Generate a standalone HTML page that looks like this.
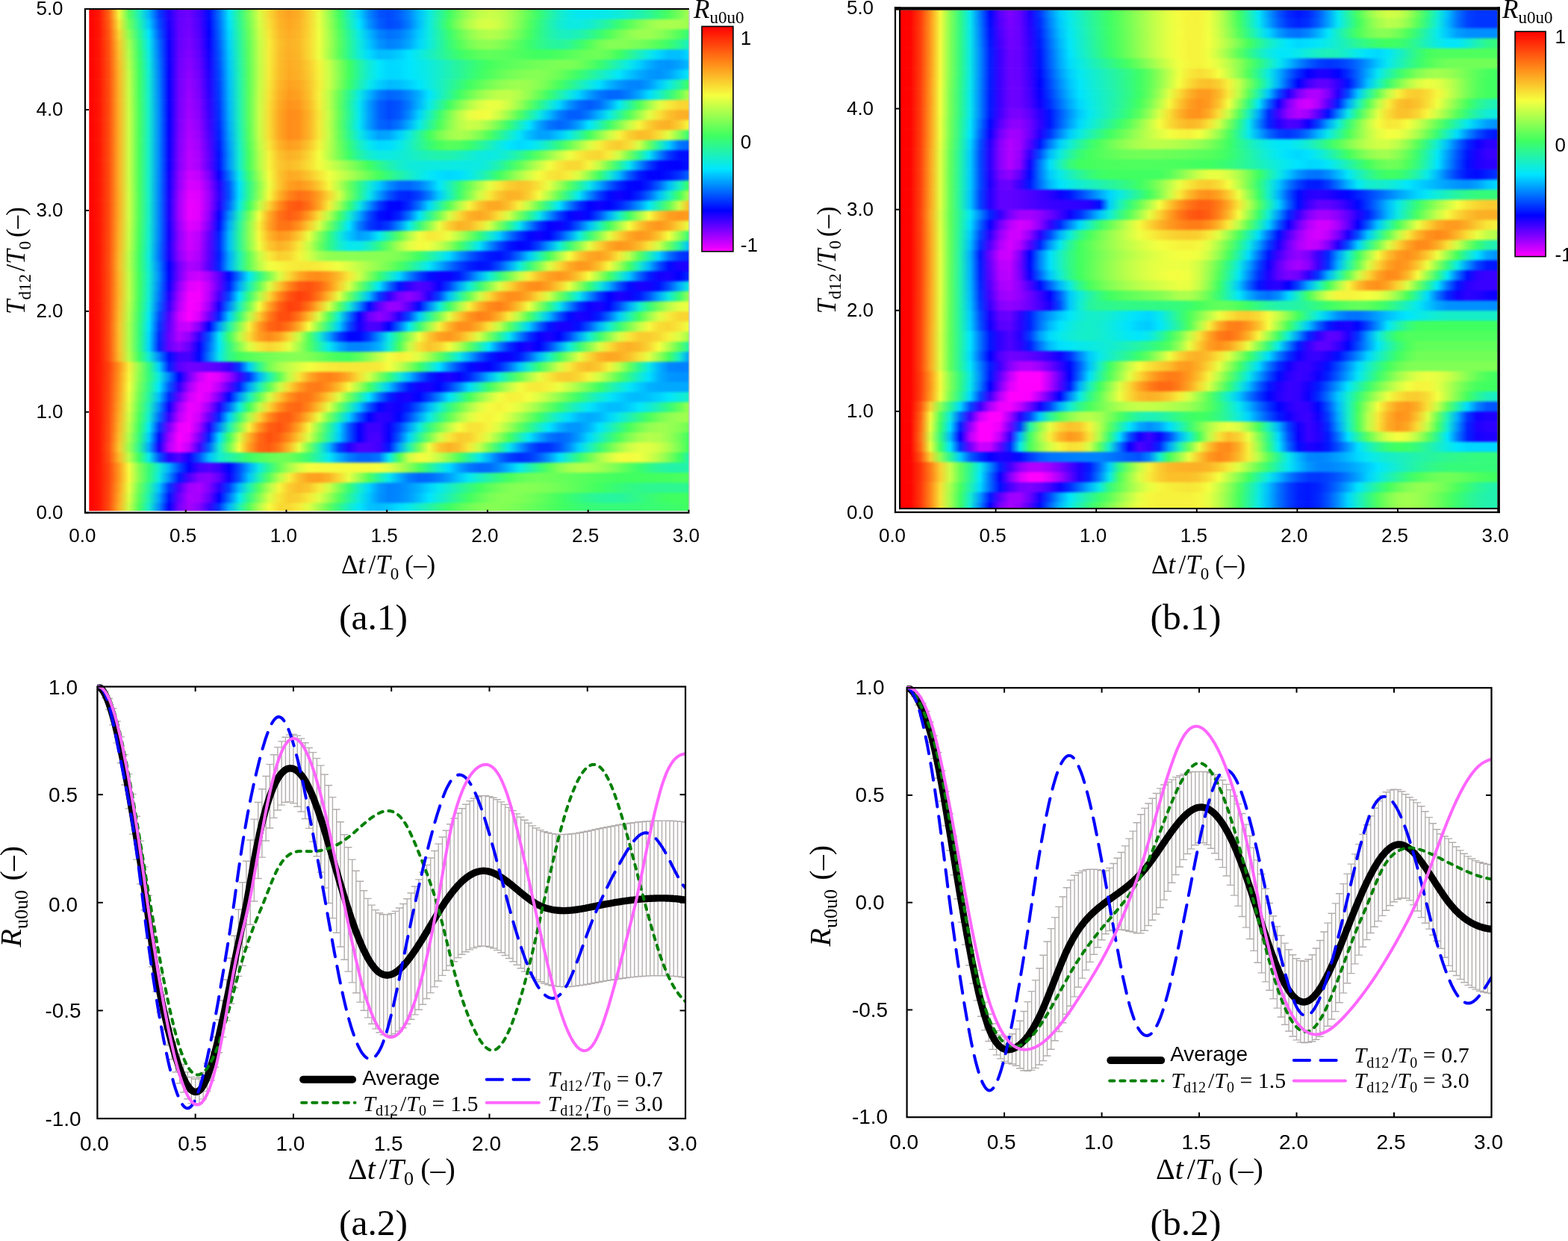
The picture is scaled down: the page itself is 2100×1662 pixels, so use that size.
<!DOCTYPE html>
<html lang="en"><head><meta charset="utf-8"><title>Autocorrelation maps</title>
<style>html,body{margin:0;padding:0;background:#fff;overflow:hidden}svg{display:block}text{fill:#000}</style></head>
<body>
<svg width="2100" height="1662" viewBox="0 0 2100 1662" role="img" aria-label="Autocorrelation maps and curves">
<defs>
<clipPath id="ca"><rect x="119.3" y="13" width="803.3000000000001" height="671.3"/></clipPath>
<filter id="fa" x="-5%" y="-5%" width="110%" height="110%" color-interpolation-filters="sRGB"><feGaussianBlur stdDeviation="0 1.8"/></filter>
<linearGradient id="a0" gradientUnits="userSpaceOnUse" x1="119.3" x2="922.6"><stop offset="0" stop-color="#ff0000"/><stop offset="0.01667" stop-color="#ff1604"/><stop offset="0.03333" stop-color="#ff4e0e"/><stop offset="0.05" stop-color="#fcb125"/><stop offset="0.06667" stop-color="#caff48"/><stop offset="0.08333" stop-color="#4aff5e"/><stop offset="0.1" stop-color="#15edcb"/><stop offset="0.1167" stop-color="#008aff"/><stop offset="0.1333" stop-color="#0300ff"/><stop offset="0.15" stop-color="#7700ff"/><stop offset="0.1667" stop-color="#a400ff"/><stop offset="0.1833" stop-color="#8800ff"/><stop offset="0.2" stop-color="#3900ff"/><stop offset="0.2167" stop-color="#0034ff"/><stop offset="0.2333" stop-color="#00b0ff"/><stop offset="0.25" stop-color="#1bf0bb"/><stop offset="0.2667" stop-color="#52ff5d"/><stop offset="0.2833" stop-color="#b0ff4c"/><stop offset="0.3" stop-color="#f5fc3f"/><stop offset="0.3167" stop-color="#f8da33"/><stop offset="0.3333" stop-color="#f9d833"/><stop offset="0.35" stop-color="#f7ec3a"/><stop offset="0.3667" stop-color="#deff44"/><stop offset="0.3833" stop-color="#a2ff4f"/><stop offset="0.4" stop-color="#5fff5a"/><stop offset="0.4167" stop-color="#31f986"/><stop offset="0.4333" stop-color="#17eec7"/><stop offset="0.45" stop-color="#02e6fb"/><stop offset="0.4667" stop-color="#00c3ff"/><stop offset="0.4833" stop-color="#00bbff"/><stop offset="0.5" stop-color="#00c6ff"/><stop offset="0.5167" stop-color="#00dcff"/><stop offset="0.5333" stop-color="#07e8ed"/><stop offset="0.55" stop-color="#14edcd"/><stop offset="0.5667" stop-color="#22f3ab"/><stop offset="0.5833" stop-color="#30f988"/><stop offset="0.6" stop-color="#3efe66"/><stop offset="0.6167" stop-color="#58ff5c"/><stop offset="0.6333" stop-color="#6fff58"/><stop offset="0.65" stop-color="#7fff55"/><stop offset="0.6667" stop-color="#86ff54"/><stop offset="0.6833" stop-color="#84ff54"/><stop offset="0.7" stop-color="#7eff55"/><stop offset="0.7167" stop-color="#75ff57"/><stop offset="0.7333" stop-color="#69ff59"/><stop offset="0.75" stop-color="#5dff5b"/><stop offset="0.7667" stop-color="#50ff5d"/><stop offset="0.7833" stop-color="#43ff5f"/><stop offset="0.8" stop-color="#3dfe68"/><stop offset="0.8167" stop-color="#39fc71"/><stop offset="0.8333" stop-color="#37fb77"/><stop offset="0.85" stop-color="#36fb79"/><stop offset="0.8667" stop-color="#36fb79"/><stop offset="0.8833" stop-color="#36fb78"/><stop offset="0.9" stop-color="#36fb78"/><stop offset="0.9167" stop-color="#37fb76"/><stop offset="0.9333" stop-color="#38fc74"/><stop offset="0.95" stop-color="#39fc71"/><stop offset="0.9667" stop-color="#3bfd6d"/><stop offset="0.9833" stop-color="#3dfe68"/><stop offset="1" stop-color="#40ff61"/></linearGradient>
<linearGradient id="a1" gradientUnits="userSpaceOnUse" x1="119.3" x2="922.6"><stop offset="0" stop-color="#ff0000"/><stop offset="0.01667" stop-color="#ff1604"/><stop offset="0.03333" stop-color="#ff4b0e"/><stop offset="0.05" stop-color="#fda923"/><stop offset="0.06667" stop-color="#d9ff45"/><stop offset="0.08333" stop-color="#5bff5b"/><stop offset="0.1" stop-color="#1df1b6"/><stop offset="0.1167" stop-color="#00a5ff"/><stop offset="0.1333" stop-color="#0015ff"/><stop offset="0.15" stop-color="#6800ff"/><stop offset="0.1667" stop-color="#ac00ff"/><stop offset="0.1833" stop-color="#a400ff"/><stop offset="0.2" stop-color="#6700ff"/><stop offset="0.2167" stop-color="#0300ff"/><stop offset="0.2333" stop-color="#0070ff"/><stop offset="0.25" stop-color="#04e7f5"/><stop offset="0.2667" stop-color="#31f986"/><stop offset="0.2833" stop-color="#80ff55"/><stop offset="0.3" stop-color="#d7ff45"/><stop offset="0.3167" stop-color="#f7e537"/><stop offset="0.3333" stop-color="#facb2e"/><stop offset="0.35" stop-color="#f9d030"/><stop offset="0.3667" stop-color="#f7e938"/><stop offset="0.3833" stop-color="#deff44"/><stop offset="0.4" stop-color="#9dff50"/><stop offset="0.4167" stop-color="#55ff5c"/><stop offset="0.4333" stop-color="#2af696"/><stop offset="0.45" stop-color="#0eeadd"/><stop offset="0.4667" stop-color="#00c6ff"/><stop offset="0.4833" stop-color="#0095ff"/><stop offset="0.5" stop-color="#0081ff"/><stop offset="0.5167" stop-color="#0088ff"/><stop offset="0.5333" stop-color="#009cff"/><stop offset="0.55" stop-color="#00bdff"/><stop offset="0.5667" stop-color="#00e5ff"/><stop offset="0.5833" stop-color="#10ebd8"/><stop offset="0.6" stop-color="#20f2af"/><stop offset="0.6167" stop-color="#30f987"/><stop offset="0.6333" stop-color="#40ff61"/><stop offset="0.65" stop-color="#5eff5b"/><stop offset="0.6667" stop-color="#76ff57"/><stop offset="0.6833" stop-color="#83ff54"/><stop offset="0.7" stop-color="#85ff54"/><stop offset="0.7167" stop-color="#80ff55"/><stop offset="0.7333" stop-color="#75ff57"/><stop offset="0.75" stop-color="#67ff59"/><stop offset="0.7667" stop-color="#56ff5c"/><stop offset="0.7833" stop-color="#44ff5f"/><stop offset="0.8" stop-color="#3afd6f"/><stop offset="0.8167" stop-color="#33fa80"/><stop offset="0.8333" stop-color="#2df78f"/><stop offset="0.85" stop-color="#29f69a"/><stop offset="0.8667" stop-color="#27f59f"/><stop offset="0.8833" stop-color="#27f59e"/><stop offset="0.9" stop-color="#2bf694"/><stop offset="0.9167" stop-color="#31f986"/><stop offset="0.9333" stop-color="#37fb77"/><stop offset="0.95" stop-color="#3cfd6a"/><stop offset="0.9667" stop-color="#3fff61"/><stop offset="0.9833" stop-color="#40ff60"/><stop offset="1" stop-color="#40ff60"/></linearGradient>
<linearGradient id="a2" gradientUnits="userSpaceOnUse" x1="119.3" x2="922.6"><stop offset="0" stop-color="#ff0000"/><stop offset="0.01667" stop-color="#ff1604"/><stop offset="0.03333" stop-color="#ff490d"/><stop offset="0.05" stop-color="#fda220"/><stop offset="0.06667" stop-color="#e7ff42"/><stop offset="0.08333" stop-color="#6bff58"/><stop offset="0.1" stop-color="#26f4a1"/><stop offset="0.1167" stop-color="#00c4ff"/><stop offset="0.1333" stop-color="#0035ff"/><stop offset="0.15" stop-color="#4c00ff"/><stop offset="0.1667" stop-color="#a000ff"/><stop offset="0.1833" stop-color="#ad00ff"/><stop offset="0.2" stop-color="#8100ff"/><stop offset="0.2167" stop-color="#2d00ff"/><stop offset="0.2333" stop-color="#003fff"/><stop offset="0.25" stop-color="#00b8ff"/><stop offset="0.2667" stop-color="#1cf1b8"/><stop offset="0.2833" stop-color="#53ff5d"/><stop offset="0.3" stop-color="#b1ff4c"/><stop offset="0.3167" stop-color="#f6f73d"/><stop offset="0.3333" stop-color="#facc2f"/><stop offset="0.35" stop-color="#fbbb29"/><stop offset="0.3667" stop-color="#fac72d"/><stop offset="0.3833" stop-color="#f7ea39"/><stop offset="0.4" stop-color="#ceff47"/><stop offset="0.4167" stop-color="#80ff55"/><stop offset="0.4333" stop-color="#38fc74"/><stop offset="0.45" stop-color="#17eec6"/><stop offset="0.4667" stop-color="#00d5ff"/><stop offset="0.4833" stop-color="#009aff"/><stop offset="0.5" stop-color="#0081ff"/><stop offset="0.5167" stop-color="#0086ff"/><stop offset="0.5333" stop-color="#0097ff"/><stop offset="0.55" stop-color="#00b1ff"/><stop offset="0.5667" stop-color="#00d2ff"/><stop offset="0.5833" stop-color="#06e8ef"/><stop offset="0.6" stop-color="#15edcc"/><stop offset="0.6167" stop-color="#23f3a7"/><stop offset="0.6333" stop-color="#32f984"/><stop offset="0.65" stop-color="#3fff63"/><stop offset="0.6667" stop-color="#59ff5b"/><stop offset="0.6833" stop-color="#70ff58"/><stop offset="0.7" stop-color="#7fff55"/><stop offset="0.7167" stop-color="#86ff54"/><stop offset="0.7333" stop-color="#84ff54"/><stop offset="0.75" stop-color="#80ff55"/><stop offset="0.7667" stop-color="#79ff56"/><stop offset="0.7833" stop-color="#6fff58"/><stop offset="0.8" stop-color="#65ff5a"/><stop offset="0.8167" stop-color="#59ff5c"/><stop offset="0.8333" stop-color="#4cff5e"/><stop offset="0.85" stop-color="#40ff61"/><stop offset="0.8667" stop-color="#3bfd6d"/><stop offset="0.8833" stop-color="#36fb79"/><stop offset="0.9" stop-color="#32f983"/><stop offset="0.9167" stop-color="#2ff88a"/><stop offset="0.9333" stop-color="#2df78f"/><stop offset="0.95" stop-color="#2cf791"/><stop offset="0.9667" stop-color="#2cf791"/><stop offset="0.9833" stop-color="#2cf791"/><stop offset="1" stop-color="#2cf791"/></linearGradient>
<linearGradient id="a3" gradientUnits="userSpaceOnUse" x1="119.3" x2="922.6"><stop offset="0" stop-color="#ff0000"/><stop offset="0.01667" stop-color="#ff1704"/><stop offset="0.03333" stop-color="#ff460d"/><stop offset="0.05" stop-color="#fe991d"/><stop offset="0.06667" stop-color="#f6f93e"/><stop offset="0.08333" stop-color="#87ff53"/><stop offset="0.1" stop-color="#35fb7b"/><stop offset="0.1167" stop-color="#0ceae1"/><stop offset="0.1333" stop-color="#008cff"/><stop offset="0.15" stop-color="#0019ff"/><stop offset="0.1667" stop-color="#4b00ff"/><stop offset="0.1833" stop-color="#8700ff"/><stop offset="0.2" stop-color="#8c00ff"/><stop offset="0.2167" stop-color="#6000ff"/><stop offset="0.2333" stop-color="#1000ff"/><stop offset="0.25" stop-color="#0053ff"/><stop offset="0.2667" stop-color="#00c5ff"/><stop offset="0.2833" stop-color="#1ff2b1"/><stop offset="0.3" stop-color="#56ff5c"/><stop offset="0.3167" stop-color="#b5ff4b"/><stop offset="0.3333" stop-color="#f6f13b"/><stop offset="0.35" stop-color="#fbbf2a"/><stop offset="0.3667" stop-color="#fda220"/><stop offset="0.3833" stop-color="#fe9f1f"/><stop offset="0.4" stop-color="#fcb226"/><stop offset="0.4167" stop-color="#f9d833"/><stop offset="0.4333" stop-color="#e7ff43"/><stop offset="0.45" stop-color="#9dff50"/><stop offset="0.4667" stop-color="#4eff5e"/><stop offset="0.4833" stop-color="#25f4a3"/><stop offset="0.5" stop-color="#07e8ee"/><stop offset="0.5167" stop-color="#00afff"/><stop offset="0.5333" stop-color="#007bff"/><stop offset="0.55" stop-color="#0065ff"/><stop offset="0.5667" stop-color="#006aff"/><stop offset="0.5833" stop-color="#007eff"/><stop offset="0.6" stop-color="#009dff"/><stop offset="0.6167" stop-color="#00c5ff"/><stop offset="0.6333" stop-color="#05e7f3"/><stop offset="0.65" stop-color="#15eeca"/><stop offset="0.6667" stop-color="#26f4a2"/><stop offset="0.6833" stop-color="#35fa7c"/><stop offset="0.7" stop-color="#45ff5f"/><stop offset="0.7167" stop-color="#5dff5b"/><stop offset="0.7333" stop-color="#6bff58"/><stop offset="0.75" stop-color="#6eff58"/><stop offset="0.7667" stop-color="#6cff58"/><stop offset="0.7833" stop-color="#67ff59"/><stop offset="0.8" stop-color="#61ff5a"/><stop offset="0.8167" stop-color="#59ff5c"/><stop offset="0.8333" stop-color="#52ff5d"/><stop offset="0.85" stop-color="#4bff5e"/><stop offset="0.8667" stop-color="#45ff5f"/><stop offset="0.8833" stop-color="#41ff60"/><stop offset="0.9" stop-color="#40ff60"/><stop offset="0.9167" stop-color="#40ff60"/><stop offset="0.9333" stop-color="#41ff60"/><stop offset="0.95" stop-color="#43ff60"/><stop offset="0.9667" stop-color="#45ff5f"/><stop offset="0.9833" stop-color="#49ff5e"/><stop offset="1" stop-color="#4eff5e"/></linearGradient>
<linearGradient id="a4" gradientUnits="userSpaceOnUse" x1="119.3" x2="922.6"><stop offset="0" stop-color="#ff0000"/><stop offset="0.01667" stop-color="#ff1704"/><stop offset="0.03333" stop-color="#ff470d"/><stop offset="0.05" stop-color="#fe9b1e"/><stop offset="0.06667" stop-color="#f5fd3f"/><stop offset="0.08333" stop-color="#83ff54"/><stop offset="0.1" stop-color="#36fb78"/><stop offset="0.1167" stop-color="#12ecd2"/><stop offset="0.1333" stop-color="#00b0ff"/><stop offset="0.15" stop-color="#004dff"/><stop offset="0.1667" stop-color="#0400ff"/><stop offset="0.1833" stop-color="#3f00ff"/><stop offset="0.2" stop-color="#5000ff"/><stop offset="0.2167" stop-color="#3700ff"/><stop offset="0.2333" stop-color="#0002ff"/><stop offset="0.25" stop-color="#004cff"/><stop offset="0.2667" stop-color="#00a6ff"/><stop offset="0.2833" stop-color="#0ceae1"/><stop offset="0.3" stop-color="#2ef88d"/><stop offset="0.3167" stop-color="#62ff5a"/><stop offset="0.3333" stop-color="#a4ff4e"/><stop offset="0.35" stop-color="#d7ff45"/><stop offset="0.3667" stop-color="#f5ff40"/><stop offset="0.3833" stop-color="#f5fb3f"/><stop offset="0.4" stop-color="#f5fb3f"/><stop offset="0.4167" stop-color="#f5fb3f"/><stop offset="0.4333" stop-color="#f5fb3f"/><stop offset="0.45" stop-color="#f5fb3f"/><stop offset="0.4667" stop-color="#f5fb3f"/><stop offset="0.4833" stop-color="#f5fe40"/><stop offset="0.5" stop-color="#e1ff44"/><stop offset="0.5167" stop-color="#bbff4a"/><stop offset="0.5333" stop-color="#89ff53"/><stop offset="0.55" stop-color="#50ff5d"/><stop offset="0.5667" stop-color="#2df78e"/><stop offset="0.5833" stop-color="#14edcd"/><stop offset="0.6" stop-color="#00dcff"/><stop offset="0.6167" stop-color="#00a3ff"/><stop offset="0.6333" stop-color="#007aff"/><stop offset="0.65" stop-color="#0066ff"/><stop offset="0.6667" stop-color="#006bff"/><stop offset="0.6833" stop-color="#0088ff"/><stop offset="0.7" stop-color="#00b7ff"/><stop offset="0.7167" stop-color="#05e7f3"/><stop offset="0.7333" stop-color="#1cf0ba"/><stop offset="0.75" stop-color="#33fa80"/><stop offset="0.7667" stop-color="#56ff5c"/><stop offset="0.7833" stop-color="#83ff54"/><stop offset="0.8" stop-color="#a4ff4e"/><stop offset="0.8167" stop-color="#b4ff4c"/><stop offset="0.8333" stop-color="#b1ff4c"/><stop offset="0.85" stop-color="#a3ff4e"/><stop offset="0.8667" stop-color="#8dff52"/><stop offset="0.8833" stop-color="#72ff57"/><stop offset="0.9" stop-color="#54ff5d"/><stop offset="0.9167" stop-color="#3cfd6b"/><stop offset="0.9333" stop-color="#31f986"/><stop offset="0.95" stop-color="#28f59c"/><stop offset="0.9667" stop-color="#23f3a8"/><stop offset="0.9833" stop-color="#22f3a9"/><stop offset="1" stop-color="#22f3a9"/></linearGradient>
<linearGradient id="a5" gradientUnits="userSpaceOnUse" x1="119.3" x2="922.6"><stop offset="0" stop-color="#ff0000"/><stop offset="0.01667" stop-color="#ff1604"/><stop offset="0.03333" stop-color="#ff500e"/><stop offset="0.05" stop-color="#fbb727"/><stop offset="0.06667" stop-color="#bcff4a"/><stop offset="0.08333" stop-color="#3dfe66"/><stop offset="0.1" stop-color="#07e8ed"/><stop offset="0.1167" stop-color="#0056ff"/><stop offset="0.1333" stop-color="#2900ff"/><stop offset="0.15" stop-color="#4e00ff"/><stop offset="0.1667" stop-color="#1400ff"/><stop offset="0.1833" stop-color="#0050ff"/><stop offset="0.2" stop-color="#00bfff"/><stop offset="0.2167" stop-color="#11ecd4"/><stop offset="0.2333" stop-color="#21f3ac"/><stop offset="0.25" stop-color="#2ff889"/><stop offset="0.2667" stop-color="#3cfd6a"/><stop offset="0.2833" stop-color="#50ff5d"/><stop offset="0.3" stop-color="#63ff5a"/><stop offset="0.3167" stop-color="#6dff58"/><stop offset="0.3333" stop-color="#6bff58"/><stop offset="0.35" stop-color="#51ff5d"/><stop offset="0.3667" stop-color="#34fa7d"/><stop offset="0.3833" stop-color="#1df1b7"/><stop offset="0.4" stop-color="#04e7f4"/><stop offset="0.4167" stop-color="#00afff"/><stop offset="0.4333" stop-color="#007dff"/><stop offset="0.45" stop-color="#0065ff"/><stop offset="0.4667" stop-color="#0064ff"/><stop offset="0.4833" stop-color="#0075ff"/><stop offset="0.5" stop-color="#05e7f2"/><stop offset="0.5167" stop-color="#4aff5e"/><stop offset="0.5333" stop-color="#cdff47"/><stop offset="0.55" stop-color="#f5fb3f"/><stop offset="0.5667" stop-color="#eaff42"/><stop offset="0.5833" stop-color="#c3ff49"/><stop offset="0.6" stop-color="#8dff52"/><stop offset="0.6167" stop-color="#4cff5e"/><stop offset="0.6333" stop-color="#27f59d"/><stop offset="0.65" stop-color="#0ae9e7"/><stop offset="0.6667" stop-color="#00b1ff"/><stop offset="0.6833" stop-color="#006eff"/><stop offset="0.7" stop-color="#003fff"/><stop offset="0.7167" stop-color="#002bff"/><stop offset="0.7333" stop-color="#0036ff"/><stop offset="0.75" stop-color="#005bff"/><stop offset="0.7667" stop-color="#0094ff"/><stop offset="0.7833" stop-color="#00dcff"/><stop offset="0.8" stop-color="#19efc2"/><stop offset="0.8167" stop-color="#35fb7b"/><stop offset="0.8333" stop-color="#68ff59"/><stop offset="0.85" stop-color="#a3ff4e"/><stop offset="0.8667" stop-color="#d2ff46"/><stop offset="0.8833" stop-color="#f1ff41"/><stop offset="0.9" stop-color="#f5fb3f"/><stop offset="0.9167" stop-color="#f0ff41"/><stop offset="0.9333" stop-color="#d7ff45"/><stop offset="0.95" stop-color="#b1ff4c"/><stop offset="0.9667" stop-color="#7eff55"/><stop offset="0.9833" stop-color="#41ff60"/><stop offset="1" stop-color="#23f3a7"/></linearGradient>
<linearGradient id="a6" gradientUnits="userSpaceOnUse" x1="119.3" x2="922.6"><stop offset="0" stop-color="#ff0000"/><stop offset="0.01667" stop-color="#ff1604"/><stop offset="0.03333" stop-color="#ff550f"/><stop offset="0.05" stop-color="#fac82d"/><stop offset="0.06667" stop-color="#9aff50"/><stop offset="0.08333" stop-color="#2cf792"/><stop offset="0.1" stop-color="#00a9ff"/><stop offset="0.1167" stop-color="#1600ff"/><stop offset="0.1333" stop-color="#b700ff"/><stop offset="0.15" stop-color="#f100ff"/><stop offset="0.1667" stop-color="#bf00ff"/><stop offset="0.1833" stop-color="#4300ff"/><stop offset="0.2" stop-color="#0060ff"/><stop offset="0.2167" stop-color="#11ecd5"/><stop offset="0.2333" stop-color="#6aff59"/><stop offset="0.25" stop-color="#f5fd3f"/><stop offset="0.2667" stop-color="#fea020"/><stop offset="0.2833" stop-color="#ff6512"/><stop offset="0.3" stop-color="#ff5a10"/><stop offset="0.3167" stop-color="#ff7916"/><stop offset="0.3333" stop-color="#fcb727"/><stop offset="0.35" stop-color="#e9ff42"/><stop offset="0.3667" stop-color="#73ff57"/><stop offset="0.3833" stop-color="#22f3ac"/><stop offset="0.4" stop-color="#00b7ff"/><stop offset="0.4167" stop-color="#003cff"/><stop offset="0.4333" stop-color="#2100ff"/><stop offset="0.45" stop-color="#4f00ff"/><stop offset="0.4667" stop-color="#5100ff"/><stop offset="0.4833" stop-color="#4000ff"/><stop offset="0.5" stop-color="#0019ff"/><stop offset="0.5167" stop-color="#009eff"/><stop offset="0.5333" stop-color="#1ef1b4"/><stop offset="0.55" stop-color="#75ff57"/><stop offset="0.5667" stop-color="#eaff42"/><stop offset="0.5833" stop-color="#fac62d"/><stop offset="0.6" stop-color="#fcb025"/><stop offset="0.6167" stop-color="#fbc02b"/><stop offset="0.6333" stop-color="#f7e938"/><stop offset="0.65" stop-color="#c8ff48"/><stop offset="0.6667" stop-color="#72ff57"/><stop offset="0.6833" stop-color="#2ff88b"/><stop offset="0.7" stop-color="#09e9e8"/><stop offset="0.7167" stop-color="#00a0ff"/><stop offset="0.7333" stop-color="#0057ff"/><stop offset="0.75" stop-color="#002fff"/><stop offset="0.7667" stop-color="#0030ff"/><stop offset="0.7833" stop-color="#0050ff"/><stop offset="0.8" stop-color="#0089ff"/><stop offset="0.8167" stop-color="#00d2ff"/><stop offset="0.8333" stop-color="#16eec9"/><stop offset="0.85" stop-color="#33fa80"/><stop offset="0.8667" stop-color="#64ff5a"/><stop offset="0.8833" stop-color="#9eff4f"/><stop offset="0.9" stop-color="#c9ff48"/><stop offset="0.9167" stop-color="#e1ff44"/><stop offset="0.9333" stop-color="#e0ff44"/><stop offset="0.95" stop-color="#cdff47"/><stop offset="0.9667" stop-color="#aaff4d"/><stop offset="0.9833" stop-color="#7bff56"/><stop offset="1" stop-color="#41ff60"/></linearGradient>
<linearGradient id="a7" gradientUnits="userSpaceOnUse" x1="119.3" x2="922.6"><stop offset="0" stop-color="#ff0000"/><stop offset="0.01667" stop-color="#ff1604"/><stop offset="0.03333" stop-color="#ff510f"/><stop offset="0.05" stop-color="#fbbe2a"/><stop offset="0.06667" stop-color="#adff4d"/><stop offset="0.08333" stop-color="#35fb7b"/><stop offset="0.1" stop-color="#00ccff"/><stop offset="0.1167" stop-color="#000fff"/><stop offset="0.1333" stop-color="#9f00ff"/><stop offset="0.15" stop-color="#fa00ff"/><stop offset="0.1667" stop-color="#e400ff"/><stop offset="0.1833" stop-color="#7a00ff"/><stop offset="0.2" stop-color="#0026ff"/><stop offset="0.2167" stop-color="#00dbff"/><stop offset="0.2333" stop-color="#3efe64"/><stop offset="0.25" stop-color="#d3ff46"/><stop offset="0.2667" stop-color="#fcb426"/><stop offset="0.2833" stop-color="#ff6c13"/><stop offset="0.3" stop-color="#ff500e"/><stop offset="0.3167" stop-color="#ff6011"/><stop offset="0.3333" stop-color="#ff8c19"/><stop offset="0.35" stop-color="#facb2e"/><stop offset="0.3667" stop-color="#d6ff46"/><stop offset="0.3833" stop-color="#6aff58"/><stop offset="0.4" stop-color="#24f3a7"/><stop offset="0.4167" stop-color="#00ccff"/><stop offset="0.4333" stop-color="#0059ff"/><stop offset="0.45" stop-color="#0100ff"/><stop offset="0.4667" stop-color="#4400ff"/><stop offset="0.4833" stop-color="#4500ff"/><stop offset="0.5" stop-color="#0500ff"/><stop offset="0.5167" stop-color="#005bff"/><stop offset="0.5333" stop-color="#00d4ff"/><stop offset="0.55" stop-color="#27f59e"/><stop offset="0.5667" stop-color="#6fff58"/><stop offset="0.5833" stop-color="#ccff47"/><stop offset="0.6" stop-color="#f7e838"/><stop offset="0.6167" stop-color="#facc2e"/><stop offset="0.6333" stop-color="#f9d030"/><stop offset="0.65" stop-color="#f7eb39"/><stop offset="0.6667" stop-color="#d8ff45"/><stop offset="0.6833" stop-color="#93ff51"/><stop offset="0.7" stop-color="#46ff5f"/><stop offset="0.7167" stop-color="#22f3aa"/><stop offset="0.7333" stop-color="#04e7f5"/><stop offset="0.75" stop-color="#00a8ff"/><stop offset="0.7667" stop-color="#0076ff"/><stop offset="0.7833" stop-color="#0064ff"/><stop offset="0.8" stop-color="#0074ff"/><stop offset="0.8167" stop-color="#009dff"/><stop offset="0.8333" stop-color="#00d8ff"/><stop offset="0.85" stop-color="#14edce"/><stop offset="0.8667" stop-color="#2df78f"/><stop offset="0.8833" stop-color="#4dff5e"/><stop offset="0.9" stop-color="#7fff55"/><stop offset="0.9167" stop-color="#a3ff4e"/><stop offset="0.9333" stop-color="#b4ff4c"/><stop offset="0.95" stop-color="#aeff4d"/><stop offset="0.9667" stop-color="#96ff51"/><stop offset="0.9833" stop-color="#71ff57"/><stop offset="1" stop-color="#41ff60"/></linearGradient>
<linearGradient id="a8" gradientUnits="userSpaceOnUse" x1="119.3" x2="922.6"><stop offset="0" stop-color="#ff0000"/><stop offset="0.01667" stop-color="#ff1604"/><stop offset="0.03333" stop-color="#ff4f0e"/><stop offset="0.05" stop-color="#fcb527"/><stop offset="0.06667" stop-color="#bfff4a"/><stop offset="0.08333" stop-color="#3dfe67"/><stop offset="0.1" stop-color="#04e7f5"/><stop offset="0.1167" stop-color="#0038ff"/><stop offset="0.1333" stop-color="#7800ff"/><stop offset="0.15" stop-color="#eb00ff"/><stop offset="0.1667" stop-color="#f600ff"/><stop offset="0.1833" stop-color="#aa00ff"/><stop offset="0.2" stop-color="#2200ff"/><stop offset="0.2167" stop-color="#0082ff"/><stop offset="0.2333" stop-color="#1bf0bb"/><stop offset="0.25" stop-color="#7dff55"/><stop offset="0.2667" stop-color="#f6f23b"/><stop offset="0.2833" stop-color="#fe991d"/><stop offset="0.3" stop-color="#ff5f11"/><stop offset="0.3167" stop-color="#ff510f"/><stop offset="0.3333" stop-color="#ff6d14"/><stop offset="0.35" stop-color="#fda822"/><stop offset="0.3667" stop-color="#f6f73d"/><stop offset="0.3833" stop-color="#8bff53"/><stop offset="0.4" stop-color="#2df790"/><stop offset="0.4167" stop-color="#00d7ff"/><stop offset="0.4333" stop-color="#0059ff"/><stop offset="0.45" stop-color="#0600ff"/><stop offset="0.4667" stop-color="#3e00ff"/><stop offset="0.4833" stop-color="#3b00ff"/><stop offset="0.5" stop-color="#0c00ff"/><stop offset="0.5167" stop-color="#003eff"/><stop offset="0.5333" stop-color="#009bff"/><stop offset="0.55" stop-color="#0be9e4"/><stop offset="0.5667" stop-color="#31f986"/><stop offset="0.5833" stop-color="#71ff57"/><stop offset="0.6" stop-color="#bcff4a"/><stop offset="0.6167" stop-color="#f5fe40"/><stop offset="0.6333" stop-color="#f7e437"/><stop offset="0.65" stop-color="#f8e336"/><stop offset="0.6667" stop-color="#f6f53d"/><stop offset="0.6833" stop-color="#d8ff45"/><stop offset="0.7" stop-color="#a1ff4f"/><stop offset="0.7167" stop-color="#62ff5a"/><stop offset="0.7333" stop-color="#33fa81"/><stop offset="0.75" stop-color="#18efc3"/><stop offset="0.7667" stop-color="#01e5fd"/><stop offset="0.7833" stop-color="#00b4ff"/><stop offset="0.8" stop-color="#0096ff"/><stop offset="0.8167" stop-color="#0096ff"/><stop offset="0.8333" stop-color="#00b2ff"/><stop offset="0.85" stop-color="#00e3ff"/><stop offset="0.8667" stop-color="#14edcc"/><stop offset="0.8833" stop-color="#2cf793"/><stop offset="0.9" stop-color="#45ff5f"/><stop offset="0.9167" stop-color="#72ff57"/><stop offset="0.9333" stop-color="#92ff52"/><stop offset="0.95" stop-color="#9dff50"/><stop offset="0.9667" stop-color="#97ff51"/><stop offset="0.9833" stop-color="#88ff53"/><stop offset="1" stop-color="#6fff58"/></linearGradient>
<linearGradient id="a9" gradientUnits="userSpaceOnUse" x1="119.3" x2="922.6"><stop offset="0" stop-color="#ff0000"/><stop offset="0.01667" stop-color="#ff1604"/><stop offset="0.03333" stop-color="#ff4d0e"/><stop offset="0.05" stop-color="#fcae24"/><stop offset="0.06667" stop-color="#cdff47"/><stop offset="0.08333" stop-color="#4bff5e"/><stop offset="0.1" stop-color="#11ecd4"/><stop offset="0.1167" stop-color="#006dff"/><stop offset="0.1333" stop-color="#3800ff"/><stop offset="0.15" stop-color="#bd00ff"/><stop offset="0.1667" stop-color="#f100ff"/><stop offset="0.1833" stop-color="#cc00ff"/><stop offset="0.2" stop-color="#6600ff"/><stop offset="0.2167" stop-color="#002bff"/><stop offset="0.2333" stop-color="#00cdff"/><stop offset="0.25" stop-color="#33fa81"/><stop offset="0.2667" stop-color="#abff4d"/><stop offset="0.2833" stop-color="#f9d833"/><stop offset="0.3" stop-color="#ff8c19"/><stop offset="0.3167" stop-color="#ff5f11"/><stop offset="0.3333" stop-color="#ff5c11"/><stop offset="0.35" stop-color="#ff7e17"/><stop offset="0.3667" stop-color="#fbba28"/><stop offset="0.3833" stop-color="#e8ff42"/><stop offset="0.4" stop-color="#78ff56"/><stop offset="0.4167" stop-color="#27f59e"/><stop offset="0.4333" stop-color="#00cfff"/><stop offset="0.45" stop-color="#005aff"/><stop offset="0.4667" stop-color="#0003ff"/><stop offset="0.4833" stop-color="#2d00ff"/><stop offset="0.5" stop-color="#2700ff"/><stop offset="0.5167" stop-color="#0005ff"/><stop offset="0.5333" stop-color="#0047ff"/><stop offset="0.55" stop-color="#009cff"/><stop offset="0.5667" stop-color="#08e8eb"/><stop offset="0.5833" stop-color="#2af696"/><stop offset="0.6" stop-color="#5bff5b"/><stop offset="0.6167" stop-color="#a1ff4f"/><stop offset="0.6333" stop-color="#d9ff45"/><stop offset="0.65" stop-color="#f5fa3e"/><stop offset="0.6667" stop-color="#f6f43c"/><stop offset="0.6833" stop-color="#f4ff40"/><stop offset="0.7" stop-color="#d4ff46"/><stop offset="0.7167" stop-color="#a7ff4e"/><stop offset="0.7333" stop-color="#71ff57"/><stop offset="0.75" stop-color="#3dfe68"/><stop offset="0.7667" stop-color="#25f4a4"/><stop offset="0.7833" stop-color="#0febda"/><stop offset="0.8" stop-color="#00dcff"/><stop offset="0.8167" stop-color="#00b7ff"/><stop offset="0.8333" stop-color="#00a9ff"/><stop offset="0.85" stop-color="#00b4ff"/><stop offset="0.8667" stop-color="#00d3ff"/><stop offset="0.8833" stop-color="#0ae9e7"/><stop offset="0.9" stop-color="#1cf0b9"/><stop offset="0.9167" stop-color="#30f987"/><stop offset="0.9333" stop-color="#49ff5e"/><stop offset="0.95" stop-color="#71ff57"/><stop offset="0.9667" stop-color="#8eff52"/><stop offset="0.9833" stop-color="#9cff50"/><stop offset="1" stop-color="#9dff50"/></linearGradient>
<linearGradient id="a10" gradientUnits="userSpaceOnUse" x1="119.3" x2="922.6"><stop offset="0" stop-color="#ff0000"/><stop offset="0.01667" stop-color="#ff1604"/><stop offset="0.03333" stop-color="#ff4b0d"/><stop offset="0.05" stop-color="#fda722"/><stop offset="0.06667" stop-color="#dcff44"/><stop offset="0.08333" stop-color="#5cff5b"/><stop offset="0.1" stop-color="#1bf0bc"/><stop offset="0.1167" stop-color="#0091ff"/><stop offset="0.1333" stop-color="#1000ff"/><stop offset="0.15" stop-color="#a000ff"/><stop offset="0.1667" stop-color="#ec00ff"/><stop offset="0.1833" stop-color="#e200ff"/><stop offset="0.2" stop-color="#9a00ff"/><stop offset="0.2167" stop-color="#2400ff"/><stop offset="0.2333" stop-color="#0067ff"/><stop offset="0.25" stop-color="#09e9e8"/><stop offset="0.2667" stop-color="#3fff61"/><stop offset="0.2833" stop-color="#baff4a"/><stop offset="0.3" stop-color="#f9d732"/><stop offset="0.3167" stop-color="#ff941b"/><stop offset="0.3333" stop-color="#ff6b13"/><stop offset="0.35" stop-color="#ff6612"/><stop offset="0.3667" stop-color="#ff8718"/><stop offset="0.3833" stop-color="#fac22b"/><stop offset="0.4" stop-color="#dfff44"/><stop offset="0.4167" stop-color="#6fff58"/><stop offset="0.4333" stop-color="#23f3a7"/><stop offset="0.45" stop-color="#00c7ff"/><stop offset="0.4667" stop-color="#0056ff"/><stop offset="0.4833" stop-color="#0007ff"/><stop offset="0.5" stop-color="#1d00ff"/><stop offset="0.5167" stop-color="#0e00ff"/><stop offset="0.5333" stop-color="#001fff"/><stop offset="0.55" stop-color="#0061ff"/><stop offset="0.5667" stop-color="#00b4ff"/><stop offset="0.5833" stop-color="#0febdb"/><stop offset="0.6" stop-color="#2ff88a"/><stop offset="0.6167" stop-color="#62ff5a"/><stop offset="0.6333" stop-color="#a4ff4e"/><stop offset="0.65" stop-color="#d9ff45"/><stop offset="0.6667" stop-color="#f5fb3f"/><stop offset="0.6833" stop-color="#f6f33c"/><stop offset="0.7" stop-color="#f5fc3f"/><stop offset="0.7167" stop-color="#e0ff44"/><stop offset="0.7333" stop-color="#bdff4a"/><stop offset="0.75" stop-color="#92ff52"/><stop offset="0.7667" stop-color="#62ff5a"/><stop offset="0.7833" stop-color="#39fc71"/><stop offset="0.8" stop-color="#25f4a3"/><stop offset="0.8167" stop-color="#12ecd1"/><stop offset="0.8333" stop-color="#03e6f8"/><stop offset="0.85" stop-color="#00ccff"/><stop offset="0.8667" stop-color="#00bcff"/><stop offset="0.8833" stop-color="#00bdff"/><stop offset="0.9" stop-color="#00cdff"/><stop offset="0.9167" stop-color="#02e6fb"/><stop offset="0.9333" stop-color="#0febd9"/><stop offset="0.95" stop-color="#21f2ae"/><stop offset="0.9667" stop-color="#35fb7b"/><stop offset="0.9833" stop-color="#5eff5b"/><stop offset="1" stop-color="#9bff50"/></linearGradient>
<linearGradient id="a11" gradientUnits="userSpaceOnUse" x1="119.3" x2="922.6"><stop offset="0" stop-color="#ff0000"/><stop offset="0.01667" stop-color="#ff1604"/><stop offset="0.03333" stop-color="#ff490d"/><stop offset="0.05" stop-color="#fda120"/><stop offset="0.06667" stop-color="#e8ff42"/><stop offset="0.08333" stop-color="#6cff58"/><stop offset="0.1" stop-color="#25f4a3"/><stop offset="0.1167" stop-color="#00beff"/><stop offset="0.1333" stop-color="#0028ff"/><stop offset="0.15" stop-color="#6700ff"/><stop offset="0.1667" stop-color="#ce00ff"/><stop offset="0.1833" stop-color="#f100ff"/><stop offset="0.2" stop-color="#cf00ff"/><stop offset="0.2167" stop-color="#7700ff"/><stop offset="0.2333" stop-color="#0008ff"/><stop offset="0.25" stop-color="#0092ff"/><stop offset="0.2667" stop-color="#17eec5"/><stop offset="0.2833" stop-color="#5cff5b"/><stop offset="0.3" stop-color="#d0ff46"/><stop offset="0.3167" stop-color="#facc2f"/><stop offset="0.3333" stop-color="#ff911a"/><stop offset="0.35" stop-color="#ff7215"/><stop offset="0.3667" stop-color="#ff7515"/><stop offset="0.3833" stop-color="#fe971c"/><stop offset="0.4" stop-color="#f9ce2f"/><stop offset="0.4167" stop-color="#d9ff45"/><stop offset="0.4333" stop-color="#74ff57"/><stop offset="0.45" stop-color="#2af697"/><stop offset="0.4667" stop-color="#00e4ff"/><stop offset="0.4833" stop-color="#0076ff"/><stop offset="0.5" stop-color="#0022ff"/><stop offset="0.5167" stop-color="#1300ff"/><stop offset="0.5333" stop-color="#1a00ff"/><stop offset="0.55" stop-color="#0005ff"/><stop offset="0.5667" stop-color="#003cff"/><stop offset="0.5833" stop-color="#0087ff"/><stop offset="0.6" stop-color="#00e0ff"/><stop offset="0.6167" stop-color="#1ff1b3"/><stop offset="0.6333" stop-color="#3fff62"/><stop offset="0.65" stop-color="#86ff54"/><stop offset="0.6667" stop-color="#c3ff49"/><stop offset="0.6833" stop-color="#efff41"/><stop offset="0.7" stop-color="#f6f13b"/><stop offset="0.7167" stop-color="#f6f23b"/><stop offset="0.7333" stop-color="#f5fe40"/><stop offset="0.75" stop-color="#dbff45"/><stop offset="0.7667" stop-color="#b7ff4b"/><stop offset="0.7833" stop-color="#8dff52"/><stop offset="0.8" stop-color="#5fff5b"/><stop offset="0.8167" stop-color="#39fc71"/><stop offset="0.8333" stop-color="#26f4a1"/><stop offset="0.85" stop-color="#14edcd"/><stop offset="0.8667" stop-color="#05e7f3"/><stop offset="0.8833" stop-color="#00d2ff"/><stop offset="0.9" stop-color="#00beff"/><stop offset="0.9167" stop-color="#00bbff"/><stop offset="0.9333" stop-color="#00c2ff"/><stop offset="0.95" stop-color="#00d2ff"/><stop offset="0.9667" stop-color="#02e6fb"/><stop offset="0.9833" stop-color="#0ceae2"/><stop offset="1" stop-color="#18efc3"/></linearGradient>
<linearGradient id="a12" gradientUnits="userSpaceOnUse" x1="119.3" x2="922.6"><stop offset="0" stop-color="#ff0000"/><stop offset="0.01667" stop-color="#ff1604"/><stop offset="0.03333" stop-color="#ff470d"/><stop offset="0.05" stop-color="#fe9c1e"/><stop offset="0.06667" stop-color="#f4ff40"/><stop offset="0.08333" stop-color="#7aff56"/><stop offset="0.1" stop-color="#2ef88e"/><stop offset="0.1167" stop-color="#00e4ff"/><stop offset="0.1333" stop-color="#0058ff"/><stop offset="0.15" stop-color="#2f00ff"/><stop offset="0.1667" stop-color="#a300ff"/><stop offset="0.1833" stop-color="#e700ff"/><stop offset="0.2" stop-color="#ec00ff"/><stop offset="0.2167" stop-color="#b900ff"/><stop offset="0.2333" stop-color="#5c00ff"/><stop offset="0.25" stop-color="#001eff"/><stop offset="0.2667" stop-color="#00a2ff"/><stop offset="0.2833" stop-color="#1aefbf"/><stop offset="0.3" stop-color="#59ff5c"/><stop offset="0.3167" stop-color="#c6ff48"/><stop offset="0.3333" stop-color="#f8d933"/><stop offset="0.35" stop-color="#fe9f1f"/><stop offset="0.3667" stop-color="#ff7d17"/><stop offset="0.3833" stop-color="#ff7916"/><stop offset="0.4" stop-color="#ff911a"/><stop offset="0.4167" stop-color="#fbbd29"/><stop offset="0.4333" stop-color="#f6f83e"/><stop offset="0.45" stop-color="#a5ff4e"/><stop offset="0.4667" stop-color="#46ff5f"/><stop offset="0.4833" stop-color="#1af0be"/><stop offset="0.5" stop-color="#00c3ff"/><stop offset="0.5167" stop-color="#0063ff"/><stop offset="0.5333" stop-color="#0019ff"/><stop offset="0.55" stop-color="#1400ff"/><stop offset="0.5667" stop-color="#1a00ff"/><stop offset="0.5833" stop-color="#0004ff"/><stop offset="0.6" stop-color="#0039ff"/><stop offset="0.6167" stop-color="#0082ff"/><stop offset="0.6333" stop-color="#00d9ff"/><stop offset="0.65" stop-color="#1cf0ba"/><stop offset="0.6667" stop-color="#3cfd6a"/><stop offset="0.6833" stop-color="#7fff55"/><stop offset="0.7" stop-color="#beff4a"/><stop offset="0.7167" stop-color="#efff41"/><stop offset="0.7333" stop-color="#f7ed3a"/><stop offset="0.75" stop-color="#f7e938"/><stop offset="0.7667" stop-color="#f6f33c"/><stop offset="0.7833" stop-color="#ebff42"/><stop offset="0.8" stop-color="#c8ff48"/><stop offset="0.8167" stop-color="#9dff50"/><stop offset="0.8333" stop-color="#6dff58"/><stop offset="0.85" stop-color="#3efe65"/><stop offset="0.8667" stop-color="#29f699"/><stop offset="0.8833" stop-color="#16eec9"/><stop offset="0.9" stop-color="#05e7f3"/><stop offset="0.9167" stop-color="#00ccff"/><stop offset="0.9333" stop-color="#00b2ff"/><stop offset="0.95" stop-color="#00a9ff"/><stop offset="0.9667" stop-color="#00a9ff"/><stop offset="0.9833" stop-color="#00a9ff"/><stop offset="1" stop-color="#00a9ff"/></linearGradient>
<linearGradient id="a13" gradientUnits="userSpaceOnUse" x1="119.3" x2="922.6"><stop offset="0" stop-color="#ff0000"/><stop offset="0.01667" stop-color="#ff1704"/><stop offset="0.03333" stop-color="#ff460d"/><stop offset="0.05" stop-color="#fe981d"/><stop offset="0.06667" stop-color="#f6f73d"/><stop offset="0.08333" stop-color="#88ff53"/><stop offset="0.1" stop-color="#35fa7c"/><stop offset="0.1167" stop-color="#0be9e4"/><stop offset="0.1333" stop-color="#0082ff"/><stop offset="0.15" stop-color="#0004ff"/><stop offset="0.1667" stop-color="#7300ff"/><stop offset="0.1833" stop-color="#ca00ff"/><stop offset="0.2" stop-color="#f100ff"/><stop offset="0.2167" stop-color="#e000ff"/><stop offset="0.2333" stop-color="#a300ff"/><stop offset="0.25" stop-color="#4300ff"/><stop offset="0.2667" stop-color="#0033ff"/><stop offset="0.2833" stop-color="#00b0ff"/><stop offset="0.3" stop-color="#1cf0ba"/><stop offset="0.3167" stop-color="#56ff5c"/><stop offset="0.3333" stop-color="#bdff4a"/><stop offset="0.35" stop-color="#f7e537"/><stop offset="0.3667" stop-color="#fcac24"/><stop offset="0.3833" stop-color="#ff8919"/><stop offset="0.4" stop-color="#ff7f17"/><stop offset="0.4167" stop-color="#ff8e1a"/><stop offset="0.4333" stop-color="#fcaf25"/><stop offset="0.45" stop-color="#f8de35"/><stop offset="0.4667" stop-color="#d4ff46"/><stop offset="0.4833" stop-color="#82ff54"/><stop offset="0.5" stop-color="#38fc75"/><stop offset="0.5167" stop-color="#14edcf"/><stop offset="0.5333" stop-color="#00bbff"/><stop offset="0.55" stop-color="#0065ff"/><stop offset="0.5667" stop-color="#0020ff"/><stop offset="0.5833" stop-color="#0d00ff"/><stop offset="0.6" stop-color="#1d00ff"/><stop offset="0.6167" stop-color="#0a00ff"/><stop offset="0.6333" stop-color="#0023ff"/><stop offset="0.65" stop-color="#0063ff"/><stop offset="0.6667" stop-color="#00b3ff"/><stop offset="0.6833" stop-color="#0eebdd"/><stop offset="0.7" stop-color="#2ef88d"/><stop offset="0.7167" stop-color="#60ff5a"/><stop offset="0.7333" stop-color="#a7ff4e"/><stop offset="0.75" stop-color="#e4ff43"/><stop offset="0.7667" stop-color="#f7e738"/><stop offset="0.7833" stop-color="#f9cf30"/><stop offset="0.8" stop-color="#facb2e"/><stop offset="0.8167" stop-color="#f9d833"/><stop offset="0.8333" stop-color="#f6f43c"/><stop offset="0.85" stop-color="#d1ff46"/><stop offset="0.8667" stop-color="#96ff51"/><stop offset="0.8833" stop-color="#55ff5c"/><stop offset="0.9" stop-color="#2ef88d"/><stop offset="0.9167" stop-color="#14edcc"/><stop offset="0.9333" stop-color="#00e1ff"/><stop offset="0.95" stop-color="#00b0ff"/><stop offset="0.9667" stop-color="#0096ff"/><stop offset="0.9833" stop-color="#0092ff"/><stop offset="1" stop-color="#0092ff"/></linearGradient>
<linearGradient id="a14" gradientUnits="userSpaceOnUse" x1="119.3" x2="922.6"><stop offset="0" stop-color="#ff0000"/><stop offset="0.01667" stop-color="#ff1704"/><stop offset="0.03333" stop-color="#ff440c"/><stop offset="0.05" stop-color="#ff921b"/><stop offset="0.06667" stop-color="#f6ef3b"/><stop offset="0.08333" stop-color="#90ff52"/><stop offset="0.1" stop-color="#32f982"/><stop offset="0.1167" stop-color="#00d0ff"/><stop offset="0.1333" stop-color="#0024ff"/><stop offset="0.15" stop-color="#5a00ff"/><stop offset="0.1667" stop-color="#7000ff"/><stop offset="0.1833" stop-color="#6c00ff"/><stop offset="0.2" stop-color="#6300ff"/><stop offset="0.2167" stop-color="#5600ff"/><stop offset="0.2333" stop-color="#3400ff"/><stop offset="0.25" stop-color="#0037ff"/><stop offset="0.2667" stop-color="#00c8ff"/><stop offset="0.2833" stop-color="#2af696"/><stop offset="0.3" stop-color="#71ff57"/><stop offset="0.3167" stop-color="#a4ff4e"/><stop offset="0.3333" stop-color="#c2ff49"/><stop offset="0.35" stop-color="#ddff44"/><stop offset="0.3667" stop-color="#f3ff40"/><stop offset="0.3833" stop-color="#f6f33c"/><stop offset="0.4" stop-color="#f7eb39"/><stop offset="0.4167" stop-color="#f7e838"/><stop offset="0.4333" stop-color="#f7e838"/><stop offset="0.45" stop-color="#f7e838"/><stop offset="0.4667" stop-color="#f7e838"/><stop offset="0.4833" stop-color="#f7ea39"/><stop offset="0.5" stop-color="#f5fe40"/><stop offset="0.5167" stop-color="#c8ff48"/><stop offset="0.5333" stop-color="#8aff53"/><stop offset="0.55" stop-color="#41ff60"/><stop offset="0.5667" stop-color="#20f2af"/><stop offset="0.5833" stop-color="#00e4ff"/><stop offset="0.6" stop-color="#008dff"/><stop offset="0.6167" stop-color="#0043ff"/><stop offset="0.6333" stop-color="#000dff"/><stop offset="0.65" stop-color="#0f00ff"/><stop offset="0.6667" stop-color="#0600ff"/><stop offset="0.6833" stop-color="#0024ff"/><stop offset="0.7" stop-color="#0069ff"/><stop offset="0.7167" stop-color="#00c1ff"/><stop offset="0.7333" stop-color="#16eec8"/><stop offset="0.75" stop-color="#3afd6f"/><stop offset="0.7667" stop-color="#85ff54"/><stop offset="0.7833" stop-color="#d1ff46"/><stop offset="0.8" stop-color="#f7ea39"/><stop offset="0.8167" stop-color="#fac82d"/><stop offset="0.8333" stop-color="#fbbb29"/><stop offset="0.85" stop-color="#fac92e"/><stop offset="0.8667" stop-color="#f6f13b"/><stop offset="0.8833" stop-color="#bdff4a"/><stop offset="0.9" stop-color="#68ff59"/><stop offset="0.9167" stop-color="#2cf792"/><stop offset="0.9333" stop-color="#0ae9e6"/><stop offset="0.95" stop-color="#00b4ff"/><stop offset="0.9667" stop-color="#0087ff"/><stop offset="0.9833" stop-color="#0081ff"/><stop offset="1" stop-color="#0081ff"/></linearGradient>
<linearGradient id="a15" gradientUnits="userSpaceOnUse" x1="119.3" x2="922.6"><stop offset="0" stop-color="#ff0000"/><stop offset="0.01667" stop-color="#ff1604"/><stop offset="0.03333" stop-color="#ff510f"/><stop offset="0.05" stop-color="#fbbb29"/><stop offset="0.06667" stop-color="#b6ff4b"/><stop offset="0.08333" stop-color="#3efe66"/><stop offset="0.1" stop-color="#0febd9"/><stop offset="0.1167" stop-color="#0085ff"/><stop offset="0.1333" stop-color="#000eff"/><stop offset="0.15" stop-color="#4300ff"/><stop offset="0.1667" stop-color="#4700ff"/><stop offset="0.1833" stop-color="#0008ff"/><stop offset="0.2" stop-color="#007cff"/><stop offset="0.2167" stop-color="#08e8ea"/><stop offset="0.2333" stop-color="#2df78e"/><stop offset="0.25" stop-color="#41ff60"/><stop offset="0.2667" stop-color="#54ff5c"/><stop offset="0.2833" stop-color="#65ff5a"/><stop offset="0.3" stop-color="#72ff57"/><stop offset="0.3167" stop-color="#7dff55"/><stop offset="0.3333" stop-color="#83ff54"/><stop offset="0.35" stop-color="#86ff54"/><stop offset="0.3667" stop-color="#7eff55"/><stop offset="0.3833" stop-color="#6bff58"/><stop offset="0.4" stop-color="#55ff5c"/><stop offset="0.4167" stop-color="#44ff5f"/><stop offset="0.4333" stop-color="#42ff60"/><stop offset="0.45" stop-color="#5dff5b"/><stop offset="0.4667" stop-color="#8dff52"/><stop offset="0.4833" stop-color="#c3ff49"/><stop offset="0.5" stop-color="#f1ff41"/><stop offset="0.5167" stop-color="#f6f03b"/><stop offset="0.5333" stop-color="#f6f73d"/><stop offset="0.55" stop-color="#dbff45"/><stop offset="0.5667" stop-color="#a5ff4e"/><stop offset="0.5833" stop-color="#60ff5a"/><stop offset="0.6" stop-color="#2df78f"/><stop offset="0.6167" stop-color="#0ceae1"/><stop offset="0.6333" stop-color="#00acff"/><stop offset="0.65" stop-color="#005bff"/><stop offset="0.6667" stop-color="#001dff"/><stop offset="0.6833" stop-color="#0900ff"/><stop offset="0.7" stop-color="#0d00ff"/><stop offset="0.7167" stop-color="#0018ff"/><stop offset="0.7333" stop-color="#005cff"/><stop offset="0.75" stop-color="#00b6ff"/><stop offset="0.7667" stop-color="#14edcc"/><stop offset="0.7833" stop-color="#3bfd6d"/><stop offset="0.8" stop-color="#8fff52"/><stop offset="0.8167" stop-color="#e1ff43"/><stop offset="0.8333" stop-color="#f8d833"/><stop offset="0.85" stop-color="#fcb326"/><stop offset="0.8667" stop-color="#fda421"/><stop offset="0.8833" stop-color="#fdab23"/><stop offset="0.9" stop-color="#fbbf2a"/><stop offset="0.9167" stop-color="#f8e136"/><stop offset="0.9333" stop-color="#e1ff44"/><stop offset="0.95" stop-color="#99ff50"/><stop offset="0.9667" stop-color="#43ff5f"/><stop offset="0.9833" stop-color="#18efc4"/><stop offset="1" stop-color="#00a2ff"/></linearGradient>
<linearGradient id="a16" gradientUnits="userSpaceOnUse" x1="119.3" x2="922.6"><stop offset="0" stop-color="#ff0000"/><stop offset="0.01667" stop-color="#ff1604"/><stop offset="0.03333" stop-color="#ff520f"/><stop offset="0.05" stop-color="#fbbf2a"/><stop offset="0.06667" stop-color="#acff4d"/><stop offset="0.08333" stop-color="#35fb7b"/><stop offset="0.1" stop-color="#00d4ff"/><stop offset="0.1167" stop-color="#0024ff"/><stop offset="0.1333" stop-color="#6700ff"/><stop offset="0.15" stop-color="#9000ff"/><stop offset="0.1667" stop-color="#6500ff"/><stop offset="0.1833" stop-color="#0900ff"/><stop offset="0.2" stop-color="#0068ff"/><stop offset="0.2167" stop-color="#02e6fb"/><stop offset="0.2333" stop-color="#30f888"/><stop offset="0.25" stop-color="#81ff55"/><stop offset="0.2667" stop-color="#d7ff45"/><stop offset="0.2833" stop-color="#f7e738"/><stop offset="0.3" stop-color="#f9d532"/><stop offset="0.3167" stop-color="#f7e437"/><stop offset="0.3333" stop-color="#e7ff43"/><stop offset="0.35" stop-color="#a2ff4f"/><stop offset="0.3667" stop-color="#52ff5d"/><stop offset="0.3833" stop-color="#25f4a3"/><stop offset="0.4" stop-color="#06e7f1"/><stop offset="0.4167" stop-color="#00aeff"/><stop offset="0.4333" stop-color="#0086ff"/><stop offset="0.45" stop-color="#0084ff"/><stop offset="0.4667" stop-color="#0092ff"/><stop offset="0.4833" stop-color="#00b1ff"/><stop offset="0.5" stop-color="#10ecd6"/><stop offset="0.5167" stop-color="#45ff5f"/><stop offset="0.5333" stop-color="#bfff4a"/><stop offset="0.55" stop-color="#f8de35"/><stop offset="0.5667" stop-color="#fac32b"/><stop offset="0.5833" stop-color="#f9d231"/><stop offset="0.6" stop-color="#f5fa3e"/><stop offset="0.6167" stop-color="#b5ff4b"/><stop offset="0.6333" stop-color="#60ff5a"/><stop offset="0.65" stop-color="#27f59e"/><stop offset="0.6667" stop-color="#01e5fd"/><stop offset="0.6833" stop-color="#0081ff"/><stop offset="0.7" stop-color="#002eff"/><stop offset="0.7167" stop-color="#0900ff"/><stop offset="0.7333" stop-color="#1d00ff"/><stop offset="0.75" stop-color="#0000ff"/><stop offset="0.7667" stop-color="#003fff"/><stop offset="0.7833" stop-color="#009aff"/><stop offset="0.8" stop-color="#0beae3"/><stop offset="0.8167" stop-color="#33fa7f"/><stop offset="0.8333" stop-color="#80ff55"/><stop offset="0.85" stop-color="#d6ff45"/><stop offset="0.8667" stop-color="#f8e035"/><stop offset="0.8833" stop-color="#fbbb29"/><stop offset="0.9" stop-color="#fcb025"/><stop offset="0.9167" stop-color="#fbba29"/><stop offset="0.9333" stop-color="#f9d532"/><stop offset="0.95" stop-color="#f5ff40"/><stop offset="0.9667" stop-color="#b1ff4c"/><stop offset="0.9833" stop-color="#5dff5b"/><stop offset="1" stop-color="#24f4a6"/></linearGradient>
<linearGradient id="a17" gradientUnits="userSpaceOnUse" x1="119.3" x2="922.6"><stop offset="0" stop-color="#ff0000"/><stop offset="0.01667" stop-color="#ff1604"/><stop offset="0.03333" stop-color="#ff520f"/><stop offset="0.05" stop-color="#fbbf2a"/><stop offset="0.06667" stop-color="#abff4d"/><stop offset="0.08333" stop-color="#35fb7a"/><stop offset="0.1" stop-color="#00d8ff"/><stop offset="0.1167" stop-color="#002bff"/><stop offset="0.1333" stop-color="#6b00ff"/><stop offset="0.15" stop-color="#b100ff"/><stop offset="0.1667" stop-color="#9100ff"/><stop offset="0.1833" stop-color="#3000ff"/><stop offset="0.2" stop-color="#0056ff"/><stop offset="0.2167" stop-color="#04e7f5"/><stop offset="0.2333" stop-color="#3cfd6a"/><stop offset="0.25" stop-color="#b5ff4b"/><stop offset="0.2667" stop-color="#f8dc34"/><stop offset="0.2833" stop-color="#fea020"/><stop offset="0.3" stop-color="#ff8a19"/><stop offset="0.3167" stop-color="#fe9f1f"/><stop offset="0.3333" stop-color="#f9d632"/><stop offset="0.35" stop-color="#c5ff48"/><stop offset="0.3667" stop-color="#53ff5d"/><stop offset="0.3833" stop-color="#17eec7"/><stop offset="0.4" stop-color="#00a3ff"/><stop offset="0.4167" stop-color="#003dff"/><stop offset="0.4333" stop-color="#0003ff"/><stop offset="0.45" stop-color="#0005ff"/><stop offset="0.4667" stop-color="#0039ff"/><stop offset="0.4833" stop-color="#0091ff"/><stop offset="0.5" stop-color="#0ae9e6"/><stop offset="0.5167" stop-color="#35fb7b"/><stop offset="0.5333" stop-color="#8eff52"/><stop offset="0.55" stop-color="#eeff41"/><stop offset="0.5667" stop-color="#fac72d"/><stop offset="0.5833" stop-color="#fea01f"/><stop offset="0.6" stop-color="#fe961c"/><stop offset="0.6167" stop-color="#fdab23"/><stop offset="0.6333" stop-color="#f8d833"/><stop offset="0.65" stop-color="#d7ff45"/><stop offset="0.6667" stop-color="#7bff56"/><stop offset="0.6833" stop-color="#2ff88a"/><stop offset="0.7" stop-color="#06e8ef"/><stop offset="0.7167" stop-color="#008bff"/><stop offset="0.7333" stop-color="#0033ff"/><stop offset="0.75" stop-color="#0800ff"/><stop offset="0.7667" stop-color="#1d00ff"/><stop offset="0.7833" stop-color="#0001ff"/><stop offset="0.8" stop-color="#0043ff"/><stop offset="0.8167" stop-color="#00a0ff"/><stop offset="0.8333" stop-color="#0eebdc"/><stop offset="0.85" stop-color="#36fb79"/><stop offset="0.8667" stop-color="#84ff54"/><stop offset="0.8833" stop-color="#d5ff46"/><stop offset="0.9" stop-color="#f7e738"/><stop offset="0.9167" stop-color="#facd2f"/><stop offset="0.9333" stop-color="#facc2f"/><stop offset="0.95" stop-color="#f8d933"/><stop offset="0.9667" stop-color="#f6f23b"/><stop offset="0.9833" stop-color="#d9ff45"/><stop offset="1" stop-color="#9fff4f"/></linearGradient>
<linearGradient id="a18" gradientUnits="userSpaceOnUse" x1="119.3" x2="922.6"><stop offset="0" stop-color="#ff0000"/><stop offset="0.01667" stop-color="#ff1604"/><stop offset="0.03333" stop-color="#ff530f"/><stop offset="0.05" stop-color="#fbc12b"/><stop offset="0.06667" stop-color="#a9ff4d"/><stop offset="0.08333" stop-color="#36fb79"/><stop offset="0.1" stop-color="#00e2ff"/><stop offset="0.1167" stop-color="#003bff"/><stop offset="0.1333" stop-color="#5e00ff"/><stop offset="0.15" stop-color="#c100ff"/><stop offset="0.1667" stop-color="#c900ff"/><stop offset="0.1833" stop-color="#8100ff"/><stop offset="0.2" stop-color="#0001ff"/><stop offset="0.2167" stop-color="#0099ff"/><stop offset="0.2333" stop-color="#21f2ae"/><stop offset="0.25" stop-color="#83ff54"/><stop offset="0.2667" stop-color="#f6f23c"/><stop offset="0.2833" stop-color="#fe9d1f"/><stop offset="0.3" stop-color="#ff6612"/><stop offset="0.3167" stop-color="#ff5910"/><stop offset="0.3333" stop-color="#ff7515"/><stop offset="0.35" stop-color="#fcaf25"/><stop offset="0.3667" stop-color="#f5ff40"/><stop offset="0.3833" stop-color="#82ff54"/><stop offset="0.4" stop-color="#29f59a"/><stop offset="0.4167" stop-color="#00ccff"/><stop offset="0.4333" stop-color="#004eff"/><stop offset="0.45" stop-color="#1300ff"/><stop offset="0.4667" stop-color="#4b00ff"/><stop offset="0.4833" stop-color="#4400ff"/><stop offset="0.5" stop-color="#0001ff"/><stop offset="0.5167" stop-color="#006aff"/><stop offset="0.5333" stop-color="#03e6f7"/><stop offset="0.55" stop-color="#35fa7c"/><stop offset="0.5667" stop-color="#9bff50"/><stop offset="0.5833" stop-color="#f6f33c"/><stop offset="0.6" stop-color="#fcb326"/><stop offset="0.6167" stop-color="#ff8e1a"/><stop offset="0.6333" stop-color="#ff8f1a"/><stop offset="0.65" stop-color="#fcae24"/><stop offset="0.6667" stop-color="#f8e336"/><stop offset="0.6833" stop-color="#c1ff49"/><stop offset="0.7" stop-color="#5dff5b"/><stop offset="0.7167" stop-color="#21f3ac"/><stop offset="0.7333" stop-color="#00ceff"/><stop offset="0.75" stop-color="#0065ff"/><stop offset="0.7667" stop-color="#0016ff"/><stop offset="0.7833" stop-color="#1800ff"/><stop offset="0.8" stop-color="#1600ff"/><stop offset="0.8167" stop-color="#0013ff"/><stop offset="0.8333" stop-color="#0057ff"/><stop offset="0.85" stop-color="#00b0ff"/><stop offset="0.8667" stop-color="#10ecd6"/><stop offset="0.8833" stop-color="#35fa7c"/><stop offset="0.9" stop-color="#78ff56"/><stop offset="0.9167" stop-color="#c2ff49"/><stop offset="0.9333" stop-color="#f6f93e"/><stop offset="0.95" stop-color="#f8dc34"/><stop offset="0.9667" stop-color="#f9d632"/><stop offset="0.9833" stop-color="#f7e738"/><stop offset="1" stop-color="#eeff41"/></linearGradient>
<linearGradient id="a19" gradientUnits="userSpaceOnUse" x1="119.3" x2="922.6"><stop offset="0" stop-color="#ff0000"/><stop offset="0.01667" stop-color="#ff1604"/><stop offset="0.03333" stop-color="#ff510f"/><stop offset="0.05" stop-color="#fbbc29"/><stop offset="0.06667" stop-color="#b2ff4c"/><stop offset="0.08333" stop-color="#3afc70"/><stop offset="0.1" stop-color="#05e7f4"/><stop offset="0.1167" stop-color="#004cff"/><stop offset="0.1333" stop-color="#5300ff"/><stop offset="0.15" stop-color="#ce00ff"/><stop offset="0.1667" stop-color="#fe00ff"/><stop offset="0.1833" stop-color="#d800ff"/><stop offset="0.2" stop-color="#6e00ff"/><stop offset="0.2167" stop-color="#0028ff"/><stop offset="0.2333" stop-color="#00ceff"/><stop offset="0.25" stop-color="#35fb7b"/><stop offset="0.2667" stop-color="#b5ff4b"/><stop offset="0.2833" stop-color="#facd2f"/><stop offset="0.3" stop-color="#ff7e17"/><stop offset="0.3167" stop-color="#ff4f0e"/><stop offset="0.3333" stop-color="#ff4d0e"/><stop offset="0.35" stop-color="#ff7615"/><stop offset="0.3667" stop-color="#fbbd29"/><stop offset="0.3833" stop-color="#d4ff46"/><stop offset="0.4" stop-color="#52ff5d"/><stop offset="0.4167" stop-color="#0febd9"/><stop offset="0.4333" stop-color="#0078ff"/><stop offset="0.45" stop-color="#0900ff"/><stop offset="0.4667" stop-color="#6c00ff"/><stop offset="0.4833" stop-color="#9100ff"/><stop offset="0.5" stop-color="#7400ff"/><stop offset="0.5167" stop-color="#2500ff"/><stop offset="0.5333" stop-color="#0049ff"/><stop offset="0.55" stop-color="#00c9ff"/><stop offset="0.5667" stop-color="#26f5a0"/><stop offset="0.5833" stop-color="#76ff56"/><stop offset="0.6" stop-color="#e0ff44"/><stop offset="0.6167" stop-color="#fac82d"/><stop offset="0.6333" stop-color="#ff951c"/><stop offset="0.65" stop-color="#ff7f17"/><stop offset="0.6667" stop-color="#ff8a19"/><stop offset="0.6833" stop-color="#fcb025"/><stop offset="0.7" stop-color="#f7ec39"/><stop offset="0.7167" stop-color="#b2ff4c"/><stop offset="0.7333" stop-color="#4dff5e"/><stop offset="0.75" stop-color="#1af0be"/><stop offset="0.7667" stop-color="#00baff"/><stop offset="0.7833" stop-color="#0055ff"/><stop offset="0.8" stop-color="#000cff"/><stop offset="0.8167" stop-color="#1b00ff"/><stop offset="0.8333" stop-color="#1100ff"/><stop offset="0.85" stop-color="#001fff"/><stop offset="0.8667" stop-color="#006bff"/><stop offset="0.8833" stop-color="#00caff"/><stop offset="0.9" stop-color="#1bf0bb"/><stop offset="0.9167" stop-color="#41ff60"/><stop offset="0.9333" stop-color="#95ff51"/><stop offset="0.95" stop-color="#dcff44"/><stop offset="0.9667" stop-color="#f7ea39"/><stop offset="0.9833" stop-color="#f9d632"/><stop offset="1" stop-color="#f9d532"/></linearGradient>
<linearGradient id="a20" gradientUnits="userSpaceOnUse" x1="119.3" x2="922.6"><stop offset="0" stop-color="#ff0000"/><stop offset="0.01667" stop-color="#ff1604"/><stop offset="0.03333" stop-color="#ff500e"/><stop offset="0.05" stop-color="#fbb828"/><stop offset="0.06667" stop-color="#baff4a"/><stop offset="0.08333" stop-color="#3dfe66"/><stop offset="0.1" stop-color="#0be9e4"/><stop offset="0.1167" stop-color="#0066ff"/><stop offset="0.1333" stop-color="#3400ff"/><stop offset="0.15" stop-color="#b600ff"/><stop offset="0.1667" stop-color="#fa00ff"/><stop offset="0.1833" stop-color="#ed00ff"/><stop offset="0.2" stop-color="#9c00ff"/><stop offset="0.2167" stop-color="#1800ff"/><stop offset="0.2333" stop-color="#0082ff"/><stop offset="0.25" stop-color="#18efc4"/><stop offset="0.2667" stop-color="#6dff58"/><stop offset="0.2833" stop-color="#f3ff40"/><stop offset="0.3" stop-color="#fda521"/><stop offset="0.3167" stop-color="#ff6112"/><stop offset="0.3333" stop-color="#ff3f0b"/><stop offset="0.35" stop-color="#ff470d"/><stop offset="0.3667" stop-color="#ff7315"/><stop offset="0.3833" stop-color="#fbbb29"/><stop offset="0.4" stop-color="#daff45"/><stop offset="0.4167" stop-color="#5dff5b"/><stop offset="0.4333" stop-color="#16eec9"/><stop offset="0.45" stop-color="#008eff"/><stop offset="0.4667" stop-color="#000cff"/><stop offset="0.4833" stop-color="#5f00ff"/><stop offset="0.5" stop-color="#9800ff"/><stop offset="0.5167" stop-color="#9300ff"/><stop offset="0.5333" stop-color="#5800ff"/><stop offset="0.55" stop-color="#000bff"/><stop offset="0.5667" stop-color="#0080ff"/><stop offset="0.5833" stop-color="#0be9e4"/><stop offset="0.6" stop-color="#3bfd6d"/><stop offset="0.6167" stop-color="#a2ff4f"/><stop offset="0.6333" stop-color="#f6f23c"/><stop offset="0.65" stop-color="#fcb326"/><stop offset="0.6667" stop-color="#ff8a19"/><stop offset="0.6833" stop-color="#ff7f17"/><stop offset="0.7" stop-color="#ff941b"/><stop offset="0.7167" stop-color="#fac32b"/><stop offset="0.7333" stop-color="#eeff41"/><stop offset="0.75" stop-color="#8dff52"/><stop offset="0.7667" stop-color="#34fa7d"/><stop offset="0.7833" stop-color="#09e9e8"/><stop offset="0.8" stop-color="#008dff"/><stop offset="0.8167" stop-color="#0031ff"/><stop offset="0.8333" stop-color="#0b00ff"/><stop offset="0.85" stop-color="#1c00ff"/><stop offset="0.8667" stop-color="#0006ff"/><stop offset="0.8833" stop-color="#0049ff"/><stop offset="0.9" stop-color="#00a5ff"/><stop offset="0.9167" stop-color="#0febdb"/><stop offset="0.9333" stop-color="#34fa7e"/><stop offset="0.95" stop-color="#76ff57"/><stop offset="0.9667" stop-color="#b8ff4b"/><stop offset="0.9833" stop-color="#e3ff43"/><stop offset="1" stop-color="#ecff42"/></linearGradient>
<linearGradient id="a21" gradientUnits="userSpaceOnUse" x1="119.3" x2="922.6"><stop offset="0" stop-color="#ff0000"/><stop offset="0.01667" stop-color="#ff1604"/><stop offset="0.03333" stop-color="#ff4f0e"/><stop offset="0.05" stop-color="#fcb426"/><stop offset="0.06667" stop-color="#c2ff49"/><stop offset="0.08333" stop-color="#42ff60"/><stop offset="0.1" stop-color="#10ebd7"/><stop offset="0.1167" stop-color="#0077ff"/><stop offset="0.1333" stop-color="#2200ff"/><stop offset="0.15" stop-color="#a700ff"/><stop offset="0.1667" stop-color="#f400ff"/><stop offset="0.1833" stop-color="#f500ff"/><stop offset="0.2" stop-color="#b500ff"/><stop offset="0.2167" stop-color="#4400ff"/><stop offset="0.2333" stop-color="#0049ff"/><stop offset="0.25" stop-color="#00e3ff"/><stop offset="0.2667" stop-color="#37fb76"/><stop offset="0.2833" stop-color="#adff4d"/><stop offset="0.3" stop-color="#f8d933"/><stop offset="0.3167" stop-color="#ff8a19"/><stop offset="0.3333" stop-color="#ff530f"/><stop offset="0.35" stop-color="#ff3d0b"/><stop offset="0.3667" stop-color="#ff4c0e"/><stop offset="0.3833" stop-color="#ff7816"/><stop offset="0.4" stop-color="#fbbb29"/><stop offset="0.4167" stop-color="#e2ff43"/><stop offset="0.4333" stop-color="#70ff58"/><stop offset="0.45" stop-color="#22f3aa"/><stop offset="0.4667" stop-color="#00bbff"/><stop offset="0.4833" stop-color="#003dff"/><stop offset="0.5" stop-color="#2e00ff"/><stop offset="0.5167" stop-color="#7800ff"/><stop offset="0.5333" stop-color="#9100ff"/><stop offset="0.55" stop-color="#7200ff"/><stop offset="0.5667" stop-color="#2500ff"/><stop offset="0.5833" stop-color="#0044ff"/><stop offset="0.6" stop-color="#00beff"/><stop offset="0.6167" stop-color="#20f2af"/><stop offset="0.6333" stop-color="#62ff5a"/><stop offset="0.65" stop-color="#c9ff48"/><stop offset="0.6667" stop-color="#f8db34"/><stop offset="0.6833" stop-color="#fda722"/><stop offset="0.7" stop-color="#ff8c19"/><stop offset="0.7167" stop-color="#ff901a"/><stop offset="0.7333" stop-color="#fcac24"/><stop offset="0.75" stop-color="#f8dd34"/><stop offset="0.7667" stop-color="#d1ff46"/><stop offset="0.7833" stop-color="#76ff56"/><stop offset="0.8" stop-color="#2ff88b"/><stop offset="0.8167" stop-color="#08e8ec"/><stop offset="0.8333" stop-color="#0092ff"/><stop offset="0.85" stop-color="#003bff"/><stop offset="0.8667" stop-color="#0100ff"/><stop offset="0.8833" stop-color="#1d00ff"/><stop offset="0.9" stop-color="#1100ff"/><stop offset="0.9167" stop-color="#0016ff"/><stop offset="0.9333" stop-color="#0054ff"/><stop offset="0.95" stop-color="#00a7ff"/><stop offset="0.9667" stop-color="#0eebdc"/><stop offset="0.9833" stop-color="#37fb75"/><stop offset="1" stop-color="#9aff50"/></linearGradient>
<linearGradient id="a22" gradientUnits="userSpaceOnUse" x1="119.3" x2="922.6"><stop offset="0" stop-color="#ff0000"/><stop offset="0.01667" stop-color="#ff1604"/><stop offset="0.03333" stop-color="#ff4f0e"/><stop offset="0.05" stop-color="#fcb527"/><stop offset="0.06667" stop-color="#c1ff49"/><stop offset="0.08333" stop-color="#42ff60"/><stop offset="0.1" stop-color="#12ecd4"/><stop offset="0.1167" stop-color="#0082ff"/><stop offset="0.1333" stop-color="#0e00ff"/><stop offset="0.15" stop-color="#9100ff"/><stop offset="0.1667" stop-color="#e200ff"/><stop offset="0.1833" stop-color="#ed00ff"/><stop offset="0.2" stop-color="#be00ff"/><stop offset="0.2167" stop-color="#6100ff"/><stop offset="0.2333" stop-color="#001bff"/><stop offset="0.25" stop-color="#00a3ff"/><stop offset="0.2667" stop-color="#1bf0bb"/><stop offset="0.2833" stop-color="#62ff5a"/><stop offset="0.3" stop-color="#d6ff46"/><stop offset="0.3167" stop-color="#fac72d"/><stop offset="0.3333" stop-color="#ff8618"/><stop offset="0.35" stop-color="#ff5c11"/><stop offset="0.3667" stop-color="#ff500f"/><stop offset="0.3833" stop-color="#ff6312"/><stop offset="0.4" stop-color="#ff8f1a"/><stop offset="0.4167" stop-color="#facb2e"/><stop offset="0.4333" stop-color="#daff45"/><stop offset="0.45" stop-color="#74ff57"/><stop offset="0.4667" stop-color="#2af697"/><stop offset="0.4833" stop-color="#00e3ff"/><stop offset="0.5" stop-color="#0072ff"/><stop offset="0.5167" stop-color="#0015ff"/><stop offset="0.5333" stop-color="#3100ff"/><stop offset="0.55" stop-color="#5000ff"/><stop offset="0.5667" stop-color="#4200ff"/><stop offset="0.5833" stop-color="#0c00ff"/><stop offset="0.6" stop-color="#0040ff"/><stop offset="0.6167" stop-color="#009fff"/><stop offset="0.6333" stop-color="#0deade"/><stop offset="0.65" stop-color="#34fa7d"/><stop offset="0.6667" stop-color="#82ff54"/><stop offset="0.6833" stop-color="#d8ff45"/><stop offset="0.7" stop-color="#f8da33"/><stop offset="0.7167" stop-color="#fdac23"/><stop offset="0.7333" stop-color="#ff901a"/><stop offset="0.75" stop-color="#ff8c19"/><stop offset="0.7667" stop-color="#fda120"/><stop offset="0.7833" stop-color="#facc2f"/><stop offset="0.8" stop-color="#eaff42"/><stop offset="0.8167" stop-color="#93ff51"/><stop offset="0.8333" stop-color="#3bfd6d"/><stop offset="0.85" stop-color="#13edcf"/><stop offset="0.8667" stop-color="#00b0ff"/><stop offset="0.8833" stop-color="#0053ff"/><stop offset="0.9" stop-color="#000eff"/><stop offset="0.9167" stop-color="#1900ff"/><stop offset="0.9333" stop-color="#1600ff"/><stop offset="0.95" stop-color="#0011ff"/><stop offset="0.9667" stop-color="#0051ff"/><stop offset="0.9833" stop-color="#00a8ff"/><stop offset="1" stop-color="#0eebdd"/></linearGradient>
<linearGradient id="a23" gradientUnits="userSpaceOnUse" x1="119.3" x2="922.6"><stop offset="0" stop-color="#ff0000"/><stop offset="0.01667" stop-color="#ff1604"/><stop offset="0.03333" stop-color="#ff4f0e"/><stop offset="0.05" stop-color="#fcb627"/><stop offset="0.06667" stop-color="#bfff49"/><stop offset="0.08333" stop-color="#42ff60"/><stop offset="0.1" stop-color="#13edd0"/><stop offset="0.1167" stop-color="#008dff"/><stop offset="0.1333" stop-color="#0005ff"/><stop offset="0.15" stop-color="#7600ff"/><stop offset="0.1667" stop-color="#c200ff"/><stop offset="0.1833" stop-color="#ce00ff"/><stop offset="0.2" stop-color="#a800ff"/><stop offset="0.2167" stop-color="#5e00ff"/><stop offset="0.2333" stop-color="#0007ff"/><stop offset="0.25" stop-color="#0075ff"/><stop offset="0.2667" stop-color="#03e6f7"/><stop offset="0.2833" stop-color="#2ef88d"/><stop offset="0.3" stop-color="#79ff56"/><stop offset="0.3167" stop-color="#d5ff46"/><stop offset="0.3333" stop-color="#f8da33"/><stop offset="0.35" stop-color="#fdaa23"/><stop offset="0.3667" stop-color="#ff8f1a"/><stop offset="0.3833" stop-color="#ff8c19"/><stop offset="0.4" stop-color="#fe9c1e"/><stop offset="0.4167" stop-color="#fbbc29"/><stop offset="0.4333" stop-color="#f7e838"/><stop offset="0.45" stop-color="#cfff47"/><stop offset="0.4667" stop-color="#85ff54"/><stop offset="0.4833" stop-color="#3cfd6a"/><stop offset="0.5" stop-color="#1bf0bb"/><stop offset="0.5167" stop-color="#00d9ff"/><stop offset="0.5333" stop-color="#0086ff"/><stop offset="0.55" stop-color="#0041ff"/><stop offset="0.5667" stop-color="#000fff"/><stop offset="0.5833" stop-color="#0d00ff"/><stop offset="0.6" stop-color="#0b00ff"/><stop offset="0.6167" stop-color="#0019ff"/><stop offset="0.6333" stop-color="#0057ff"/><stop offset="0.65" stop-color="#00a9ff"/><stop offset="0.6667" stop-color="#0ceae0"/><stop offset="0.6833" stop-color="#30f988"/><stop offset="0.7" stop-color="#70ff58"/><stop offset="0.7167" stop-color="#c2ff49"/><stop offset="0.7333" stop-color="#f7ee3a"/><stop offset="0.75" stop-color="#fbbf2a"/><stop offset="0.7667" stop-color="#fea020"/><stop offset="0.7833" stop-color="#ff951c"/><stop offset="0.8" stop-color="#fda321"/><stop offset="0.8167" stop-color="#fac82d"/><stop offset="0.8333" stop-color="#f5fd3f"/><stop offset="0.85" stop-color="#a4ff4e"/><stop offset="0.8667" stop-color="#49ff5e"/><stop offset="0.8833" stop-color="#1df1b8"/><stop offset="0.9" stop-color="#00cbff"/><stop offset="0.9167" stop-color="#006bff"/><stop offset="0.9333" stop-color="#001fff"/><stop offset="0.95" stop-color="#1100ff"/><stop offset="0.9667" stop-color="#1c00ff"/><stop offset="0.9833" stop-color="#0200ff"/><stop offset="1" stop-color="#0029ff"/></linearGradient>
<linearGradient id="a24" gradientUnits="userSpaceOnUse" x1="119.3" x2="922.6"><stop offset="0" stop-color="#ff0000"/><stop offset="0.01667" stop-color="#ff1604"/><stop offset="0.03333" stop-color="#ff510f"/><stop offset="0.05" stop-color="#fbbb29"/><stop offset="0.06667" stop-color="#b7ff4b"/><stop offset="0.08333" stop-color="#3efe66"/><stop offset="0.1" stop-color="#0febd9"/><stop offset="0.1167" stop-color="#0083ff"/><stop offset="0.1333" stop-color="#0100ff"/><stop offset="0.15" stop-color="#7200ff"/><stop offset="0.1667" stop-color="#ad00ff"/><stop offset="0.1833" stop-color="#a000ff"/><stop offset="0.2" stop-color="#5200ff"/><stop offset="0.2167" stop-color="#0026ff"/><stop offset="0.2333" stop-color="#00adff"/><stop offset="0.25" stop-color="#1ef1b4"/><stop offset="0.2667" stop-color="#5eff5b"/><stop offset="0.2833" stop-color="#b8ff4b"/><stop offset="0.3" stop-color="#f0ff41"/><stop offset="0.3167" stop-color="#f6f63d"/><stop offset="0.3333" stop-color="#f7ee3a"/><stop offset="0.35" stop-color="#f7e939"/><stop offset="0.3667" stop-color="#f7e838"/><stop offset="0.3833" stop-color="#f7ec3a"/><stop offset="0.4" stop-color="#f6f63d"/><stop offset="0.4167" stop-color="#efff41"/><stop offset="0.4333" stop-color="#daff45"/><stop offset="0.45" stop-color="#c1ff49"/><stop offset="0.4667" stop-color="#a8ff4e"/><stop offset="0.4833" stop-color="#8eff52"/><stop offset="0.5" stop-color="#72ff57"/><stop offset="0.5167" stop-color="#4bff5e"/><stop offset="0.5333" stop-color="#31f986"/><stop offset="0.55" stop-color="#1bf0bd"/><stop offset="0.5667" stop-color="#04e7f5"/><stop offset="0.5833" stop-color="#00b0ff"/><stop offset="0.6" stop-color="#0075ff"/><stop offset="0.6167" stop-color="#0043ff"/><stop offset="0.6333" stop-color="#0020ff"/><stop offset="0.65" stop-color="#000fff"/><stop offset="0.6667" stop-color="#0019ff"/><stop offset="0.6833" stop-color="#004bff"/><stop offset="0.7" stop-color="#009cff"/><stop offset="0.7167" stop-color="#0ae9e6"/><stop offset="0.7333" stop-color="#31f985"/><stop offset="0.75" stop-color="#7cff55"/><stop offset="0.7667" stop-color="#d7ff45"/><stop offset="0.7833" stop-color="#f8da33"/><stop offset="0.8" stop-color="#fcad24"/><stop offset="0.8167" stop-color="#fe971c"/><stop offset="0.8333" stop-color="#fe9d1f"/><stop offset="0.85" stop-color="#fbc02a"/><stop offset="0.8667" stop-color="#f6f83e"/><stop offset="0.8833" stop-color="#a6ff4e"/><stop offset="0.9" stop-color="#44ff5f"/><stop offset="0.9167" stop-color="#17eec5"/><stop offset="0.9333" stop-color="#00b5ff"/><stop offset="0.95" stop-color="#0052ff"/><stop offset="0.9667" stop-color="#000aff"/><stop offset="0.9833" stop-color="#1b00ff"/><stop offset="1" stop-color="#1d00ff"/></linearGradient>
<linearGradient id="a25" gradientUnits="userSpaceOnUse" x1="119.3" x2="922.6"><stop offset="0" stop-color="#ff0000"/><stop offset="0.01667" stop-color="#ff1604"/><stop offset="0.03333" stop-color="#ff500f"/><stop offset="0.05" stop-color="#fbb928"/><stop offset="0.06667" stop-color="#b8ff4b"/><stop offset="0.08333" stop-color="#3efe66"/><stop offset="0.1" stop-color="#0deadf"/><stop offset="0.1167" stop-color="#0074ff"/><stop offset="0.1333" stop-color="#1900ff"/><stop offset="0.15" stop-color="#8d00ff"/><stop offset="0.1667" stop-color="#c300ff"/><stop offset="0.1833" stop-color="#ad00ff"/><stop offset="0.2" stop-color="#5b00ff"/><stop offset="0.2167" stop-color="#001fff"/><stop offset="0.2333" stop-color="#00a8ff"/><stop offset="0.25" stop-color="#1df1b7"/><stop offset="0.2667" stop-color="#60ff5a"/><stop offset="0.2833" stop-color="#c5ff49"/><stop offset="0.3" stop-color="#f7eb39"/><stop offset="0.3167" stop-color="#f9cf2f"/><stop offset="0.3333" stop-color="#f9d632"/><stop offset="0.35" stop-color="#f6f43c"/><stop offset="0.3667" stop-color="#d3ff46"/><stop offset="0.3833" stop-color="#a7ff4e"/><stop offset="0.4" stop-color="#90ff52"/><stop offset="0.4167" stop-color="#8dff52"/><stop offset="0.4333" stop-color="#8bff53"/><stop offset="0.45" stop-color="#8aff53"/><stop offset="0.4667" stop-color="#89ff53"/><stop offset="0.4833" stop-color="#88ff53"/><stop offset="0.5" stop-color="#86ff54"/><stop offset="0.5167" stop-color="#7cff55"/><stop offset="0.5333" stop-color="#61ff5a"/><stop offset="0.55" stop-color="#3dfe66"/><stop offset="0.5667" stop-color="#29f698"/><stop offset="0.5833" stop-color="#13edd0"/><stop offset="0.6" stop-color="#00daff"/><stop offset="0.6167" stop-color="#0099ff"/><stop offset="0.6333" stop-color="#0060ff"/><stop offset="0.65" stop-color="#0033ff"/><stop offset="0.6667" stop-color="#0016ff"/><stop offset="0.6833" stop-color="#000fff"/><stop offset="0.7" stop-color="#002bff"/><stop offset="0.7167" stop-color="#006cff"/><stop offset="0.7333" stop-color="#00c7ff"/><stop offset="0.75" stop-color="#1af0bd"/><stop offset="0.7667" stop-color="#44ff5f"/><stop offset="0.7833" stop-color="#a1ff4f"/><stop offset="0.8" stop-color="#f5ff40"/><stop offset="0.8167" stop-color="#fac92e"/><stop offset="0.8333" stop-color="#fda722"/><stop offset="0.85" stop-color="#fe9e1f"/><stop offset="0.8667" stop-color="#fcb426"/><stop offset="0.8833" stop-color="#f7e638"/><stop offset="0.9" stop-color="#beff4a"/><stop offset="0.9167" stop-color="#5bff5b"/><stop offset="0.9333" stop-color="#21f2ae"/><stop offset="0.95" stop-color="#00d1ff"/><stop offset="0.9667" stop-color="#0074ff"/><stop offset="0.9833" stop-color="#0039ff"/><stop offset="1" stop-color="#002bff"/></linearGradient>
<linearGradient id="a26" gradientUnits="userSpaceOnUse" x1="119.3" x2="922.6"><stop offset="0" stop-color="#ff0000"/><stop offset="0.01667" stop-color="#ff1604"/><stop offset="0.03333" stop-color="#ff4f0e"/><stop offset="0.05" stop-color="#fcb426"/><stop offset="0.06667" stop-color="#c2ff49"/><stop offset="0.08333" stop-color="#42ff60"/><stop offset="0.1" stop-color="#10ebd7"/><stop offset="0.1167" stop-color="#0078ff"/><stop offset="0.1333" stop-color="#1c00ff"/><stop offset="0.15" stop-color="#9700ff"/><stop offset="0.1667" stop-color="#d000ff"/><stop offset="0.1833" stop-color="#b700ff"/><stop offset="0.2" stop-color="#5d00ff"/><stop offset="0.2167" stop-color="#0028ff"/><stop offset="0.2333" stop-color="#00bdff"/><stop offset="0.25" stop-color="#28f59b"/><stop offset="0.2667" stop-color="#84ff54"/><stop offset="0.2833" stop-color="#eeff41"/><stop offset="0.3" stop-color="#fac82d"/><stop offset="0.3167" stop-color="#fcb025"/><stop offset="0.3333" stop-color="#fbbe2a"/><stop offset="0.35" stop-color="#f7e938"/><stop offset="0.3667" stop-color="#c6ff48"/><stop offset="0.3833" stop-color="#71ff57"/><stop offset="0.4" stop-color="#32f982"/><stop offset="0.4167" stop-color="#17eec7"/><stop offset="0.4333" stop-color="#07e8ee"/><stop offset="0.45" stop-color="#08e8ec"/><stop offset="0.4667" stop-color="#18efc4"/><stop offset="0.4833" stop-color="#32f984"/><stop offset="0.5" stop-color="#66ff59"/><stop offset="0.5167" stop-color="#abff4d"/><stop offset="0.5333" stop-color="#e1ff44"/><stop offset="0.55" stop-color="#f5fb3f"/><stop offset="0.5667" stop-color="#f0ff41"/><stop offset="0.5833" stop-color="#cbff47"/><stop offset="0.6" stop-color="#93ff51"/><stop offset="0.6167" stop-color="#4cff5e"/><stop offset="0.6333" stop-color="#25f4a4"/><stop offset="0.65" stop-color="#04e6f6"/><stop offset="0.6667" stop-color="#0095ff"/><stop offset="0.6833" stop-color="#004aff"/><stop offset="0.7" stop-color="#0014ff"/><stop offset="0.7167" stop-color="#0300ff"/><stop offset="0.7333" stop-color="#000eff"/><stop offset="0.75" stop-color="#0046ff"/><stop offset="0.7667" stop-color="#009dff"/><stop offset="0.7833" stop-color="#0ceae1"/><stop offset="0.8" stop-color="#35fa7c"/><stop offset="0.8167" stop-color="#86ff54"/><stop offset="0.8333" stop-color="#e1ff44"/><stop offset="0.85" stop-color="#f9d231"/><stop offset="0.8667" stop-color="#fda822"/><stop offset="0.8833" stop-color="#fe961c"/><stop offset="0.9" stop-color="#fe9d1f"/><stop offset="0.9167" stop-color="#fbb828"/><stop offset="0.9333" stop-color="#f7e437"/><stop offset="0.95" stop-color="#ccff47"/><stop offset="0.9667" stop-color="#6fff58"/><stop offset="0.9833" stop-color="#26f5a0"/><stop offset="1" stop-color="#00bfff"/></linearGradient>
<linearGradient id="a27" gradientUnits="userSpaceOnUse" x1="119.3" x2="922.6"><stop offset="0" stop-color="#ff0000"/><stop offset="0.01667" stop-color="#ff1604"/><stop offset="0.03333" stop-color="#ff4e0e"/><stop offset="0.05" stop-color="#fcb226"/><stop offset="0.06667" stop-color="#c7ff48"/><stop offset="0.08333" stop-color="#47ff5f"/><stop offset="0.1" stop-color="#13edd0"/><stop offset="0.1167" stop-color="#0081ff"/><stop offset="0.1333" stop-color="#1200ff"/><stop offset="0.15" stop-color="#9000ff"/><stop offset="0.1667" stop-color="#cf00ff"/><stop offset="0.1833" stop-color="#bb00ff"/><stop offset="0.2" stop-color="#6300ff"/><stop offset="0.2167" stop-color="#0023ff"/><stop offset="0.2333" stop-color="#00bbff"/><stop offset="0.25" stop-color="#2af698"/><stop offset="0.2667" stop-color="#8cff53"/><stop offset="0.2833" stop-color="#f6f93e"/><stop offset="0.3" stop-color="#fcb627"/><stop offset="0.3167" stop-color="#fe971c"/><stop offset="0.3333" stop-color="#fea120"/><stop offset="0.35" stop-color="#faca2e"/><stop offset="0.3667" stop-color="#e7ff42"/><stop offset="0.3833" stop-color="#88ff53"/><stop offset="0.4" stop-color="#36fb7a"/><stop offset="0.4167" stop-color="#11ecd5"/><stop offset="0.4333" stop-color="#00c6ff"/><stop offset="0.45" stop-color="#009fff"/><stop offset="0.4667" stop-color="#00b0ff"/><stop offset="0.4833" stop-color="#04e7f5"/><stop offset="0.5" stop-color="#25f4a3"/><stop offset="0.5167" stop-color="#59ff5c"/><stop offset="0.5333" stop-color="#adff4d"/><stop offset="0.55" stop-color="#efff41"/><stop offset="0.5667" stop-color="#f7e938"/><stop offset="0.5833" stop-color="#f7ee3a"/><stop offset="0.6" stop-color="#eaff42"/><stop offset="0.6167" stop-color="#b8ff4b"/><stop offset="0.6333" stop-color="#77ff56"/><stop offset="0.65" stop-color="#39fc73"/><stop offset="0.6667" stop-color="#18efc3"/><stop offset="0.6833" stop-color="#00d0ff"/><stop offset="0.7" stop-color="#007cff"/><stop offset="0.7167" stop-color="#0036ff"/><stop offset="0.7333" stop-color="#0006ff"/><stop offset="0.75" stop-color="#1000ff"/><stop offset="0.7667" stop-color="#0003ff"/><stop offset="0.7833" stop-color="#003cff"/><stop offset="0.8" stop-color="#0094ff"/><stop offset="0.8167" stop-color="#0ae9e7"/><stop offset="0.8333" stop-color="#33fa81"/><stop offset="0.85" stop-color="#83ff54"/><stop offset="0.8667" stop-color="#dfff44"/><stop offset="0.8833" stop-color="#f9d331"/><stop offset="0.9" stop-color="#fda822"/><stop offset="0.9167" stop-color="#fe961c"/><stop offset="0.9333" stop-color="#fda120"/><stop offset="0.95" stop-color="#fac62c"/><stop offset="0.9667" stop-color="#f4ff40"/><stop offset="0.9833" stop-color="#97ff51"/><stop offset="1" stop-color="#37fc75"/></linearGradient>
<linearGradient id="a28" gradientUnits="userSpaceOnUse" x1="119.3" x2="922.6"><stop offset="0" stop-color="#ff0000"/><stop offset="0.01667" stop-color="#ff1604"/><stop offset="0.03333" stop-color="#ff4d0e"/><stop offset="0.05" stop-color="#fcb025"/><stop offset="0.06667" stop-color="#cbff47"/><stop offset="0.08333" stop-color="#4bff5e"/><stop offset="0.1" stop-color="#14edce"/><stop offset="0.1167" stop-color="#0082ff"/><stop offset="0.1333" stop-color="#1600ff"/><stop offset="0.15" stop-color="#9a00ff"/><stop offset="0.1667" stop-color="#e000ff"/><stop offset="0.1833" stop-color="#d200ff"/><stop offset="0.2" stop-color="#7c00ff"/><stop offset="0.2167" stop-color="#000dff"/><stop offset="0.2333" stop-color="#00a9ff"/><stop offset="0.25" stop-color="#26f4a1"/><stop offset="0.2667" stop-color="#8bff53"/><stop offset="0.2833" stop-color="#f6f03b"/><stop offset="0.3" stop-color="#fda321"/><stop offset="0.3167" stop-color="#ff7615"/><stop offset="0.3333" stop-color="#ff7315"/><stop offset="0.35" stop-color="#ff931b"/><stop offset="0.3667" stop-color="#facb2e"/><stop offset="0.3833" stop-color="#dbff45"/><stop offset="0.4" stop-color="#74ff57"/><stop offset="0.4167" stop-color="#2af698"/><stop offset="0.4333" stop-color="#00e5ff"/><stop offset="0.45" stop-color="#0080ff"/><stop offset="0.4667" stop-color="#003aff"/><stop offset="0.4833" stop-color="#001fff"/><stop offset="0.5" stop-color="#003cff"/><stop offset="0.5167" stop-color="#0089ff"/><stop offset="0.5333" stop-color="#06e8f0"/><stop offset="0.55" stop-color="#32f983"/><stop offset="0.5667" stop-color="#88ff53"/><stop offset="0.5833" stop-color="#e8ff42"/><stop offset="0.6" stop-color="#f9cf30"/><stop offset="0.6167" stop-color="#fcb225"/><stop offset="0.6333" stop-color="#fbb828"/><stop offset="0.65" stop-color="#f8db34"/><stop offset="0.6667" stop-color="#d9ff45"/><stop offset="0.6833" stop-color="#7fff55"/><stop offset="0.7" stop-color="#31f986"/><stop offset="0.7167" stop-color="#07e8ee"/><stop offset="0.7333" stop-color="#008bff"/><stop offset="0.75" stop-color="#0033ff"/><stop offset="0.7667" stop-color="#0400ff"/><stop offset="0.7833" stop-color="#0e00ff"/><stop offset="0.8" stop-color="#0017ff"/><stop offset="0.8167" stop-color="#005cff"/><stop offset="0.8333" stop-color="#00baff"/><stop offset="0.85" stop-color="#17eec5"/><stop offset="0.8667" stop-color="#40ff61"/><stop offset="0.8833" stop-color="#9eff4f"/><stop offset="0.9" stop-color="#f4ff40"/><stop offset="0.9167" stop-color="#fac82d"/><stop offset="0.9333" stop-color="#fda220"/><stop offset="0.95" stop-color="#ff951c"/><stop offset="0.9667" stop-color="#fda822"/><stop offset="0.9833" stop-color="#f9d331"/><stop offset="1" stop-color="#e5ff43"/></linearGradient>
<linearGradient id="a29" gradientUnits="userSpaceOnUse" x1="119.3" x2="922.6"><stop offset="0" stop-color="#ff0000"/><stop offset="0.01667" stop-color="#ff1604"/><stop offset="0.03333" stop-color="#ff4d0e"/><stop offset="0.05" stop-color="#fcae24"/><stop offset="0.06667" stop-color="#cfff47"/><stop offset="0.08333" stop-color="#4eff5d"/><stop offset="0.1" stop-color="#15edcb"/><stop offset="0.1167" stop-color="#0081ff"/><stop offset="0.1333" stop-color="#1c00ff"/><stop offset="0.15" stop-color="#a400ff"/><stop offset="0.1667" stop-color="#ec00ff"/><stop offset="0.1833" stop-color="#e000ff"/><stop offset="0.2" stop-color="#8f00ff"/><stop offset="0.2167" stop-color="#0a00ff"/><stop offset="0.2333" stop-color="#008eff"/><stop offset="0.25" stop-color="#1bf0bb"/><stop offset="0.2667" stop-color="#72ff57"/><stop offset="0.2833" stop-color="#f2ff41"/><stop offset="0.3" stop-color="#fcac24"/><stop offset="0.3167" stop-color="#ff7215"/><stop offset="0.3333" stop-color="#ff5c11"/><stop offset="0.35" stop-color="#ff6d14"/><stop offset="0.3667" stop-color="#fe9c1e"/><stop offset="0.3833" stop-color="#f8e035"/><stop offset="0.4" stop-color="#b6ff4b"/><stop offset="0.4167" stop-color="#48ff5f"/><stop offset="0.4333" stop-color="#16eec9"/><stop offset="0.45" stop-color="#00acff"/><stop offset="0.4667" stop-color="#004bff"/><stop offset="0.4833" stop-color="#000dff"/><stop offset="0.5" stop-color="#0200ff"/><stop offset="0.5167" stop-color="#0023ff"/><stop offset="0.5333" stop-color="#0073ff"/><stop offset="0.55" stop-color="#00dfff"/><stop offset="0.5667" stop-color="#28f59b"/><stop offset="0.5833" stop-color="#70ff57"/><stop offset="0.6" stop-color="#d2ff46"/><stop offset="0.6167" stop-color="#f8db34"/><stop offset="0.6333" stop-color="#fcb125"/><stop offset="0.65" stop-color="#fda521"/><stop offset="0.6667" stop-color="#fbb727"/><stop offset="0.6833" stop-color="#f8e136"/><stop offset="0.7" stop-color="#d1ff46"/><stop offset="0.7167" stop-color="#79ff56"/><stop offset="0.7333" stop-color="#30f987"/><stop offset="0.75" stop-color="#09e9e8"/><stop offset="0.7667" stop-color="#0096ff"/><stop offset="0.7833" stop-color="#0040ff"/><stop offset="0.8" stop-color="#0006ff"/><stop offset="0.8167" stop-color="#1000ff"/><stop offset="0.8333" stop-color="#000aff"/><stop offset="0.85" stop-color="#004bff"/><stop offset="0.8667" stop-color="#00aaff"/><stop offset="0.8833" stop-color="#13edd0"/><stop offset="0.9" stop-color="#3dfe68"/><stop offset="0.9167" stop-color="#9cff50"/><stop offset="0.9333" stop-color="#f5fe40"/><stop offset="0.95" stop-color="#fac42c"/><stop offset="0.9667" stop-color="#fe9f1f"/><stop offset="0.9833" stop-color="#fe961c"/><stop offset="1" stop-color="#fe9d1e"/></linearGradient>
<linearGradient id="a30" gradientUnits="userSpaceOnUse" x1="119.3" x2="922.6"><stop offset="0" stop-color="#ff0000"/><stop offset="0.01667" stop-color="#ff1604"/><stop offset="0.03333" stop-color="#ff4d0e"/><stop offset="0.05" stop-color="#fcae24"/><stop offset="0.06667" stop-color="#cfff47"/><stop offset="0.08333" stop-color="#4eff5d"/><stop offset="0.1" stop-color="#15edcb"/><stop offset="0.1167" stop-color="#0081ff"/><stop offset="0.1333" stop-color="#1c00ff"/><stop offset="0.15" stop-color="#a400ff"/><stop offset="0.1667" stop-color="#ec00ff"/><stop offset="0.1833" stop-color="#e200ff"/><stop offset="0.2" stop-color="#9b00ff"/><stop offset="0.2167" stop-color="#2500ff"/><stop offset="0.2333" stop-color="#0066ff"/><stop offset="0.25" stop-color="#09e9e9"/><stop offset="0.2667" stop-color="#3fff62"/><stop offset="0.2833" stop-color="#bcff4a"/><stop offset="0.3" stop-color="#f9d331"/><stop offset="0.3167" stop-color="#ff8d19"/><stop offset="0.3333" stop-color="#ff5f11"/><stop offset="0.35" stop-color="#ff550f"/><stop offset="0.3667" stop-color="#ff6f14"/><stop offset="0.3833" stop-color="#fda421"/><stop offset="0.4" stop-color="#f7ec3a"/><stop offset="0.4167" stop-color="#a3ff4f"/><stop offset="0.4333" stop-color="#3afd6e"/><stop offset="0.45" stop-color="#0deadf"/><stop offset="0.4667" stop-color="#0095ff"/><stop offset="0.4833" stop-color="#003aff"/><stop offset="0.5" stop-color="#0005ff"/><stop offset="0.5167" stop-color="#0002ff"/><stop offset="0.5333" stop-color="#002aff"/><stop offset="0.55" stop-color="#0073ff"/><stop offset="0.5667" stop-color="#00d5ff"/><stop offset="0.5833" stop-color="#21f2ae"/><stop offset="0.6" stop-color="#54ff5c"/><stop offset="0.6167" stop-color="#b0ff4c"/><stop offset="0.6333" stop-color="#f6f63d"/><stop offset="0.65" stop-color="#fac52c"/><stop offset="0.6667" stop-color="#fda922"/><stop offset="0.6833" stop-color="#fda822"/><stop offset="0.7" stop-color="#fbc12b"/><stop offset="0.7167" stop-color="#f6f03b"/><stop offset="0.7333" stop-color="#bbff4a"/><stop offset="0.75" stop-color="#63ff5a"/><stop offset="0.7667" stop-color="#27f59e"/><stop offset="0.7833" stop-color="#01e5fd"/><stop offset="0.8" stop-color="#0083ff"/><stop offset="0.8167" stop-color="#0033ff"/><stop offset="0.8333" stop-color="#0000ff"/><stop offset="0.85" stop-color="#1000ff"/><stop offset="0.8667" stop-color="#0100ff"/><stop offset="0.8833" stop-color="#001fff"/><stop offset="0.9" stop-color="#0051ff"/><stop offset="0.9167" stop-color="#0095ff"/><stop offset="0.9333" stop-color="#02e6fa"/><stop offset="0.95" stop-color="#25f4a4"/><stop offset="0.9667" stop-color="#5fff5a"/><stop offset="0.9833" stop-color="#cdff47"/><stop offset="1" stop-color="#fbbe2a"/></linearGradient>
<linearGradient id="a31" gradientUnits="userSpaceOnUse" x1="119.3" x2="922.6"><stop offset="0" stop-color="#ff0000"/><stop offset="0.01667" stop-color="#ff1604"/><stop offset="0.03333" stop-color="#ff4d0e"/><stop offset="0.05" stop-color="#fcae24"/><stop offset="0.06667" stop-color="#cfff47"/><stop offset="0.08333" stop-color="#4eff5e"/><stop offset="0.1" stop-color="#15eecb"/><stop offset="0.1167" stop-color="#0083ff"/><stop offset="0.1333" stop-color="#1800ff"/><stop offset="0.15" stop-color="#9f00ff"/><stop offset="0.1667" stop-color="#e600ff"/><stop offset="0.1833" stop-color="#dd00ff"/><stop offset="0.2" stop-color="#9d00ff"/><stop offset="0.2167" stop-color="#3100ff"/><stop offset="0.2333" stop-color="#0050ff"/><stop offset="0.25" stop-color="#00ddff"/><stop offset="0.2667" stop-color="#30f988"/><stop offset="0.2833" stop-color="#90ff52"/><stop offset="0.3" stop-color="#f5fa3e"/><stop offset="0.3167" stop-color="#fcb426"/><stop offset="0.3333" stop-color="#ff8318"/><stop offset="0.35" stop-color="#ff6f14"/><stop offset="0.3667" stop-color="#ff7b16"/><stop offset="0.3833" stop-color="#fea01f"/><stop offset="0.4" stop-color="#f9d632"/><stop offset="0.4167" stop-color="#d5ff46"/><stop offset="0.4333" stop-color="#78ff56"/><stop offset="0.45" stop-color="#30f889"/><stop offset="0.4667" stop-color="#0ae9e7"/><stop offset="0.4833" stop-color="#009fff"/><stop offset="0.5" stop-color="#0054ff"/><stop offset="0.5167" stop-color="#0028ff"/><stop offset="0.5333" stop-color="#0022ff"/><stop offset="0.55" stop-color="#0040ff"/><stop offset="0.5667" stop-color="#007bff"/><stop offset="0.5833" stop-color="#00caff"/><stop offset="0.6" stop-color="#17eec6"/><stop offset="0.6167" stop-color="#39fc71"/><stop offset="0.6333" stop-color="#81ff54"/><stop offset="0.65" stop-color="#cdff47"/><stop offset="0.6667" stop-color="#f7eb39"/><stop offset="0.6833" stop-color="#fac52c"/><stop offset="0.7" stop-color="#fcb125"/><stop offset="0.7167" stop-color="#fcb527"/><stop offset="0.7333" stop-color="#f9cf30"/><stop offset="0.75" stop-color="#f5fc3f"/><stop offset="0.7667" stop-color="#b1ff4c"/><stop offset="0.7833" stop-color="#5eff5b"/><stop offset="0.8" stop-color="#28f59c"/><stop offset="0.8167" stop-color="#04e7f6"/><stop offset="0.8333" stop-color="#008fff"/><stop offset="0.85" stop-color="#0040ff"/><stop offset="0.8667" stop-color="#0009ff"/><stop offset="0.8833" stop-color="#1000ff"/><stop offset="0.9" stop-color="#0300ff"/><stop offset="0.9167" stop-color="#0024ff"/><stop offset="0.9333" stop-color="#0065ff"/><stop offset="0.95" stop-color="#00bcff"/><stop offset="0.9667" stop-color="#16eec7"/><stop offset="0.9833" stop-color="#41ff60"/><stop offset="1" stop-color="#b1ff4c"/></linearGradient>
<linearGradient id="a32" gradientUnits="userSpaceOnUse" x1="119.3" x2="922.6"><stop offset="0" stop-color="#ff0000"/><stop offset="0.01667" stop-color="#ff1604"/><stop offset="0.03333" stop-color="#ff4d0e"/><stop offset="0.05" stop-color="#fcb025"/><stop offset="0.06667" stop-color="#cbff48"/><stop offset="0.08333" stop-color="#4bff5e"/><stop offset="0.1" stop-color="#14edcd"/><stop offset="0.1167" stop-color="#0084ff"/><stop offset="0.1333" stop-color="#1200ff"/><stop offset="0.15" stop-color="#9400ff"/><stop offset="0.1667" stop-color="#d900ff"/><stop offset="0.1833" stop-color="#d100ff"/><stop offset="0.2" stop-color="#9100ff"/><stop offset="0.2167" stop-color="#2700ff"/><stop offset="0.2333" stop-color="#0056ff"/><stop offset="0.25" stop-color="#00e0ff"/><stop offset="0.2667" stop-color="#2ff88a"/><stop offset="0.2833" stop-color="#88ff53"/><stop offset="0.3" stop-color="#ecff42"/><stop offset="0.3167" stop-color="#fac72d"/><stop offset="0.3333" stop-color="#fe9f1f"/><stop offset="0.35" stop-color="#fe961c"/><stop offset="0.3667" stop-color="#fda622"/><stop offset="0.3833" stop-color="#fac82d"/><stop offset="0.4" stop-color="#f6f73d"/><stop offset="0.4167" stop-color="#b8ff4b"/><stop offset="0.4333" stop-color="#6bff58"/><stop offset="0.45" stop-color="#31f985"/><stop offset="0.4667" stop-color="#12ecd2"/><stop offset="0.4833" stop-color="#00cbff"/><stop offset="0.5" stop-color="#008fff"/><stop offset="0.5167" stop-color="#006bff"/><stop offset="0.5333" stop-color="#0066ff"/><stop offset="0.55" stop-color="#007dff"/><stop offset="0.5667" stop-color="#00aaff"/><stop offset="0.5833" stop-color="#01e5fd"/><stop offset="0.6" stop-color="#1aefbf"/><stop offset="0.6167" stop-color="#35fb7b"/><stop offset="0.6333" stop-color="#69ff59"/><stop offset="0.65" stop-color="#a9ff4d"/><stop offset="0.6667" stop-color="#e3ff43"/><stop offset="0.6833" stop-color="#f7e838"/><stop offset="0.7" stop-color="#f9ce2f"/><stop offset="0.7167" stop-color="#fac32b"/><stop offset="0.7333" stop-color="#faca2e"/><stop offset="0.75" stop-color="#f7e437"/><stop offset="0.7667" stop-color="#e4ff43"/><stop offset="0.7833" stop-color="#a4ff4e"/><stop offset="0.8" stop-color="#5bff5b"/><stop offset="0.8167" stop-color="#2bf694"/><stop offset="0.8333" stop-color="#0be9e5"/><stop offset="0.85" stop-color="#00acff"/><stop offset="0.8667" stop-color="#0060ff"/><stop offset="0.8833" stop-color="#0026ff"/><stop offset="0.9" stop-color="#0004ff"/><stop offset="0.9167" stop-color="#0100ff"/><stop offset="0.9333" stop-color="#001fff"/><stop offset="0.95" stop-color="#0060ff"/><stop offset="0.9667" stop-color="#00b9ff"/><stop offset="0.9833" stop-color="#16eec9"/><stop offset="1" stop-color="#3ffe63"/></linearGradient>
<linearGradient id="a33" gradientUnits="userSpaceOnUse" x1="119.3" x2="922.6"><stop offset="0" stop-color="#ff0000"/><stop offset="0.01667" stop-color="#ff1604"/><stop offset="0.03333" stop-color="#ff4d0e"/><stop offset="0.05" stop-color="#fcb025"/><stop offset="0.06667" stop-color="#caff48"/><stop offset="0.08333" stop-color="#4bff5e"/><stop offset="0.1" stop-color="#14edcd"/><stop offset="0.1167" stop-color="#0085ff"/><stop offset="0.1333" stop-color="#1000ff"/><stop offset="0.15" stop-color="#8f00ff"/><stop offset="0.1667" stop-color="#ce00ff"/><stop offset="0.1833" stop-color="#c000ff"/><stop offset="0.2" stop-color="#7b00ff"/><stop offset="0.2167" stop-color="#0c00ff"/><stop offset="0.2333" stop-color="#0073ff"/><stop offset="0.25" stop-color="#08e8ea"/><stop offset="0.2667" stop-color="#39fc71"/><stop offset="0.2833" stop-color="#9cff50"/><stop offset="0.3" stop-color="#f5fc3f"/><stop offset="0.3167" stop-color="#fac52c"/><stop offset="0.3333" stop-color="#fdaa23"/><stop offset="0.35" stop-color="#fcae24"/><stop offset="0.3667" stop-color="#fac42c"/><stop offset="0.3833" stop-color="#f8e336"/><stop offset="0.4" stop-color="#f2ff41"/><stop offset="0.4167" stop-color="#d2ff46"/><stop offset="0.4333" stop-color="#b1ff4c"/><stop offset="0.45" stop-color="#8eff52"/><stop offset="0.4667" stop-color="#69ff59"/><stop offset="0.4833" stop-color="#44ff5f"/><stop offset="0.5" stop-color="#33fa81"/><stop offset="0.5167" stop-color="#25f4a4"/><stop offset="0.5333" stop-color="#18efc4"/><stop offset="0.55" stop-color="#0deadf"/><stop offset="0.5667" stop-color="#04e7f5"/><stop offset="0.5833" stop-color="#00dfff"/><stop offset="0.6" stop-color="#00d8ff"/><stop offset="0.6167" stop-color="#00deff"/><stop offset="0.6333" stop-color="#07e8ee"/><stop offset="0.65" stop-color="#16eec9"/><stop offset="0.6667" stop-color="#29f69a"/><stop offset="0.6833" stop-color="#3efe65"/><stop offset="0.7" stop-color="#71ff57"/><stop offset="0.7167" stop-color="#a5ff4e"/><stop offset="0.7333" stop-color="#d3ff46"/><stop offset="0.75" stop-color="#f5fc3f"/><stop offset="0.7667" stop-color="#f7e838"/><stop offset="0.7833" stop-color="#f8e036"/><stop offset="0.8" stop-color="#f6f03b"/><stop offset="0.8167" stop-color="#d6ff45"/><stop offset="0.8333" stop-color="#8eff52"/><stop offset="0.85" stop-color="#3dfe68"/><stop offset="0.8667" stop-color="#17eec7"/><stop offset="0.8833" stop-color="#00bcff"/><stop offset="0.9" stop-color="#005fff"/><stop offset="0.9167" stop-color="#001cff"/><stop offset="0.9333" stop-color="#0200ff"/><stop offset="0.95" stop-color="#0001ff"/><stop offset="0.9667" stop-color="#0013ff"/><stop offset="0.9833" stop-color="#0033ff"/><stop offset="1" stop-color="#0063ff"/></linearGradient>
<linearGradient id="a34" gradientUnits="userSpaceOnUse" x1="119.3" x2="922.6"><stop offset="0" stop-color="#ff0000"/><stop offset="0.01667" stop-color="#ff1604"/><stop offset="0.03333" stop-color="#ff4e0e"/><stop offset="0.05" stop-color="#fcb025"/><stop offset="0.06667" stop-color="#caff48"/><stop offset="0.08333" stop-color="#4aff5e"/><stop offset="0.1" stop-color="#15edcc"/><stop offset="0.1167" stop-color="#0088ff"/><stop offset="0.1333" stop-color="#0900ff"/><stop offset="0.15" stop-color="#8300ff"/><stop offset="0.1667" stop-color="#bd00ff"/><stop offset="0.1833" stop-color="#a900ff"/><stop offset="0.2" stop-color="#5e00ff"/><stop offset="0.2167" stop-color="#0013ff"/><stop offset="0.2333" stop-color="#0093ff"/><stop offset="0.25" stop-color="#14edce"/><stop offset="0.2667" stop-color="#48ff5f"/><stop offset="0.2833" stop-color="#afff4c"/><stop offset="0.3" stop-color="#f6f33c"/><stop offset="0.3167" stop-color="#fac82d"/><stop offset="0.3333" stop-color="#fbbb29"/><stop offset="0.35" stop-color="#fac62c"/><stop offset="0.3667" stop-color="#f8dd34"/><stop offset="0.3833" stop-color="#f5fb3f"/><stop offset="0.4" stop-color="#d4ff46"/><stop offset="0.4167" stop-color="#b2ff4c"/><stop offset="0.4333" stop-color="#8fff52"/><stop offset="0.45" stop-color="#68ff59"/><stop offset="0.4667" stop-color="#40ff60"/><stop offset="0.4833" stop-color="#30f889"/><stop offset="0.5" stop-color="#21f2ac"/><stop offset="0.5167" stop-color="#16eec8"/><stop offset="0.5333" stop-color="#10ebd8"/><stop offset="0.55" stop-color="#0eebdc"/><stop offset="0.5667" stop-color="#0deade"/><stop offset="0.5833" stop-color="#0ceae0"/><stop offset="0.6" stop-color="#0ceae2"/><stop offset="0.6167" stop-color="#0beae3"/><stop offset="0.6333" stop-color="#0be9e4"/><stop offset="0.65" stop-color="#0ceae1"/><stop offset="0.6667" stop-color="#14edce"/><stop offset="0.6833" stop-color="#22f3aa"/><stop offset="0.7" stop-color="#35fb7b"/><stop offset="0.7167" stop-color="#59ff5c"/><stop offset="0.7333" stop-color="#8fff52"/><stop offset="0.75" stop-color="#c3ff49"/><stop offset="0.7667" stop-color="#f0ff41"/><stop offset="0.7833" stop-color="#f7e738"/><stop offset="0.8" stop-color="#f9d732"/><stop offset="0.8167" stop-color="#f8d933"/><stop offset="0.8333" stop-color="#f6f53d"/><stop offset="0.85" stop-color="#c2ff49"/><stop offset="0.8667" stop-color="#71ff57"/><stop offset="0.8833" stop-color="#2ef88d"/><stop offset="0.9" stop-color="#07e8ed"/><stop offset="0.9167" stop-color="#0092ff"/><stop offset="0.9333" stop-color="#003eff"/><stop offset="0.95" stop-color="#0009ff"/><stop offset="0.9667" stop-color="#0300ff"/><stop offset="0.9833" stop-color="#0000ff"/><stop offset="1" stop-color="#000eff"/></linearGradient>
<linearGradient id="a35" gradientUnits="userSpaceOnUse" x1="119.3" x2="922.6"><stop offset="0" stop-color="#ff0000"/><stop offset="0.01667" stop-color="#ff1604"/><stop offset="0.03333" stop-color="#ff4e0e"/><stop offset="0.05" stop-color="#fcb025"/><stop offset="0.06667" stop-color="#caff48"/><stop offset="0.08333" stop-color="#4aff5e"/><stop offset="0.1" stop-color="#15edcc"/><stop offset="0.1167" stop-color="#0088ff"/><stop offset="0.1333" stop-color="#0900ff"/><stop offset="0.15" stop-color="#8300ff"/><stop offset="0.1667" stop-color="#bd00ff"/><stop offset="0.1833" stop-color="#a900ff"/><stop offset="0.2" stop-color="#5f00ff"/><stop offset="0.2167" stop-color="#0012ff"/><stop offset="0.2333" stop-color="#0091ff"/><stop offset="0.25" stop-color="#13edd0"/><stop offset="0.2667" stop-color="#47ff5f"/><stop offset="0.2833" stop-color="#b0ff4c"/><stop offset="0.3" stop-color="#f6f13b"/><stop offset="0.3167" stop-color="#fbc12b"/><stop offset="0.3333" stop-color="#fcb025"/><stop offset="0.35" stop-color="#fbba28"/><stop offset="0.3667" stop-color="#f9d632"/><stop offset="0.3833" stop-color="#f4ff40"/><stop offset="0.4" stop-color="#b7ff4b"/><stop offset="0.4167" stop-color="#76ff56"/><stop offset="0.4333" stop-color="#3cfe69"/><stop offset="0.45" stop-color="#25f4a2"/><stop offset="0.4667" stop-color="#14edcd"/><stop offset="0.4833" stop-color="#0ceae2"/><stop offset="0.5" stop-color="#0ceae2"/><stop offset="0.5167" stop-color="#0febd9"/><stop offset="0.5333" stop-color="#14edcc"/><stop offset="0.55" stop-color="#1af0be"/><stop offset="0.5667" stop-color="#1ff2b2"/><stop offset="0.5833" stop-color="#22f3aa"/><stop offset="0.6" stop-color="#22f3ac"/><stop offset="0.6167" stop-color="#1cf1b9"/><stop offset="0.6333" stop-color="#15eecb"/><stop offset="0.65" stop-color="#0eebdc"/><stop offset="0.6667" stop-color="#0be9e4"/><stop offset="0.6833" stop-color="#0eebdc"/><stop offset="0.7" stop-color="#18efc4"/><stop offset="0.7167" stop-color="#27f59f"/><stop offset="0.7333" stop-color="#39fc72"/><stop offset="0.75" stop-color="#5fff5a"/><stop offset="0.7667" stop-color="#91ff52"/><stop offset="0.7833" stop-color="#c1ff49"/><stop offset="0.8" stop-color="#ecff42"/><stop offset="0.8167" stop-color="#f7eb39"/><stop offset="0.8333" stop-color="#f8da33"/><stop offset="0.85" stop-color="#f9d632"/><stop offset="0.8667" stop-color="#f7ed3a"/><stop offset="0.8833" stop-color="#ccff47"/><stop offset="0.9" stop-color="#76ff56"/><stop offset="0.9167" stop-color="#2ef88d"/><stop offset="0.9333" stop-color="#05e7f3"/><stop offset="0.95" stop-color="#0088ff"/><stop offset="0.9667" stop-color="#0038ff"/><stop offset="0.9833" stop-color="#0010ff"/><stop offset="1" stop-color="#000eff"/></linearGradient>
<linearGradient id="a36" gradientUnits="userSpaceOnUse" x1="119.3" x2="922.6"><stop offset="0" stop-color="#ff0000"/><stop offset="0.01667" stop-color="#ff1604"/><stop offset="0.03333" stop-color="#ff4e0e"/><stop offset="0.05" stop-color="#fcb025"/><stop offset="0.06667" stop-color="#caff48"/><stop offset="0.08333" stop-color="#4aff5e"/><stop offset="0.1" stop-color="#15edcc"/><stop offset="0.1167" stop-color="#0088ff"/><stop offset="0.1333" stop-color="#0700ff"/><stop offset="0.15" stop-color="#8000ff"/><stop offset="0.1667" stop-color="#b700ff"/><stop offset="0.1833" stop-color="#a100ff"/><stop offset="0.2" stop-color="#5600ff"/><stop offset="0.2167" stop-color="#001aff"/><stop offset="0.2333" stop-color="#0099ff"/><stop offset="0.25" stop-color="#16eec9"/><stop offset="0.2667" stop-color="#4fff5d"/><stop offset="0.2833" stop-color="#baff4a"/><stop offset="0.3" stop-color="#f7e638"/><stop offset="0.3167" stop-color="#fcb426"/><stop offset="0.3333" stop-color="#fe9d1f"/><stop offset="0.35" stop-color="#fda622"/><stop offset="0.3667" stop-color="#fac52c"/><stop offset="0.3833" stop-color="#f6f33c"/><stop offset="0.4" stop-color="#bdff4a"/><stop offset="0.4167" stop-color="#71ff57"/><stop offset="0.4333" stop-color="#36fb79"/><stop offset="0.45" stop-color="#1bf0bd"/><stop offset="0.4667" stop-color="#06e8ef"/><stop offset="0.4833" stop-color="#00d9ff"/><stop offset="0.5" stop-color="#00ddff"/><stop offset="0.5167" stop-color="#07e8ee"/><stop offset="0.5333" stop-color="#16eeca"/><stop offset="0.55" stop-color="#26f5a0"/><stop offset="0.5667" stop-color="#36fb78"/><stop offset="0.5833" stop-color="#47ff5f"/><stop offset="0.6" stop-color="#56ff5c"/><stop offset="0.6167" stop-color="#51ff5d"/><stop offset="0.6333" stop-color="#3dfe68"/><stop offset="0.65" stop-color="#2ef88d"/><stop offset="0.6667" stop-color="#1df1b7"/><stop offset="0.6833" stop-color="#0deade"/><stop offset="0.7" stop-color="#01e5fd"/><stop offset="0.7167" stop-color="#00d8ff"/><stop offset="0.7333" stop-color="#00e2ff"/><stop offset="0.75" stop-color="#0be9e4"/><stop offset="0.7667" stop-color="#1ef1b5"/><stop offset="0.7833" stop-color="#35fa7c"/><stop offset="0.8" stop-color="#62ff5a"/><stop offset="0.8167" stop-color="#9fff4f"/><stop offset="0.8333" stop-color="#d8ff45"/><stop offset="0.85" stop-color="#f6f03b"/><stop offset="0.8667" stop-color="#f9d532"/><stop offset="0.8833" stop-color="#faca2e"/><stop offset="0.9" stop-color="#f8de35"/><stop offset="0.9167" stop-color="#d4ff46"/><stop offset="0.9333" stop-color="#6bff58"/><stop offset="0.95" stop-color="#22f3aa"/><stop offset="0.9667" stop-color="#00cdff"/><stop offset="0.9833" stop-color="#0079ff"/><stop offset="1" stop-color="#0064ff"/></linearGradient>
<linearGradient id="a37" gradientUnits="userSpaceOnUse" x1="119.3" x2="922.6"><stop offset="0" stop-color="#ff0000"/><stop offset="0.01667" stop-color="#ff1604"/><stop offset="0.03333" stop-color="#ff4e0e"/><stop offset="0.05" stop-color="#fcb025"/><stop offset="0.06667" stop-color="#caff48"/><stop offset="0.08333" stop-color="#4aff5e"/><stop offset="0.1" stop-color="#15edcb"/><stop offset="0.1167" stop-color="#0089ff"/><stop offset="0.1333" stop-color="#0600ff"/><stop offset="0.15" stop-color="#7d00ff"/><stop offset="0.1667" stop-color="#b100ff"/><stop offset="0.1833" stop-color="#9900ff"/><stop offset="0.2" stop-color="#4d00ff"/><stop offset="0.2167" stop-color="#0022ff"/><stop offset="0.2333" stop-color="#00a2ff"/><stop offset="0.25" stop-color="#19efc1"/><stop offset="0.2667" stop-color="#57ff5c"/><stop offset="0.2833" stop-color="#c3ff49"/><stop offset="0.3" stop-color="#f8dd34"/><stop offset="0.3167" stop-color="#fda722"/><stop offset="0.3333" stop-color="#ff8c19"/><stop offset="0.35" stop-color="#ff921b"/><stop offset="0.3667" stop-color="#fcb226"/><stop offset="0.3833" stop-color="#f7e738"/><stop offset="0.4" stop-color="#c2ff49"/><stop offset="0.4167" stop-color="#69ff59"/><stop offset="0.4333" stop-color="#2df790"/><stop offset="0.45" stop-color="#0deadf"/><stop offset="0.4667" stop-color="#00c4ff"/><stop offset="0.4833" stop-color="#00a0ff"/><stop offset="0.5" stop-color="#00a6ff"/><stop offset="0.5167" stop-color="#00ceff"/><stop offset="0.5333" stop-color="#0deadf"/><stop offset="0.55" stop-color="#26f5a0"/><stop offset="0.5667" stop-color="#40ff60"/><stop offset="0.5833" stop-color="#76ff56"/><stop offset="0.6" stop-color="#9cff50"/><stop offset="0.6167" stop-color="#abff4d"/><stop offset="0.6333" stop-color="#9fff4f"/><stop offset="0.65" stop-color="#7eff55"/><stop offset="0.6667" stop-color="#4fff5d"/><stop offset="0.6833" stop-color="#30f889"/><stop offset="0.7" stop-color="#18efc3"/><stop offset="0.7167" stop-color="#03e6f8"/><stop offset="0.7333" stop-color="#00bcff"/><stop offset="0.75" stop-color="#00a1ff"/><stop offset="0.7667" stop-color="#00a3ff"/><stop offset="0.7833" stop-color="#00c4ff"/><stop offset="0.8" stop-color="#08e8ea"/><stop offset="0.8167" stop-color="#22f3ab"/><stop offset="0.8333" stop-color="#3ffe63"/><stop offset="0.85" stop-color="#84ff54"/><stop offset="0.8667" stop-color="#c8ff48"/><stop offset="0.8833" stop-color="#f6f43c"/><stop offset="0.9" stop-color="#f9d030"/><stop offset="0.9167" stop-color="#fbbd29"/><stop offset="0.9333" stop-color="#fbc02a"/><stop offset="0.95" stop-color="#f8de35"/><stop offset="0.9667" stop-color="#ddff44"/><stop offset="0.9833" stop-color="#8aff53"/><stop offset="1" stop-color="#37fb76"/></linearGradient>
<linearGradient id="a38" gradientUnits="userSpaceOnUse" x1="119.3" x2="922.6"><stop offset="0" stop-color="#ff0000"/><stop offset="0.01667" stop-color="#ff1604"/><stop offset="0.03333" stop-color="#ff4e0e"/><stop offset="0.05" stop-color="#fcb025"/><stop offset="0.06667" stop-color="#caff48"/><stop offset="0.08333" stop-color="#4aff5e"/><stop offset="0.1" stop-color="#15edcb"/><stop offset="0.1167" stop-color="#0089ff"/><stop offset="0.1333" stop-color="#0400ff"/><stop offset="0.15" stop-color="#7a00ff"/><stop offset="0.1667" stop-color="#ab00ff"/><stop offset="0.1833" stop-color="#9100ff"/><stop offset="0.2" stop-color="#4400ff"/><stop offset="0.2167" stop-color="#002aff"/><stop offset="0.2333" stop-color="#00a9ff"/><stop offset="0.25" stop-color="#1bf0bc"/><stop offset="0.2667" stop-color="#5aff5b"/><stop offset="0.2833" stop-color="#c6ff48"/><stop offset="0.3" stop-color="#f8dc34"/><stop offset="0.3167" stop-color="#fda622"/><stop offset="0.3333" stop-color="#ff8c19"/><stop offset="0.35" stop-color="#ff921b"/><stop offset="0.3667" stop-color="#fcb326"/><stop offset="0.3833" stop-color="#f7e838"/><stop offset="0.4" stop-color="#beff4a"/><stop offset="0.4167" stop-color="#62ff5a"/><stop offset="0.4333" stop-color="#27f59d"/><stop offset="0.45" stop-color="#04e7f5"/><stop offset="0.4667" stop-color="#009cff"/><stop offset="0.4833" stop-color="#0067ff"/><stop offset="0.5" stop-color="#005aff"/><stop offset="0.5167" stop-color="#0075ff"/><stop offset="0.5333" stop-color="#00aeff"/><stop offset="0.55" stop-color="#08e8ec"/><stop offset="0.5667" stop-color="#25f4a2"/><stop offset="0.5833" stop-color="#47ff5f"/><stop offset="0.6" stop-color="#86ff54"/><stop offset="0.6167" stop-color="#b5ff4b"/><stop offset="0.6333" stop-color="#cbff47"/><stop offset="0.65" stop-color="#c3ff49"/><stop offset="0.6667" stop-color="#a1ff4f"/><stop offset="0.6833" stop-color="#6dff58"/><stop offset="0.7" stop-color="#38fc73"/><stop offset="0.7167" stop-color="#1cf0b9"/><stop offset="0.7333" stop-color="#01e5fd"/><stop offset="0.75" stop-color="#00a4ff"/><stop offset="0.7667" stop-color="#0075ff"/><stop offset="0.7833" stop-color="#0064ff"/><stop offset="0.8" stop-color="#0075ff"/><stop offset="0.8167" stop-color="#00a2ff"/><stop offset="0.8333" stop-color="#00e4ff"/><stop offset="0.85" stop-color="#1bf0bc"/><stop offset="0.8667" stop-color="#3afc70"/><stop offset="0.8833" stop-color="#7cff55"/><stop offset="0.9" stop-color="#c3ff49"/><stop offset="0.9167" stop-color="#f6f53c"/><stop offset="0.9333" stop-color="#f9cd2f"/><stop offset="0.95" stop-color="#fcb527"/><stop offset="0.9667" stop-color="#fcb125"/><stop offset="0.9833" stop-color="#facd2f"/><stop offset="1" stop-color="#f6f93e"/></linearGradient>
<linearGradient id="a39" gradientUnits="userSpaceOnUse" x1="119.3" x2="922.6"><stop offset="0" stop-color="#ff0000"/><stop offset="0.01667" stop-color="#ff1604"/><stop offset="0.03333" stop-color="#ff4e0e"/><stop offset="0.05" stop-color="#fcb125"/><stop offset="0.06667" stop-color="#caff48"/><stop offset="0.08333" stop-color="#4aff5e"/><stop offset="0.1" stop-color="#15edcb"/><stop offset="0.1167" stop-color="#008aff"/><stop offset="0.1333" stop-color="#0300ff"/><stop offset="0.15" stop-color="#7700ff"/><stop offset="0.1667" stop-color="#a400ff"/><stop offset="0.1833" stop-color="#8800ff"/><stop offset="0.2" stop-color="#3b00ff"/><stop offset="0.2167" stop-color="#0032ff"/><stop offset="0.2333" stop-color="#00b0ff"/><stop offset="0.25" stop-color="#1df1b7"/><stop offset="0.2667" stop-color="#5eff5b"/><stop offset="0.2833" stop-color="#c8ff48"/><stop offset="0.3" stop-color="#f8db34"/><stop offset="0.3167" stop-color="#fda621"/><stop offset="0.3333" stop-color="#ff8c19"/><stop offset="0.35" stop-color="#ff911a"/><stop offset="0.3667" stop-color="#fcb125"/><stop offset="0.3833" stop-color="#f7e537"/><stop offset="0.4" stop-color="#c4ff49"/><stop offset="0.4167" stop-color="#69ff59"/><stop offset="0.4333" stop-color="#2bf695"/><stop offset="0.45" stop-color="#06e8ef"/><stop offset="0.4667" stop-color="#009fff"/><stop offset="0.4833" stop-color="#0061ff"/><stop offset="0.5" stop-color="#0048ff"/><stop offset="0.5167" stop-color="#0058ff"/><stop offset="0.5333" stop-color="#008aff"/><stop offset="0.55" stop-color="#00d3ff"/><stop offset="0.5667" stop-color="#18efc3"/><stop offset="0.5833" stop-color="#39fc72"/><stop offset="0.6" stop-color="#79ff56"/><stop offset="0.6167" stop-color="#b8ff4b"/><stop offset="0.6333" stop-color="#e6ff43"/><stop offset="0.65" stop-color="#f5fb3f"/><stop offset="0.6667" stop-color="#f0ff41"/><stop offset="0.6833" stop-color="#ccff47"/><stop offset="0.7" stop-color="#96ff51"/><stop offset="0.7167" stop-color="#54ff5d"/><stop offset="0.7333" stop-color="#2af697"/><stop offset="0.75" stop-color="#0ceae0"/><stop offset="0.7667" stop-color="#00bcff"/><stop offset="0.7833" stop-color="#0080ff"/><stop offset="0.8" stop-color="#005eff"/><stop offset="0.8167" stop-color="#005dff"/><stop offset="0.8333" stop-color="#007cff"/><stop offset="0.85" stop-color="#00b4ff"/><stop offset="0.8667" stop-color="#09e9e9"/><stop offset="0.8833" stop-color="#27f59f"/><stop offset="0.9" stop-color="#4fff5d"/><stop offset="0.9167" stop-color="#9aff50"/><stop offset="0.9333" stop-color="#dfff44"/><stop offset="0.95" stop-color="#f8e236"/><stop offset="0.9667" stop-color="#fbc02b"/><stop offset="0.9833" stop-color="#fcb025"/><stop offset="1" stop-color="#fcb025"/></linearGradient>
<linearGradient id="a40" gradientUnits="userSpaceOnUse" x1="119.3" x2="922.6"><stop offset="0" stop-color="#ff0000"/><stop offset="0.01667" stop-color="#ff1604"/><stop offset="0.03333" stop-color="#ff4e0e"/><stop offset="0.05" stop-color="#fcb226"/><stop offset="0.06667" stop-color="#c7ff48"/><stop offset="0.08333" stop-color="#48ff5f"/><stop offset="0.1" stop-color="#14edce"/><stop offset="0.1167" stop-color="#0088ff"/><stop offset="0.1333" stop-color="#0400ff"/><stop offset="0.15" stop-color="#7500ff"/><stop offset="0.1667" stop-color="#9f00ff"/><stop offset="0.1833" stop-color="#8200ff"/><stop offset="0.2" stop-color="#3400ff"/><stop offset="0.2167" stop-color="#0037ff"/><stop offset="0.2333" stop-color="#00b4ff"/><stop offset="0.25" stop-color="#1ef1b6"/><stop offset="0.2667" stop-color="#5eff5b"/><stop offset="0.2833" stop-color="#c6ff48"/><stop offset="0.3" stop-color="#f8de35"/><stop offset="0.3167" stop-color="#fdab23"/><stop offset="0.3333" stop-color="#ff931b"/><stop offset="0.35" stop-color="#fe991d"/><stop offset="0.3667" stop-color="#fbb928"/><stop offset="0.3833" stop-color="#f7ed3a"/><stop offset="0.4" stop-color="#bcff4a"/><stop offset="0.4167" stop-color="#62ff5a"/><stop offset="0.4333" stop-color="#28f59a"/><stop offset="0.45" stop-color="#05e7f2"/><stop offset="0.4667" stop-color="#009dff"/><stop offset="0.4833" stop-color="#0061ff"/><stop offset="0.5" stop-color="#0048ff"/><stop offset="0.5167" stop-color="#0054ff"/><stop offset="0.5333" stop-color="#007aff"/><stop offset="0.55" stop-color="#00b4ff"/><stop offset="0.5667" stop-color="#08e8ec"/><stop offset="0.5833" stop-color="#23f3a8"/><stop offset="0.6" stop-color="#3efe64"/><stop offset="0.6167" stop-color="#7aff56"/><stop offset="0.6333" stop-color="#afff4c"/><stop offset="0.65" stop-color="#d6ff45"/><stop offset="0.6667" stop-color="#ebff42"/><stop offset="0.6833" stop-color="#e7ff42"/><stop offset="0.7" stop-color="#cbff47"/><stop offset="0.7167" stop-color="#9dff50"/><stop offset="0.7333" stop-color="#62ff5a"/><stop offset="0.75" stop-color="#32f982"/><stop offset="0.7667" stop-color="#16eec8"/><stop offset="0.7833" stop-color="#00d8ff"/><stop offset="0.8" stop-color="#0097ff"/><stop offset="0.8167" stop-color="#006aff"/><stop offset="0.8333" stop-color="#0059ff"/><stop offset="0.85" stop-color="#006bff"/><stop offset="0.8667" stop-color="#00a0ff"/><stop offset="0.8833" stop-color="#03e6f8"/><stop offset="0.9" stop-color="#23f3a8"/><stop offset="0.9167" stop-color="#4bff5e"/><stop offset="0.9333" stop-color="#9aff50"/><stop offset="0.95" stop-color="#deff44"/><stop offset="0.9667" stop-color="#f7ea39"/><stop offset="0.9833" stop-color="#f9d632"/><stop offset="1" stop-color="#f9d532"/></linearGradient>
<linearGradient id="a41" gradientUnits="userSpaceOnUse" x1="119.3" x2="922.6"><stop offset="0" stop-color="#ff0000"/><stop offset="0.01667" stop-color="#ff1604"/><stop offset="0.03333" stop-color="#ff4e0e"/><stop offset="0.05" stop-color="#fcb326"/><stop offset="0.06667" stop-color="#c5ff48"/><stop offset="0.08333" stop-color="#46ff5f"/><stop offset="0.1" stop-color="#13edd0"/><stop offset="0.1167" stop-color="#0085ff"/><stop offset="0.1333" stop-color="#0500ff"/><stop offset="0.15" stop-color="#7300ff"/><stop offset="0.1667" stop-color="#9b00ff"/><stop offset="0.1833" stop-color="#7b00ff"/><stop offset="0.2" stop-color="#2d00ff"/><stop offset="0.2167" stop-color="#003dff"/><stop offset="0.2333" stop-color="#00b8ff"/><stop offset="0.25" stop-color="#1ef1b4"/><stop offset="0.2667" stop-color="#5dff5b"/><stop offset="0.2833" stop-color="#c3ff49"/><stop offset="0.3" stop-color="#f8e236"/><stop offset="0.3167" stop-color="#fcb125"/><stop offset="0.3333" stop-color="#fe9a1d"/><stop offset="0.35" stop-color="#fda120"/><stop offset="0.3667" stop-color="#fbc02a"/><stop offset="0.3833" stop-color="#f6f13b"/><stop offset="0.4" stop-color="#bbff4a"/><stop offset="0.4167" stop-color="#67ff59"/><stop offset="0.4333" stop-color="#2df790"/><stop offset="0.45" stop-color="#0beae3"/><stop offset="0.4667" stop-color="#00b5ff"/><stop offset="0.4833" stop-color="#007cff"/><stop offset="0.5" stop-color="#0064ff"/><stop offset="0.5167" stop-color="#006dff"/><stop offset="0.5333" stop-color="#0087ff"/><stop offset="0.55" stop-color="#00b0ff"/><stop offset="0.5667" stop-color="#00e4ff"/><stop offset="0.5833" stop-color="#14edce"/><stop offset="0.6" stop-color="#29f69a"/><stop offset="0.6167" stop-color="#3efe66"/><stop offset="0.6333" stop-color="#68ff59"/><stop offset="0.65" stop-color="#90ff52"/><stop offset="0.6667" stop-color="#aeff4d"/><stop offset="0.6833" stop-color="#bfff49"/><stop offset="0.7" stop-color="#c1ff49"/><stop offset="0.7167" stop-color="#b1ff4c"/><stop offset="0.7333" stop-color="#91ff52"/><stop offset="0.75" stop-color="#67ff59"/><stop offset="0.7667" stop-color="#3bfd6c"/><stop offset="0.7833" stop-color="#25f4a3"/><stop offset="0.8" stop-color="#0febdb"/><stop offset="0.8167" stop-color="#00d3ff"/><stop offset="0.8333" stop-color="#009fff"/><stop offset="0.85" stop-color="#0079ff"/><stop offset="0.8667" stop-color="#0066ff"/><stop offset="0.8833" stop-color="#0068ff"/><stop offset="0.9" stop-color="#007eff"/><stop offset="0.9167" stop-color="#00a5ff"/><stop offset="0.9333" stop-color="#00dbff"/><stop offset="0.95" stop-color="#14edce"/><stop offset="0.9667" stop-color="#2ff88a"/><stop offset="0.9833" stop-color="#61ff5a"/><stop offset="1" stop-color="#b2ff4c"/></linearGradient>
<linearGradient id="a42" gradientUnits="userSpaceOnUse" x1="119.3" x2="922.6"><stop offset="0" stop-color="#ff0000"/><stop offset="0.01667" stop-color="#ff1604"/><stop offset="0.03333" stop-color="#ff4f0e"/><stop offset="0.05" stop-color="#fcb426"/><stop offset="0.06667" stop-color="#c3ff49"/><stop offset="0.08333" stop-color="#44ff5f"/><stop offset="0.1" stop-color="#12ecd2"/><stop offset="0.1167" stop-color="#0083ff"/><stop offset="0.1333" stop-color="#0500ff"/><stop offset="0.15" stop-color="#7200ff"/><stop offset="0.1667" stop-color="#9600ff"/><stop offset="0.1833" stop-color="#7500ff"/><stop offset="0.2" stop-color="#2700ff"/><stop offset="0.2167" stop-color="#0042ff"/><stop offset="0.2333" stop-color="#00bbff"/><stop offset="0.25" stop-color="#1ff2b2"/><stop offset="0.2667" stop-color="#5cff5b"/><stop offset="0.2833" stop-color="#c0ff49"/><stop offset="0.3" stop-color="#f7e638"/><stop offset="0.3167" stop-color="#fcb727"/><stop offset="0.3333" stop-color="#fda120"/><stop offset="0.35" stop-color="#fda822"/><stop offset="0.3667" stop-color="#fac32c"/><stop offset="0.3833" stop-color="#f7ed3a"/><stop offset="0.4" stop-color="#caff48"/><stop offset="0.4167" stop-color="#82ff54"/><stop offset="0.4333" stop-color="#3dfe67"/><stop offset="0.45" stop-color="#21f2ae"/><stop offset="0.4667" stop-color="#09e9e9"/><stop offset="0.4833" stop-color="#00cfff"/><stop offset="0.5" stop-color="#00bbff"/><stop offset="0.5167" stop-color="#00bfff"/><stop offset="0.5333" stop-color="#00cfff"/><stop offset="0.55" stop-color="#00e5fe"/><stop offset="0.5667" stop-color="#0be9e4"/><stop offset="0.5833" stop-color="#17eec6"/><stop offset="0.6" stop-color="#24f4a6"/><stop offset="0.6167" stop-color="#31f984"/><stop offset="0.6333" stop-color="#3ffe63"/><stop offset="0.65" stop-color="#5aff5b"/><stop offset="0.6667" stop-color="#74ff57"/><stop offset="0.6833" stop-color="#89ff53"/><stop offset="0.7" stop-color="#97ff51"/><stop offset="0.7167" stop-color="#9dff50"/><stop offset="0.7333" stop-color="#98ff50"/><stop offset="0.75" stop-color="#86ff54"/><stop offset="0.7667" stop-color="#6bff58"/><stop offset="0.7833" stop-color="#47ff5f"/><stop offset="0.8" stop-color="#32f982"/><stop offset="0.8167" stop-color="#21f2ae"/><stop offset="0.8333" stop-color="#0febda"/><stop offset="0.85" stop-color="#00e1ff"/><stop offset="0.8667" stop-color="#00b7ff"/><stop offset="0.8833" stop-color="#0098ff"/><stop offset="0.9" stop-color="#0085ff"/><stop offset="0.9167" stop-color="#0083ff"/><stop offset="0.9333" stop-color="#0099ff"/><stop offset="0.95" stop-color="#00c6ff"/><stop offset="0.9667" stop-color="#0be9e4"/><stop offset="0.9833" stop-color="#24f4a6"/><stop offset="1" stop-color="#3fff62"/></linearGradient>
<linearGradient id="a43" gradientUnits="userSpaceOnUse" x1="119.3" x2="922.6"><stop offset="0" stop-color="#ff0000"/><stop offset="0.01667" stop-color="#ff1604"/><stop offset="0.03333" stop-color="#ff4f0e"/><stop offset="0.05" stop-color="#fcb527"/><stop offset="0.06667" stop-color="#c1ff49"/><stop offset="0.08333" stop-color="#42ff60"/><stop offset="0.1" stop-color="#11ecd4"/><stop offset="0.1167" stop-color="#0081ff"/><stop offset="0.1333" stop-color="#0600ff"/><stop offset="0.15" stop-color="#7000ff"/><stop offset="0.1667" stop-color="#9000ff"/><stop offset="0.1833" stop-color="#6f00ff"/><stop offset="0.2" stop-color="#2000ff"/><stop offset="0.2167" stop-color="#0047ff"/><stop offset="0.2333" stop-color="#00bfff"/><stop offset="0.25" stop-color="#1ff2b1"/><stop offset="0.2667" stop-color="#5cff5b"/><stop offset="0.2833" stop-color="#bdff4a"/><stop offset="0.3" stop-color="#f7ea39"/><stop offset="0.3167" stop-color="#fbbd29"/><stop offset="0.3333" stop-color="#fda922"/><stop offset="0.35" stop-color="#fcb025"/><stop offset="0.3667" stop-color="#fac92e"/><stop offset="0.3833" stop-color="#f6f13b"/><stop offset="0.4" stop-color="#caff48"/><stop offset="0.4167" stop-color="#87ff53"/><stop offset="0.4333" stop-color="#43ff5f"/><stop offset="0.45" stop-color="#27f59e"/><stop offset="0.4667" stop-color="#11ecd5"/><stop offset="0.4833" stop-color="#02e6fb"/><stop offset="0.5" stop-color="#00d7ff"/><stop offset="0.5167" stop-color="#00daff"/><stop offset="0.5333" stop-color="#00e5ff"/><stop offset="0.55" stop-color="#05e7f1"/><stop offset="0.5667" stop-color="#0deae0"/><stop offset="0.5833" stop-color="#15eeca"/><stop offset="0.6" stop-color="#1ff1b3"/><stop offset="0.6167" stop-color="#28f59b"/><stop offset="0.6333" stop-color="#32fa82"/><stop offset="0.65" stop-color="#3cfe69"/><stop offset="0.6667" stop-color="#4dff5e"/><stop offset="0.6833" stop-color="#61ff5a"/><stop offset="0.7" stop-color="#71ff57"/><stop offset="0.7167" stop-color="#7dff55"/><stop offset="0.7333" stop-color="#84ff54"/><stop offset="0.75" stop-color="#85ff54"/><stop offset="0.7667" stop-color="#7cff55"/><stop offset="0.7833" stop-color="#6bff58"/><stop offset="0.8" stop-color="#52ff5d"/><stop offset="0.8167" stop-color="#3bfd6d"/><stop offset="0.8333" stop-color="#2df790"/><stop offset="0.85" stop-color="#1ef1b5"/><stop offset="0.8667" stop-color="#0febd9"/><stop offset="0.8833" stop-color="#01e6fb"/><stop offset="0.9" stop-color="#00c6ff"/><stop offset="0.9167" stop-color="#00abff"/><stop offset="0.9333" stop-color="#0098ff"/><stop offset="0.95" stop-color="#0092ff"/><stop offset="0.9667" stop-color="#00a2ff"/><stop offset="0.9833" stop-color="#00c6ff"/><stop offset="1" stop-color="#05e7f3"/></linearGradient>
<linearGradient id="a44" gradientUnits="userSpaceOnUse" x1="119.3" x2="922.6"><stop offset="0" stop-color="#ff0000"/><stop offset="0.01667" stop-color="#ff1604"/><stop offset="0.03333" stop-color="#ff510f"/><stop offset="0.05" stop-color="#fbba28"/><stop offset="0.06667" stop-color="#b7ff4b"/><stop offset="0.08333" stop-color="#3efe66"/><stop offset="0.1" stop-color="#0eebdd"/><stop offset="0.1167" stop-color="#007bff"/><stop offset="0.1333" stop-color="#0800ff"/><stop offset="0.15" stop-color="#6d00ff"/><stop offset="0.1667" stop-color="#8a00ff"/><stop offset="0.1833" stop-color="#6700ff"/><stop offset="0.2" stop-color="#1800ff"/><stop offset="0.2167" stop-color="#004eff"/><stop offset="0.2333" stop-color="#00c5ff"/><stop offset="0.25" stop-color="#21f2ad"/><stop offset="0.2667" stop-color="#5eff5b"/><stop offset="0.2833" stop-color="#beff4a"/><stop offset="0.3" stop-color="#f7eb39"/><stop offset="0.3167" stop-color="#fbbe2a"/><stop offset="0.3333" stop-color="#fdab23"/><stop offset="0.35" stop-color="#fcb326"/><stop offset="0.3667" stop-color="#facc2f"/><stop offset="0.3833" stop-color="#f6f43c"/><stop offset="0.4" stop-color="#c7ff48"/><stop offset="0.4167" stop-color="#84ff54"/><stop offset="0.4333" stop-color="#41ff60"/><stop offset="0.45" stop-color="#26f59f"/><stop offset="0.4667" stop-color="#11ecd6"/><stop offset="0.4833" stop-color="#02e6fb"/><stop offset="0.5" stop-color="#00d7ff"/><stop offset="0.5167" stop-color="#00dbff"/><stop offset="0.5333" stop-color="#00e5ff"/><stop offset="0.55" stop-color="#06e7f0"/><stop offset="0.5667" stop-color="#0deade"/><stop offset="0.5833" stop-color="#16eec9"/><stop offset="0.6" stop-color="#1ff2b2"/><stop offset="0.6167" stop-color="#28f59b"/><stop offset="0.6333" stop-color="#31f984"/><stop offset="0.65" stop-color="#3afd6f"/><stop offset="0.6667" stop-color="#43ff5f"/><stop offset="0.6833" stop-color="#51ff5d"/><stop offset="0.7" stop-color="#5aff5b"/><stop offset="0.7167" stop-color="#63ff5a"/><stop offset="0.7333" stop-color="#6bff58"/><stop offset="0.75" stop-color="#72ff57"/><stop offset="0.7667" stop-color="#78ff56"/><stop offset="0.7833" stop-color="#7cff55"/><stop offset="0.8" stop-color="#7cff55"/><stop offset="0.8167" stop-color="#70ff57"/><stop offset="0.8333" stop-color="#58ff5c"/><stop offset="0.85" stop-color="#3cfd6a"/><stop offset="0.8667" stop-color="#2bf793"/><stop offset="0.8833" stop-color="#1af0bf"/><stop offset="0.9" stop-color="#09e9e9"/><stop offset="0.9167" stop-color="#00d1ff"/><stop offset="0.9333" stop-color="#00aeff"/><stop offset="0.95" stop-color="#0097ff"/><stop offset="0.9667" stop-color="#0093ff"/><stop offset="0.9833" stop-color="#00a1ff"/><stop offset="1" stop-color="#00baff"/></linearGradient>
<linearGradient id="a45" gradientUnits="userSpaceOnUse" x1="119.3" x2="922.6"><stop offset="0" stop-color="#ff0000"/><stop offset="0.01667" stop-color="#ff1604"/><stop offset="0.03333" stop-color="#ff520f"/><stop offset="0.05" stop-color="#fbbf2a"/><stop offset="0.06667" stop-color="#aeff4d"/><stop offset="0.08333" stop-color="#3afd6e"/><stop offset="0.1" stop-color="#0be9e5"/><stop offset="0.1167" stop-color="#0074ff"/><stop offset="0.1333" stop-color="#0a00ff"/><stop offset="0.15" stop-color="#6900ff"/><stop offset="0.1667" stop-color="#8300ff"/><stop offset="0.1833" stop-color="#5f00ff"/><stop offset="0.2" stop-color="#1100ff"/><stop offset="0.2167" stop-color="#0054ff"/><stop offset="0.2333" stop-color="#00caff"/><stop offset="0.25" stop-color="#22f3aa"/><stop offset="0.2667" stop-color="#60ff5a"/><stop offset="0.2833" stop-color="#bfff4a"/><stop offset="0.3" stop-color="#f7eb39"/><stop offset="0.3167" stop-color="#fbbf2a"/><stop offset="0.3333" stop-color="#fcad24"/><stop offset="0.35" stop-color="#fbb727"/><stop offset="0.3667" stop-color="#f9d732"/><stop offset="0.3833" stop-color="#edff41"/><stop offset="0.4" stop-color="#a6ff4e"/><stop offset="0.4167" stop-color="#5aff5b"/><stop offset="0.4333" stop-color="#2cf792"/><stop offset="0.45" stop-color="#11ecd6"/><stop offset="0.4667" stop-color="#00dbff"/><stop offset="0.4833" stop-color="#00bdff"/><stop offset="0.5" stop-color="#00beff"/><stop offset="0.5167" stop-color="#00ccff"/><stop offset="0.5333" stop-color="#00e4ff"/><stop offset="0.55" stop-color="#0ae9e5"/><stop offset="0.5667" stop-color="#17eec7"/><stop offset="0.5833" stop-color="#23f3a7"/><stop offset="0.6" stop-color="#30f888"/><stop offset="0.6167" stop-color="#3bfd6c"/><stop offset="0.6333" stop-color="#4bff5e"/><stop offset="0.65" stop-color="#5aff5b"/><stop offset="0.6667" stop-color="#60ff5a"/><stop offset="0.6833" stop-color="#5eff5b"/><stop offset="0.7" stop-color="#57ff5c"/><stop offset="0.7167" stop-color="#4eff5e"/><stop offset="0.7333" stop-color="#45ff5f"/><stop offset="0.75" stop-color="#40ff60"/><stop offset="0.7667" stop-color="#41ff60"/><stop offset="0.7833" stop-color="#49ff5e"/><stop offset="0.8" stop-color="#55ff5c"/><stop offset="0.8167" stop-color="#62ff5a"/><stop offset="0.8333" stop-color="#6bff58"/><stop offset="0.85" stop-color="#6eff58"/><stop offset="0.8667" stop-color="#5fff5a"/><stop offset="0.8833" stop-color="#40ff60"/><stop offset="0.9" stop-color="#2ff88b"/><stop offset="0.9167" stop-color="#1cf0ba"/><stop offset="0.9333" stop-color="#0ae9e7"/><stop offset="0.95" stop-color="#00d7ff"/><stop offset="0.9667" stop-color="#00beff"/><stop offset="0.9833" stop-color="#00bfff"/><stop offset="1" stop-color="#00d6ff"/></linearGradient>
<linearGradient id="a46" gradientUnits="userSpaceOnUse" x1="119.3" x2="922.6"><stop offset="0" stop-color="#ff0000"/><stop offset="0.01667" stop-color="#ff1604"/><stop offset="0.03333" stop-color="#ff540f"/><stop offset="0.05" stop-color="#fac52c"/><stop offset="0.06667" stop-color="#a4ff4e"/><stop offset="0.08333" stop-color="#37fb77"/><stop offset="0.1" stop-color="#07e8ed"/><stop offset="0.1167" stop-color="#006fff"/><stop offset="0.1333" stop-color="#0b00ff"/><stop offset="0.15" stop-color="#6500ff"/><stop offset="0.1667" stop-color="#7c00ff"/><stop offset="0.1833" stop-color="#5800ff"/><stop offset="0.2" stop-color="#0900ff"/><stop offset="0.2167" stop-color="#005aff"/><stop offset="0.2333" stop-color="#00d0ff"/><stop offset="0.25" stop-color="#24f3a6"/><stop offset="0.2667" stop-color="#62ff5a"/><stop offset="0.2833" stop-color="#c0ff49"/><stop offset="0.3" stop-color="#f7ec39"/><stop offset="0.3167" stop-color="#fbc12b"/><stop offset="0.3333" stop-color="#fcb025"/><stop offset="0.35" stop-color="#fbba28"/><stop offset="0.3667" stop-color="#f9d833"/><stop offset="0.3833" stop-color="#eeff41"/><stop offset="0.4" stop-color="#a9ff4d"/><stop offset="0.4167" stop-color="#5dff5b"/><stop offset="0.4333" stop-color="#2cf791"/><stop offset="0.45" stop-color="#0febda"/><stop offset="0.4667" stop-color="#00c8ff"/><stop offset="0.4833" stop-color="#0096ff"/><stop offset="0.5" stop-color="#0081ff"/><stop offset="0.5167" stop-color="#008bff"/><stop offset="0.5333" stop-color="#00a8ff"/><stop offset="0.55" stop-color="#00d5ff"/><stop offset="0.5667" stop-color="#0deadf"/><stop offset="0.5833" stop-color="#21f2ad"/><stop offset="0.6" stop-color="#35fb7b"/><stop offset="0.6167" stop-color="#51ff5d"/><stop offset="0.6333" stop-color="#74ff57"/><stop offset="0.65" stop-color="#8aff53"/><stop offset="0.6667" stop-color="#8fff52"/><stop offset="0.6833" stop-color="#84ff54"/><stop offset="0.7" stop-color="#6fff58"/><stop offset="0.7167" stop-color="#54ff5d"/><stop offset="0.7333" stop-color="#3cfd6a"/><stop offset="0.75" stop-color="#31f985"/><stop offset="0.7667" stop-color="#29f698"/><stop offset="0.7833" stop-color="#26f5a0"/><stop offset="0.8" stop-color="#2cf793"/><stop offset="0.8167" stop-color="#38fc74"/><stop offset="0.8333" stop-color="#51ff5d"/><stop offset="0.85" stop-color="#71ff57"/><stop offset="0.8667" stop-color="#84ff54"/><stop offset="0.8833" stop-color="#85ff54"/><stop offset="0.9" stop-color="#80ff55"/><stop offset="0.9167" stop-color="#76ff57"/><stop offset="0.9333" stop-color="#66ff59"/><stop offset="0.95" stop-color="#50ff5d"/><stop offset="0.9667" stop-color="#3bfd6d"/><stop offset="0.9833" stop-color="#2cf793"/><stop offset="1" stop-color="#19efc0"/></linearGradient>
<linearGradient id="a47" gradientUnits="userSpaceOnUse" x1="119.3" x2="922.6"><stop offset="0" stop-color="#ff0000"/><stop offset="0.01667" stop-color="#ff1604"/><stop offset="0.03333" stop-color="#ff5910"/><stop offset="0.05" stop-color="#f9d431"/><stop offset="0.06667" stop-color="#8aff53"/><stop offset="0.08333" stop-color="#2ef88e"/><stop offset="0.1" stop-color="#00e2ff"/><stop offset="0.1167" stop-color="#005dff"/><stop offset="0.1333" stop-color="#1400ff"/><stop offset="0.15" stop-color="#6500ff"/><stop offset="0.1667" stop-color="#7800ff"/><stop offset="0.1833" stop-color="#5200ff"/><stop offset="0.2" stop-color="#0200ff"/><stop offset="0.2167" stop-color="#0062ff"/><stop offset="0.2333" stop-color="#00d8ff"/><stop offset="0.25" stop-color="#27f59f"/><stop offset="0.2667" stop-color="#6aff59"/><stop offset="0.2833" stop-color="#c8ff48"/><stop offset="0.3" stop-color="#f7e637"/><stop offset="0.3167" stop-color="#fbbb29"/><stop offset="0.3333" stop-color="#fdab23"/><stop offset="0.35" stop-color="#fcb627"/><stop offset="0.3667" stop-color="#f9d532"/><stop offset="0.3833" stop-color="#efff41"/><stop offset="0.4" stop-color="#a7ff4e"/><stop offset="0.4167" stop-color="#58ff5c"/><stop offset="0.4333" stop-color="#29f699"/><stop offset="0.45" stop-color="#0be9e5"/><stop offset="0.4667" stop-color="#00b9ff"/><stop offset="0.4833" stop-color="#0085ff"/><stop offset="0.5" stop-color="#0070ff"/><stop offset="0.5167" stop-color="#007aff"/><stop offset="0.5333" stop-color="#009bff"/><stop offset="0.55" stop-color="#00ccff"/><stop offset="0.5667" stop-color="#0ceae1"/><stop offset="0.5833" stop-color="#23f3a9"/><stop offset="0.6" stop-color="#39fc71"/><stop offset="0.6167" stop-color="#62ff5a"/><stop offset="0.6333" stop-color="#8cff53"/><stop offset="0.65" stop-color="#a9ff4d"/><stop offset="0.6667" stop-color="#b4ff4b"/><stop offset="0.6833" stop-color="#acff4d"/><stop offset="0.7" stop-color="#93ff51"/><stop offset="0.7167" stop-color="#70ff58"/><stop offset="0.7333" stop-color="#48ff5f"/><stop offset="0.75" stop-color="#32f982"/><stop offset="0.7667" stop-color="#24f4a5"/><stop offset="0.7833" stop-color="#1bf0bc"/><stop offset="0.8" stop-color="#19efc1"/><stop offset="0.8167" stop-color="#1ef1b4"/><stop offset="0.8333" stop-color="#29f699"/><stop offset="0.85" stop-color="#37fb76"/><stop offset="0.8667" stop-color="#4fff5d"/><stop offset="0.8833" stop-color="#71ff57"/><stop offset="0.9" stop-color="#8cff53"/><stop offset="0.9167" stop-color="#9bff50"/><stop offset="0.9333" stop-color="#9bff50"/><stop offset="0.95" stop-color="#8dff52"/><stop offset="0.9667" stop-color="#74ff57"/><stop offset="0.9833" stop-color="#52ff5d"/><stop offset="1" stop-color="#37fb77"/></linearGradient>
<linearGradient id="a48" gradientUnits="userSpaceOnUse" x1="119.3" x2="922.6"><stop offset="0" stop-color="#ff0000"/><stop offset="0.01667" stop-color="#ff1604"/><stop offset="0.03333" stop-color="#ff5f11"/><stop offset="0.05" stop-color="#f7e637"/><stop offset="0.06667" stop-color="#6fff58"/><stop offset="0.08333" stop-color="#24f4a5"/><stop offset="0.1" stop-color="#00caff"/><stop offset="0.1167" stop-color="#004dff"/><stop offset="0.1333" stop-color="#1b00ff"/><stop offset="0.15" stop-color="#6400ff"/><stop offset="0.1667" stop-color="#7300ff"/><stop offset="0.1833" stop-color="#4c00ff"/><stop offset="0.2" stop-color="#0005ff"/><stop offset="0.2167" stop-color="#006aff"/><stop offset="0.2333" stop-color="#00e0ff"/><stop offset="0.25" stop-color="#2af697"/><stop offset="0.2667" stop-color="#72ff57"/><stop offset="0.2833" stop-color="#cfff47"/><stop offset="0.3" stop-color="#f8df35"/><stop offset="0.3167" stop-color="#fcb627"/><stop offset="0.3333" stop-color="#fda621"/><stop offset="0.35" stop-color="#fcb226"/><stop offset="0.3667" stop-color="#f9d431"/><stop offset="0.3833" stop-color="#ebff42"/><stop offset="0.4" stop-color="#9fff4f"/><stop offset="0.4167" stop-color="#4bff5e"/><stop offset="0.4333" stop-color="#21f2ad"/><stop offset="0.45" stop-color="#00e5fe"/><stop offset="0.4667" stop-color="#0096ff"/><stop offset="0.4833" stop-color="#005fff"/><stop offset="0.5" stop-color="#0048ff"/><stop offset="0.5167" stop-color="#0055ff"/><stop offset="0.5333" stop-color="#007eff"/><stop offset="0.55" stop-color="#00bcff"/><stop offset="0.5667" stop-color="#0ceae2"/><stop offset="0.5833" stop-color="#28f59d"/><stop offset="0.6" stop-color="#48ff5f"/><stop offset="0.6167" stop-color="#84ff54"/><stop offset="0.6333" stop-color="#b4ff4c"/><stop offset="0.65" stop-color="#d2ff46"/><stop offset="0.6667" stop-color="#d9ff45"/><stop offset="0.6833" stop-color="#cbff48"/><stop offset="0.7" stop-color="#acff4d"/><stop offset="0.7167" stop-color="#83ff54"/><stop offset="0.7333" stop-color="#54ff5c"/><stop offset="0.75" stop-color="#35fa7c"/><stop offset="0.7667" stop-color="#22f3a9"/><stop offset="0.7833" stop-color="#14edcd"/><stop offset="0.8" stop-color="#0ceae1"/><stop offset="0.8167" stop-color="#0ceae2"/><stop offset="0.8333" stop-color="#12ecd3"/><stop offset="0.85" stop-color="#1df1b8"/><stop offset="0.8667" stop-color="#2af696"/><stop offset="0.8833" stop-color="#3afd6f"/><stop offset="0.9" stop-color="#57ff5c"/><stop offset="0.9167" stop-color="#7aff56"/><stop offset="0.9333" stop-color="#96ff51"/><stop offset="0.95" stop-color="#a7ff4e"/><stop offset="0.9667" stop-color="#abff4d"/><stop offset="0.9833" stop-color="#a7ff4e"/><stop offset="1" stop-color="#9dff4f"/></linearGradient>
<linearGradient id="a49" gradientUnits="userSpaceOnUse" x1="119.3" x2="922.6"><stop offset="0" stop-color="#ff0000"/><stop offset="0.01667" stop-color="#ff1604"/><stop offset="0.03333" stop-color="#ff6612"/><stop offset="0.05" stop-color="#f6f93e"/><stop offset="0.06667" stop-color="#55ff5c"/><stop offset="0.08333" stop-color="#1bf0bb"/><stop offset="0.1" stop-color="#00b4ff"/><stop offset="0.1167" stop-color="#003fff"/><stop offset="0.1333" stop-color="#2200ff"/><stop offset="0.15" stop-color="#6200ff"/><stop offset="0.1667" stop-color="#6e00ff"/><stop offset="0.1833" stop-color="#4600ff"/><stop offset="0.2" stop-color="#000bff"/><stop offset="0.2167" stop-color="#0071ff"/><stop offset="0.2333" stop-color="#01e6fc"/><stop offset="0.25" stop-color="#2df78f"/><stop offset="0.2667" stop-color="#79ff56"/><stop offset="0.2833" stop-color="#d7ff45"/><stop offset="0.3" stop-color="#f8d933"/><stop offset="0.3167" stop-color="#fcb025"/><stop offset="0.3333" stop-color="#fda120"/><stop offset="0.35" stop-color="#fcae24"/><stop offset="0.3667" stop-color="#f9d331"/><stop offset="0.3833" stop-color="#e8ff42"/><stop offset="0.4" stop-color="#97ff51"/><stop offset="0.4167" stop-color="#40ff61"/><stop offset="0.4333" stop-color="#1bf0bc"/><stop offset="0.45" stop-color="#00d4ff"/><stop offset="0.4667" stop-color="#0086ff"/><stop offset="0.4833" stop-color="#0055ff"/><stop offset="0.5" stop-color="#0048ff"/><stop offset="0.5167" stop-color="#005cff"/><stop offset="0.5333" stop-color="#0085ff"/><stop offset="0.55" stop-color="#00c0ff"/><stop offset="0.5667" stop-color="#0be9e4"/><stop offset="0.5833" stop-color="#24f4a5"/><stop offset="0.6" stop-color="#3efe66"/><stop offset="0.6167" stop-color="#72ff57"/><stop offset="0.6333" stop-color="#a0ff4f"/><stop offset="0.65" stop-color="#bfff4a"/><stop offset="0.6667" stop-color="#ccff47"/><stop offset="0.6833" stop-color="#c4ff49"/><stop offset="0.7" stop-color="#acff4d"/><stop offset="0.7167" stop-color="#89ff53"/><stop offset="0.7333" stop-color="#5eff5b"/><stop offset="0.75" stop-color="#3afc70"/><stop offset="0.7667" stop-color="#27f59e"/><stop offset="0.7833" stop-color="#17eec5"/><stop offset="0.8" stop-color="#0beae3"/><stop offset="0.8167" stop-color="#05e7f2"/><stop offset="0.8333" stop-color="#05e7f1"/><stop offset="0.85" stop-color="#07e8ed"/><stop offset="0.8667" stop-color="#0ae9e5"/><stop offset="0.8833" stop-color="#0febd9"/><stop offset="0.9" stop-color="#16eec9"/><stop offset="0.9167" stop-color="#1ef1b3"/><stop offset="0.9333" stop-color="#29f699"/><stop offset="0.95" stop-color="#36fb79"/><stop offset="0.9667" stop-color="#4bff5e"/><stop offset="0.9833" stop-color="#75ff57"/><stop offset="1" stop-color="#a5ff4e"/></linearGradient>
<linearGradient id="cba" x1="0" y1="0" x2="0" y2="1"><stop offset="0.000" stop-color="#ff0000"/><stop offset="0.171" stop-color="#ff901a"/><stop offset="0.307" stop-color="#f5ff40"/><stop offset="0.485" stop-color="#40ff60"/><stop offset="0.635" stop-color="#00e5ff"/><stop offset="0.818" stop-color="#0000ff"/><stop offset="1.000" stop-color="#ff00ff"/></linearGradient>
<clipPath id="cb"><rect x="1206" y="13.6" width="799.4000000000001" height="666.4"/></clipPath>
<filter id="fb" x="-5%" y="-5%" width="110%" height="110%" color-interpolation-filters="sRGB"><feGaussianBlur stdDeviation="0 1.8"/></filter>
<linearGradient id="b0" gradientUnits="userSpaceOnUse" x1="1206" x2="2005.4"><stop offset="0" stop-color="#ff0000"/><stop offset="0.01667" stop-color="#ff0401"/><stop offset="0.03333" stop-color="#ff370a"/><stop offset="0.05" stop-color="#ff8518"/><stop offset="0.06667" stop-color="#f8e236"/><stop offset="0.08333" stop-color="#a4ff4e"/><stop offset="0.1" stop-color="#3efe64"/><stop offset="0.1167" stop-color="#11ecd5"/><stop offset="0.1333" stop-color="#0084ff"/><stop offset="0.15" stop-color="#0500ff"/><stop offset="0.1667" stop-color="#7700ff"/><stop offset="0.1833" stop-color="#a600ff"/><stop offset="0.2" stop-color="#9000ff"/><stop offset="0.2167" stop-color="#4f00ff"/><stop offset="0.2333" stop-color="#000aff"/><stop offset="0.25" stop-color="#0063ff"/><stop offset="0.2667" stop-color="#00b7ff"/><stop offset="0.2833" stop-color="#08e8eb"/><stop offset="0.3" stop-color="#20f2b0"/><stop offset="0.3167" stop-color="#36fb7a"/><stop offset="0.3333" stop-color="#53ff5d"/><stop offset="0.35" stop-color="#7eff55"/><stop offset="0.3667" stop-color="#a9ff4d"/><stop offset="0.3833" stop-color="#cfff47"/><stop offset="0.4" stop-color="#eeff41"/><stop offset="0.4167" stop-color="#f6f63d"/><stop offset="0.4333" stop-color="#f6f23c"/><stop offset="0.45" stop-color="#f6f23c"/><stop offset="0.4667" stop-color="#f6f23c"/><stop offset="0.4833" stop-color="#f6f23c"/><stop offset="0.5" stop-color="#f6f73d"/><stop offset="0.5167" stop-color="#e5ff43"/><stop offset="0.5333" stop-color="#bbff4a"/><stop offset="0.55" stop-color="#85ff54"/><stop offset="0.5667" stop-color="#46ff5f"/><stop offset="0.5833" stop-color="#27f59f"/><stop offset="0.6" stop-color="#0be9e4"/><stop offset="0.6167" stop-color="#00b8ff"/><stop offset="0.6333" stop-color="#0074ff"/><stop offset="0.65" stop-color="#0040ff"/><stop offset="0.6667" stop-color="#001eff"/><stop offset="0.6833" stop-color="#0016ff"/><stop offset="0.7" stop-color="#0029ff"/><stop offset="0.7167" stop-color="#0054ff"/><stop offset="0.7333" stop-color="#0090ff"/><stop offset="0.75" stop-color="#00d7ff"/><stop offset="0.7667" stop-color="#15eeca"/><stop offset="0.7833" stop-color="#2ff88a"/><stop offset="0.8" stop-color="#50ff5d"/><stop offset="0.8167" stop-color="#7dff55"/><stop offset="0.8333" stop-color="#9aff50"/><stop offset="0.85" stop-color="#a2ff4f"/><stop offset="0.8667" stop-color="#9aff50"/><stop offset="0.8833" stop-color="#87ff53"/><stop offset="0.9" stop-color="#6dff58"/><stop offset="0.9167" stop-color="#4fff5d"/><stop offset="0.9333" stop-color="#3afc70"/><stop offset="0.95" stop-color="#2ef88c"/><stop offset="0.9667" stop-color="#26f4a1"/><stop offset="0.9833" stop-color="#21f2ad"/><stop offset="1" stop-color="#21f2ae"/></linearGradient>
<linearGradient id="b1" gradientUnits="userSpaceOnUse" x1="1206" x2="2005.4"><stop offset="0" stop-color="#ff0000"/><stop offset="0.01667" stop-color="#ff0401"/><stop offset="0.03333" stop-color="#ff370a"/><stop offset="0.05" stop-color="#ff8718"/><stop offset="0.06667" stop-color="#f7e437"/><stop offset="0.08333" stop-color="#a2ff4f"/><stop offset="0.1" stop-color="#3efe64"/><stop offset="0.1167" stop-color="#14edcd"/><stop offset="0.1333" stop-color="#0099ff"/><stop offset="0.15" stop-color="#0019ff"/><stop offset="0.1667" stop-color="#5800ff"/><stop offset="0.1833" stop-color="#9d00ff"/><stop offset="0.2" stop-color="#a000ff"/><stop offset="0.2167" stop-color="#6c00ff"/><stop offset="0.2333" stop-color="#1600ff"/><stop offset="0.25" stop-color="#0047ff"/><stop offset="0.2667" stop-color="#00a0ff"/><stop offset="0.2833" stop-color="#00e5fe"/><stop offset="0.3" stop-color="#15edcc"/><stop offset="0.3167" stop-color="#28f59b"/><stop offset="0.3333" stop-color="#3afd6e"/><stop offset="0.35" stop-color="#5dff5b"/><stop offset="0.3667" stop-color="#8eff52"/><stop offset="0.3833" stop-color="#bdff4a"/><stop offset="0.4" stop-color="#e5ff43"/><stop offset="0.4167" stop-color="#f6f73d"/><stop offset="0.4333" stop-color="#f6f23c"/><stop offset="0.45" stop-color="#f6f23c"/><stop offset="0.4667" stop-color="#f6f23c"/><stop offset="0.4833" stop-color="#f6f23c"/><stop offset="0.5" stop-color="#f6f73d"/><stop offset="0.5167" stop-color="#e5ff43"/><stop offset="0.5333" stop-color="#bbff4a"/><stop offset="0.55" stop-color="#85ff54"/><stop offset="0.5667" stop-color="#46ff5f"/><stop offset="0.5833" stop-color="#27f59f"/><stop offset="0.6" stop-color="#0be9e4"/><stop offset="0.6167" stop-color="#00b8ff"/><stop offset="0.6333" stop-color="#0074ff"/><stop offset="0.65" stop-color="#0040ff"/><stop offset="0.6667" stop-color="#001eff"/><stop offset="0.6833" stop-color="#0016ff"/><stop offset="0.7" stop-color="#0029ff"/><stop offset="0.7167" stop-color="#0054ff"/><stop offset="0.7333" stop-color="#0090ff"/><stop offset="0.75" stop-color="#00d7ff"/><stop offset="0.7667" stop-color="#15eeca"/><stop offset="0.7833" stop-color="#2ff88a"/><stop offset="0.8" stop-color="#50ff5d"/><stop offset="0.8167" stop-color="#7dff55"/><stop offset="0.8333" stop-color="#9aff50"/><stop offset="0.85" stop-color="#a2ff4f"/><stop offset="0.8667" stop-color="#9aff50"/><stop offset="0.8833" stop-color="#87ff53"/><stop offset="0.9" stop-color="#6dff58"/><stop offset="0.9167" stop-color="#4fff5d"/><stop offset="0.9333" stop-color="#3afc70"/><stop offset="0.95" stop-color="#2ef88c"/><stop offset="0.9667" stop-color="#26f4a1"/><stop offset="0.9833" stop-color="#21f2ad"/><stop offset="1" stop-color="#21f2ae"/></linearGradient>
<linearGradient id="b2" gradientUnits="userSpaceOnUse" x1="1206" x2="2005.4"><stop offset="0" stop-color="#ff0000"/><stop offset="0.01667" stop-color="#ff0401"/><stop offset="0.03333" stop-color="#ff370a"/><stop offset="0.05" stop-color="#ff8618"/><stop offset="0.06667" stop-color="#f8e136"/><stop offset="0.08333" stop-color="#a9ff4d"/><stop offset="0.1" stop-color="#49ff5e"/><stop offset="0.1167" stop-color="#21f2ad"/><stop offset="0.1333" stop-color="#00d8ff"/><stop offset="0.15" stop-color="#006dff"/><stop offset="0.1667" stop-color="#000eff"/><stop offset="0.1833" stop-color="#4400ff"/><stop offset="0.2" stop-color="#7500ff"/><stop offset="0.2167" stop-color="#7c00ff"/><stop offset="0.2333" stop-color="#6900ff"/><stop offset="0.25" stop-color="#4400ff"/><stop offset="0.2667" stop-color="#1000ff"/><stop offset="0.2833" stop-color="#002bff"/><stop offset="0.3" stop-color="#006cff"/><stop offset="0.3167" stop-color="#00b1ff"/><stop offset="0.3333" stop-color="#0ae9e6"/><stop offset="0.35" stop-color="#33fa7f"/><stop offset="0.3667" stop-color="#61ff5a"/><stop offset="0.3833" stop-color="#96ff51"/><stop offset="0.4" stop-color="#c3ff49"/><stop offset="0.4167" stop-color="#e7ff42"/><stop offset="0.4333" stop-color="#f6f73d"/><stop offset="0.45" stop-color="#f6ef3a"/><stop offset="0.4667" stop-color="#f7e939"/><stop offset="0.4833" stop-color="#f7e638"/><stop offset="0.5" stop-color="#f7ec39"/><stop offset="0.5167" stop-color="#f3ff40"/><stop offset="0.5333" stop-color="#c7ff48"/><stop offset="0.55" stop-color="#90ff52"/><stop offset="0.5667" stop-color="#50ff5d"/><stop offset="0.5833" stop-color="#2af697"/><stop offset="0.6" stop-color="#0deade"/><stop offset="0.6167" stop-color="#00bcff"/><stop offset="0.6333" stop-color="#0077ff"/><stop offset="0.65" stop-color="#0041ff"/><stop offset="0.6667" stop-color="#001fff"/><stop offset="0.6833" stop-color="#0016ff"/><stop offset="0.7" stop-color="#0024ff"/><stop offset="0.7167" stop-color="#0044ff"/><stop offset="0.7333" stop-color="#0071ff"/><stop offset="0.75" stop-color="#00a9ff"/><stop offset="0.7667" stop-color="#01e5fd"/><stop offset="0.7833" stop-color="#17eec7"/><stop offset="0.8" stop-color="#2cf791"/><stop offset="0.8167" stop-color="#40ff61"/><stop offset="0.8333" stop-color="#67ff59"/><stop offset="0.85" stop-color="#83ff54"/><stop offset="0.8667" stop-color="#92ff51"/><stop offset="0.8833" stop-color="#91ff52"/><stop offset="0.9" stop-color="#81ff54"/><stop offset="0.9167" stop-color="#69ff59"/><stop offset="0.9333" stop-color="#4bff5e"/><stop offset="0.95" stop-color="#38fc75"/><stop offset="0.9667" stop-color="#2cf792"/><stop offset="0.9833" stop-color="#24f4a6"/><stop offset="1" stop-color="#21f2ae"/></linearGradient>
<linearGradient id="b3" gradientUnits="userSpaceOnUse" x1="1206" x2="2005.4"><stop offset="0" stop-color="#ff0000"/><stop offset="0.01667" stop-color="#ff0401"/><stop offset="0.03333" stop-color="#ff3309"/><stop offset="0.05" stop-color="#ff7916"/><stop offset="0.06667" stop-color="#facc2f"/><stop offset="0.08333" stop-color="#c9ff48"/><stop offset="0.1" stop-color="#65ff5a"/><stop offset="0.1167" stop-color="#2bf695"/><stop offset="0.1333" stop-color="#02e6fa"/><stop offset="0.15" stop-color="#006eff"/><stop offset="0.1667" stop-color="#0a00ff"/><stop offset="0.1833" stop-color="#7e00ff"/><stop offset="0.2" stop-color="#d500ff"/><stop offset="0.2167" stop-color="#ff00ff"/><stop offset="0.2333" stop-color="#ff00ff"/><stop offset="0.25" stop-color="#dd00ff"/><stop offset="0.2667" stop-color="#a700ff"/><stop offset="0.2833" stop-color="#6400ff"/><stop offset="0.3" stop-color="#1f00ff"/><stop offset="0.3167" stop-color="#0028ff"/><stop offset="0.3333" stop-color="#0080ff"/><stop offset="0.35" stop-color="#07e8ed"/><stop offset="0.3667" stop-color="#4bff5e"/><stop offset="0.3833" stop-color="#98ff50"/><stop offset="0.4" stop-color="#dbff45"/><stop offset="0.4167" stop-color="#f7ea39"/><stop offset="0.4333" stop-color="#facd2f"/><stop offset="0.45" stop-color="#fbbf2a"/><stop offset="0.4667" stop-color="#fbbf2a"/><stop offset="0.4833" stop-color="#fbbf2a"/><stop offset="0.5" stop-color="#fac82d"/><stop offset="0.5167" stop-color="#f8df35"/><stop offset="0.5333" stop-color="#f3ff40"/><stop offset="0.55" stop-color="#bdff4a"/><stop offset="0.5667" stop-color="#81ff55"/><stop offset="0.5833" stop-color="#40ff61"/><stop offset="0.6" stop-color="#24f4a5"/><stop offset="0.6167" stop-color="#0ae9e7"/><stop offset="0.6333" stop-color="#00baff"/><stop offset="0.65" stop-color="#007eff"/><stop offset="0.6667" stop-color="#0051ff"/><stop offset="0.6833" stop-color="#0038ff"/><stop offset="0.7" stop-color="#0035ff"/><stop offset="0.7167" stop-color="#0041ff"/><stop offset="0.7333" stop-color="#0059ff"/><stop offset="0.75" stop-color="#007bff"/><stop offset="0.7667" stop-color="#00a3ff"/><stop offset="0.7833" stop-color="#00d1ff"/><stop offset="0.8" stop-color="#09e9e7"/><stop offset="0.8167" stop-color="#1af0be"/><stop offset="0.8333" stop-color="#2af697"/><stop offset="0.85" stop-color="#38fc73"/><stop offset="0.8667" stop-color="#4bff5e"/><stop offset="0.8833" stop-color="#61ff5a"/><stop offset="0.9" stop-color="#6eff58"/><stop offset="0.9167" stop-color="#71ff57"/><stop offset="0.9333" stop-color="#6aff59"/><stop offset="0.95" stop-color="#5dff5b"/><stop offset="0.9667" stop-color="#4fff5d"/><stop offset="0.9833" stop-color="#44ff5f"/><stop offset="1" stop-color="#40ff60"/></linearGradient>
<linearGradient id="b4" gradientUnits="userSpaceOnUse" x1="1206" x2="2005.4"><stop offset="0" stop-color="#ff0000"/><stop offset="0.01667" stop-color="#ff0401"/><stop offset="0.03333" stop-color="#ff3309"/><stop offset="0.05" stop-color="#ff7b16"/><stop offset="0.06667" stop-color="#f9cf30"/><stop offset="0.08333" stop-color="#c5ff49"/><stop offset="0.1" stop-color="#63ff5a"/><stop offset="0.1167" stop-color="#2cf791"/><stop offset="0.1333" stop-color="#07e8ed"/><stop offset="0.15" stop-color="#008cff"/><stop offset="0.1667" stop-color="#0022ff"/><stop offset="0.1833" stop-color="#3f00ff"/><stop offset="0.2" stop-color="#8a00ff"/><stop offset="0.2167" stop-color="#b100ff"/><stop offset="0.2333" stop-color="#b000ff"/><stop offset="0.25" stop-color="#9c00ff"/><stop offset="0.2667" stop-color="#7a00ff"/><stop offset="0.2833" stop-color="#4f00ff"/><stop offset="0.3" stop-color="#1f00ff"/><stop offset="0.3167" stop-color="#001cff"/><stop offset="0.3333" stop-color="#006aff"/><stop offset="0.35" stop-color="#00ceff"/><stop offset="0.3667" stop-color="#30f987"/><stop offset="0.3833" stop-color="#77ff56"/><stop offset="0.4" stop-color="#c3ff49"/><stop offset="0.4167" stop-color="#f6f33c"/><stop offset="0.4333" stop-color="#f9cd2f"/><stop offset="0.45" stop-color="#fbb928"/><stop offset="0.4667" stop-color="#fcb326"/><stop offset="0.4833" stop-color="#fcb025"/><stop offset="0.5" stop-color="#fcaf25"/><stop offset="0.5167" stop-color="#fcb627"/><stop offset="0.5333" stop-color="#facb2e"/><stop offset="0.55" stop-color="#f7eb39"/><stop offset="0.5667" stop-color="#dbff45"/><stop offset="0.5833" stop-color="#a1ff4f"/><stop offset="0.6" stop-color="#64ff5a"/><stop offset="0.6167" stop-color="#35fb7b"/><stop offset="0.6333" stop-color="#1cf0b9"/><stop offset="0.65" stop-color="#06e7f1"/><stop offset="0.6667" stop-color="#00bfff"/><stop offset="0.6833" stop-color="#0098ff"/><stop offset="0.7" stop-color="#0084ff"/><stop offset="0.7167" stop-color="#0084ff"/><stop offset="0.7333" stop-color="#008eff"/><stop offset="0.75" stop-color="#009dff"/><stop offset="0.7667" stop-color="#00b3ff"/><stop offset="0.7833" stop-color="#00ccff"/><stop offset="0.8" stop-color="#01e5fd"/><stop offset="0.8167" stop-color="#0be9e4"/><stop offset="0.8333" stop-color="#15edcc"/><stop offset="0.85" stop-color="#1ef1b5"/><stop offset="0.8667" stop-color="#26f5a0"/><stop offset="0.8833" stop-color="#2df78f"/><stop offset="0.9" stop-color="#32f982"/><stop offset="0.9167" stop-color="#35fb7b"/><stop offset="0.9333" stop-color="#35fb7a"/><stop offset="0.95" stop-color="#35fb7a"/><stop offset="0.9667" stop-color="#35fb7a"/><stop offset="0.9833" stop-color="#35fb7a"/><stop offset="1" stop-color="#35fb7a"/></linearGradient>
<linearGradient id="b5" gradientUnits="userSpaceOnUse" x1="1206" x2="2005.4"><stop offset="0" stop-color="#ff0000"/><stop offset="0.01667" stop-color="#ff0401"/><stop offset="0.03333" stop-color="#ff500e"/><stop offset="0.05" stop-color="#f9cf2f"/><stop offset="0.06667" stop-color="#8dff52"/><stop offset="0.08333" stop-color="#2af697"/><stop offset="0.1" stop-color="#00ccff"/><stop offset="0.1167" stop-color="#005fff"/><stop offset="0.1333" stop-color="#0027ff"/><stop offset="0.15" stop-color="#0400ff"/><stop offset="0.1667" stop-color="#1d00ff"/><stop offset="0.1833" stop-color="#1500ff"/><stop offset="0.2" stop-color="#000dff"/><stop offset="0.2167" stop-color="#0038ff"/><stop offset="0.2333" stop-color="#005eff"/><stop offset="0.25" stop-color="#0071ff"/><stop offset="0.2667" stop-color="#0077ff"/><stop offset="0.2833" stop-color="#007dff"/><stop offset="0.3" stop-color="#0080ff"/><stop offset="0.3167" stop-color="#0082ff"/><stop offset="0.3333" stop-color="#0081ff"/><stop offset="0.35" stop-color="#0077ff"/><stop offset="0.3667" stop-color="#0068ff"/><stop offset="0.3833" stop-color="#005aff"/><stop offset="0.4" stop-color="#0052ff"/><stop offset="0.4167" stop-color="#0082ff"/><stop offset="0.4333" stop-color="#0eebdc"/><stop offset="0.45" stop-color="#41ff60"/><stop offset="0.4667" stop-color="#95ff51"/><stop offset="0.4833" stop-color="#ebff42"/><stop offset="0.5" stop-color="#fac82d"/><stop offset="0.5167" stop-color="#fe991d"/><stop offset="0.5333" stop-color="#ff8718"/><stop offset="0.55" stop-color="#ff941c"/><stop offset="0.5667" stop-color="#fbb928"/><stop offset="0.5833" stop-color="#f6ef3b"/><stop offset="0.6" stop-color="#b7ff4b"/><stop offset="0.6167" stop-color="#60ff5a"/><stop offset="0.6333" stop-color="#29f699"/><stop offset="0.65" stop-color="#09e9e9"/><stop offset="0.6667" stop-color="#00b6ff"/><stop offset="0.6833" stop-color="#008aff"/><stop offset="0.7" stop-color="#0084ff"/><stop offset="0.7167" stop-color="#008eff"/><stop offset="0.7333" stop-color="#00a2ff"/><stop offset="0.75" stop-color="#00bcff"/><stop offset="0.7667" stop-color="#00d9ff"/><stop offset="0.7833" stop-color="#06e7f1"/><stop offset="0.8" stop-color="#0eebdc"/><stop offset="0.8167" stop-color="#15edcb"/><stop offset="0.8333" stop-color="#19efc0"/><stop offset="0.85" stop-color="#1ef1b6"/><stop offset="0.8667" stop-color="#22f3ab"/><stop offset="0.8833" stop-color="#26f4a1"/><stop offset="0.9" stop-color="#29f698"/><stop offset="0.9167" stop-color="#2df790"/><stop offset="0.9333" stop-color="#30f889"/><stop offset="0.95" stop-color="#32f983"/><stop offset="0.9667" stop-color="#34fa7e"/><stop offset="0.9833" stop-color="#35fb7b"/><stop offset="1" stop-color="#35fb7a"/></linearGradient>
<linearGradient id="b6" gradientUnits="userSpaceOnUse" x1="1206" x2="2005.4"><stop offset="0" stop-color="#ff0000"/><stop offset="0.01667" stop-color="#ff0401"/><stop offset="0.03333" stop-color="#ff6713"/><stop offset="0.05" stop-color="#e9ff42"/><stop offset="0.06667" stop-color="#3dfe67"/><stop offset="0.08333" stop-color="#01e5fe"/><stop offset="0.1" stop-color="#0034ff"/><stop offset="0.1167" stop-color="#6c00ff"/><stop offset="0.1333" stop-color="#cb00ff"/><stop offset="0.15" stop-color="#c500ff"/><stop offset="0.1667" stop-color="#6800ff"/><stop offset="0.1833" stop-color="#0026ff"/><stop offset="0.2" stop-color="#07e8ed"/><stop offset="0.2167" stop-color="#47ff5f"/><stop offset="0.2333" stop-color="#93ff51"/><stop offset="0.25" stop-color="#d2ff46"/><stop offset="0.2667" stop-color="#f6f63d"/><stop offset="0.2833" stop-color="#f8e136"/><stop offset="0.3" stop-color="#f7e537"/><stop offset="0.3167" stop-color="#d1ff46"/><stop offset="0.3333" stop-color="#5eff5b"/><stop offset="0.35" stop-color="#13edcf"/><stop offset="0.3667" stop-color="#007aff"/><stop offset="0.3833" stop-color="#0700ff"/><stop offset="0.4" stop-color="#4c00ff"/><stop offset="0.4167" stop-color="#3400ff"/><stop offset="0.4333" stop-color="#0025ff"/><stop offset="0.45" stop-color="#00a2ff"/><stop offset="0.4667" stop-color="#1cf1b8"/><stop offset="0.4833" stop-color="#6bff58"/><stop offset="0.5" stop-color="#e3ff43"/><stop offset="0.5167" stop-color="#fbc02a"/><stop offset="0.5333" stop-color="#ff911a"/><stop offset="0.55" stop-color="#ff8a19"/><stop offset="0.5667" stop-color="#fcae24"/><stop offset="0.5833" stop-color="#f6f03b"/><stop offset="0.6" stop-color="#9bff50"/><stop offset="0.6167" stop-color="#34fa7f"/><stop offset="0.6333" stop-color="#02e6fb"/><stop offset="0.65" stop-color="#006aff"/><stop offset="0.6667" stop-color="#000eff"/><stop offset="0.6833" stop-color="#1e00ff"/><stop offset="0.7" stop-color="#1100ff"/><stop offset="0.7167" stop-color="#0017ff"/><stop offset="0.7333" stop-color="#0050ff"/><stop offset="0.75" stop-color="#0096ff"/><stop offset="0.7667" stop-color="#00e0ff"/><stop offset="0.7833" stop-color="#16eec7"/><stop offset="0.8" stop-color="#2bf694"/><stop offset="0.8167" stop-color="#3afc70"/><stop offset="0.8333" stop-color="#40ff61"/><stop offset="0.85" stop-color="#3dfe69"/><stop offset="0.8667" stop-color="#33fa80"/><stop offset="0.8833" stop-color="#26f4a1"/><stop offset="0.9" stop-color="#17eec5"/><stop offset="0.9167" stop-color="#0ae9e7"/><stop offset="0.9333" stop-color="#00e4ff"/><stop offset="0.95" stop-color="#00d8ff"/><stop offset="0.9667" stop-color="#00d8ff"/><stop offset="0.9833" stop-color="#00d8ff"/><stop offset="1" stop-color="#00d8ff"/></linearGradient>
<linearGradient id="b7" gradientUnits="userSpaceOnUse" x1="1206" x2="2005.4"><stop offset="0" stop-color="#ff0000"/><stop offset="0.01667" stop-color="#ff0401"/><stop offset="0.03333" stop-color="#ff6e14"/><stop offset="0.05" stop-color="#d3ff46"/><stop offset="0.06667" stop-color="#33fa7f"/><stop offset="0.08333" stop-color="#00baff"/><stop offset="0.1" stop-color="#0700ff"/><stop offset="0.1167" stop-color="#b700ff"/><stop offset="0.1333" stop-color="#ff00ff"/><stop offset="0.15" stop-color="#ff00ff"/><stop offset="0.1667" stop-color="#be00ff"/><stop offset="0.1833" stop-color="#3400ff"/><stop offset="0.2" stop-color="#00b7ff"/><stop offset="0.2167" stop-color="#3dfe68"/><stop offset="0.2333" stop-color="#a8ff4e"/><stop offset="0.25" stop-color="#f7ee3a"/><stop offset="0.2667" stop-color="#fcb426"/><stop offset="0.2833" stop-color="#fe981d"/><stop offset="0.3" stop-color="#fda622"/><stop offset="0.3167" stop-color="#f8e136"/><stop offset="0.3333" stop-color="#acff4d"/><stop offset="0.35" stop-color="#36fb78"/><stop offset="0.3667" stop-color="#00e2ff"/><stop offset="0.3833" stop-color="#0054ff"/><stop offset="0.4" stop-color="#1200ff"/><stop offset="0.4167" stop-color="#3a00ff"/><stop offset="0.4333" stop-color="#0e00ff"/><stop offset="0.45" stop-color="#004aff"/><stop offset="0.4667" stop-color="#00aeff"/><stop offset="0.4833" stop-color="#11ecd5"/><stop offset="0.5" stop-color="#42ff60"/><stop offset="0.5167" stop-color="#b9ff4b"/><stop offset="0.5333" stop-color="#f8e236"/><stop offset="0.55" stop-color="#fbbf2a"/><stop offset="0.5667" stop-color="#f9d130"/><stop offset="0.5833" stop-color="#eaff42"/><stop offset="0.6" stop-color="#86ff54"/><stop offset="0.6167" stop-color="#2df790"/><stop offset="0.6333" stop-color="#00d7ff"/><stop offset="0.65" stop-color="#0055ff"/><stop offset="0.6667" stop-color="#0a00ff"/><stop offset="0.6833" stop-color="#3900ff"/><stop offset="0.7" stop-color="#2500ff"/><stop offset="0.7167" stop-color="#001bff"/><stop offset="0.7333" stop-color="#0074ff"/><stop offset="0.75" stop-color="#00e1ff"/><stop offset="0.7667" stop-color="#26f4a1"/><stop offset="0.7833" stop-color="#5cff5b"/><stop offset="0.8" stop-color="#a9ff4d"/><stop offset="0.8167" stop-color="#dfff44"/><stop offset="0.8333" stop-color="#f5fe40"/><stop offset="0.85" stop-color="#e5ff43"/><stop offset="0.8667" stop-color="#b0ff4c"/><stop offset="0.8833" stop-color="#62ff5a"/><stop offset="0.9" stop-color="#28f59c"/><stop offset="0.9167" stop-color="#00e4ff"/><stop offset="0.9333" stop-color="#0078ff"/><stop offset="0.95" stop-color="#0021ff"/><stop offset="0.9667" stop-color="#1500ff"/><stop offset="0.9833" stop-color="#1f00ff"/><stop offset="1" stop-color="#1f00ff"/></linearGradient>
<linearGradient id="b8" gradientUnits="userSpaceOnUse" x1="1206" x2="2005.4"><stop offset="0" stop-color="#ff0000"/><stop offset="0.01667" stop-color="#ff0401"/><stop offset="0.03333" stop-color="#ff6612"/><stop offset="0.05" stop-color="#eaff42"/><stop offset="0.06667" stop-color="#3dfe67"/><stop offset="0.08333" stop-color="#00e0ff"/><stop offset="0.1" stop-color="#0023ff"/><stop offset="0.1167" stop-color="#9000ff"/><stop offset="0.1333" stop-color="#ff00ff"/><stop offset="0.15" stop-color="#ff00ff"/><stop offset="0.1667" stop-color="#e900ff"/><stop offset="0.1833" stop-color="#7500ff"/><stop offset="0.2" stop-color="#0039ff"/><stop offset="0.2167" stop-color="#23f3a9"/><stop offset="0.2333" stop-color="#85ff54"/><stop offset="0.25" stop-color="#e3ff43"/><stop offset="0.2667" stop-color="#f8d833"/><stop offset="0.2833" stop-color="#fbc02a"/><stop offset="0.3" stop-color="#fac92e"/><stop offset="0.3167" stop-color="#f6f23c"/><stop offset="0.3333" stop-color="#b7ff4b"/><stop offset="0.35" stop-color="#5cff5b"/><stop offset="0.3667" stop-color="#25f4a3"/><stop offset="0.3833" stop-color="#03e6f8"/><stop offset="0.4" stop-color="#00a8ff"/><stop offset="0.4167" stop-color="#008fff"/><stop offset="0.4333" stop-color="#00a5ff"/><stop offset="0.45" stop-color="#00dcff"/><stop offset="0.4667" stop-color="#17eec6"/><stop offset="0.4833" stop-color="#35fa7c"/><stop offset="0.5" stop-color="#6cff58"/><stop offset="0.5167" stop-color="#abff4d"/><stop offset="0.5333" stop-color="#d9ff45"/><stop offset="0.55" stop-color="#ecff42"/><stop offset="0.5667" stop-color="#d9ff45"/><stop offset="0.5833" stop-color="#9eff4f"/><stop offset="0.6" stop-color="#48ff5f"/><stop offset="0.6167" stop-color="#19efc0"/><stop offset="0.6333" stop-color="#00b2ff"/><stop offset="0.65" stop-color="#0042ff"/><stop offset="0.6667" stop-color="#1100ff"/><stop offset="0.6833" stop-color="#3900ff"/><stop offset="0.7" stop-color="#2000ff"/><stop offset="0.7167" stop-color="#002cff"/><stop offset="0.7333" stop-color="#009bff"/><stop offset="0.75" stop-color="#14edcd"/><stop offset="0.7667" stop-color="#4bff5e"/><stop offset="0.7833" stop-color="#b9ff4b"/><stop offset="0.8" stop-color="#f8e336"/><stop offset="0.8167" stop-color="#fcad24"/><stop offset="0.8333" stop-color="#fe971c"/><stop offset="0.85" stop-color="#fda922"/><stop offset="0.8667" stop-color="#f8de35"/><stop offset="0.8833" stop-color="#bdff4a"/><stop offset="0.9" stop-color="#4aff5e"/><stop offset="0.9167" stop-color="#12ecd3"/><stop offset="0.9333" stop-color="#0091ff"/><stop offset="0.95" stop-color="#0024ff"/><stop offset="0.9667" stop-color="#2000ff"/><stop offset="0.9833" stop-color="#2c00ff"/><stop offset="1" stop-color="#2c00ff"/></linearGradient>
<linearGradient id="b9" gradientUnits="userSpaceOnUse" x1="1206" x2="2005.4"><stop offset="0" stop-color="#ff0000"/><stop offset="0.01667" stop-color="#ff0401"/><stop offset="0.03333" stop-color="#ff6111"/><stop offset="0.05" stop-color="#f6f93e"/><stop offset="0.06667" stop-color="#4eff5e"/><stop offset="0.08333" stop-color="#0eeadd"/><stop offset="0.1" stop-color="#0061ff"/><stop offset="0.1167" stop-color="#4300ff"/><stop offset="0.1333" stop-color="#cc00ff"/><stop offset="0.15" stop-color="#ff00ff"/><stop offset="0.1667" stop-color="#ff00ff"/><stop offset="0.1833" stop-color="#a700ff"/><stop offset="0.2" stop-color="#2c00ff"/><stop offset="0.2167" stop-color="#0047ff"/><stop offset="0.2333" stop-color="#00c6ff"/><stop offset="0.25" stop-color="#25f4a3"/><stop offset="0.2667" stop-color="#53ff5d"/><stop offset="0.2833" stop-color="#8aff53"/><stop offset="0.3" stop-color="#b0ff4c"/><stop offset="0.3167" stop-color="#baff4a"/><stop offset="0.3333" stop-color="#a6ff4e"/><stop offset="0.35" stop-color="#7eff55"/><stop offset="0.3667" stop-color="#4cff5e"/><stop offset="0.3833" stop-color="#31f985"/><stop offset="0.4" stop-color="#22f3aa"/><stop offset="0.4167" stop-color="#1df1b8"/><stop offset="0.4333" stop-color="#21f2ae"/><stop offset="0.45" stop-color="#29f699"/><stop offset="0.4667" stop-color="#34fa7f"/><stop offset="0.4833" stop-color="#3cfd6a"/><stop offset="0.5" stop-color="#40ff60"/><stop offset="0.5167" stop-color="#3cfd6a"/><stop offset="0.5333" stop-color="#32f984"/><stop offset="0.55" stop-color="#22f3ab"/><stop offset="0.5667" stop-color="#0febdb"/><stop offset="0.5833" stop-color="#00d1ff"/><stop offset="0.6" stop-color="#0090ff"/><stop offset="0.6167" stop-color="#0052ff"/><stop offset="0.6333" stop-color="#001bff"/><stop offset="0.65" stop-color="#1200ff"/><stop offset="0.6667" stop-color="#3100ff"/><stop offset="0.6833" stop-color="#3900ff"/><stop offset="0.7" stop-color="#1100ff"/><stop offset="0.7167" stop-color="#003eff"/><stop offset="0.7333" stop-color="#00abff"/><stop offset="0.75" stop-color="#18efc4"/><stop offset="0.7667" stop-color="#4dff5e"/><stop offset="0.7833" stop-color="#b7ff4b"/><stop offset="0.8" stop-color="#f7e738"/><stop offset="0.8167" stop-color="#fcaf25"/><stop offset="0.8333" stop-color="#ff921b"/><stop offset="0.85" stop-color="#fe981d"/><stop offset="0.8667" stop-color="#fac62d"/><stop offset="0.8833" stop-color="#ddff44"/><stop offset="0.9" stop-color="#68ff59"/><stop offset="0.9167" stop-color="#1df1b8"/><stop offset="0.9333" stop-color="#00aaff"/><stop offset="0.95" stop-color="#0036ff"/><stop offset="0.9667" stop-color="#1100ff"/><stop offset="0.9833" stop-color="#1f00ff"/><stop offset="1" stop-color="#1f00ff"/></linearGradient>
<linearGradient id="b10" gradientUnits="userSpaceOnUse" x1="1206" x2="2005.4"><stop offset="0" stop-color="#ff0000"/><stop offset="0.01667" stop-color="#ff0401"/><stop offset="0.03333" stop-color="#ff520f"/><stop offset="0.05" stop-color="#f9d231"/><stop offset="0.06667" stop-color="#89ff53"/><stop offset="0.08333" stop-color="#2cf792"/><stop offset="0.1" stop-color="#00d7ff"/><stop offset="0.1167" stop-color="#004aff"/><stop offset="0.1333" stop-color="#3b00ff"/><stop offset="0.15" stop-color="#ab00ff"/><stop offset="0.1667" stop-color="#ed00ff"/><stop offset="0.1833" stop-color="#f300ff"/><stop offset="0.2" stop-color="#c200ff"/><stop offset="0.2167" stop-color="#7000ff"/><stop offset="0.2333" stop-color="#1600ff"/><stop offset="0.25" stop-color="#0043ff"/><stop offset="0.2667" stop-color="#00acff"/><stop offset="0.2833" stop-color="#0febd9"/><stop offset="0.3" stop-color="#2ef88e"/><stop offset="0.3167" stop-color="#48ff5f"/><stop offset="0.3333" stop-color="#6dff58"/><stop offset="0.35" stop-color="#8fff52"/><stop offset="0.3667" stop-color="#aaff4d"/><stop offset="0.3833" stop-color="#bcff4a"/><stop offset="0.4" stop-color="#c5ff49"/><stop offset="0.4167" stop-color="#c3ff49"/><stop offset="0.4333" stop-color="#bdff4a"/><stop offset="0.45" stop-color="#b3ff4c"/><stop offset="0.4667" stop-color="#a8ff4e"/><stop offset="0.4833" stop-color="#9aff50"/><stop offset="0.5" stop-color="#7eff55"/><stop offset="0.5167" stop-color="#57ff5c"/><stop offset="0.5333" stop-color="#36fb7a"/><stop offset="0.55" stop-color="#1ff2b2"/><stop offset="0.5667" stop-color="#07e8ed"/><stop offset="0.5833" stop-color="#00b4ff"/><stop offset="0.6" stop-color="#0071ff"/><stop offset="0.6167" stop-color="#0035ff"/><stop offset="0.6333" stop-color="#0003ff"/><stop offset="0.65" stop-color="#2400ff"/><stop offset="0.6667" stop-color="#3800ff"/><stop offset="0.6833" stop-color="#2f00ff"/><stop offset="0.7" stop-color="#0004ff"/><stop offset="0.7167" stop-color="#0053ff"/><stop offset="0.7333" stop-color="#00b9ff"/><stop offset="0.75" stop-color="#18efc3"/><stop offset="0.7667" stop-color="#44ff5f"/><stop offset="0.7833" stop-color="#a3ff4e"/><stop offset="0.8" stop-color="#f5fc3f"/><stop offset="0.8167" stop-color="#fac52c"/><stop offset="0.8333" stop-color="#fda120"/><stop offset="0.85" stop-color="#fe971d"/><stop offset="0.8667" stop-color="#fcae24"/><stop offset="0.8833" stop-color="#f8e136"/><stop offset="0.9" stop-color="#c2ff49"/><stop offset="0.9167" stop-color="#5eff5b"/><stop offset="0.9333" stop-color="#22f3ab"/><stop offset="0.95" stop-color="#00d8ff"/><stop offset="0.9667" stop-color="#0082ff"/><stop offset="0.9833" stop-color="#0056ff"/><stop offset="1" stop-color="#0052ff"/></linearGradient>
<linearGradient id="b11" gradientUnits="userSpaceOnUse" x1="1206" x2="2005.4"><stop offset="0" stop-color="#ff0000"/><stop offset="0.01667" stop-color="#ff0401"/><stop offset="0.03333" stop-color="#ff3d0b"/><stop offset="0.05" stop-color="#fe991d"/><stop offset="0.06667" stop-color="#f1ff41"/><stop offset="0.08333" stop-color="#74ff57"/><stop offset="0.1" stop-color="#2af696"/><stop offset="0.1167" stop-color="#00d9ff"/><stop offset="0.1333" stop-color="#004dff"/><stop offset="0.15" stop-color="#3d00ff"/><stop offset="0.1667" stop-color="#b500ff"/><stop offset="0.1833" stop-color="#ff00ff"/><stop offset="0.2" stop-color="#ff00ff"/><stop offset="0.2167" stop-color="#f900ff"/><stop offset="0.2333" stop-color="#b600ff"/><stop offset="0.25" stop-color="#5e00ff"/><stop offset="0.2667" stop-color="#0002ff"/><stop offset="0.2833" stop-color="#0080ff"/><stop offset="0.3" stop-color="#08e8ec"/><stop offset="0.3167" stop-color="#2ef88c"/><stop offset="0.3333" stop-color="#5fff5b"/><stop offset="0.35" stop-color="#a7ff4e"/><stop offset="0.3667" stop-color="#ebff42"/><stop offset="0.3833" stop-color="#f8d933"/><stop offset="0.4" stop-color="#fbba28"/><stop offset="0.4167" stop-color="#fcaf25"/><stop offset="0.4333" stop-color="#fbb727"/><stop offset="0.45" stop-color="#facc2f"/><stop offset="0.4667" stop-color="#f7ed3a"/><stop offset="0.4833" stop-color="#d8ff45"/><stop offset="0.5" stop-color="#9cff50"/><stop offset="0.5167" stop-color="#5bff5b"/><stop offset="0.5333" stop-color="#2ef88c"/><stop offset="0.55" stop-color="#11ecd4"/><stop offset="0.5667" stop-color="#00c6ff"/><stop offset="0.5833" stop-color="#007bff"/><stop offset="0.6" stop-color="#0039ff"/><stop offset="0.6167" stop-color="#0004ff"/><stop offset="0.6333" stop-color="#2500ff"/><stop offset="0.65" stop-color="#3900ff"/><stop offset="0.6667" stop-color="#3100ff"/><stop offset="0.6833" stop-color="#0c00ff"/><stop offset="0.7" stop-color="#002cff"/><stop offset="0.7167" stop-color="#0075ff"/><stop offset="0.7333" stop-color="#00c9ff"/><stop offset="0.75" stop-color="#15eeca"/><stop offset="0.7667" stop-color="#35fb7b"/><stop offset="0.7833" stop-color="#70ff57"/><stop offset="0.8" stop-color="#b4ff4c"/><stop offset="0.8167" stop-color="#edff41"/><stop offset="0.8333" stop-color="#f8e236"/><stop offset="0.85" stop-color="#f9ce2f"/><stop offset="0.8667" stop-color="#facc2f"/><stop offset="0.8833" stop-color="#f8de35"/><stop offset="0.9" stop-color="#f3ff40"/><stop offset="0.9167" stop-color="#bbff4a"/><stop offset="0.9333" stop-color="#7eff55"/><stop offset="0.95" stop-color="#42ff60"/><stop offset="0.9667" stop-color="#2bf794"/><stop offset="0.9833" stop-color="#1cf0b9"/><stop offset="1" stop-color="#16eec7"/></linearGradient>
<linearGradient id="b12" gradientUnits="userSpaceOnUse" x1="1206" x2="2005.4"><stop offset="0" stop-color="#ff0000"/><stop offset="0.01667" stop-color="#ff0401"/><stop offset="0.03333" stop-color="#ff3b0b"/><stop offset="0.05" stop-color="#ff941b"/><stop offset="0.06667" stop-color="#f5f93e"/><stop offset="0.08333" stop-color="#82ff54"/><stop offset="0.1" stop-color="#32f982"/><stop offset="0.1167" stop-color="#08e8ea"/><stop offset="0.1333" stop-color="#007dff"/><stop offset="0.15" stop-color="#0001ff"/><stop offset="0.1667" stop-color="#7a00ff"/><stop offset="0.1833" stop-color="#dc00ff"/><stop offset="0.2" stop-color="#ff00ff"/><stop offset="0.2167" stop-color="#ff00ff"/><stop offset="0.2333" stop-color="#ff00ff"/><stop offset="0.25" stop-color="#b700ff"/><stop offset="0.2667" stop-color="#5900ff"/><stop offset="0.2833" stop-color="#0017ff"/><stop offset="0.3" stop-color="#00adff"/><stop offset="0.3167" stop-color="#19efc0"/><stop offset="0.3333" stop-color="#3fff61"/><stop offset="0.35" stop-color="#8cff53"/><stop offset="0.3667" stop-color="#dbff45"/><stop offset="0.3833" stop-color="#f8d933"/><stop offset="0.4" stop-color="#fda621"/><stop offset="0.4167" stop-color="#ff7f17"/><stop offset="0.4333" stop-color="#ff6913"/><stop offset="0.45" stop-color="#ff6913"/><stop offset="0.4667" stop-color="#ff7e17"/><stop offset="0.4833" stop-color="#fda421"/><stop offset="0.5" stop-color="#f9d732"/><stop offset="0.5167" stop-color="#dcff44"/><stop offset="0.5333" stop-color="#88ff53"/><stop offset="0.55" stop-color="#3afc70"/><stop offset="0.5667" stop-color="#15eecb"/><stop offset="0.5833" stop-color="#00bdff"/><stop offset="0.6" stop-color="#0063ff"/><stop offset="0.6167" stop-color="#001aff"/><stop offset="0.6333" stop-color="#1d00ff"/><stop offset="0.65" stop-color="#3800ff"/><stop offset="0.6667" stop-color="#3300ff"/><stop offset="0.6833" stop-color="#1400ff"/><stop offset="0.7" stop-color="#001cff"/><stop offset="0.7167" stop-color="#0058ff"/><stop offset="0.7333" stop-color="#009eff"/><stop offset="0.75" stop-color="#02e6f9"/><stop offset="0.7667" stop-color="#1ef1b4"/><stop offset="0.7833" stop-color="#39fc71"/><stop offset="0.8" stop-color="#6eff58"/><stop offset="0.8167" stop-color="#a5ff4e"/><stop offset="0.8333" stop-color="#d2ff46"/><stop offset="0.85" stop-color="#f3ff40"/><stop offset="0.8667" stop-color="#f6f33c"/><stop offset="0.8833" stop-color="#f6f63d"/><stop offset="0.9" stop-color="#e4ff43"/><stop offset="0.9167" stop-color="#b9ff4b"/><stop offset="0.9333" stop-color="#8aff53"/><stop offset="0.95" stop-color="#60ff5a"/><stop offset="0.9667" stop-color="#44ff5f"/><stop offset="0.9833" stop-color="#40ff60"/><stop offset="1" stop-color="#40ff60"/></linearGradient>
<linearGradient id="b13" gradientUnits="userSpaceOnUse" x1="1206" x2="2005.4"><stop offset="0" stop-color="#ff0000"/><stop offset="0.01667" stop-color="#ff0401"/><stop offset="0.03333" stop-color="#ff3c0b"/><stop offset="0.05" stop-color="#ff951c"/><stop offset="0.06667" stop-color="#f5fb3f"/><stop offset="0.08333" stop-color="#81ff55"/><stop offset="0.1" stop-color="#33fa81"/><stop offset="0.1167" stop-color="#0be9e4"/><stop offset="0.1333" stop-color="#008bff"/><stop offset="0.15" stop-color="#0016ff"/><stop offset="0.1667" stop-color="#5e00ff"/><stop offset="0.1833" stop-color="#bf00ff"/><stop offset="0.2" stop-color="#ff00ff"/><stop offset="0.2167" stop-color="#ff00ff"/><stop offset="0.2333" stop-color="#ff00ff"/><stop offset="0.25" stop-color="#bc00ff"/><stop offset="0.2667" stop-color="#6300ff"/><stop offset="0.2833" stop-color="#0400ff"/><stop offset="0.3" stop-color="#006cff"/><stop offset="0.3167" stop-color="#00dfff"/><stop offset="0.3333" stop-color="#25f4a3"/><stop offset="0.35" stop-color="#4fff5d"/><stop offset="0.3667" stop-color="#97ff51"/><stop offset="0.3833" stop-color="#e0ff44"/><stop offset="0.4" stop-color="#f8da33"/><stop offset="0.4167" stop-color="#fcad24"/><stop offset="0.4333" stop-color="#ff8c19"/><stop offset="0.45" stop-color="#ff7b16"/><stop offset="0.4667" stop-color="#ff8017"/><stop offset="0.4833" stop-color="#fe991d"/><stop offset="0.5" stop-color="#fbc02a"/><stop offset="0.5167" stop-color="#f6f33c"/><stop offset="0.5333" stop-color="#b8ff4b"/><stop offset="0.55" stop-color="#66ff59"/><stop offset="0.5667" stop-color="#2cf791"/><stop offset="0.5833" stop-color="#09e9e8"/><stop offset="0.6" stop-color="#00a0ff"/><stop offset="0.6167" stop-color="#004dff"/><stop offset="0.6333" stop-color="#000aff"/><stop offset="0.65" stop-color="#2700ff"/><stop offset="0.6667" stop-color="#3a00ff"/><stop offset="0.6833" stop-color="#2e00ff"/><stop offset="0.7" stop-color="#0c00ff"/><stop offset="0.7167" stop-color="#0024ff"/><stop offset="0.7333" stop-color="#0060ff"/><stop offset="0.75" stop-color="#00a6ff"/><stop offset="0.7667" stop-color="#04e7f5"/><stop offset="0.7833" stop-color="#1ff1b3"/><stop offset="0.8" stop-color="#39fc72"/><stop offset="0.8167" stop-color="#68ff59"/><stop offset="0.8333" stop-color="#9bff50"/><stop offset="0.85" stop-color="#c4ff49"/><stop offset="0.8667" stop-color="#e0ff44"/><stop offset="0.8833" stop-color="#ecff42"/><stop offset="0.9" stop-color="#e5ff43"/><stop offset="0.9167" stop-color="#ceff47"/><stop offset="0.9333" stop-color="#acff4d"/><stop offset="0.95" stop-color="#86ff54"/><stop offset="0.9667" stop-color="#63ff5a"/><stop offset="0.9833" stop-color="#4aff5e"/><stop offset="1" stop-color="#40ff60"/></linearGradient>
<linearGradient id="b14" gradientUnits="userSpaceOnUse" x1="1206" x2="2005.4"><stop offset="0" stop-color="#ff0000"/><stop offset="0.01667" stop-color="#ff0401"/><stop offset="0.03333" stop-color="#ff420c"/><stop offset="0.05" stop-color="#fda622"/><stop offset="0.06667" stop-color="#d9ff45"/><stop offset="0.08333" stop-color="#60ff5a"/><stop offset="0.1" stop-color="#28f59b"/><stop offset="0.1167" stop-color="#03e6f8"/><stop offset="0.1333" stop-color="#0082ff"/><stop offset="0.15" stop-color="#001fff"/><stop offset="0.1667" stop-color="#3c00ff"/><stop offset="0.1833" stop-color="#8400ff"/><stop offset="0.2" stop-color="#ad00ff"/><stop offset="0.2167" stop-color="#b200ff"/><stop offset="0.2333" stop-color="#9a00ff"/><stop offset="0.25" stop-color="#6f00ff"/><stop offset="0.2667" stop-color="#3900ff"/><stop offset="0.2833" stop-color="#0006ff"/><stop offset="0.3" stop-color="#005cff"/><stop offset="0.3167" stop-color="#00c0ff"/><stop offset="0.3333" stop-color="#18efc4"/><stop offset="0.35" stop-color="#3dfe68"/><stop offset="0.3667" stop-color="#82ff54"/><stop offset="0.3833" stop-color="#c6ff48"/><stop offset="0.4" stop-color="#f5fc3f"/><stop offset="0.4167" stop-color="#f8e236"/><stop offset="0.4333" stop-color="#f9cf30"/><stop offset="0.45" stop-color="#fbbd29"/><stop offset="0.4667" stop-color="#fe9f1f"/><stop offset="0.4833" stop-color="#fe9a1d"/><stop offset="0.5" stop-color="#fcb025"/><stop offset="0.5167" stop-color="#f9d632"/><stop offset="0.5333" stop-color="#e7ff42"/><stop offset="0.55" stop-color="#9bff50"/><stop offset="0.5667" stop-color="#47ff5f"/><stop offset="0.5833" stop-color="#1ff2b2"/><stop offset="0.6" stop-color="#00d9ff"/><stop offset="0.6167" stop-color="#007bff"/><stop offset="0.6333" stop-color="#002cff"/><stop offset="0.65" stop-color="#1100ff"/><stop offset="0.6667" stop-color="#3500ff"/><stop offset="0.6833" stop-color="#3600ff"/><stop offset="0.7" stop-color="#1c00ff"/><stop offset="0.7167" stop-color="#0012ff"/><stop offset="0.7333" stop-color="#004cff"/><stop offset="0.75" stop-color="#0090ff"/><stop offset="0.7667" stop-color="#00d9ff"/><stop offset="0.7833" stop-color="#15edcb"/><stop offset="0.8" stop-color="#2cf791"/><stop offset="0.8167" stop-color="#41ff60"/><stop offset="0.8333" stop-color="#66ff59"/><stop offset="0.85" stop-color="#7cff55"/><stop offset="0.8667" stop-color="#80ff55"/><stop offset="0.8833" stop-color="#80ff55"/><stop offset="0.9" stop-color="#80ff55"/><stop offset="0.9167" stop-color="#80ff55"/><stop offset="0.9333" stop-color="#80ff55"/><stop offset="0.95" stop-color="#80ff55"/><stop offset="0.9667" stop-color="#80ff55"/><stop offset="0.9833" stop-color="#80ff55"/><stop offset="1" stop-color="#80ff55"/></linearGradient>
<linearGradient id="b15" gradientUnits="userSpaceOnUse" x1="1206" x2="2005.4"><stop offset="0" stop-color="#ff0000"/><stop offset="0.01667" stop-color="#ff0401"/><stop offset="0.03333" stop-color="#ff410c"/><stop offset="0.05" stop-color="#fda421"/><stop offset="0.06667" stop-color="#ddff44"/><stop offset="0.08333" stop-color="#61ff5a"/><stop offset="0.1" stop-color="#26f4a1"/><stop offset="0.1167" stop-color="#00dbff"/><stop offset="0.1333" stop-color="#0065ff"/><stop offset="0.15" stop-color="#0000ff"/><stop offset="0.1667" stop-color="#5000ff"/><stop offset="0.1833" stop-color="#7000ff"/><stop offset="0.2" stop-color="#6c00ff"/><stop offset="0.2167" stop-color="#5f00ff"/><stop offset="0.2333" stop-color="#4b00ff"/><stop offset="0.25" stop-color="#3200ff"/><stop offset="0.2667" stop-color="#1200ff"/><stop offset="0.2833" stop-color="#002eff"/><stop offset="0.3" stop-color="#0080ff"/><stop offset="0.3167" stop-color="#00caff"/><stop offset="0.3333" stop-color="#08e8ec"/><stop offset="0.35" stop-color="#15eeca"/><stop offset="0.3667" stop-color="#22f3ab"/><stop offset="0.3833" stop-color="#2ef88c"/><stop offset="0.4" stop-color="#3dfe68"/><stop offset="0.4167" stop-color="#68ff59"/><stop offset="0.4333" stop-color="#a8ff4e"/><stop offset="0.45" stop-color="#ecff42"/><stop offset="0.4667" stop-color="#f9d632"/><stop offset="0.4833" stop-color="#fcb627"/><stop offset="0.5" stop-color="#fcb025"/><stop offset="0.5167" stop-color="#fbc02b"/><stop offset="0.5333" stop-color="#f8e336"/><stop offset="0.55" stop-color="#dcff44"/><stop offset="0.5667" stop-color="#94ff51"/><stop offset="0.5833" stop-color="#44ff5f"/><stop offset="0.6" stop-color="#1ff1b3"/><stop offset="0.6167" stop-color="#00dbff"/><stop offset="0.6333" stop-color="#007eff"/><stop offset="0.65" stop-color="#0030ff"/><stop offset="0.6667" stop-color="#0d00ff"/><stop offset="0.6833" stop-color="#3300ff"/><stop offset="0.7" stop-color="#3700ff"/><stop offset="0.7167" stop-color="#1e00ff"/><stop offset="0.7333" stop-color="#000fff"/><stop offset="0.75" stop-color="#0049ff"/><stop offset="0.7667" stop-color="#008cff"/><stop offset="0.7833" stop-color="#00d5ff"/><stop offset="0.8" stop-color="#13edcf"/><stop offset="0.8167" stop-color="#2af696"/><stop offset="0.8333" stop-color="#3efe65"/><stop offset="0.85" stop-color="#5dff5b"/><stop offset="0.8667" stop-color="#6fff58"/><stop offset="0.8833" stop-color="#71ff57"/><stop offset="0.9" stop-color="#71ff57"/><stop offset="0.9167" stop-color="#71ff57"/><stop offset="0.9333" stop-color="#71ff57"/><stop offset="0.95" stop-color="#71ff57"/><stop offset="0.9667" stop-color="#71ff57"/><stop offset="0.9833" stop-color="#71ff57"/><stop offset="1" stop-color="#71ff57"/></linearGradient>
<linearGradient id="b16" gradientUnits="userSpaceOnUse" x1="1206" x2="2005.4"><stop offset="0" stop-color="#ff0000"/><stop offset="0.01667" stop-color="#ff0401"/><stop offset="0.03333" stop-color="#ff410c"/><stop offset="0.05" stop-color="#fda521"/><stop offset="0.06667" stop-color="#dbff45"/><stop offset="0.08333" stop-color="#60ff5a"/><stop offset="0.1" stop-color="#27f59e"/><stop offset="0.1167" stop-color="#00e4ff"/><stop offset="0.1333" stop-color="#0076ff"/><stop offset="0.15" stop-color="#0017ff"/><stop offset="0.1667" stop-color="#3000ff"/><stop offset="0.1833" stop-color="#4e00ff"/><stop offset="0.2" stop-color="#2f00ff"/><stop offset="0.2167" stop-color="#001dff"/><stop offset="0.2333" stop-color="#0073ff"/><stop offset="0.25" stop-color="#00bcff"/><stop offset="0.2667" stop-color="#00deff"/><stop offset="0.2833" stop-color="#03e6f7"/><stop offset="0.3" stop-color="#07e8ec"/><stop offset="0.3167" stop-color="#0be9e4"/><stop offset="0.3333" stop-color="#0eebdc"/><stop offset="0.35" stop-color="#12ecd2"/><stop offset="0.3667" stop-color="#17eec5"/><stop offset="0.3833" stop-color="#1ef1b5"/><stop offset="0.4" stop-color="#25f4a2"/><stop offset="0.4167" stop-color="#2ff88b"/><stop offset="0.4333" stop-color="#3afc70"/><stop offset="0.45" stop-color="#54ff5c"/><stop offset="0.4667" stop-color="#95ff51"/><stop offset="0.4833" stop-color="#e6ff43"/><stop offset="0.5" stop-color="#facc2f"/><stop offset="0.5167" stop-color="#fe9e1f"/><stop offset="0.5333" stop-color="#ff8f1a"/><stop offset="0.55" stop-color="#fda220"/><stop offset="0.5667" stop-color="#f9ce2f"/><stop offset="0.5833" stop-color="#e4ff43"/><stop offset="0.6" stop-color="#86ff54"/><stop offset="0.6167" stop-color="#32f982"/><stop offset="0.6333" stop-color="#07e8ee"/><stop offset="0.65" stop-color="#0082ff"/><stop offset="0.6667" stop-color="#001cff"/><stop offset="0.6833" stop-color="#3400ff"/><stop offset="0.7" stop-color="#5f00ff"/><stop offset="0.7167" stop-color="#5b00ff"/><stop offset="0.7333" stop-color="#3700ff"/><stop offset="0.75" stop-color="#0005ff"/><stop offset="0.7667" stop-color="#004bff"/><stop offset="0.7833" stop-color="#009aff"/><stop offset="0.8" stop-color="#02e6f9"/><stop offset="0.8167" stop-color="#1df1b8"/><stop offset="0.8333" stop-color="#33fa7f"/><stop offset="0.85" stop-color="#4bff5e"/><stop offset="0.8667" stop-color="#60ff5a"/><stop offset="0.8833" stop-color="#62ff5a"/><stop offset="0.9" stop-color="#62ff5a"/><stop offset="0.9167" stop-color="#62ff5a"/><stop offset="0.9333" stop-color="#62ff5a"/><stop offset="0.95" stop-color="#62ff5a"/><stop offset="0.9667" stop-color="#62ff5a"/><stop offset="0.9833" stop-color="#62ff5a"/><stop offset="1" stop-color="#62ff5a"/></linearGradient>
<linearGradient id="b17" gradientUnits="userSpaceOnUse" x1="1206" x2="2005.4"><stop offset="0" stop-color="#ff0000"/><stop offset="0.01667" stop-color="#ff0401"/><stop offset="0.03333" stop-color="#ff410c"/><stop offset="0.05" stop-color="#fda521"/><stop offset="0.06667" stop-color="#dbff45"/><stop offset="0.08333" stop-color="#60ff5a"/><stop offset="0.1" stop-color="#27f59e"/><stop offset="0.1167" stop-color="#00e4ff"/><stop offset="0.1333" stop-color="#0076ff"/><stop offset="0.15" stop-color="#0017ff"/><stop offset="0.1667" stop-color="#3000ff"/><stop offset="0.1833" stop-color="#4e00ff"/><stop offset="0.2" stop-color="#2400ff"/><stop offset="0.2167" stop-color="#003bff"/><stop offset="0.2333" stop-color="#009eff"/><stop offset="0.25" stop-color="#00daff"/><stop offset="0.2667" stop-color="#07e8ee"/><stop offset="0.2833" stop-color="#0febd9"/><stop offset="0.3" stop-color="#15eecb"/><stop offset="0.3167" stop-color="#16eec8"/><stop offset="0.3333" stop-color="#14edce"/><stop offset="0.35" stop-color="#0febda"/><stop offset="0.3667" stop-color="#09e9e8"/><stop offset="0.3833" stop-color="#04e7f5"/><stop offset="0.4" stop-color="#02e6fb"/><stop offset="0.4167" stop-color="#09e9e9"/><stop offset="0.4333" stop-color="#1ff2b2"/><stop offset="0.45" stop-color="#39fc70"/><stop offset="0.4667" stop-color="#6fff58"/><stop offset="0.4833" stop-color="#c0ff49"/><stop offset="0.5" stop-color="#f7e437"/><stop offset="0.5167" stop-color="#fda621"/><stop offset="0.5333" stop-color="#ff7b16"/><stop offset="0.55" stop-color="#ff6f14"/><stop offset="0.5667" stop-color="#ff8518"/><stop offset="0.5833" stop-color="#fcb426"/><stop offset="0.6" stop-color="#f6f63d"/><stop offset="0.6167" stop-color="#9eff4f"/><stop offset="0.6333" stop-color="#3bfd6d"/><stop offset="0.65" stop-color="#0eebdd"/><stop offset="0.6667" stop-color="#0091ff"/><stop offset="0.6833" stop-color="#0027ff"/><stop offset="0.7" stop-color="#2d00ff"/><stop offset="0.7167" stop-color="#5d00ff"/><stop offset="0.7333" stop-color="#5900ff"/><stop offset="0.75" stop-color="#2000ff"/><stop offset="0.7667" stop-color="#0037ff"/><stop offset="0.7833" stop-color="#009dff"/><stop offset="0.8" stop-color="#0be9e3"/><stop offset="0.8167" stop-color="#2af696"/><stop offset="0.8333" stop-color="#3fff61"/><stop offset="0.85" stop-color="#4eff5d"/><stop offset="0.8667" stop-color="#4eff5d"/><stop offset="0.8833" stop-color="#4eff5d"/><stop offset="0.9" stop-color="#4eff5d"/><stop offset="0.9167" stop-color="#4eff5d"/><stop offset="0.9333" stop-color="#4eff5d"/><stop offset="0.95" stop-color="#4eff5d"/><stop offset="0.9667" stop-color="#4eff5d"/><stop offset="0.9833" stop-color="#4eff5d"/><stop offset="1" stop-color="#4eff5d"/></linearGradient>
<linearGradient id="b18" gradientUnits="userSpaceOnUse" x1="1206" x2="2005.4"><stop offset="0" stop-color="#ff0000"/><stop offset="0.01667" stop-color="#ff0401"/><stop offset="0.03333" stop-color="#ff410c"/><stop offset="0.05" stop-color="#fda320"/><stop offset="0.06667" stop-color="#dfff44"/><stop offset="0.08333" stop-color="#62ff5a"/><stop offset="0.1" stop-color="#25f4a4"/><stop offset="0.1167" stop-color="#00d1ff"/><stop offset="0.1333" stop-color="#0055ff"/><stop offset="0.15" stop-color="#1100ff"/><stop offset="0.1667" stop-color="#5600ff"/><stop offset="0.1833" stop-color="#5e00ff"/><stop offset="0.2" stop-color="#2e00ff"/><stop offset="0.2167" stop-color="#001fff"/><stop offset="0.2333" stop-color="#0070ff"/><stop offset="0.25" stop-color="#00b7ff"/><stop offset="0.2667" stop-color="#00e3ff"/><stop offset="0.2833" stop-color="#0be9e4"/><stop offset="0.3" stop-color="#14edce"/><stop offset="0.3167" stop-color="#16eec8"/><stop offset="0.3333" stop-color="#13edcf"/><stop offset="0.35" stop-color="#0deade"/><stop offset="0.3667" stop-color="#06e7f1"/><stop offset="0.3833" stop-color="#00e1ff"/><stop offset="0.4" stop-color="#00d1ff"/><stop offset="0.4167" stop-color="#00ccff"/><stop offset="0.4333" stop-color="#00e5fe"/><stop offset="0.45" stop-color="#14edce"/><stop offset="0.4667" stop-color="#2af696"/><stop offset="0.4833" stop-color="#4fff5d"/><stop offset="0.5" stop-color="#a9ff4d"/><stop offset="0.5167" stop-color="#f6ef3b"/><stop offset="0.5333" stop-color="#fcac24"/><stop offset="0.55" stop-color="#ff8217"/><stop offset="0.5667" stop-color="#ff7d17"/><stop offset="0.5833" stop-color="#ff951c"/><stop offset="0.6" stop-color="#fbc12b"/><stop offset="0.6167" stop-color="#f5fc3f"/><stop offset="0.6333" stop-color="#a1ff4f"/><stop offset="0.65" stop-color="#44ff5f"/><stop offset="0.6667" stop-color="#1af0bf"/><stop offset="0.6833" stop-color="#00c3ff"/><stop offset="0.7" stop-color="#0064ff"/><stop offset="0.7167" stop-color="#001aff"/><stop offset="0.7333" stop-color="#1400ff"/><stop offset="0.75" stop-color="#1c00ff"/><stop offset="0.7667" stop-color="#0007ff"/><stop offset="0.7833" stop-color="#0045ff"/><stop offset="0.8" stop-color="#0094ff"/><stop offset="0.8167" stop-color="#02e6fb"/><stop offset="0.8333" stop-color="#1df1b7"/><stop offset="0.85" stop-color="#33fa81"/><stop offset="0.8667" stop-color="#3ffe63"/><stop offset="0.8833" stop-color="#40ff60"/><stop offset="0.9" stop-color="#40ff60"/><stop offset="0.9167" stop-color="#40ff60"/><stop offset="0.9333" stop-color="#40ff60"/><stop offset="0.95" stop-color="#40ff60"/><stop offset="0.9667" stop-color="#40ff60"/><stop offset="0.9833" stop-color="#40ff60"/><stop offset="1" stop-color="#40ff60"/></linearGradient>
<linearGradient id="b19" gradientUnits="userSpaceOnUse" x1="1206" x2="2005.4"><stop offset="0" stop-color="#ff0000"/><stop offset="0.01667" stop-color="#ff0401"/><stop offset="0.03333" stop-color="#ff400c"/><stop offset="0.05" stop-color="#fda220"/><stop offset="0.06667" stop-color="#e0ff44"/><stop offset="0.08333" stop-color="#62ff5a"/><stop offset="0.1" stop-color="#24f4a5"/><stop offset="0.1167" stop-color="#00cdff"/><stop offset="0.1333" stop-color="#004eff"/><stop offset="0.15" stop-color="#1c00ff"/><stop offset="0.1667" stop-color="#6300ff"/><stop offset="0.1833" stop-color="#6a00ff"/><stop offset="0.2" stop-color="#3100ff"/><stop offset="0.2167" stop-color="#0022ff"/><stop offset="0.2333" stop-color="#0069ff"/><stop offset="0.25" stop-color="#009bff"/><stop offset="0.2667" stop-color="#00c7ff"/><stop offset="0.2833" stop-color="#02e6fb"/><stop offset="0.3" stop-color="#0deade"/><stop offset="0.3167" stop-color="#15eecb"/><stop offset="0.3333" stop-color="#16eec9"/><stop offset="0.35" stop-color="#12ecd3"/><stop offset="0.3667" stop-color="#0be9e4"/><stop offset="0.3833" stop-color="#03e6f6"/><stop offset="0.4" stop-color="#00deff"/><stop offset="0.4167" stop-color="#00d8ff"/><stop offset="0.4333" stop-color="#05e7f2"/><stop offset="0.45" stop-color="#1af0be"/><stop offset="0.4667" stop-color="#31f986"/><stop offset="0.4833" stop-color="#4aff5e"/><stop offset="0.5" stop-color="#80ff55"/><stop offset="0.5167" stop-color="#b8ff4b"/><stop offset="0.5333" stop-color="#ecff42"/><stop offset="0.55" stop-color="#f7e437"/><stop offset="0.5667" stop-color="#f9cf2f"/><stop offset="0.5833" stop-color="#facc2e"/><stop offset="0.6" stop-color="#f8dc34"/><stop offset="0.6167" stop-color="#f5fb3f"/><stop offset="0.6333" stop-color="#c5ff48"/><stop offset="0.65" stop-color="#86ff54"/><stop offset="0.6667" stop-color="#43ff60"/><stop offset="0.6833" stop-color="#25f4a4"/><stop offset="0.7" stop-color="#0ae9e6"/><stop offset="0.7167" stop-color="#00c0ff"/><stop offset="0.7333" stop-color="#008eff"/><stop offset="0.75" stop-color="#0074ff"/><stop offset="0.7667" stop-color="#0073ff"/><stop offset="0.7833" stop-color="#0085ff"/><stop offset="0.8" stop-color="#00a1ff"/><stop offset="0.8167" stop-color="#00beff"/><stop offset="0.8333" stop-color="#00d6ff"/><stop offset="0.85" stop-color="#01e6fc"/><stop offset="0.8667" stop-color="#08e8eb"/><stop offset="0.8833" stop-color="#0eebdc"/><stop offset="0.9" stop-color="#13edcf"/><stop offset="0.9167" stop-color="#16eec8"/><stop offset="0.9333" stop-color="#16eec7"/><stop offset="0.95" stop-color="#16eec7"/><stop offset="0.9667" stop-color="#16eec7"/><stop offset="0.9833" stop-color="#16eec7"/><stop offset="1" stop-color="#16eec7"/></linearGradient>
<linearGradient id="b20" gradientUnits="userSpaceOnUse" x1="1206" x2="2005.4"><stop offset="0" stop-color="#ff0000"/><stop offset="0.01667" stop-color="#ff0401"/><stop offset="0.03333" stop-color="#ff400c"/><stop offset="0.05" stop-color="#fda120"/><stop offset="0.06667" stop-color="#e2ff43"/><stop offset="0.08333" stop-color="#63ff5a"/><stop offset="0.1" stop-color="#23f3a7"/><stop offset="0.1167" stop-color="#00c2ff"/><stop offset="0.1333" stop-color="#003cff"/><stop offset="0.15" stop-color="#3800ff"/><stop offset="0.1667" stop-color="#8500ff"/><stop offset="0.1833" stop-color="#9100ff"/><stop offset="0.2" stop-color="#8400ff"/><stop offset="0.2167" stop-color="#6a00ff"/><stop offset="0.2333" stop-color="#4600ff"/><stop offset="0.25" stop-color="#1a00ff"/><stop offset="0.2667" stop-color="#004bff"/><stop offset="0.2833" stop-color="#00c3ff"/><stop offset="0.3" stop-color="#10ecd7"/><stop offset="0.3167" stop-color="#26f4a0"/><stop offset="0.3333" stop-color="#2cf791"/><stop offset="0.35" stop-color="#2ef88c"/><stop offset="0.3667" stop-color="#30f889"/><stop offset="0.3833" stop-color="#30f987"/><stop offset="0.4" stop-color="#31f985"/><stop offset="0.4167" stop-color="#32f984"/><stop offset="0.4333" stop-color="#32f982"/><stop offset="0.45" stop-color="#34fa7f"/><stop offset="0.4667" stop-color="#35fb7a"/><stop offset="0.4833" stop-color="#3afd6f"/><stop offset="0.5" stop-color="#44ff5f"/><stop offset="0.5167" stop-color="#56ff5c"/><stop offset="0.5333" stop-color="#61ff5a"/><stop offset="0.55" stop-color="#5fff5b"/><stop offset="0.5667" stop-color="#4fff5d"/><stop offset="0.5833" stop-color="#3cfd6a"/><stop offset="0.6" stop-color="#31f985"/><stop offset="0.6167" stop-color="#28f59d"/><stop offset="0.6333" stop-color="#22f3ac"/><stop offset="0.65" stop-color="#21f3ac"/><stop offset="0.6667" stop-color="#25f4a3"/><stop offset="0.6833" stop-color="#2cf792"/><stop offset="0.7" stop-color="#34fa7d"/><stop offset="0.7167" stop-color="#3dfe67"/><stop offset="0.7333" stop-color="#4cff5e"/><stop offset="0.75" stop-color="#5bff5b"/><stop offset="0.7667" stop-color="#62ff5a"/><stop offset="0.7833" stop-color="#5dff5b"/><stop offset="0.8" stop-color="#49ff5e"/><stop offset="0.8167" stop-color="#37fb76"/><stop offset="0.8333" stop-color="#27f59e"/><stop offset="0.85" stop-color="#16eec8"/><stop offset="0.8667" stop-color="#05e7f3"/><stop offset="0.8833" stop-color="#00c7ff"/><stop offset="0.9" stop-color="#00a5ff"/><stop offset="0.9167" stop-color="#0091ff"/><stop offset="0.9333" stop-color="#008fff"/><stop offset="0.95" stop-color="#008fff"/><stop offset="0.9667" stop-color="#008fff"/><stop offset="0.9833" stop-color="#008fff"/><stop offset="1" stop-color="#008fff"/></linearGradient>
<linearGradient id="b21" gradientUnits="userSpaceOnUse" x1="1206" x2="2005.4"><stop offset="0" stop-color="#ff0000"/><stop offset="0.01667" stop-color="#ff0401"/><stop offset="0.03333" stop-color="#ff400b"/><stop offset="0.05" stop-color="#fea120"/><stop offset="0.06667" stop-color="#e3ff43"/><stop offset="0.08333" stop-color="#64ff5a"/><stop offset="0.1" stop-color="#23f3a9"/><stop offset="0.1167" stop-color="#00bcff"/><stop offset="0.1333" stop-color="#0032ff"/><stop offset="0.15" stop-color="#4900ff"/><stop offset="0.1667" stop-color="#9800ff"/><stop offset="0.1833" stop-color="#a500ff"/><stop offset="0.2" stop-color="#9100ff"/><stop offset="0.2167" stop-color="#6d00ff"/><stop offset="0.2333" stop-color="#3d00ff"/><stop offset="0.25" stop-color="#0500ff"/><stop offset="0.2667" stop-color="#005aff"/><stop offset="0.2833" stop-color="#00c6ff"/><stop offset="0.3" stop-color="#0deade"/><stop offset="0.3167" stop-color="#22f3ab"/><stop offset="0.3333" stop-color="#33fa81"/><stop offset="0.35" stop-color="#3fff63"/><stop offset="0.3667" stop-color="#50ff5d"/><stop offset="0.3833" stop-color="#5eff5b"/><stop offset="0.4" stop-color="#6aff59"/><stop offset="0.4167" stop-color="#75ff57"/><stop offset="0.4333" stop-color="#82ff54"/><stop offset="0.45" stop-color="#95ff51"/><stop offset="0.4667" stop-color="#adff4d"/><stop offset="0.4833" stop-color="#adff4d"/><stop offset="0.5" stop-color="#92ff51"/><stop offset="0.5167" stop-color="#64ff5a"/><stop offset="0.5333" stop-color="#37fb77"/><stop offset="0.55" stop-color="#1cf0b9"/><stop offset="0.5667" stop-color="#03e6f9"/><stop offset="0.5833" stop-color="#00acff"/><stop offset="0.6" stop-color="#0080ff"/><stop offset="0.6167" stop-color="#0070ff"/><stop offset="0.6333" stop-color="#008eff"/><stop offset="0.65" stop-color="#00d6ff"/><stop offset="0.6667" stop-color="#1df1b8"/><stop offset="0.6833" stop-color="#45ff5f"/><stop offset="0.7" stop-color="#9aff50"/><stop offset="0.7167" stop-color="#ddff44"/><stop offset="0.7333" stop-color="#f6f53c"/><stop offset="0.75" stop-color="#f6f33c"/><stop offset="0.7667" stop-color="#f6f83d"/><stop offset="0.7833" stop-color="#f5ff40"/><stop offset="0.8" stop-color="#e9ff42"/><stop offset="0.8167" stop-color="#c7ff48"/><stop offset="0.8333" stop-color="#8eff52"/><stop offset="0.85" stop-color="#44ff5f"/><stop offset="0.8667" stop-color="#1ff2b2"/><stop offset="0.8833" stop-color="#00d8ff"/><stop offset="0.9" stop-color="#0077ff"/><stop offset="0.9167" stop-color="#0026ff"/><stop offset="0.9333" stop-color="#1400ff"/><stop offset="0.95" stop-color="#2c00ff"/><stop offset="0.9667" stop-color="#2400ff"/><stop offset="0.9833" stop-color="#1300ff"/><stop offset="1" stop-color="#0a00ff"/></linearGradient>
<linearGradient id="b22" gradientUnits="userSpaceOnUse" x1="1206" x2="2005.4"><stop offset="0" stop-color="#ff0000"/><stop offset="0.01667" stop-color="#ff0401"/><stop offset="0.03333" stop-color="#ff3f0b"/><stop offset="0.05" stop-color="#fea01f"/><stop offset="0.06667" stop-color="#e3ff43"/><stop offset="0.08333" stop-color="#64ff5a"/><stop offset="0.1" stop-color="#22f3aa"/><stop offset="0.1167" stop-color="#00b8ff"/><stop offset="0.1333" stop-color="#002bff"/><stop offset="0.15" stop-color="#5400ff"/><stop offset="0.1667" stop-color="#a600ff"/><stop offset="0.1833" stop-color="#b100ff"/><stop offset="0.2" stop-color="#8d00ff"/><stop offset="0.2167" stop-color="#4b00ff"/><stop offset="0.2333" stop-color="#000aff"/><stop offset="0.25" stop-color="#005fff"/><stop offset="0.2667" stop-color="#00b4ff"/><stop offset="0.2833" stop-color="#0ceae2"/><stop offset="0.3" stop-color="#2ef88e"/><stop offset="0.3167" stop-color="#47ff5f"/><stop offset="0.3333" stop-color="#66ff59"/><stop offset="0.35" stop-color="#80ff55"/><stop offset="0.3667" stop-color="#96ff51"/><stop offset="0.3833" stop-color="#a9ff4d"/><stop offset="0.4" stop-color="#baff4a"/><stop offset="0.4167" stop-color="#c8ff48"/><stop offset="0.4333" stop-color="#d4ff46"/><stop offset="0.45" stop-color="#e0ff44"/><stop offset="0.4667" stop-color="#eaff42"/><stop offset="0.4833" stop-color="#e7ff42"/><stop offset="0.5" stop-color="#c5ff49"/><stop offset="0.5167" stop-color="#89ff53"/><stop offset="0.5333" stop-color="#3efe65"/><stop offset="0.55" stop-color="#1af0be"/><stop offset="0.5667" stop-color="#00c6ff"/><stop offset="0.5833" stop-color="#0065ff"/><stop offset="0.6" stop-color="#0016ff"/><stop offset="0.6167" stop-color="#1f00ff"/><stop offset="0.6333" stop-color="#2a00ff"/><stop offset="0.65" stop-color="#0200ff"/><stop offset="0.6667" stop-color="#0047ff"/><stop offset="0.6833" stop-color="#00acff"/><stop offset="0.7" stop-color="#15eeca"/><stop offset="0.7167" stop-color="#41ff60"/><stop offset="0.7333" stop-color="#a5ff4e"/><stop offset="0.75" stop-color="#f6f63d"/><stop offset="0.7667" stop-color="#fbbd29"/><stop offset="0.7833" stop-color="#fe981d"/><stop offset="0.8" stop-color="#ff901a"/><stop offset="0.8167" stop-color="#fda622"/><stop offset="0.8333" stop-color="#f9d632"/><stop offset="0.85" stop-color="#d5ff46"/><stop offset="0.8667" stop-color="#74ff57"/><stop offset="0.8833" stop-color="#2af697"/><stop offset="0.9" stop-color="#00e2ff"/><stop offset="0.9167" stop-color="#0071ff"/><stop offset="0.9333" stop-color="#0016ff"/><stop offset="0.95" stop-color="#2800ff"/><stop offset="0.9667" stop-color="#3a00ff"/><stop offset="0.9833" stop-color="#3a00ff"/><stop offset="1" stop-color="#3a00ff"/></linearGradient>
<linearGradient id="b23" gradientUnits="userSpaceOnUse" x1="1206" x2="2005.4"><stop offset="0" stop-color="#ff0000"/><stop offset="0.01667" stop-color="#ff0401"/><stop offset="0.03333" stop-color="#ff3f0b"/><stop offset="0.05" stop-color="#fea01f"/><stop offset="0.06667" stop-color="#e4ff43"/><stop offset="0.08333" stop-color="#64ff5a"/><stop offset="0.1" stop-color="#22f3ab"/><stop offset="0.1167" stop-color="#00b4ff"/><stop offset="0.1333" stop-color="#0023ff"/><stop offset="0.15" stop-color="#5f00ff"/><stop offset="0.1667" stop-color="#b300ff"/><stop offset="0.1833" stop-color="#bb00ff"/><stop offset="0.2" stop-color="#7b00ff"/><stop offset="0.2167" stop-color="#0f00ff"/><stop offset="0.2333" stop-color="#0062ff"/><stop offset="0.25" stop-color="#00c5ff"/><stop offset="0.2667" stop-color="#11ecd5"/><stop offset="0.2833" stop-color="#2cf791"/><stop offset="0.3" stop-color="#40ff61"/><stop offset="0.3167" stop-color="#5dff5b"/><stop offset="0.3333" stop-color="#79ff56"/><stop offset="0.35" stop-color="#93ff51"/><stop offset="0.3667" stop-color="#aaff4d"/><stop offset="0.3833" stop-color="#bfff49"/><stop offset="0.4" stop-color="#d1ff46"/><stop offset="0.4167" stop-color="#e0ff44"/><stop offset="0.4333" stop-color="#ebff42"/><stop offset="0.45" stop-color="#f3ff40"/><stop offset="0.4667" stop-color="#f5fe40"/><stop offset="0.4833" stop-color="#eeff41"/><stop offset="0.5" stop-color="#cdff47"/><stop offset="0.5167" stop-color="#97ff51"/><stop offset="0.5333" stop-color="#52ff5d"/><stop offset="0.55" stop-color="#27f59f"/><stop offset="0.5667" stop-color="#04e7f6"/><stop offset="0.5833" stop-color="#008cff"/><stop offset="0.6" stop-color="#0030ff"/><stop offset="0.6167" stop-color="#2100ff"/><stop offset="0.6333" stop-color="#5f00ff"/><stop offset="0.65" stop-color="#7c00ff"/><stop offset="0.6667" stop-color="#6e00ff"/><stop offset="0.6833" stop-color="#2c00ff"/><stop offset="0.7" stop-color="#0039ff"/><stop offset="0.7167" stop-color="#00b3ff"/><stop offset="0.7333" stop-color="#1df1b7"/><stop offset="0.75" stop-color="#5eff5b"/><stop offset="0.7667" stop-color="#c9ff48"/><stop offset="0.7833" stop-color="#f8d933"/><stop offset="0.8" stop-color="#fda421"/><stop offset="0.8167" stop-color="#ff8919"/><stop offset="0.8333" stop-color="#ff901a"/><stop offset="0.85" stop-color="#fbb928"/><stop offset="0.8667" stop-color="#f5fb3f"/><stop offset="0.8833" stop-color="#92ff52"/><stop offset="0.9" stop-color="#33fa81"/><stop offset="0.9167" stop-color="#03e6f7"/><stop offset="0.9333" stop-color="#0072ff"/><stop offset="0.95" stop-color="#0010ff"/><stop offset="0.9667" stop-color="#2f00ff"/><stop offset="0.9833" stop-color="#3a00ff"/><stop offset="1" stop-color="#3a00ff"/></linearGradient>
<linearGradient id="b24" gradientUnits="userSpaceOnUse" x1="1206" x2="2005.4"><stop offset="0" stop-color="#ff0000"/><stop offset="0.01667" stop-color="#ff0401"/><stop offset="0.03333" stop-color="#ff3f0b"/><stop offset="0.05" stop-color="#fe9f1f"/><stop offset="0.06667" stop-color="#e4ff43"/><stop offset="0.08333" stop-color="#65ff5a"/><stop offset="0.1" stop-color="#22f3ac"/><stop offset="0.1167" stop-color="#00b3ff"/><stop offset="0.1333" stop-color="#0020ff"/><stop offset="0.15" stop-color="#6500ff"/><stop offset="0.1667" stop-color="#b900ff"/><stop offset="0.1833" stop-color="#c000ff"/><stop offset="0.2" stop-color="#7400ff"/><stop offset="0.2167" stop-color="#0007ff"/><stop offset="0.2333" stop-color="#007fff"/><stop offset="0.25" stop-color="#00deff"/><stop offset="0.2667" stop-color="#17efc5"/><stop offset="0.2833" stop-color="#2ff88b"/><stop offset="0.3" stop-color="#40ff61"/><stop offset="0.3167" stop-color="#5dff5b"/><stop offset="0.3333" stop-color="#79ff56"/><stop offset="0.35" stop-color="#93ff51"/><stop offset="0.3667" stop-color="#abff4d"/><stop offset="0.3833" stop-color="#c0ff49"/><stop offset="0.4" stop-color="#d1ff46"/><stop offset="0.4167" stop-color="#dfff44"/><stop offset="0.4333" stop-color="#e8ff42"/><stop offset="0.45" stop-color="#ecff42"/><stop offset="0.4667" stop-color="#ecff42"/><stop offset="0.4833" stop-color="#e8ff42"/><stop offset="0.5" stop-color="#ceff47"/><stop offset="0.5167" stop-color="#9fff4f"/><stop offset="0.5333" stop-color="#60ff5a"/><stop offset="0.55" stop-color="#2ef88c"/><stop offset="0.5667" stop-color="#0deae0"/><stop offset="0.5833" stop-color="#00a6ff"/><stop offset="0.6" stop-color="#0046ff"/><stop offset="0.6167" stop-color="#1100ff"/><stop offset="0.6333" stop-color="#5f00ff"/><stop offset="0.65" stop-color="#9300ff"/><stop offset="0.6667" stop-color="#a700ff"/><stop offset="0.6833" stop-color="#8b00ff"/><stop offset="0.7" stop-color="#3c00ff"/><stop offset="0.7167" stop-color="#0034ff"/><stop offset="0.7333" stop-color="#00b5ff"/><stop offset="0.75" stop-color="#20f2b0"/><stop offset="0.7667" stop-color="#66ff59"/><stop offset="0.7833" stop-color="#d1ff46"/><stop offset="0.8" stop-color="#f9d532"/><stop offset="0.8167" stop-color="#fda321"/><stop offset="0.8333" stop-color="#ff8f1a"/><stop offset="0.85" stop-color="#fe9d1f"/><stop offset="0.8667" stop-color="#fac82d"/><stop offset="0.8833" stop-color="#eaff42"/><stop offset="0.9" stop-color="#89ff53"/><stop offset="0.9167" stop-color="#33fa7f"/><stop offset="0.9333" stop-color="#09e9e8"/><stop offset="0.95" stop-color="#0094ff"/><stop offset="0.9667" stop-color="#0043ff"/><stop offset="0.9833" stop-color="#0019ff"/><stop offset="1" stop-color="#0015ff"/></linearGradient>
<linearGradient id="b25" gradientUnits="userSpaceOnUse" x1="1206" x2="2005.4"><stop offset="0" stop-color="#ff0000"/><stop offset="0.01667" stop-color="#ff0401"/><stop offset="0.03333" stop-color="#ff3f0b"/><stop offset="0.05" stop-color="#fe9f1f"/><stop offset="0.06667" stop-color="#e5ff43"/><stop offset="0.08333" stop-color="#65ff59"/><stop offset="0.1" stop-color="#21f2ad"/><stop offset="0.1167" stop-color="#00afff"/><stop offset="0.1333" stop-color="#0019ff"/><stop offset="0.15" stop-color="#7000ff"/><stop offset="0.1667" stop-color="#c700ff"/><stop offset="0.1833" stop-color="#ce00ff"/><stop offset="0.2" stop-color="#7f00ff"/><stop offset="0.2167" stop-color="#0002ff"/><stop offset="0.2333" stop-color="#007dff"/><stop offset="0.25" stop-color="#00deff"/><stop offset="0.2667" stop-color="#18efc4"/><stop offset="0.2833" stop-color="#2ff88a"/><stop offset="0.3" stop-color="#40ff61"/><stop offset="0.3167" stop-color="#5aff5b"/><stop offset="0.3333" stop-color="#74ff57"/><stop offset="0.35" stop-color="#8cff53"/><stop offset="0.3667" stop-color="#a2ff4f"/><stop offset="0.3833" stop-color="#b6ff4b"/><stop offset="0.4" stop-color="#c8ff48"/><stop offset="0.4167" stop-color="#d7ff45"/><stop offset="0.4333" stop-color="#e4ff43"/><stop offset="0.45" stop-color="#edff41"/><stop offset="0.4667" stop-color="#f3ff40"/><stop offset="0.4833" stop-color="#f5fe40"/><stop offset="0.5" stop-color="#edff41"/><stop offset="0.5167" stop-color="#caff48"/><stop offset="0.5333" stop-color="#90ff52"/><stop offset="0.55" stop-color="#47ff5f"/><stop offset="0.5667" stop-color="#20f2af"/><stop offset="0.5833" stop-color="#00d9ff"/><stop offset="0.6" stop-color="#0071ff"/><stop offset="0.6167" stop-color="#0013ff"/><stop offset="0.6333" stop-color="#4100ff"/><stop offset="0.65" stop-color="#7b00ff"/><stop offset="0.6667" stop-color="#9200ff"/><stop offset="0.6833" stop-color="#7b00ff"/><stop offset="0.7" stop-color="#3700ff"/><stop offset="0.7167" stop-color="#002aff"/><stop offset="0.7333" stop-color="#009bff"/><stop offset="0.75" stop-color="#12ecd3"/><stop offset="0.7667" stop-color="#3efe64"/><stop offset="0.7833" stop-color="#a2ff4f"/><stop offset="0.8" stop-color="#f6f93e"/><stop offset="0.8167" stop-color="#fbbf2a"/><stop offset="0.8333" stop-color="#fe9a1d"/><stop offset="0.85" stop-color="#ff8f1a"/><stop offset="0.8667" stop-color="#fda220"/><stop offset="0.8833" stop-color="#facc2e"/><stop offset="0.9" stop-color="#ecff42"/><stop offset="0.9167" stop-color="#97ff51"/><stop offset="0.9333" stop-color="#3fff62"/><stop offset="0.95" stop-color="#1cf0b9"/><stop offset="0.9667" stop-color="#00e0ff"/><stop offset="0.9833" stop-color="#00a5ff"/><stop offset="1" stop-color="#008fff"/></linearGradient>
<linearGradient id="b26" gradientUnits="userSpaceOnUse" x1="1206" x2="2005.4"><stop offset="0" stop-color="#ff0000"/><stop offset="0.01667" stop-color="#ff0401"/><stop offset="0.03333" stop-color="#ff400b"/><stop offset="0.05" stop-color="#fda120"/><stop offset="0.06667" stop-color="#e2ff43"/><stop offset="0.08333" stop-color="#64ff5a"/><stop offset="0.1" stop-color="#23f3a8"/><stop offset="0.1167" stop-color="#00bfff"/><stop offset="0.1333" stop-color="#0034ff"/><stop offset="0.15" stop-color="#4e00ff"/><stop offset="0.1667" stop-color="#af00ff"/><stop offset="0.1833" stop-color="#d600ff"/><stop offset="0.2" stop-color="#b400ff"/><stop offset="0.2167" stop-color="#5700ff"/><stop offset="0.2333" stop-color="#0022ff"/><stop offset="0.25" stop-color="#0094ff"/><stop offset="0.2667" stop-color="#05e7f2"/><stop offset="0.2833" stop-color="#27f59d"/><stop offset="0.3" stop-color="#40ff61"/><stop offset="0.3167" stop-color="#5fff5b"/><stop offset="0.3333" stop-color="#7cff55"/><stop offset="0.35" stop-color="#96ff51"/><stop offset="0.3667" stop-color="#aeff4c"/><stop offset="0.3833" stop-color="#c4ff49"/><stop offset="0.4" stop-color="#d6ff45"/><stop offset="0.4167" stop-color="#e6ff43"/><stop offset="0.4333" stop-color="#f3ff40"/><stop offset="0.45" stop-color="#f6f93e"/><stop offset="0.4667" stop-color="#f6f43c"/><stop offset="0.4833" stop-color="#f6f23c"/><stop offset="0.5" stop-color="#f6f83e"/><stop offset="0.5167" stop-color="#deff44"/><stop offset="0.5333" stop-color="#aaff4d"/><stop offset="0.55" stop-color="#67ff59"/><stop offset="0.5667" stop-color="#30f888"/><stop offset="0.5833" stop-color="#0deadf"/><stop offset="0.6" stop-color="#00a3ff"/><stop offset="0.6167" stop-color="#003fff"/><stop offset="0.6333" stop-color="#1d00ff"/><stop offset="0.65" stop-color="#7000ff"/><stop offset="0.6667" stop-color="#ab00ff"/><stop offset="0.6833" stop-color="#c700ff"/><stop offset="0.7" stop-color="#bb00ff"/><stop offset="0.7167" stop-color="#8100ff"/><stop offset="0.7333" stop-color="#2000ff"/><stop offset="0.75" stop-color="#0052ff"/><stop offset="0.7667" stop-color="#00d1ff"/><stop offset="0.7833" stop-color="#27f59e"/><stop offset="0.8" stop-color="#71ff57"/><stop offset="0.8167" stop-color="#d4ff46"/><stop offset="0.8333" stop-color="#f9d532"/><stop offset="0.85" stop-color="#fda421"/><stop offset="0.8667" stop-color="#ff8919"/><stop offset="0.8833" stop-color="#ff8d19"/><stop offset="0.9" stop-color="#fcad24"/><stop offset="0.9167" stop-color="#f8e136"/><stop offset="0.9333" stop-color="#cbff47"/><stop offset="0.95" stop-color="#7aff56"/><stop offset="0.9667" stop-color="#3afd6e"/><stop offset="0.9833" stop-color="#25f4a4"/><stop offset="1" stop-color="#1df1b8"/></linearGradient>
<linearGradient id="b27" gradientUnits="userSpaceOnUse" x1="1206" x2="2005.4"><stop offset="0" stop-color="#ff0000"/><stop offset="0.01667" stop-color="#ff0401"/><stop offset="0.03333" stop-color="#ff400c"/><stop offset="0.05" stop-color="#fda220"/><stop offset="0.06667" stop-color="#e0ff44"/><stop offset="0.08333" stop-color="#63ff5a"/><stop offset="0.1" stop-color="#24f4a4"/><stop offset="0.1167" stop-color="#00cdff"/><stop offset="0.1333" stop-color="#004bff"/><stop offset="0.15" stop-color="#2e00ff"/><stop offset="0.1667" stop-color="#9400ff"/><stop offset="0.1833" stop-color="#ce00ff"/><stop offset="0.2" stop-color="#ce00ff"/><stop offset="0.2167" stop-color="#9100ff"/><stop offset="0.2333" stop-color="#2c00ff"/><stop offset="0.25" stop-color="#0045ff"/><stop offset="0.2667" stop-color="#00aeff"/><stop offset="0.2833" stop-color="#0ceae0"/><stop offset="0.3" stop-color="#2df78f"/><stop offset="0.3167" stop-color="#48ff5f"/><stop offset="0.3333" stop-color="#6fff58"/><stop offset="0.35" stop-color="#93ff51"/><stop offset="0.3667" stop-color="#b4ff4b"/><stop offset="0.3833" stop-color="#d3ff46"/><stop offset="0.4" stop-color="#eeff41"/><stop offset="0.4167" stop-color="#f6f13b"/><stop offset="0.4333" stop-color="#f8e236"/><stop offset="0.45" stop-color="#f9d632"/><stop offset="0.4667" stop-color="#f9ce2f"/><stop offset="0.4833" stop-color="#facb2e"/><stop offset="0.5" stop-color="#f9d130"/><stop offset="0.5167" stop-color="#f7ea39"/><stop offset="0.5333" stop-color="#dcff44"/><stop offset="0.55" stop-color="#99ff50"/><stop offset="0.5667" stop-color="#4bff5e"/><stop offset="0.5833" stop-color="#21f2ad"/><stop offset="0.6" stop-color="#00daff"/><stop offset="0.6167" stop-color="#0071ff"/><stop offset="0.6333" stop-color="#000fff"/><stop offset="0.65" stop-color="#4e00ff"/><stop offset="0.6667" stop-color="#9800ff"/><stop offset="0.6833" stop-color="#c700ff"/><stop offset="0.7" stop-color="#d600ff"/><stop offset="0.7167" stop-color="#bc00ff"/><stop offset="0.7333" stop-color="#7b00ff"/><stop offset="0.75" stop-color="#1b00ff"/><stop offset="0.7667" stop-color="#0051ff"/><stop offset="0.7833" stop-color="#00c8ff"/><stop offset="0.8" stop-color="#21f2ad"/><stop offset="0.8167" stop-color="#5cff5b"/><stop offset="0.8333" stop-color="#bbff4a"/><stop offset="0.85" stop-color="#f7ea39"/><stop offset="0.8667" stop-color="#fcb527"/><stop offset="0.8833" stop-color="#ff931b"/><stop offset="0.9" stop-color="#ff8718"/><stop offset="0.9167" stop-color="#ff951c"/><stop offset="0.9333" stop-color="#fcb627"/><stop offset="0.95" stop-color="#f8e035"/><stop offset="0.9667" stop-color="#e8ff42"/><stop offset="0.9833" stop-color="#c1ff49"/><stop offset="1" stop-color="#b1ff4c"/></linearGradient>
<linearGradient id="b28" gradientUnits="userSpaceOnUse" x1="1206" x2="2005.4"><stop offset="0" stop-color="#ff0000"/><stop offset="0.01667" stop-color="#ff0401"/><stop offset="0.03333" stop-color="#ff410c"/><stop offset="0.05" stop-color="#fda421"/><stop offset="0.06667" stop-color="#ddff44"/><stop offset="0.08333" stop-color="#61ff5a"/><stop offset="0.1" stop-color="#26f5a0"/><stop offset="0.1167" stop-color="#00ddff"/><stop offset="0.1333" stop-color="#0065ff"/><stop offset="0.15" stop-color="#0a00ff"/><stop offset="0.1667" stop-color="#7000ff"/><stop offset="0.1833" stop-color="#b700ff"/><stop offset="0.2" stop-color="#d600ff"/><stop offset="0.2167" stop-color="#c500ff"/><stop offset="0.2333" stop-color="#8d00ff"/><stop offset="0.25" stop-color="#3900ff"/><stop offset="0.2667" stop-color="#0026ff"/><stop offset="0.2833" stop-color="#0082ff"/><stop offset="0.3" stop-color="#00d7ff"/><stop offset="0.3167" stop-color="#1af0bf"/><stop offset="0.3333" stop-color="#38fc73"/><stop offset="0.35" stop-color="#63ff5a"/><stop offset="0.3667" stop-color="#97ff51"/><stop offset="0.3833" stop-color="#cbff47"/><stop offset="0.4" stop-color="#f5fa3e"/><stop offset="0.4167" stop-color="#f9d632"/><stop offset="0.4333" stop-color="#fcb627"/><stop offset="0.45" stop-color="#fe9c1e"/><stop offset="0.4667" stop-color="#ff8919"/><stop offset="0.4833" stop-color="#ff7d17"/><stop offset="0.5" stop-color="#ff7c16"/><stop offset="0.5167" stop-color="#ff8f1a"/><stop offset="0.5333" stop-color="#fcb627"/><stop offset="0.55" stop-color="#f7ed3a"/><stop offset="0.5667" stop-color="#b9ff4b"/><stop offset="0.5833" stop-color="#5bff5b"/><stop offset="0.6" stop-color="#22f3aa"/><stop offset="0.6167" stop-color="#00d0ff"/><stop offset="0.6333" stop-color="#005cff"/><stop offset="0.65" stop-color="#0d00ff"/><stop offset="0.6667" stop-color="#6c00ff"/><stop offset="0.6833" stop-color="#b100ff"/><stop offset="0.7" stop-color="#d300ff"/><stop offset="0.7167" stop-color="#cf00ff"/><stop offset="0.7333" stop-color="#a700ff"/><stop offset="0.75" stop-color="#6200ff"/><stop offset="0.7667" stop-color="#0600ff"/><stop offset="0.7833" stop-color="#005cff"/><stop offset="0.8" stop-color="#00c8ff"/><stop offset="0.8167" stop-color="#1cf1b9"/><stop offset="0.8333" stop-color="#46ff5f"/><stop offset="0.85" stop-color="#9dff50"/><stop offset="0.8667" stop-color="#eaff42"/><stop offset="0.8833" stop-color="#f9d431"/><stop offset="0.9" stop-color="#fcae24"/><stop offset="0.9167" stop-color="#fe9a1d"/><stop offset="0.9333" stop-color="#fe9a1e"/><stop offset="0.95" stop-color="#fcaf25"/><stop offset="0.9667" stop-color="#facc2f"/><stop offset="0.9833" stop-color="#f7e738"/><stop offset="1" stop-color="#f6f23c"/></linearGradient>
<linearGradient id="b29" gradientUnits="userSpaceOnUse" x1="1206" x2="2005.4"><stop offset="0" stop-color="#ff0000"/><stop offset="0.01667" stop-color="#ff0401"/><stop offset="0.03333" stop-color="#ff420c"/><stop offset="0.05" stop-color="#fda722"/><stop offset="0.06667" stop-color="#d8ff45"/><stop offset="0.08333" stop-color="#5fff5a"/><stop offset="0.1" stop-color="#28f59b"/><stop offset="0.1167" stop-color="#04e7f5"/><stop offset="0.1333" stop-color="#0087ff"/><stop offset="0.15" stop-color="#0026ff"/><stop offset="0.1667" stop-color="#3200ff"/><stop offset="0.1833" stop-color="#7700ff"/><stop offset="0.2" stop-color="#a000ff"/><stop offset="0.2167" stop-color="#a500ff"/><stop offset="0.2333" stop-color="#9000ff"/><stop offset="0.25" stop-color="#6c00ff"/><stop offset="0.2667" stop-color="#4100ff"/><stop offset="0.2833" stop-color="#1100ff"/><stop offset="0.3" stop-color="#002cff"/><stop offset="0.3167" stop-color="#0073ff"/><stop offset="0.3333" stop-color="#00bfff"/><stop offset="0.35" stop-color="#0febda"/><stop offset="0.3667" stop-color="#2ef88d"/><stop offset="0.3833" stop-color="#57ff5c"/><stop offset="0.4" stop-color="#9cff50"/><stop offset="0.4167" stop-color="#e3ff43"/><stop offset="0.4333" stop-color="#f9d532"/><stop offset="0.45" stop-color="#fda320"/><stop offset="0.4667" stop-color="#ff7916"/><stop offset="0.4833" stop-color="#ff5c11"/><stop offset="0.5" stop-color="#ff520f"/><stop offset="0.5167" stop-color="#ff5f11"/><stop offset="0.5333" stop-color="#ff8318"/><stop offset="0.55" stop-color="#fbb928"/><stop offset="0.5667" stop-color="#f5fc3f"/><stop offset="0.5833" stop-color="#99ff50"/><stop offset="0.6" stop-color="#3afd6e"/><stop offset="0.6167" stop-color="#0febd9"/><stop offset="0.6333" stop-color="#0098ff"/><stop offset="0.65" stop-color="#002bff"/><stop offset="0.6667" stop-color="#3600ff"/><stop offset="0.6833" stop-color="#7f00ff"/><stop offset="0.7" stop-color="#a400ff"/><stop offset="0.7167" stop-color="#a200ff"/><stop offset="0.7333" stop-color="#8900ff"/><stop offset="0.75" stop-color="#5e00ff"/><stop offset="0.7667" stop-color="#2400ff"/><stop offset="0.7833" stop-color="#0020ff"/><stop offset="0.8" stop-color="#0069ff"/><stop offset="0.8167" stop-color="#00b8ff"/><stop offset="0.8333" stop-color="#0deadf"/><stop offset="0.85" stop-color="#2af697"/><stop offset="0.8667" stop-color="#4eff5d"/><stop offset="0.8833" stop-color="#8eff52"/><stop offset="0.9" stop-color="#c9ff48"/><stop offset="0.9167" stop-color="#f6f93e"/><stop offset="0.9333" stop-color="#f9d732"/><stop offset="0.95" stop-color="#fbbf2a"/><stop offset="0.9667" stop-color="#fcb125"/><stop offset="0.9833" stop-color="#fcaf25"/><stop offset="1" stop-color="#fcaf25"/></linearGradient>
<linearGradient id="b30" gradientUnits="userSpaceOnUse" x1="1206" x2="2005.4"><stop offset="0" stop-color="#ff0000"/><stop offset="0.01667" stop-color="#ff0401"/><stop offset="0.03333" stop-color="#ff400c"/><stop offset="0.05" stop-color="#fda220"/><stop offset="0.06667" stop-color="#e1ff44"/><stop offset="0.08333" stop-color="#63ff5a"/><stop offset="0.1" stop-color="#24f3a7"/><stop offset="0.1167" stop-color="#00c6ff"/><stop offset="0.1333" stop-color="#0045ff"/><stop offset="0.15" stop-color="#2500ff"/><stop offset="0.1667" stop-color="#5f00ff"/><stop offset="0.1833" stop-color="#6100ff"/><stop offset="0.2" stop-color="#5900ff"/><stop offset="0.2167" stop-color="#4e00ff"/><stop offset="0.2333" stop-color="#4200ff"/><stop offset="0.25" stop-color="#3900ff"/><stop offset="0.2667" stop-color="#3400ff"/><stop offset="0.2833" stop-color="#3100ff"/><stop offset="0.3" stop-color="#2c00ff"/><stop offset="0.3167" stop-color="#2500ff"/><stop offset="0.3333" stop-color="#000fff"/><stop offset="0.35" stop-color="#00ccff"/><stop offset="0.3667" stop-color="#1af0be"/><stop offset="0.3833" stop-color="#35fb7b"/><stop offset="0.4" stop-color="#66ff59"/><stop offset="0.4167" stop-color="#acff4d"/><stop offset="0.4333" stop-color="#f4ff40"/><stop offset="0.45" stop-color="#fac92d"/><stop offset="0.4667" stop-color="#fe991d"/><stop offset="0.4833" stop-color="#ff7515"/><stop offset="0.5" stop-color="#ff6111"/><stop offset="0.5167" stop-color="#ff6212"/><stop offset="0.5333" stop-color="#ff7c16"/><stop offset="0.55" stop-color="#fda923"/><stop offset="0.5667" stop-color="#f7e637"/><stop offset="0.5833" stop-color="#bbff4a"/><stop offset="0.6" stop-color="#5aff5b"/><stop offset="0.6167" stop-color="#21f3ac"/><stop offset="0.6333" stop-color="#00d1ff"/><stop offset="0.65" stop-color="#0065ff"/><stop offset="0.6667" stop-color="#000cff"/><stop offset="0.6833" stop-color="#3b00ff"/><stop offset="0.7" stop-color="#6000ff"/><stop offset="0.7167" stop-color="#5f00ff"/><stop offset="0.7333" stop-color="#4b00ff"/><stop offset="0.75" stop-color="#2800ff"/><stop offset="0.7667" stop-color="#0007ff"/><stop offset="0.7833" stop-color="#003cff"/><stop offset="0.8" stop-color="#0078ff"/><stop offset="0.8167" stop-color="#00baff"/><stop offset="0.8333" stop-color="#09e9e9"/><stop offset="0.85" stop-color="#21f2ad"/><stop offset="0.8667" stop-color="#39fc71"/><stop offset="0.8833" stop-color="#68ff59"/><stop offset="0.9" stop-color="#9cff50"/><stop offset="0.9167" stop-color="#cbff47"/><stop offset="0.9333" stop-color="#f4ff40"/><stop offset="0.95" stop-color="#f7e637"/><stop offset="0.9667" stop-color="#f9d431"/><stop offset="0.9833" stop-color="#facb2e"/><stop offset="1" stop-color="#facb2e"/></linearGradient>
<linearGradient id="b31" gradientUnits="userSpaceOnUse" x1="1206" x2="2005.4"><stop offset="0" stop-color="#ff0000"/><stop offset="0.01667" stop-color="#ff0401"/><stop offset="0.03333" stop-color="#ff400c"/><stop offset="0.05" stop-color="#fda220"/><stop offset="0.06667" stop-color="#e1ff44"/><stop offset="0.08333" stop-color="#63ff5a"/><stop offset="0.1" stop-color="#24f3a7"/><stop offset="0.1167" stop-color="#00c6ff"/><stop offset="0.1333" stop-color="#0045ff"/><stop offset="0.15" stop-color="#2500ff"/><stop offset="0.1667" stop-color="#5f00ff"/><stop offset="0.1833" stop-color="#6100ff"/><stop offset="0.2" stop-color="#5900ff"/><stop offset="0.2167" stop-color="#4c00ff"/><stop offset="0.2333" stop-color="#3c00ff"/><stop offset="0.25" stop-color="#2b00ff"/><stop offset="0.2667" stop-color="#1000ff"/><stop offset="0.2833" stop-color="#0015ff"/><stop offset="0.3" stop-color="#0041ff"/><stop offset="0.3167" stop-color="#0071ff"/><stop offset="0.3333" stop-color="#00a3ff"/><stop offset="0.35" stop-color="#00d3ff"/><stop offset="0.3667" stop-color="#0ae9e6"/><stop offset="0.3833" stop-color="#1bf0bb"/><stop offset="0.4" stop-color="#2df78e"/><stop offset="0.4167" stop-color="#42ff60"/><stop offset="0.4333" stop-color="#7cff55"/><stop offset="0.45" stop-color="#c3ff49"/><stop offset="0.4667" stop-color="#f7ed3a"/><stop offset="0.4833" stop-color="#fbba28"/><stop offset="0.5" stop-color="#fe981d"/><stop offset="0.5167" stop-color="#ff901a"/><stop offset="0.5333" stop-color="#fda320"/><stop offset="0.55" stop-color="#facc2e"/><stop offset="0.5667" stop-color="#edff41"/><stop offset="0.5833" stop-color="#97ff51"/><stop offset="0.6" stop-color="#3dfe67"/><stop offset="0.6167" stop-color="#15eecb"/><stop offset="0.6333" stop-color="#00b4ff"/><stop offset="0.65" stop-color="#0054ff"/><stop offset="0.6667" stop-color="#000aff"/><stop offset="0.6833" stop-color="#2400ff"/><stop offset="0.7" stop-color="#2b00ff"/><stop offset="0.7167" stop-color="#2200ff"/><stop offset="0.7333" stop-color="#1100ff"/><stop offset="0.75" stop-color="#0006ff"/><stop offset="0.7667" stop-color="#0021ff"/><stop offset="0.7833" stop-color="#003eff"/><stop offset="0.8" stop-color="#005eff"/><stop offset="0.8167" stop-color="#007eff"/><stop offset="0.8333" stop-color="#009eff"/><stop offset="0.85" stop-color="#00bbff"/><stop offset="0.8667" stop-color="#00d5ff"/><stop offset="0.8833" stop-color="#05e7f2"/><stop offset="0.9" stop-color="#11ecd5"/><stop offset="0.9167" stop-color="#1df1b8"/><stop offset="0.9333" stop-color="#27f59d"/><stop offset="0.95" stop-color="#30f889"/><stop offset="0.9667" stop-color="#35fa7c"/><stop offset="0.9833" stop-color="#35fb7a"/><stop offset="1" stop-color="#35fb7a"/></linearGradient>
<linearGradient id="b32" gradientUnits="userSpaceOnUse" x1="1206" x2="2005.4"><stop offset="0" stop-color="#ff0000"/><stop offset="0.01667" stop-color="#ff0401"/><stop offset="0.03333" stop-color="#ff400c"/><stop offset="0.05" stop-color="#fda220"/><stop offset="0.06667" stop-color="#e0ff44"/><stop offset="0.08333" stop-color="#62ff5a"/><stop offset="0.1" stop-color="#24f4a5"/><stop offset="0.1167" stop-color="#00cdff"/><stop offset="0.1333" stop-color="#004eff"/><stop offset="0.15" stop-color="#1c00ff"/><stop offset="0.1667" stop-color="#6300ff"/><stop offset="0.1833" stop-color="#6b00ff"/><stop offset="0.2" stop-color="#3900ff"/><stop offset="0.2167" stop-color="#0017ff"/><stop offset="0.2333" stop-color="#006cff"/><stop offset="0.25" stop-color="#00b6ff"/><stop offset="0.2667" stop-color="#00e2ff"/><stop offset="0.2833" stop-color="#09e9e8"/><stop offset="0.3" stop-color="#12ecd3"/><stop offset="0.3167" stop-color="#19efc1"/><stop offset="0.3333" stop-color="#1ff2b1"/><stop offset="0.35" stop-color="#26f4a1"/><stop offset="0.3667" stop-color="#2df790"/><stop offset="0.3833" stop-color="#35fa7d"/><stop offset="0.4" stop-color="#3efe65"/><stop offset="0.4167" stop-color="#5aff5b"/><stop offset="0.4333" stop-color="#86ff54"/><stop offset="0.45" stop-color="#b8ff4b"/><stop offset="0.4667" stop-color="#e9ff42"/><stop offset="0.4833" stop-color="#f7e738"/><stop offset="0.5" stop-color="#f9d130"/><stop offset="0.5167" stop-color="#facb2e"/><stop offset="0.5333" stop-color="#f8db34"/><stop offset="0.55" stop-color="#f5fc3f"/><stop offset="0.5667" stop-color="#bdff4a"/><stop offset="0.5833" stop-color="#77ff56"/><stop offset="0.6" stop-color="#36fb78"/><stop offset="0.6167" stop-color="#16eec9"/><stop offset="0.6333" stop-color="#00c9ff"/><stop offset="0.65" stop-color="#007bff"/><stop offset="0.6667" stop-color="#003eff"/><stop offset="0.6833" stop-color="#001bff"/><stop offset="0.7" stop-color="#0019ff"/><stop offset="0.7167" stop-color="#0039ff"/><stop offset="0.7333" stop-color="#0072ff"/><stop offset="0.75" stop-color="#00b3ff"/><stop offset="0.7667" stop-color="#04e7f5"/><stop offset="0.7833" stop-color="#12ecd1"/><stop offset="0.8" stop-color="#16eec8"/><stop offset="0.8167" stop-color="#12ecd2"/><stop offset="0.8333" stop-color="#0be9e4"/><stop offset="0.85" stop-color="#02e6fb"/><stop offset="0.8667" stop-color="#00d3ff"/><stop offset="0.8833" stop-color="#00c2ff"/><stop offset="0.9" stop-color="#00b0ff"/><stop offset="0.9167" stop-color="#00a0ff"/><stop offset="0.9333" stop-color="#0094ff"/><stop offset="0.95" stop-color="#008fff"/><stop offset="0.9667" stop-color="#00a1ff"/><stop offset="0.9833" stop-color="#00c5ff"/><stop offset="1" stop-color="#00d8ff"/></linearGradient>
<linearGradient id="b33" gradientUnits="userSpaceOnUse" x1="1206" x2="2005.4"><stop offset="0" stop-color="#ff0000"/><stop offset="0.01667" stop-color="#ff0401"/><stop offset="0.03333" stop-color="#ff400c"/><stop offset="0.05" stop-color="#fda220"/><stop offset="0.06667" stop-color="#e0ff44"/><stop offset="0.08333" stop-color="#62ff5a"/><stop offset="0.1" stop-color="#24f4a5"/><stop offset="0.1167" stop-color="#00cdff"/><stop offset="0.1333" stop-color="#004dff"/><stop offset="0.15" stop-color="#2400ff"/><stop offset="0.1667" stop-color="#7700ff"/><stop offset="0.1833" stop-color="#9200ff"/><stop offset="0.2" stop-color="#5f00ff"/><stop offset="0.2167" stop-color="#0009ff"/><stop offset="0.2333" stop-color="#0075ff"/><stop offset="0.25" stop-color="#00cbff"/><stop offset="0.2667" stop-color="#08e8ea"/><stop offset="0.2833" stop-color="#19efc1"/><stop offset="0.3" stop-color="#28f59c"/><stop offset="0.3167" stop-color="#34fa7e"/><stop offset="0.3333" stop-color="#3cfe69"/><stop offset="0.35" stop-color="#40ff61"/><stop offset="0.3667" stop-color="#40ff60"/><stop offset="0.3833" stop-color="#40ff60"/><stop offset="0.4" stop-color="#40ff60"/><stop offset="0.4167" stop-color="#40ff60"/><stop offset="0.4333" stop-color="#41ff60"/><stop offset="0.45" stop-color="#55ff5c"/><stop offset="0.4667" stop-color="#7aff56"/><stop offset="0.4833" stop-color="#a6ff4e"/><stop offset="0.5" stop-color="#ceff47"/><stop offset="0.5167" stop-color="#e8ff42"/><stop offset="0.5333" stop-color="#eaff42"/><stop offset="0.55" stop-color="#d5ff46"/><stop offset="0.5667" stop-color="#aeff4d"/><stop offset="0.5833" stop-color="#7aff56"/><stop offset="0.6" stop-color="#3fff62"/><stop offset="0.6167" stop-color="#25f4a3"/><stop offset="0.6333" stop-color="#0ceae2"/><stop offset="0.65" stop-color="#00c6ff"/><stop offset="0.6667" stop-color="#0093ff"/><stop offset="0.6833" stop-color="#0076ff"/><stop offset="0.7" stop-color="#0073ff"/><stop offset="0.7167" stop-color="#008bff"/><stop offset="0.7333" stop-color="#00b7ff"/><stop offset="0.75" stop-color="#03e6f8"/><stop offset="0.7667" stop-color="#17eec6"/><stop offset="0.7833" stop-color="#2af698"/><stop offset="0.8" stop-color="#38fc74"/><stop offset="0.8167" stop-color="#3fff62"/><stop offset="0.8333" stop-color="#3dfe67"/><stop offset="0.85" stop-color="#32f984"/><stop offset="0.8667" stop-color="#1ff2b2"/><stop offset="0.8833" stop-color="#08e8eb"/><stop offset="0.9" stop-color="#00b5ff"/><stop offset="0.9167" stop-color="#0071ff"/><stop offset="0.9333" stop-color="#0038ff"/><stop offset="0.95" stop-color="#0013ff"/><stop offset="0.9667" stop-color="#000aff"/><stop offset="0.9833" stop-color="#0021ff"/><stop offset="1" stop-color="#0034ff"/></linearGradient>
<linearGradient id="b34" gradientUnits="userSpaceOnUse" x1="1206" x2="2005.4"><stop offset="0" stop-color="#ff0000"/><stop offset="0.01667" stop-color="#ff0401"/><stop offset="0.03333" stop-color="#ff400c"/><stop offset="0.05" stop-color="#fda220"/><stop offset="0.06667" stop-color="#e0ff44"/><stop offset="0.08333" stop-color="#63ff5a"/><stop offset="0.1" stop-color="#24f4a4"/><stop offset="0.1167" stop-color="#00cdff"/><stop offset="0.1333" stop-color="#004cff"/><stop offset="0.15" stop-color="#2a00ff"/><stop offset="0.1667" stop-color="#8700ff"/><stop offset="0.1833" stop-color="#b300ff"/><stop offset="0.2" stop-color="#8e00ff"/><stop offset="0.2167" stop-color="#1300ff"/><stop offset="0.2333" stop-color="#0075ff"/><stop offset="0.25" stop-color="#00deff"/><stop offset="0.2667" stop-color="#1bf0bd"/><stop offset="0.2833" stop-color="#34fa7e"/><stop offset="0.3" stop-color="#40ff60"/><stop offset="0.3167" stop-color="#44ff5f"/><stop offset="0.3333" stop-color="#48ff5f"/><stop offset="0.35" stop-color="#4bff5e"/><stop offset="0.3667" stop-color="#4dff5e"/><stop offset="0.3833" stop-color="#4eff5e"/><stop offset="0.4" stop-color="#4eff5d"/><stop offset="0.4167" stop-color="#4eff5e"/><stop offset="0.4333" stop-color="#4dff5e"/><stop offset="0.45" stop-color="#4bff5e"/><stop offset="0.4667" stop-color="#49ff5e"/><stop offset="0.4833" stop-color="#46ff5f"/><stop offset="0.5" stop-color="#42ff60"/><stop offset="0.5167" stop-color="#3fff61"/><stop offset="0.5333" stop-color="#3cfd6a"/><stop offset="0.55" stop-color="#36fb78"/><stop offset="0.5667" stop-color="#2ff88b"/><stop offset="0.5833" stop-color="#26f5a0"/><stop offset="0.6" stop-color="#1df1b6"/><stop offset="0.6167" stop-color="#14edcd"/><stop offset="0.6333" stop-color="#0ceae2"/><stop offset="0.65" stop-color="#05e7f3"/><stop offset="0.6667" stop-color="#00e3ff"/><stop offset="0.6833" stop-color="#00d9ff"/><stop offset="0.7" stop-color="#00daff"/><stop offset="0.7167" stop-color="#03e6f7"/><stop offset="0.7333" stop-color="#10ecd7"/><stop offset="0.75" stop-color="#20f2af"/><stop offset="0.7667" stop-color="#31f984"/><stop offset="0.7833" stop-color="#43ff5f"/><stop offset="0.8" stop-color="#61ff5a"/><stop offset="0.8167" stop-color="#70ff58"/><stop offset="0.8333" stop-color="#6bff58"/><stop offset="0.85" stop-color="#4eff5d"/><stop offset="0.8667" stop-color="#33fa81"/><stop offset="0.8833" stop-color="#1af0be"/><stop offset="0.9" stop-color="#00e3ff"/><stop offset="0.9167" stop-color="#0093ff"/><stop offset="0.9333" stop-color="#0049ff"/><stop offset="0.95" stop-color="#000dff"/><stop offset="0.9667" stop-color="#1e00ff"/><stop offset="0.9833" stop-color="#2c00ff"/><stop offset="1" stop-color="#2c00ff"/></linearGradient>
<linearGradient id="b35" gradientUnits="userSpaceOnUse" x1="1206" x2="2005.4"><stop offset="0" stop-color="#ff0000"/><stop offset="0.01667" stop-color="#ff0401"/><stop offset="0.03333" stop-color="#ff400c"/><stop offset="0.05" stop-color="#fda220"/><stop offset="0.06667" stop-color="#e0ff44"/><stop offset="0.08333" stop-color="#63ff5a"/><stop offset="0.1" stop-color="#24f4a4"/><stop offset="0.1167" stop-color="#00cdff"/><stop offset="0.1333" stop-color="#004cff"/><stop offset="0.15" stop-color="#2a00ff"/><stop offset="0.1667" stop-color="#8700ff"/><stop offset="0.1833" stop-color="#b300ff"/><stop offset="0.2" stop-color="#9600ff"/><stop offset="0.2167" stop-color="#3000ff"/><stop offset="0.2333" stop-color="#004cff"/><stop offset="0.25" stop-color="#00b9ff"/><stop offset="0.2667" stop-color="#0be9e4"/><stop offset="0.2833" stop-color="#23f3a7"/><stop offset="0.3" stop-color="#37fb77"/><stop offset="0.3167" stop-color="#43ff5f"/><stop offset="0.3333" stop-color="#52ff5d"/><stop offset="0.35" stop-color="#5eff5b"/><stop offset="0.3667" stop-color="#68ff59"/><stop offset="0.3833" stop-color="#6eff58"/><stop offset="0.4" stop-color="#71ff57"/><stop offset="0.4167" stop-color="#70ff57"/><stop offset="0.4333" stop-color="#6fff58"/><stop offset="0.45" stop-color="#6bff58"/><stop offset="0.4667" stop-color="#67ff59"/><stop offset="0.4833" stop-color="#62ff5a"/><stop offset="0.5" stop-color="#5dff5b"/><stop offset="0.5167" stop-color="#57ff5c"/><stop offset="0.5333" stop-color="#4aff5e"/><stop offset="0.55" stop-color="#3cfd6b"/><stop offset="0.5667" stop-color="#31f986"/><stop offset="0.5833" stop-color="#25f4a3"/><stop offset="0.6" stop-color="#19efc1"/><stop offset="0.6167" stop-color="#0eebdd"/><stop offset="0.6333" stop-color="#04e7f4"/><stop offset="0.65" stop-color="#00dfff"/><stop offset="0.6667" stop-color="#00d8ff"/><stop offset="0.6833" stop-color="#00e3ff"/><stop offset="0.7" stop-color="#0ae9e6"/><stop offset="0.7167" stop-color="#1af0be"/><stop offset="0.7333" stop-color="#2df790"/><stop offset="0.75" stop-color="#40ff60"/><stop offset="0.7667" stop-color="#6aff59"/><stop offset="0.7833" stop-color="#8cff53"/><stop offset="0.8" stop-color="#9fff4f"/><stop offset="0.8167" stop-color="#a0ff4f"/><stop offset="0.8333" stop-color="#8aff53"/><stop offset="0.85" stop-color="#63ff5a"/><stop offset="0.8667" stop-color="#39fc72"/><stop offset="0.8833" stop-color="#1ff2b2"/><stop offset="0.9" stop-color="#03e6f7"/><stop offset="0.9167" stop-color="#009eff"/><stop offset="0.9333" stop-color="#0053ff"/><stop offset="0.95" stop-color="#0014ff"/><stop offset="0.9667" stop-color="#1e00ff"/><stop offset="0.9833" stop-color="#3800ff"/><stop offset="1" stop-color="#3a00ff"/></linearGradient>
<linearGradient id="b36" gradientUnits="userSpaceOnUse" x1="1206" x2="2005.4"><stop offset="0" stop-color="#ff0000"/><stop offset="0.01667" stop-color="#ff0401"/><stop offset="0.03333" stop-color="#ff3f0b"/><stop offset="0.05" stop-color="#fe9e1f"/><stop offset="0.06667" stop-color="#e8ff42"/><stop offset="0.08333" stop-color="#6bff58"/><stop offset="0.1" stop-color="#28f59c"/><stop offset="0.1167" stop-color="#00d6ff"/><stop offset="0.1333" stop-color="#0053ff"/><stop offset="0.15" stop-color="#2500ff"/><stop offset="0.1667" stop-color="#8500ff"/><stop offset="0.1833" stop-color="#b300ff"/><stop offset="0.2" stop-color="#9f00ff"/><stop offset="0.2167" stop-color="#5500ff"/><stop offset="0.2333" stop-color="#0013ff"/><stop offset="0.25" stop-color="#0077ff"/><stop offset="0.2667" stop-color="#00cdff"/><stop offset="0.2833" stop-color="#0febda"/><stop offset="0.3" stop-color="#25f4a3"/><stop offset="0.3167" stop-color="#38fc74"/><stop offset="0.3333" stop-color="#4dff5e"/><stop offset="0.35" stop-color="#6aff59"/><stop offset="0.3667" stop-color="#85ff54"/><stop offset="0.3833" stop-color="#9cff50"/><stop offset="0.4" stop-color="#aeff4d"/><stop offset="0.4167" stop-color="#b8ff4b"/><stop offset="0.4333" stop-color="#bbff4a"/><stop offset="0.45" stop-color="#b7ff4b"/><stop offset="0.4667" stop-color="#afff4c"/><stop offset="0.4833" stop-color="#a5ff4e"/><stop offset="0.5" stop-color="#97ff51"/><stop offset="0.5167" stop-color="#7fff55"/><stop offset="0.5333" stop-color="#60ff5a"/><stop offset="0.55" stop-color="#3efe64"/><stop offset="0.5667" stop-color="#2ef88c"/><stop offset="0.5833" stop-color="#1ff2b1"/><stop offset="0.6" stop-color="#12ecd2"/><stop offset="0.6167" stop-color="#08e8eb"/><stop offset="0.6333" stop-color="#02e6f9"/><stop offset="0.65" stop-color="#03e6f9"/><stop offset="0.6667" stop-color="#09e9e8"/><stop offset="0.6833" stop-color="#15edcb"/><stop offset="0.7" stop-color="#24f4a5"/><stop offset="0.7167" stop-color="#36fb78"/><stop offset="0.7333" stop-color="#55ff5c"/><stop offset="0.75" stop-color="#7fff55"/><stop offset="0.7667" stop-color="#a4ff4e"/><stop offset="0.7833" stop-color="#c1ff49"/><stop offset="0.8" stop-color="#d1ff46"/><stop offset="0.8167" stop-color="#d1ff46"/><stop offset="0.8333" stop-color="#baff4a"/><stop offset="0.85" stop-color="#8fff52"/><stop offset="0.8667" stop-color="#56ff5c"/><stop offset="0.8833" stop-color="#2df78e"/><stop offset="0.9" stop-color="#10ebd8"/><stop offset="0.9167" stop-color="#00bbff"/><stop offset="0.9333" stop-color="#006aff"/><stop offset="0.95" stop-color="#0026ff"/><stop offset="0.9667" stop-color="#0e00ff"/><stop offset="0.9833" stop-color="#2a00ff"/><stop offset="1" stop-color="#2c00ff"/></linearGradient>
<linearGradient id="b37" gradientUnits="userSpaceOnUse" x1="1206" x2="2005.4"><stop offset="0" stop-color="#ff0000"/><stop offset="0.01667" stop-color="#ff0401"/><stop offset="0.03333" stop-color="#ff3e0b"/><stop offset="0.05" stop-color="#fe9b1e"/><stop offset="0.06667" stop-color="#eeff41"/><stop offset="0.08333" stop-color="#72ff57"/><stop offset="0.1" stop-color="#2cf793"/><stop offset="0.1167" stop-color="#00e5fe"/><stop offset="0.1333" stop-color="#0067ff"/><stop offset="0.15" stop-color="#0d00ff"/><stop offset="0.1667" stop-color="#6f00ff"/><stop offset="0.1833" stop-color="#a200ff"/><stop offset="0.2" stop-color="#9d00ff"/><stop offset="0.2167" stop-color="#6e00ff"/><stop offset="0.2333" stop-color="#2300ff"/><stop offset="0.25" stop-color="#0032ff"/><stop offset="0.2667" stop-color="#0083ff"/><stop offset="0.2833" stop-color="#00caff"/><stop offset="0.3" stop-color="#0ae9e5"/><stop offset="0.3167" stop-color="#1df1b6"/><stop offset="0.3333" stop-color="#2ff88a"/><stop offset="0.35" stop-color="#3ffe64"/><stop offset="0.3667" stop-color="#5eff5b"/><stop offset="0.3833" stop-color="#80ff55"/><stop offset="0.4" stop-color="#a2ff4f"/><stop offset="0.4167" stop-color="#c2ff49"/><stop offset="0.4333" stop-color="#ddff44"/><stop offset="0.45" stop-color="#f3ff40"/><stop offset="0.4667" stop-color="#f6f63d"/><stop offset="0.4833" stop-color="#f6f23c"/><stop offset="0.5" stop-color="#f5ff40"/><stop offset="0.5167" stop-color="#cdff47"/><stop offset="0.5333" stop-color="#94ff51"/><stop offset="0.55" stop-color="#4fff5d"/><stop offset="0.5667" stop-color="#27f59e"/><stop offset="0.5833" stop-color="#08e8eb"/><stop offset="0.6" stop-color="#00abff"/><stop offset="0.6167" stop-color="#0069ff"/><stop offset="0.6333" stop-color="#003fff"/><stop offset="0.65" stop-color="#0034ff"/><stop offset="0.6667" stop-color="#0049ff"/><stop offset="0.6833" stop-color="#0076ff"/><stop offset="0.7" stop-color="#00b6ff"/><stop offset="0.7167" stop-color="#0ae9e6"/><stop offset="0.7333" stop-color="#26f5a0"/><stop offset="0.75" stop-color="#46ff5f"/><stop offset="0.7667" stop-color="#85ff54"/><stop offset="0.7833" stop-color="#bbff4a"/><stop offset="0.8" stop-color="#e2ff43"/><stop offset="0.8167" stop-color="#f5ff40"/><stop offset="0.8333" stop-color="#f0ff41"/><stop offset="0.85" stop-color="#d4ff46"/><stop offset="0.8667" stop-color="#a7ff4e"/><stop offset="0.8833" stop-color="#6cff58"/><stop offset="0.9" stop-color="#36fb79"/><stop offset="0.9167" stop-color="#19efc2"/><stop offset="0.9333" stop-color="#00d8ff"/><stop offset="0.95" stop-color="#008cff"/><stop offset="0.9667" stop-color="#004eff"/><stop offset="0.9833" stop-color="#0024ff"/><stop offset="1" stop-color="#0015ff"/></linearGradient>
<linearGradient id="b38" gradientUnits="userSpaceOnUse" x1="1206" x2="2005.4"><stop offset="0" stop-color="#ff0000"/><stop offset="0.01667" stop-color="#ff0401"/><stop offset="0.03333" stop-color="#ff3e0b"/><stop offset="0.05" stop-color="#fe9c1e"/><stop offset="0.06667" stop-color="#ecff42"/><stop offset="0.08333" stop-color="#71ff57"/><stop offset="0.1" stop-color="#2cf791"/><stop offset="0.1167" stop-color="#03e6f7"/><stop offset="0.1333" stop-color="#0076ff"/><stop offset="0.15" stop-color="#0009ff"/><stop offset="0.1667" stop-color="#5400ff"/><stop offset="0.1833" stop-color="#8a00ff"/><stop offset="0.2" stop-color="#8e00ff"/><stop offset="0.2167" stop-color="#6d00ff"/><stop offset="0.2333" stop-color="#3400ff"/><stop offset="0.25" stop-color="#0013ff"/><stop offset="0.2667" stop-color="#005aff"/><stop offset="0.2833" stop-color="#009eff"/><stop offset="0.3" stop-color="#00d8ff"/><stop offset="0.3167" stop-color="#0ceae2"/><stop offset="0.3333" stop-color="#1bf0bb"/><stop offset="0.35" stop-color="#2bf694"/><stop offset="0.3667" stop-color="#3bfd6d"/><stop offset="0.3833" stop-color="#5cff5b"/><stop offset="0.4" stop-color="#8dff52"/><stop offset="0.4167" stop-color="#c1ff49"/><stop offset="0.4333" stop-color="#f3ff40"/><stop offset="0.45" stop-color="#f8dd34"/><stop offset="0.4667" stop-color="#fac42c"/><stop offset="0.4833" stop-color="#fbb727"/><stop offset="0.5" stop-color="#fbbf2a"/><stop offset="0.5167" stop-color="#f8e236"/><stop offset="0.5333" stop-color="#d4ff46"/><stop offset="0.55" stop-color="#7cff55"/><stop offset="0.5667" stop-color="#31f986"/><stop offset="0.5833" stop-color="#07e8ed"/><stop offset="0.6" stop-color="#0087ff"/><stop offset="0.6167" stop-color="#0026ff"/><stop offset="0.6333" stop-color="#2500ff"/><stop offset="0.65" stop-color="#4c00ff"/><stop offset="0.6667" stop-color="#4200ff"/><stop offset="0.6833" stop-color="#0d00ff"/><stop offset="0.7" stop-color="#0041ff"/><stop offset="0.7167" stop-color="#00a3ff"/><stop offset="0.7333" stop-color="#0eebdb"/><stop offset="0.75" stop-color="#34fa7d"/><stop offset="0.7667" stop-color="#79ff56"/><stop offset="0.7833" stop-color="#c2ff49"/><stop offset="0.8" stop-color="#f5fd3f"/><stop offset="0.8167" stop-color="#f7e838"/><stop offset="0.8333" stop-color="#f7ea39"/><stop offset="0.85" stop-color="#f5fe40"/><stop offset="0.8667" stop-color="#cfff47"/><stop offset="0.8833" stop-color="#9cff50"/><stop offset="0.9" stop-color="#62ff5a"/><stop offset="0.9167" stop-color="#35fa7c"/><stop offset="0.9333" stop-color="#1cf0b9"/><stop offset="0.95" stop-color="#06e7f1"/><stop offset="0.9667" stop-color="#00c0ff"/><stop offset="0.9833" stop-color="#009cff"/><stop offset="1" stop-color="#008fff"/></linearGradient>
<linearGradient id="b39" gradientUnits="userSpaceOnUse" x1="1206" x2="2005.4"><stop offset="0" stop-color="#ff0000"/><stop offset="0.01667" stop-color="#ff0401"/><stop offset="0.03333" stop-color="#ff3d0b"/><stop offset="0.05" stop-color="#fe991d"/><stop offset="0.06667" stop-color="#f2ff40"/><stop offset="0.08333" stop-color="#78ff56"/><stop offset="0.1" stop-color="#30f888"/><stop offset="0.1167" stop-color="#08e8ec"/><stop offset="0.1333" stop-color="#0085ff"/><stop offset="0.15" stop-color="#001aff"/><stop offset="0.1667" stop-color="#4000ff"/><stop offset="0.1833" stop-color="#7600ff"/><stop offset="0.2" stop-color="#7a00ff"/><stop offset="0.2167" stop-color="#5d00ff"/><stop offset="0.2333" stop-color="#2a00ff"/><stop offset="0.25" stop-color="#0014ff"/><stop offset="0.2667" stop-color="#0054ff"/><stop offset="0.2833" stop-color="#0093ff"/><stop offset="0.3" stop-color="#00c9ff"/><stop offset="0.3167" stop-color="#05e7f2"/><stop offset="0.3333" stop-color="#12ecd2"/><stop offset="0.35" stop-color="#1ef1b4"/><stop offset="0.3667" stop-color="#2bf794"/><stop offset="0.3833" stop-color="#39fc70"/><stop offset="0.4" stop-color="#5bff5b"/><stop offset="0.4167" stop-color="#95ff51"/><stop offset="0.4333" stop-color="#d9ff45"/><stop offset="0.45" stop-color="#f8e035"/><stop offset="0.4667" stop-color="#fcb326"/><stop offset="0.4833" stop-color="#fe961c"/><stop offset="0.5" stop-color="#ff911a"/><stop offset="0.5167" stop-color="#fdab23"/><stop offset="0.5333" stop-color="#f8df35"/><stop offset="0.55" stop-color="#c3ff49"/><stop offset="0.5667" stop-color="#59ff5c"/><stop offset="0.5833" stop-color="#1bf0bd"/><stop offset="0.6" stop-color="#00a9ff"/><stop offset="0.6167" stop-color="#002aff"/><stop offset="0.6333" stop-color="#4500ff"/><stop offset="0.65" stop-color="#9500ff"/><stop offset="0.6667" stop-color="#b400ff"/><stop offset="0.6833" stop-color="#9c00ff"/><stop offset="0.7" stop-color="#5600ff"/><stop offset="0.7167" stop-color="#0011ff"/><stop offset="0.7333" stop-color="#0085ff"/><stop offset="0.75" stop-color="#0be9e5"/><stop offset="0.7667" stop-color="#37fb77"/><stop offset="0.7833" stop-color="#8dff52"/><stop offset="0.8" stop-color="#e2ff43"/><stop offset="0.8167" stop-color="#f8dc34"/><stop offset="0.8333" stop-color="#fbc12b"/><stop offset="0.85" stop-color="#fac22b"/><stop offset="0.8667" stop-color="#f9d632"/><stop offset="0.8833" stop-color="#f6f73d"/><stop offset="0.9" stop-color="#cbff47"/><stop offset="0.9167" stop-color="#90ff52"/><stop offset="0.9333" stop-color="#55ff5c"/><stop offset="0.95" stop-color="#31f984"/><stop offset="0.9667" stop-color="#1ef1b4"/><stop offset="0.9833" stop-color="#11ecd5"/><stop offset="1" stop-color="#0ceae1"/></linearGradient>
<linearGradient id="b40" gradientUnits="userSpaceOnUse" x1="1206" x2="2005.4"><stop offset="0" stop-color="#ff0000"/><stop offset="0.01667" stop-color="#ff0401"/><stop offset="0.03333" stop-color="#ff3d0b"/><stop offset="0.05" stop-color="#fe991d"/><stop offset="0.06667" stop-color="#f2ff40"/><stop offset="0.08333" stop-color="#78ff56"/><stop offset="0.1" stop-color="#30f888"/><stop offset="0.1167" stop-color="#07e8ec"/><stop offset="0.1333" stop-color="#0085ff"/><stop offset="0.15" stop-color="#001bff"/><stop offset="0.1667" stop-color="#3c00ff"/><stop offset="0.1833" stop-color="#6c00ff"/><stop offset="0.2" stop-color="#6900ff"/><stop offset="0.2167" stop-color="#4800ff"/><stop offset="0.2333" stop-color="#1100ff"/><stop offset="0.25" stop-color="#002dff"/><stop offset="0.2667" stop-color="#006cff"/><stop offset="0.2833" stop-color="#00a8ff"/><stop offset="0.3" stop-color="#00d8ff"/><stop offset="0.3167" stop-color="#08e8eb"/><stop offset="0.3333" stop-color="#13edd0"/><stop offset="0.35" stop-color="#1df1b6"/><stop offset="0.3667" stop-color="#28f59c"/><stop offset="0.3833" stop-color="#34fa7e"/><stop offset="0.4" stop-color="#44ff5f"/><stop offset="0.4167" stop-color="#76ff56"/><stop offset="0.4333" stop-color="#b6ff4b"/><stop offset="0.45" stop-color="#f5fa3e"/><stop offset="0.4667" stop-color="#fac82d"/><stop offset="0.4833" stop-color="#fda120"/><stop offset="0.5" stop-color="#ff8f1a"/><stop offset="0.5167" stop-color="#fe9b1e"/><stop offset="0.5333" stop-color="#fac32b"/><stop offset="0.55" stop-color="#f2ff41"/><stop offset="0.5667" stop-color="#90ff52"/><stop offset="0.5833" stop-color="#33fa80"/><stop offset="0.6" stop-color="#03e6f7"/><stop offset="0.6167" stop-color="#0067ff"/><stop offset="0.6333" stop-color="#1400ff"/><stop offset="0.65" stop-color="#7f00ff"/><stop offset="0.6667" stop-color="#c300ff"/><stop offset="0.6833" stop-color="#d500ff"/><stop offset="0.7" stop-color="#ae00ff"/><stop offset="0.7167" stop-color="#5700ff"/><stop offset="0.7333" stop-color="#0020ff"/><stop offset="0.75" stop-color="#00a3ff"/><stop offset="0.7667" stop-color="#19efc1"/><stop offset="0.7833" stop-color="#53ff5d"/><stop offset="0.8" stop-color="#b8ff4b"/><stop offset="0.8167" stop-color="#f7ee3a"/><stop offset="0.8333" stop-color="#fac32c"/><stop offset="0.85" stop-color="#fbb727"/><stop offset="0.8667" stop-color="#fac32b"/><stop offset="0.8833" stop-color="#f8de35"/><stop offset="0.9" stop-color="#eeff41"/><stop offset="0.9167" stop-color="#b6ff4b"/><stop offset="0.9333" stop-color="#7cff55"/><stop offset="0.95" stop-color="#45ff5f"/><stop offset="0.9667" stop-color="#2ff88b"/><stop offset="0.9833" stop-color="#22f3ac"/><stop offset="1" stop-color="#1df1b8"/></linearGradient>
<linearGradient id="b41" gradientUnits="userSpaceOnUse" x1="1206" x2="2005.4"><stop offset="0" stop-color="#ff0000"/><stop offset="0.01667" stop-color="#ff0401"/><stop offset="0.03333" stop-color="#ff3d0b"/><stop offset="0.05" stop-color="#fe991d"/><stop offset="0.06667" stop-color="#f2ff40"/><stop offset="0.08333" stop-color="#78ff56"/><stop offset="0.1" stop-color="#30f888"/><stop offset="0.1167" stop-color="#07e8ec"/><stop offset="0.1333" stop-color="#0085ff"/><stop offset="0.15" stop-color="#001bff"/><stop offset="0.1667" stop-color="#3c00ff"/><stop offset="0.1833" stop-color="#6c00ff"/><stop offset="0.2" stop-color="#6900ff"/><stop offset="0.2167" stop-color="#4300ff"/><stop offset="0.2333" stop-color="#0700ff"/><stop offset="0.25" stop-color="#003bff"/><stop offset="0.2667" stop-color="#007dff"/><stop offset="0.2833" stop-color="#00b8ff"/><stop offset="0.3" stop-color="#00e3ff"/><stop offset="0.3167" stop-color="#0be9e5"/><stop offset="0.3333" stop-color="#14edcd"/><stop offset="0.35" stop-color="#1df1b6"/><stop offset="0.3667" stop-color="#27f59f"/><stop offset="0.3833" stop-color="#31f985"/><stop offset="0.4" stop-color="#3dfe67"/><stop offset="0.4167" stop-color="#63ff5a"/><stop offset="0.4333" stop-color="#9dff50"/><stop offset="0.45" stop-color="#e0ff44"/><stop offset="0.4667" stop-color="#f8dd34"/><stop offset="0.4833" stop-color="#fcb326"/><stop offset="0.5" stop-color="#fe9a1d"/><stop offset="0.5167" stop-color="#fe9b1e"/><stop offset="0.5333" stop-color="#fbb727"/><stop offset="0.55" stop-color="#f7e939"/><stop offset="0.5667" stop-color="#bdff4a"/><stop offset="0.5833" stop-color="#5cff5b"/><stop offset="0.6" stop-color="#20f2af"/><stop offset="0.6167" stop-color="#00c3ff"/><stop offset="0.6333" stop-color="#004bff"/><stop offset="0.65" stop-color="#2000ff"/><stop offset="0.6667" stop-color="#7800ff"/><stop offset="0.6833" stop-color="#ab00ff"/><stop offset="0.7" stop-color="#af00ff"/><stop offset="0.7167" stop-color="#7f00ff"/><stop offset="0.7333" stop-color="#2500ff"/><stop offset="0.75" stop-color="#004bff"/><stop offset="0.7667" stop-color="#00c8ff"/><stop offset="0.7833" stop-color="#23f3a9"/><stop offset="0.8" stop-color="#61ff5a"/><stop offset="0.8167" stop-color="#bdff4a"/><stop offset="0.8333" stop-color="#f6f33c"/><stop offset="0.85" stop-color="#f9d130"/><stop offset="0.8667" stop-color="#facc2e"/><stop offset="0.8833" stop-color="#f8db34"/><stop offset="0.9" stop-color="#f6f73d"/><stop offset="0.9167" stop-color="#d2ff46"/><stop offset="0.9333" stop-color="#a3ff4f"/><stop offset="0.95" stop-color="#76ff56"/><stop offset="0.9667" stop-color="#53ff5d"/><stop offset="0.9833" stop-color="#41ff60"/><stop offset="1" stop-color="#40ff60"/></linearGradient>
<linearGradient id="b42" gradientUnits="userSpaceOnUse" x1="1206" x2="2005.4"><stop offset="0" stop-color="#ff0000"/><stop offset="0.01667" stop-color="#ff0401"/><stop offset="0.03333" stop-color="#ff3d0b"/><stop offset="0.05" stop-color="#fe981d"/><stop offset="0.06667" stop-color="#f5fe40"/><stop offset="0.08333" stop-color="#7cff55"/><stop offset="0.1" stop-color="#31f985"/><stop offset="0.1167" stop-color="#09e9e9"/><stop offset="0.1333" stop-color="#0088ff"/><stop offset="0.15" stop-color="#001dff"/><stop offset="0.1667" stop-color="#3c00ff"/><stop offset="0.1833" stop-color="#6c00ff"/><stop offset="0.2" stop-color="#6800ff"/><stop offset="0.2167" stop-color="#3f00ff"/><stop offset="0.2333" stop-color="#0001ff"/><stop offset="0.25" stop-color="#0045ff"/><stop offset="0.2667" stop-color="#008aff"/><stop offset="0.2833" stop-color="#00c3ff"/><stop offset="0.3" stop-color="#02e6fa"/><stop offset="0.3167" stop-color="#0deadf"/><stop offset="0.3333" stop-color="#17eec7"/><stop offset="0.35" stop-color="#20f2b1"/><stop offset="0.3667" stop-color="#29f59a"/><stop offset="0.3833" stop-color="#32f982"/><stop offset="0.4" stop-color="#3efe66"/><stop offset="0.4167" stop-color="#5eff5b"/><stop offset="0.4333" stop-color="#8dff52"/><stop offset="0.45" stop-color="#c2ff49"/><stop offset="0.4667" stop-color="#f5ff40"/><stop offset="0.4833" stop-color="#f8dc34"/><stop offset="0.5" stop-color="#fac52c"/><stop offset="0.5167" stop-color="#fbbf2a"/><stop offset="0.5333" stop-color="#f9cf30"/><stop offset="0.55" stop-color="#f6f23c"/><stop offset="0.5667" stop-color="#c7ff48"/><stop offset="0.5833" stop-color="#7bff56"/><stop offset="0.6" stop-color="#36fb7a"/><stop offset="0.6167" stop-color="#11ecd4"/><stop offset="0.6333" stop-color="#00afff"/><stop offset="0.65" stop-color="#0051ff"/><stop offset="0.6667" stop-color="#0001ff"/><stop offset="0.6833" stop-color="#3f00ff"/><stop offset="0.7" stop-color="#6000ff"/><stop offset="0.7167" stop-color="#5b00ff"/><stop offset="0.7333" stop-color="#3100ff"/><stop offset="0.75" stop-color="#0013ff"/><stop offset="0.7667" stop-color="#0065ff"/><stop offset="0.7833" stop-color="#00c3ff"/><stop offset="0.8" stop-color="#16eec8"/><stop offset="0.8167" stop-color="#37fb76"/><stop offset="0.8333" stop-color="#73ff57"/><stop offset="0.85" stop-color="#afff4c"/><stop offset="0.8667" stop-color="#d9ff45"/><stop offset="0.8833" stop-color="#ecff42"/><stop offset="0.9" stop-color="#e4ff43"/><stop offset="0.9167" stop-color="#c8ff48"/><stop offset="0.9333" stop-color="#a1ff4f"/><stop offset="0.95" stop-color="#77ff56"/><stop offset="0.9667" stop-color="#55ff5c"/><stop offset="0.9833" stop-color="#41ff60"/><stop offset="1" stop-color="#40ff60"/></linearGradient>
<linearGradient id="b43" gradientUnits="userSpaceOnUse" x1="1206" x2="2005.4"><stop offset="0" stop-color="#ff0000"/><stop offset="0.01667" stop-color="#ff0401"/><stop offset="0.03333" stop-color="#ff3c0b"/><stop offset="0.05" stop-color="#fe961c"/><stop offset="0.06667" stop-color="#f5fb3f"/><stop offset="0.08333" stop-color="#80ff55"/><stop offset="0.1" stop-color="#33fa81"/><stop offset="0.1167" stop-color="#0ae9e5"/><stop offset="0.1333" stop-color="#008bff"/><stop offset="0.15" stop-color="#001fff"/><stop offset="0.1667" stop-color="#3b00ff"/><stop offset="0.1833" stop-color="#6c00ff"/><stop offset="0.2" stop-color="#6700ff"/><stop offset="0.2167" stop-color="#3b00ff"/><stop offset="0.2333" stop-color="#0009ff"/><stop offset="0.25" stop-color="#0051ff"/><stop offset="0.2667" stop-color="#0097ff"/><stop offset="0.2833" stop-color="#00ceff"/><stop offset="0.3" stop-color="#05e7f3"/><stop offset="0.3167" stop-color="#0febda"/><stop offset="0.3333" stop-color="#18efc3"/><stop offset="0.35" stop-color="#21f2ae"/><stop offset="0.3667" stop-color="#29f698"/><stop offset="0.3833" stop-color="#33fa81"/><stop offset="0.4" stop-color="#3efe66"/><stop offset="0.4167" stop-color="#5dff5b"/><stop offset="0.4333" stop-color="#8cff53"/><stop offset="0.45" stop-color="#bfff4a"/><stop offset="0.4667" stop-color="#eeff41"/><stop offset="0.4833" stop-color="#f7e939"/><stop offset="0.5" stop-color="#f8de35"/><stop offset="0.5167" stop-color="#f7e738"/><stop offset="0.5333" stop-color="#f5ff40"/><stop offset="0.55" stop-color="#c8ff48"/><stop offset="0.5667" stop-color="#8fff52"/><stop offset="0.5833" stop-color="#4dff5e"/><stop offset="0.6" stop-color="#28f59b"/><stop offset="0.6167" stop-color="#0be9e4"/><stop offset="0.6333" stop-color="#00b2ff"/><stop offset="0.65" stop-color="#0067ff"/><stop offset="0.6667" stop-color="#0029ff"/><stop offset="0.6833" stop-color="#0300ff"/><stop offset="0.7" stop-color="#1d00ff"/><stop offset="0.7167" stop-color="#1900ff"/><stop offset="0.7333" stop-color="#0003ff"/><stop offset="0.75" stop-color="#002fff"/><stop offset="0.7667" stop-color="#0069ff"/><stop offset="0.7833" stop-color="#00acff"/><stop offset="0.8" stop-color="#05e7f2"/><stop offset="0.8167" stop-color="#1ef1b5"/><stop offset="0.8333" stop-color="#35fb7a"/><stop offset="0.85" stop-color="#58ff5c"/><stop offset="0.8667" stop-color="#80ff55"/><stop offset="0.8833" stop-color="#9aff50"/><stop offset="0.9" stop-color="#a2ff4f"/><stop offset="0.9167" stop-color="#9aff50"/><stop offset="0.9333" stop-color="#88ff53"/><stop offset="0.95" stop-color="#70ff57"/><stop offset="0.9667" stop-color="#59ff5c"/><stop offset="0.9833" stop-color="#47ff5f"/><stop offset="1" stop-color="#40ff60"/></linearGradient>
<linearGradient id="b44" gradientUnits="userSpaceOnUse" x1="1206" x2="2005.4"><stop offset="0" stop-color="#ff0000"/><stop offset="0.01667" stop-color="#ff0401"/><stop offset="0.03333" stop-color="#ff3c0b"/><stop offset="0.05" stop-color="#fe961c"/><stop offset="0.06667" stop-color="#f5fb3f"/><stop offset="0.08333" stop-color="#80ff55"/><stop offset="0.1" stop-color="#33fa81"/><stop offset="0.1167" stop-color="#0ae9e5"/><stop offset="0.1333" stop-color="#008bff"/><stop offset="0.15" stop-color="#001fff"/><stop offset="0.1667" stop-color="#3b00ff"/><stop offset="0.1833" stop-color="#6c00ff"/><stop offset="0.2" stop-color="#6600ff"/><stop offset="0.2167" stop-color="#3700ff"/><stop offset="0.2333" stop-color="#0011ff"/><stop offset="0.25" stop-color="#005dff"/><stop offset="0.2667" stop-color="#00a5ff"/><stop offset="0.2833" stop-color="#00dbff"/><stop offset="0.3" stop-color="#0ae9e5"/><stop offset="0.3167" stop-color="#17eec6"/><stop offset="0.3333" stop-color="#22f3aa"/><stop offset="0.35" stop-color="#2df78e"/><stop offset="0.3667" stop-color="#38fc73"/><stop offset="0.3833" stop-color="#4aff5e"/><stop offset="0.4" stop-color="#6cff58"/><stop offset="0.4167" stop-color="#91ff52"/><stop offset="0.4333" stop-color="#b5ff4b"/><stop offset="0.45" stop-color="#d6ff45"/><stop offset="0.4667" stop-color="#f1ff41"/><stop offset="0.4833" stop-color="#f6f53d"/><stop offset="0.5" stop-color="#f6f33c"/><stop offset="0.5167" stop-color="#f5fd3f"/><stop offset="0.5333" stop-color="#dfff44"/><stop offset="0.55" stop-color="#baff4a"/><stop offset="0.5667" stop-color="#8eff52"/><stop offset="0.5833" stop-color="#5bff5b"/><stop offset="0.6" stop-color="#35fa7c"/><stop offset="0.6167" stop-color="#1ef1b5"/><stop offset="0.6333" stop-color="#07e8ed"/><stop offset="0.65" stop-color="#00bdff"/><stop offset="0.6667" stop-color="#0088ff"/><stop offset="0.6833" stop-color="#005dff"/><stop offset="0.7" stop-color="#0040ff"/><stop offset="0.7167" stop-color="#0034ff"/><stop offset="0.7333" stop-color="#003aff"/><stop offset="0.75" stop-color="#004eff"/><stop offset="0.7667" stop-color="#006eff"/><stop offset="0.7833" stop-color="#0097ff"/><stop offset="0.8" stop-color="#00c6ff"/><stop offset="0.8167" stop-color="#07e8ef"/><stop offset="0.8333" stop-color="#18efc3"/><stop offset="0.85" stop-color="#29f699"/><stop offset="0.8667" stop-color="#38fc73"/><stop offset="0.8833" stop-color="#4dff5e"/><stop offset="0.9" stop-color="#63ff5a"/><stop offset="0.9167" stop-color="#6fff58"/><stop offset="0.9333" stop-color="#71ff57"/><stop offset="0.95" stop-color="#71ff57"/><stop offset="0.9667" stop-color="#71ff57"/><stop offset="0.9833" stop-color="#71ff57"/><stop offset="1" stop-color="#71ff57"/></linearGradient>
<linearGradient id="b45" gradientUnits="userSpaceOnUse" x1="1206" x2="2005.4"><stop offset="0" stop-color="#ff0000"/><stop offset="0.01667" stop-color="#ff0401"/><stop offset="0.03333" stop-color="#ff3c0b"/><stop offset="0.05" stop-color="#fe961c"/><stop offset="0.06667" stop-color="#f5fb3f"/><stop offset="0.08333" stop-color="#80ff55"/><stop offset="0.1" stop-color="#33fa81"/><stop offset="0.1167" stop-color="#0ae9e5"/><stop offset="0.1333" stop-color="#008bff"/><stop offset="0.15" stop-color="#001fff"/><stop offset="0.1667" stop-color="#3b00ff"/><stop offset="0.1833" stop-color="#6c00ff"/><stop offset="0.2" stop-color="#6600ff"/><stop offset="0.2167" stop-color="#3600ff"/><stop offset="0.2333" stop-color="#0013ff"/><stop offset="0.25" stop-color="#0061ff"/><stop offset="0.2667" stop-color="#00aaff"/><stop offset="0.2833" stop-color="#00e3ff"/><stop offset="0.3" stop-color="#10ebd8"/><stop offset="0.3167" stop-color="#1ff2b2"/><stop offset="0.3333" stop-color="#2df78e"/><stop offset="0.35" stop-color="#3bfd6d"/><stop offset="0.3667" stop-color="#52ff5d"/><stop offset="0.3833" stop-color="#72ff57"/><stop offset="0.4" stop-color="#92ff51"/><stop offset="0.4167" stop-color="#b2ff4c"/><stop offset="0.4333" stop-color="#cfff47"/><stop offset="0.45" stop-color="#e7ff42"/><stop offset="0.4667" stop-color="#f5fc3f"/><stop offset="0.4833" stop-color="#f6f33c"/><stop offset="0.5" stop-color="#f6f43c"/><stop offset="0.5167" stop-color="#edff41"/><stop offset="0.5333" stop-color="#c5ff48"/><stop offset="0.55" stop-color="#93ff51"/><stop offset="0.5667" stop-color="#5aff5b"/><stop offset="0.5833" stop-color="#33fa81"/><stop offset="0.6" stop-color="#1df1b6"/><stop offset="0.6167" stop-color="#0deae0"/><stop offset="0.6333" stop-color="#03e6f8"/><stop offset="0.65" stop-color="#03e6f9"/><stop offset="0.6667" stop-color="#08e8ea"/><stop offset="0.6833" stop-color="#11ecd5"/><stop offset="0.7" stop-color="#19efc2"/><stop offset="0.7167" stop-color="#1df1b8"/><stop offset="0.7333" stop-color="#1aefbf"/><stop offset="0.75" stop-color="#11ecd5"/><stop offset="0.7667" stop-color="#06e8ef"/><stop offset="0.7833" stop-color="#00dfff"/><stop offset="0.8" stop-color="#00d9ff"/><stop offset="0.8167" stop-color="#03e6f7"/><stop offset="0.8333" stop-color="#12ecd3"/><stop offset="0.85" stop-color="#23f3a7"/><stop offset="0.8667" stop-color="#35fa7d"/><stop offset="0.8833" stop-color="#43ff5f"/><stop offset="0.9" stop-color="#4eff5d"/><stop offset="0.9167" stop-color="#4eff5d"/><stop offset="0.9333" stop-color="#4eff5d"/><stop offset="0.95" stop-color="#4eff5d"/><stop offset="0.9667" stop-color="#4eff5d"/><stop offset="0.9833" stop-color="#4eff5d"/><stop offset="1" stop-color="#4eff5d"/></linearGradient>
<linearGradient id="b46" gradientUnits="userSpaceOnUse" x1="1206" x2="2005.4"><stop offset="0" stop-color="#ff0000"/><stop offset="0.01667" stop-color="#ff0401"/><stop offset="0.03333" stop-color="#ff3c0b"/><stop offset="0.05" stop-color="#ff951c"/><stop offset="0.06667" stop-color="#f5fb3f"/><stop offset="0.08333" stop-color="#81ff55"/><stop offset="0.1" stop-color="#33fa81"/><stop offset="0.1167" stop-color="#09e9e8"/><stop offset="0.1333" stop-color="#0086ff"/><stop offset="0.15" stop-color="#0018ff"/><stop offset="0.1667" stop-color="#4200ff"/><stop offset="0.1833" stop-color="#7100ff"/><stop offset="0.2" stop-color="#6700ff"/><stop offset="0.2167" stop-color="#3100ff"/><stop offset="0.2333" stop-color="#001bff"/><stop offset="0.25" stop-color="#006bff"/><stop offset="0.2667" stop-color="#00b4ff"/><stop offset="0.2833" stop-color="#02e6fa"/><stop offset="0.3" stop-color="#12ecd2"/><stop offset="0.3167" stop-color="#21f2ad"/><stop offset="0.3333" stop-color="#2ff88a"/><stop offset="0.35" stop-color="#3cfd6a"/><stop offset="0.3667" stop-color="#54ff5d"/><stop offset="0.3833" stop-color="#73ff57"/><stop offset="0.4" stop-color="#94ff51"/><stop offset="0.4167" stop-color="#b3ff4c"/><stop offset="0.4333" stop-color="#d0ff47"/><stop offset="0.45" stop-color="#e8ff42"/><stop offset="0.4667" stop-color="#f5fb3f"/><stop offset="0.4833" stop-color="#f6f33c"/><stop offset="0.5" stop-color="#f6f43c"/><stop offset="0.5167" stop-color="#f2ff40"/><stop offset="0.5333" stop-color="#d3ff46"/><stop offset="0.55" stop-color="#aaff4d"/><stop offset="0.5667" stop-color="#7aff56"/><stop offset="0.5833" stop-color="#46ff5f"/><stop offset="0.6" stop-color="#2ef88e"/><stop offset="0.6167" stop-color="#1af0be"/><stop offset="0.6333" stop-color="#0ae9e5"/><stop offset="0.65" stop-color="#00e4ff"/><stop offset="0.6667" stop-color="#00d8ff"/><stop offset="0.6833" stop-color="#00deff"/><stop offset="0.7" stop-color="#03e6f7"/><stop offset="0.7167" stop-color="#0ceae2"/><stop offset="0.7333" stop-color="#16eec8"/><stop offset="0.75" stop-color="#21f2ad"/><stop offset="0.7667" stop-color="#2cf792"/><stop offset="0.7833" stop-color="#35fb7b"/><stop offset="0.8" stop-color="#3cfd6a"/><stop offset="0.8167" stop-color="#40ff61"/><stop offset="0.8333" stop-color="#3efe66"/><stop offset="0.85" stop-color="#34fa7d"/><stop offset="0.8667" stop-color="#27f59f"/><stop offset="0.8833" stop-color="#18efc4"/><stop offset="0.9" stop-color="#0be9e4"/><stop offset="0.9167" stop-color="#03e6f8"/><stop offset="0.9333" stop-color="#04e6f6"/><stop offset="0.95" stop-color="#0febd9"/><stop offset="0.9667" stop-color="#20f2b0"/><stop offset="0.9833" stop-color="#2ff88a"/><stop offset="1" stop-color="#35fb7a"/></linearGradient>
<linearGradient id="b47" gradientUnits="userSpaceOnUse" x1="1206" x2="2005.4"><stop offset="0" stop-color="#ff0000"/><stop offset="0.01667" stop-color="#ff0401"/><stop offset="0.03333" stop-color="#ff3c0b"/><stop offset="0.05" stop-color="#ff951c"/><stop offset="0.06667" stop-color="#f5fa3e"/><stop offset="0.08333" stop-color="#81ff54"/><stop offset="0.1" stop-color="#32f982"/><stop offset="0.1167" stop-color="#09e8ea"/><stop offset="0.1333" stop-color="#0082ff"/><stop offset="0.15" stop-color="#0012ff"/><stop offset="0.1667" stop-color="#4900ff"/><stop offset="0.1833" stop-color="#7500ff"/><stop offset="0.2" stop-color="#6700ff"/><stop offset="0.2167" stop-color="#2c00ff"/><stop offset="0.2333" stop-color="#0023ff"/><stop offset="0.25" stop-color="#0075ff"/><stop offset="0.2667" stop-color="#00beff"/><stop offset="0.2833" stop-color="#04e7f4"/><stop offset="0.3" stop-color="#14edcd"/><stop offset="0.3167" stop-color="#23f3a9"/><stop offset="0.3333" stop-color="#30f987"/><stop offset="0.35" stop-color="#3dfe68"/><stop offset="0.3667" stop-color="#56ff5c"/><stop offset="0.3833" stop-color="#75ff57"/><stop offset="0.4" stop-color="#94ff51"/><stop offset="0.4167" stop-color="#b2ff4c"/><stop offset="0.4333" stop-color="#ceff47"/><stop offset="0.45" stop-color="#e6ff43"/><stop offset="0.4667" stop-color="#f5fd3f"/><stop offset="0.4833" stop-color="#f6f43c"/><stop offset="0.5" stop-color="#f6f33c"/><stop offset="0.5167" stop-color="#f1ff41"/><stop offset="0.5333" stop-color="#caff48"/><stop offset="0.55" stop-color="#95ff51"/><stop offset="0.5667" stop-color="#56ff5c"/><stop offset="0.5833" stop-color="#2ef88e"/><stop offset="0.6" stop-color="#13edd1"/><stop offset="0.6167" stop-color="#00d4ff"/><stop offset="0.6333" stop-color="#009cff"/><stop offset="0.65" stop-color="#0079ff"/><stop offset="0.6667" stop-color="#0071ff"/><stop offset="0.6833" stop-color="#0086ff"/><stop offset="0.7" stop-color="#00b1ff"/><stop offset="0.7167" stop-color="#02e6fa"/><stop offset="0.7333" stop-color="#18efc2"/><stop offset="0.75" stop-color="#2ff88a"/><stop offset="0.7667" stop-color="#49ff5e"/><stop offset="0.7833" stop-color="#70ff58"/><stop offset="0.8" stop-color="#86ff54"/><stop offset="0.8167" stop-color="#87ff53"/><stop offset="0.8333" stop-color="#72ff57"/><stop offset="0.85" stop-color="#4dff5e"/><stop offset="0.8667" stop-color="#32f983"/><stop offset="0.8833" stop-color="#1cf0b9"/><stop offset="0.9" stop-color="#07e8ee"/><stop offset="0.9167" stop-color="#00c3ff"/><stop offset="0.9333" stop-color="#009eff"/><stop offset="0.95" stop-color="#008fff"/><stop offset="0.9667" stop-color="#008fff"/><stop offset="0.9833" stop-color="#008fff"/><stop offset="1" stop-color="#008fff"/></linearGradient>
<linearGradient id="b48" gradientUnits="userSpaceOnUse" x1="1206" x2="2005.4"><stop offset="0" stop-color="#ff0000"/><stop offset="0.01667" stop-color="#ff0401"/><stop offset="0.03333" stop-color="#ff3c0b"/><stop offset="0.05" stop-color="#ff951c"/><stop offset="0.06667" stop-color="#f5fa3e"/><stop offset="0.08333" stop-color="#82ff54"/><stop offset="0.1" stop-color="#32f982"/><stop offset="0.1167" stop-color="#08e8ec"/><stop offset="0.1333" stop-color="#007dff"/><stop offset="0.15" stop-color="#000bff"/><stop offset="0.1667" stop-color="#5000ff"/><stop offset="0.1833" stop-color="#7a00ff"/><stop offset="0.2" stop-color="#6600ff"/><stop offset="0.2167" stop-color="#2600ff"/><stop offset="0.2333" stop-color="#002cff"/><stop offset="0.25" stop-color="#0080ff"/><stop offset="0.2667" stop-color="#00c7ff"/><stop offset="0.2833" stop-color="#07e8ee"/><stop offset="0.3" stop-color="#16eec8"/><stop offset="0.3167" stop-color="#24f4a4"/><stop offset="0.3333" stop-color="#32f984"/><stop offset="0.35" stop-color="#3efe65"/><stop offset="0.3667" stop-color="#58ff5c"/><stop offset="0.3833" stop-color="#76ff56"/><stop offset="0.4" stop-color="#96ff51"/><stop offset="0.4167" stop-color="#b4ff4c"/><stop offset="0.4333" stop-color="#cfff47"/><stop offset="0.45" stop-color="#e6ff43"/><stop offset="0.4667" stop-color="#f5fc3f"/><stop offset="0.4833" stop-color="#f6f43c"/><stop offset="0.5" stop-color="#f6f33c"/><stop offset="0.5167" stop-color="#efff41"/><stop offset="0.5333" stop-color="#c5ff49"/><stop offset="0.55" stop-color="#8bff53"/><stop offset="0.5667" stop-color="#47ff5f"/><stop offset="0.5833" stop-color="#24f4a5"/><stop offset="0.6" stop-color="#06e7f1"/><stop offset="0.6167" stop-color="#00a4ff"/><stop offset="0.6333" stop-color="#0061ff"/><stop offset="0.65" stop-color="#0033ff"/><stop offset="0.6667" stop-color="#0021ff"/><stop offset="0.6833" stop-color="#0031ff"/><stop offset="0.7" stop-color="#005fff"/><stop offset="0.7167" stop-color="#00a2ff"/><stop offset="0.7333" stop-color="#05e7f4"/><stop offset="0.75" stop-color="#22f3ab"/><stop offset="0.7667" stop-color="#3efe64"/><stop offset="0.7833" stop-color="#77ff56"/><stop offset="0.8" stop-color="#a3ff4e"/><stop offset="0.8167" stop-color="#baff4b"/><stop offset="0.8333" stop-color="#b3ff4c"/><stop offset="0.85" stop-color="#90ff52"/><stop offset="0.8667" stop-color="#57ff5c"/><stop offset="0.8833" stop-color="#2df790"/><stop offset="0.9" stop-color="#0eebdd"/><stop offset="0.9167" stop-color="#00b7ff"/><stop offset="0.9333" stop-color="#0070ff"/><stop offset="0.95" stop-color="#0041ff"/><stop offset="0.9667" stop-color="#0034ff"/><stop offset="0.9833" stop-color="#0034ff"/><stop offset="1" stop-color="#0034ff"/></linearGradient>
<linearGradient id="b49" gradientUnits="userSpaceOnUse" x1="1206" x2="2005.4"><stop offset="0" stop-color="#ff0000"/><stop offset="0.01667" stop-color="#ff0401"/><stop offset="0.03333" stop-color="#ff3b0b"/><stop offset="0.05" stop-color="#ff941b"/><stop offset="0.06667" stop-color="#f6f93e"/><stop offset="0.08333" stop-color="#82ff54"/><stop offset="0.1" stop-color="#32f983"/><stop offset="0.1167" stop-color="#07e8ee"/><stop offset="0.1333" stop-color="#0078ff"/><stop offset="0.15" stop-color="#0005ff"/><stop offset="0.1667" stop-color="#5800ff"/><stop offset="0.1833" stop-color="#7e00ff"/><stop offset="0.2" stop-color="#6400ff"/><stop offset="0.2167" stop-color="#2000ff"/><stop offset="0.2333" stop-color="#0036ff"/><stop offset="0.25" stop-color="#008bff"/><stop offset="0.2667" stop-color="#00d0ff"/><stop offset="0.2833" stop-color="#09e9e8"/><stop offset="0.3" stop-color="#18efc3"/><stop offset="0.3167" stop-color="#26f4a0"/><stop offset="0.3333" stop-color="#33fa81"/><stop offset="0.35" stop-color="#3ffe63"/><stop offset="0.3667" stop-color="#5aff5b"/><stop offset="0.3833" stop-color="#78ff56"/><stop offset="0.4" stop-color="#97ff51"/><stop offset="0.4167" stop-color="#b5ff4b"/><stop offset="0.4333" stop-color="#d0ff47"/><stop offset="0.45" stop-color="#e7ff42"/><stop offset="0.4667" stop-color="#f5fc3f"/><stop offset="0.4833" stop-color="#f6f43c"/><stop offset="0.5" stop-color="#f6f33c"/><stop offset="0.5167" stop-color="#efff41"/><stop offset="0.5333" stop-color="#c4ff49"/><stop offset="0.55" stop-color="#89ff53"/><stop offset="0.5667" stop-color="#43ff5f"/><stop offset="0.5833" stop-color="#22f3ab"/><stop offset="0.6" stop-color="#03e6f8"/><stop offset="0.6167" stop-color="#009bff"/><stop offset="0.6333" stop-color="#0056ff"/><stop offset="0.65" stop-color="#0028ff"/><stop offset="0.6667" stop-color="#0015ff"/><stop offset="0.6833" stop-color="#0026ff"/><stop offset="0.7" stop-color="#0057ff"/><stop offset="0.7167" stop-color="#00a0ff"/><stop offset="0.7333" stop-color="#06e7f0"/><stop offset="0.75" stop-color="#26f4a1"/><stop offset="0.7667" stop-color="#4bff5e"/><stop offset="0.7833" stop-color="#8bff53"/><stop offset="0.8" stop-color="#baff4a"/><stop offset="0.8167" stop-color="#d2ff46"/><stop offset="0.8333" stop-color="#cbff47"/><stop offset="0.85" stop-color="#a6ff4e"/><stop offset="0.8667" stop-color="#6aff59"/><stop offset="0.8833" stop-color="#33fa80"/><stop offset="0.9" stop-color="#12ecd2"/><stop offset="0.9167" stop-color="#00bfff"/><stop offset="0.9333" stop-color="#0073ff"/><stop offset="0.95" stop-color="#0041ff"/><stop offset="0.9667" stop-color="#0034ff"/><stop offset="0.9833" stop-color="#0034ff"/><stop offset="1" stop-color="#0034ff"/></linearGradient>
<linearGradient id="cbb" x1="0" y1="0" x2="0" y2="1"><stop offset="0.000" stop-color="#ff0000"/><stop offset="0.171" stop-color="#ff901a"/><stop offset="0.307" stop-color="#f5ff40"/><stop offset="0.485" stop-color="#40ff60"/><stop offset="0.635" stop-color="#00e5ff"/><stop offset="0.818" stop-color="#0000ff"/><stop offset="1.000" stop-color="#ff00ff"/></linearGradient>
<clipPath id="cla2"><rect x="130.4" y="916.6" width="787.6" height="584.4"/></clipPath>
<clipPath id="clb2"><rect x="1214.6" y="918.2" width="782.9000000000001" height="581.0"/></clipPath>
</defs>
<g clip-path="url(#ca)">
<g filter="url(#fa)">
<rect x="117.3" y="672.91" width="807.3000000000001" height="25.79" fill="url(#a0)"/>
<rect x="117.3" y="659.41" width="807.3000000000001" height="14.09" fill="url(#a1)"/>
<rect x="117.3" y="645.92" width="807.3000000000001" height="14.09" fill="url(#a2)"/>
<rect x="117.3" y="632.42" width="807.3000000000001" height="14.09" fill="url(#a3)"/>
<rect x="117.3" y="618.93" width="807.3000000000001" height="14.09" fill="url(#a4)"/>
<rect x="117.3" y="605.44" width="807.3000000000001" height="14.09" fill="url(#a5)"/>
<rect x="117.3" y="591.94" width="807.3000000000001" height="14.09" fill="url(#a6)"/>
<rect x="117.3" y="578.45" width="807.3000000000001" height="14.09" fill="url(#a7)"/>
<rect x="117.3" y="564.95" width="807.3000000000001" height="14.09" fill="url(#a8)"/>
<rect x="117.3" y="551.46" width="807.3000000000001" height="14.09" fill="url(#a9)"/>
<rect x="117.3" y="537.97" width="807.3000000000001" height="14.09" fill="url(#a10)"/>
<rect x="117.3" y="524.47" width="807.3000000000001" height="14.09" fill="url(#a11)"/>
<rect x="117.3" y="510.98" width="807.3000000000001" height="14.09" fill="url(#a12)"/>
<rect x="117.3" y="497.48" width="807.3000000000001" height="14.09" fill="url(#a13)"/>
<rect x="117.3" y="483.99" width="807.3000000000001" height="14.09" fill="url(#a14)"/>
<rect x="117.3" y="470.50" width="807.3000000000001" height="14.09" fill="url(#a15)"/>
<rect x="117.3" y="457.00" width="807.3000000000001" height="14.09" fill="url(#a16)"/>
<rect x="117.3" y="443.51" width="807.3000000000001" height="14.09" fill="url(#a17)"/>
<rect x="117.3" y="430.01" width="807.3000000000001" height="14.09" fill="url(#a18)"/>
<rect x="117.3" y="416.52" width="807.3000000000001" height="14.09" fill="url(#a19)"/>
<rect x="117.3" y="403.03" width="807.3000000000001" height="14.09" fill="url(#a20)"/>
<rect x="117.3" y="389.53" width="807.3000000000001" height="14.09" fill="url(#a21)"/>
<rect x="117.3" y="376.04" width="807.3000000000001" height="14.09" fill="url(#a22)"/>
<rect x="117.3" y="362.54" width="807.3000000000001" height="14.09" fill="url(#a23)"/>
<rect x="117.3" y="349.05" width="807.3000000000001" height="14.09" fill="url(#a24)"/>
<rect x="117.3" y="335.56" width="807.3000000000001" height="14.09" fill="url(#a25)"/>
<rect x="117.3" y="322.06" width="807.3000000000001" height="14.09" fill="url(#a26)"/>
<rect x="117.3" y="308.57" width="807.3000000000001" height="14.09" fill="url(#a27)"/>
<rect x="117.3" y="295.07" width="807.3000000000001" height="14.09" fill="url(#a28)"/>
<rect x="117.3" y="281.58" width="807.3000000000001" height="14.09" fill="url(#a29)"/>
<rect x="117.3" y="268.09" width="807.3000000000001" height="14.09" fill="url(#a30)"/>
<rect x="117.3" y="254.59" width="807.3000000000001" height="14.09" fill="url(#a31)"/>
<rect x="117.3" y="241.10" width="807.3000000000001" height="14.09" fill="url(#a32)"/>
<rect x="117.3" y="227.60" width="807.3000000000001" height="14.09" fill="url(#a33)"/>
<rect x="117.3" y="214.11" width="807.3000000000001" height="14.09" fill="url(#a34)"/>
<rect x="117.3" y="200.62" width="807.3000000000001" height="14.09" fill="url(#a35)"/>
<rect x="117.3" y="187.12" width="807.3000000000001" height="14.09" fill="url(#a36)"/>
<rect x="117.3" y="173.63" width="807.3000000000001" height="14.09" fill="url(#a37)"/>
<rect x="117.3" y="160.13" width="807.3000000000001" height="14.09" fill="url(#a38)"/>
<rect x="117.3" y="146.64" width="807.3000000000001" height="14.09" fill="url(#a39)"/>
<rect x="117.3" y="133.15" width="807.3000000000001" height="14.09" fill="url(#a40)"/>
<rect x="117.3" y="119.65" width="807.3000000000001" height="14.09" fill="url(#a41)"/>
<rect x="117.3" y="106.16" width="807.3000000000001" height="14.09" fill="url(#a42)"/>
<rect x="117.3" y="92.66" width="807.3000000000001" height="14.09" fill="url(#a43)"/>
<rect x="117.3" y="79.17" width="807.3000000000001" height="14.09" fill="url(#a44)"/>
<rect x="117.3" y="65.68" width="807.3000000000001" height="14.09" fill="url(#a45)"/>
<rect x="117.3" y="52.18" width="807.3000000000001" height="14.09" fill="url(#a46)"/>
<rect x="117.3" y="38.69" width="807.3000000000001" height="14.09" fill="url(#a47)"/>
<rect x="117.3" y="25.19" width="807.3000000000001" height="14.09" fill="url(#a48)"/>
<rect x="117.3" y="-0.00" width="807.3000000000001" height="25.79" fill="url(#a49)"/>
</g></g>
<path d="M923.4,686.7H114V12H922.9" fill="none" stroke="#000" stroke-width="2.2"/>
<line x1="923.0" y1="13" x2="923.0" y2="686.7" stroke="#b0b0b0" stroke-width="1"/>
<line x1="248.73" y1="686.70" x2="248.73" y2="682.70" stroke="#000" stroke-width="2" />
<line x1="383.47" y1="686.70" x2="383.47" y2="682.70" stroke="#000" stroke-width="2" />
<line x1="518.20" y1="686.70" x2="518.20" y2="682.70" stroke="#000" stroke-width="2" />
<line x1="652.93" y1="686.70" x2="652.93" y2="682.70" stroke="#000" stroke-width="2" />
<line x1="787.67" y1="686.70" x2="787.67" y2="682.70" stroke="#000" stroke-width="2" />
<line x1="922.40" y1="686.70" x2="922.40" y2="682.70" stroke="#000" stroke-width="2" />
<line x1="114.00" y1="686.70" x2="119.00" y2="686.70" stroke="#000" stroke-width="2" />
<line x1="114.00" y1="551.76" x2="119.00" y2="551.76" stroke="#000" stroke-width="2" />
<line x1="114.00" y1="416.82" x2="119.00" y2="416.82" stroke="#000" stroke-width="2" />
<line x1="114.00" y1="281.88" x2="119.00" y2="281.88" stroke="#000" stroke-width="2" />
<line x1="114.00" y1="146.94" x2="119.00" y2="146.94" stroke="#000" stroke-width="2" />
<line x1="114.00" y1="12.00" x2="119.00" y2="12.00" stroke="#000" stroke-width="2" />
<text x="110.4" y="726.4" font-family='"Liberation Sans", Arial, Helvetica, sans-serif' font-size="26" text-anchor="middle" >0.0</text>
<text x="245.1" y="726.4" font-family='"Liberation Sans", Arial, Helvetica, sans-serif' font-size="26" text-anchor="middle" >0.5</text>
<text x="379.9" y="726.4" font-family='"Liberation Sans", Arial, Helvetica, sans-serif' font-size="26" text-anchor="middle" >1.0</text>
<text x="514.6" y="726.4" font-family='"Liberation Sans", Arial, Helvetica, sans-serif' font-size="26" text-anchor="middle" >1.5</text>
<text x="649.3" y="726.4" font-family='"Liberation Sans", Arial, Helvetica, sans-serif' font-size="26" text-anchor="middle" >2.0</text>
<text x="784.1" y="726.4" font-family='"Liberation Sans", Arial, Helvetica, sans-serif' font-size="26" text-anchor="middle" >2.5</text>
<text x="918.8" y="726.4" font-family='"Liberation Sans", Arial, Helvetica, sans-serif' font-size="26" text-anchor="middle" >3.0</text>
<text x="66.5" y="694.9" font-family='"Liberation Sans", Arial, Helvetica, sans-serif' font-size="26" text-anchor="middle" >0.0</text>
<text x="66.5" y="560.0" font-family='"Liberation Sans", Arial, Helvetica, sans-serif' font-size="26" text-anchor="middle" >1.0</text>
<text x="66.5" y="425.0" font-family='"Liberation Sans", Arial, Helvetica, sans-serif' font-size="26" text-anchor="middle" >2.0</text>
<text x="66.5" y="290.1" font-family='"Liberation Sans", Arial, Helvetica, sans-serif' font-size="26" text-anchor="middle" >3.0</text>
<text x="66.5" y="155.1" font-family='"Liberation Sans", Arial, Helvetica, sans-serif' font-size="26" text-anchor="middle" >4.0</text>
<text x="66.5" y="20.2" font-family='"Liberation Sans", Arial, Helvetica, sans-serif' font-size="26" text-anchor="middle" >5.0</text>
<text x="457" y="767.9" font-family='"Liberation Serif", "Times New Roman", Times, serif' font-size="35">Δ<tspan font-style="italic">t</tspan><tspan dx="4.2">/</tspan><tspan font-style="italic">T</tspan><tspan font-size="23" dy="7.7">0</tspan><tspan dy="-7.7" dx="8.1">(–)</tspan></text>
<text transform="translate(33.4,421) rotate(-90)" font-family='"Liberation Serif", "Times New Roman", Times, serif' font-size="35"><tspan font-style="italic">T</tspan><tspan font-size="23" dy="7.7">d12</tspan><tspan dy="-7.7" dx="3.5">/</tspan><tspan font-style="italic">T</tspan><tspan font-size="23" dy="7.7">0</tspan><tspan dy="-7.7" dx="4.9">(–)</tspan></text>
<rect x="940.00" y="35.40" width="41.90" height="301.40" fill="url(#cba)" stroke="#000" stroke-width="1.6"/>
<text x="991.8" y="60" font-family='"Liberation Sans", Arial, Helvetica, sans-serif' font-size="26" text-anchor="start" >1</text>
<text x="991.8" y="199.2" font-family='"Liberation Sans", Arial, Helvetica, sans-serif' font-size="26" text-anchor="start" >0</text>
<text x="991.8" y="337.3" font-family='"Liberation Sans", Arial, Helvetica, sans-serif' font-size="26" text-anchor="start" >-1</text>
<text x="929" y="23.5" font-family='"Liberation Serif", "Times New Roman", Times, serif' font-size="35"><tspan font-style="italic">R</tspan><tspan font-size="23" dy="7.7">u0u0</tspan></text>
<text x="500" y="842.9" font-family='"Liberation Serif", "Times New Roman", Times, serif' font-size="49.5" text-anchor="middle" >(a.1)</text>
<g clip-path="url(#cb)">
<g filter="url(#fb)">
<rect x="1204" y="672.19" width="803.4000000000001" height="25.81" fill="url(#b0)"/>
<rect x="1204" y="658.68" width="803.4000000000001" height="14.11" fill="url(#b1)"/>
<rect x="1204" y="645.16" width="803.4000000000001" height="14.11" fill="url(#b2)"/>
<rect x="1204" y="631.65" width="803.4000000000001" height="14.11" fill="url(#b3)"/>
<rect x="1204" y="618.14" width="803.4000000000001" height="14.11" fill="url(#b4)"/>
<rect x="1204" y="604.63" width="803.4000000000001" height="14.11" fill="url(#b5)"/>
<rect x="1204" y="591.12" width="803.4000000000001" height="14.11" fill="url(#b6)"/>
<rect x="1204" y="577.60" width="803.4000000000001" height="14.11" fill="url(#b7)"/>
<rect x="1204" y="564.09" width="803.4000000000001" height="14.11" fill="url(#b8)"/>
<rect x="1204" y="550.58" width="803.4000000000001" height="14.11" fill="url(#b9)"/>
<rect x="1204" y="537.07" width="803.4000000000001" height="14.11" fill="url(#b10)"/>
<rect x="1204" y="523.56" width="803.4000000000001" height="14.11" fill="url(#b11)"/>
<rect x="1204" y="510.04" width="803.4000000000001" height="14.11" fill="url(#b12)"/>
<rect x="1204" y="496.53" width="803.4000000000001" height="14.11" fill="url(#b13)"/>
<rect x="1204" y="483.02" width="803.4000000000001" height="14.11" fill="url(#b14)"/>
<rect x="1204" y="469.51" width="803.4000000000001" height="14.11" fill="url(#b15)"/>
<rect x="1204" y="456.00" width="803.4000000000001" height="14.11" fill="url(#b16)"/>
<rect x="1204" y="442.48" width="803.4000000000001" height="14.11" fill="url(#b17)"/>
<rect x="1204" y="428.97" width="803.4000000000001" height="14.11" fill="url(#b18)"/>
<rect x="1204" y="415.46" width="803.4000000000001" height="14.11" fill="url(#b19)"/>
<rect x="1204" y="401.95" width="803.4000000000001" height="14.11" fill="url(#b20)"/>
<rect x="1204" y="388.44" width="803.4000000000001" height="14.11" fill="url(#b21)"/>
<rect x="1204" y="374.92" width="803.4000000000001" height="14.11" fill="url(#b22)"/>
<rect x="1204" y="361.41" width="803.4000000000001" height="14.11" fill="url(#b23)"/>
<rect x="1204" y="347.90" width="803.4000000000001" height="14.11" fill="url(#b24)"/>
<rect x="1204" y="334.39" width="803.4000000000001" height="14.11" fill="url(#b25)"/>
<rect x="1204" y="320.88" width="803.4000000000001" height="14.11" fill="url(#b26)"/>
<rect x="1204" y="307.36" width="803.4000000000001" height="14.11" fill="url(#b27)"/>
<rect x="1204" y="293.85" width="803.4000000000001" height="14.11" fill="url(#b28)"/>
<rect x="1204" y="280.34" width="803.4000000000001" height="14.11" fill="url(#b29)"/>
<rect x="1204" y="266.83" width="803.4000000000001" height="14.11" fill="url(#b30)"/>
<rect x="1204" y="253.32" width="803.4000000000001" height="14.11" fill="url(#b31)"/>
<rect x="1204" y="239.80" width="803.4000000000001" height="14.11" fill="url(#b32)"/>
<rect x="1204" y="226.29" width="803.4000000000001" height="14.11" fill="url(#b33)"/>
<rect x="1204" y="212.78" width="803.4000000000001" height="14.11" fill="url(#b34)"/>
<rect x="1204" y="199.27" width="803.4000000000001" height="14.11" fill="url(#b35)"/>
<rect x="1204" y="185.76" width="803.4000000000001" height="14.11" fill="url(#b36)"/>
<rect x="1204" y="172.24" width="803.4000000000001" height="14.11" fill="url(#b37)"/>
<rect x="1204" y="158.73" width="803.4000000000001" height="14.11" fill="url(#b38)"/>
<rect x="1204" y="145.22" width="803.4000000000001" height="14.11" fill="url(#b39)"/>
<rect x="1204" y="131.71" width="803.4000000000001" height="14.11" fill="url(#b40)"/>
<rect x="1204" y="118.20" width="803.4000000000001" height="14.11" fill="url(#b41)"/>
<rect x="1204" y="104.68" width="803.4000000000001" height="14.11" fill="url(#b42)"/>
<rect x="1204" y="91.17" width="803.4000000000001" height="14.11" fill="url(#b43)"/>
<rect x="1204" y="77.66" width="803.4000000000001" height="14.11" fill="url(#b44)"/>
<rect x="1204" y="64.15" width="803.4000000000001" height="14.11" fill="url(#b45)"/>
<rect x="1204" y="50.64" width="803.4000000000001" height="14.11" fill="url(#b46)"/>
<rect x="1204" y="37.12" width="803.4000000000001" height="14.11" fill="url(#b47)"/>
<rect x="1204" y="23.61" width="803.4000000000001" height="14.11" fill="url(#b48)"/>
<rect x="1204" y="-1.60" width="803.4000000000001" height="25.81" fill="url(#b49)"/>
</g></g>
<rect x="1197.9" y="9.3" width="811.0" height="4.3" fill="#000"/>
<rect x="2005.4" y="9.3" width="3.5" height="677.8" fill="#000"/>
<rect x="1204" y="9.3" width="2.1" height="672.8" fill="#000"/>
<rect x="1204" y="680" width="803.4" height="2.1" fill="#000"/>
<rect x="1197.9" y="9.3" width="2.2" height="677.8" fill="#000"/>
<rect x="1197.9" y="684.9" width="811.0" height="2.2" fill="#000"/>
<line x1="1333.60" y1="686.00" x2="1333.60" y2="682.00" stroke="#000" stroke-width="2" />
<line x1="1468.20" y1="686.00" x2="1468.20" y2="682.00" stroke="#000" stroke-width="2" />
<line x1="1602.80" y1="686.00" x2="1602.80" y2="682.00" stroke="#000" stroke-width="2" />
<line x1="1737.40" y1="686.00" x2="1737.40" y2="682.00" stroke="#000" stroke-width="2" />
<line x1="1872.00" y1="686.00" x2="1872.00" y2="682.00" stroke="#000" stroke-width="2" />
<line x1="2006.60" y1="686.00" x2="2006.60" y2="682.00" stroke="#000" stroke-width="2" />
<line x1="1199.00" y1="686.00" x2="1204.00" y2="686.00" stroke="#000" stroke-width="2" />
<line x1="1199.00" y1="550.88" x2="1204.00" y2="550.88" stroke="#000" stroke-width="2" />
<line x1="1199.00" y1="415.76" x2="1204.00" y2="415.76" stroke="#000" stroke-width="2" />
<line x1="1199.00" y1="280.64" x2="1204.00" y2="280.64" stroke="#000" stroke-width="2" />
<line x1="1199.00" y1="145.52" x2="1204.00" y2="145.52" stroke="#000" stroke-width="2" />
<line x1="1199.00" y1="10.40" x2="1204.00" y2="10.40" stroke="#000" stroke-width="2" />
<text x="1195.0" y="725.7" font-family='"Liberation Sans", Arial, Helvetica, sans-serif' font-size="26" text-anchor="middle" >0.0</text>
<text x="1329.6" y="725.7" font-family='"Liberation Sans", Arial, Helvetica, sans-serif' font-size="26" text-anchor="middle" >0.5</text>
<text x="1464.2" y="725.7" font-family='"Liberation Sans", Arial, Helvetica, sans-serif' font-size="26" text-anchor="middle" >1.0</text>
<text x="1598.8" y="725.7" font-family='"Liberation Sans", Arial, Helvetica, sans-serif' font-size="26" text-anchor="middle" >1.5</text>
<text x="1733.4" y="725.7" font-family='"Liberation Sans", Arial, Helvetica, sans-serif' font-size="26" text-anchor="middle" >2.0</text>
<text x="1868.0" y="725.7" font-family='"Liberation Sans", Arial, Helvetica, sans-serif' font-size="26" text-anchor="middle" >2.5</text>
<text x="2002.6" y="725.7" font-family='"Liberation Sans", Arial, Helvetica, sans-serif' font-size="26" text-anchor="middle" >3.0</text>
<text x="1152" y="694.5" font-family='"Liberation Sans", Arial, Helvetica, sans-serif' font-size="26" text-anchor="middle" >0.0</text>
<text x="1152" y="559.4" font-family='"Liberation Sans", Arial, Helvetica, sans-serif' font-size="26" text-anchor="middle" >1.0</text>
<text x="1152" y="424.3" font-family='"Liberation Sans", Arial, Helvetica, sans-serif' font-size="26" text-anchor="middle" >2.0</text>
<text x="1152" y="289.1" font-family='"Liberation Sans", Arial, Helvetica, sans-serif' font-size="26" text-anchor="middle" >3.0</text>
<text x="1152" y="154.0" font-family='"Liberation Sans", Arial, Helvetica, sans-serif' font-size="26" text-anchor="middle" >4.0</text>
<text x="1152" y="18.9" font-family='"Liberation Sans", Arial, Helvetica, sans-serif' font-size="26" text-anchor="middle" >5.0</text>
<text x="1542" y="767.9" font-family='"Liberation Serif", "Times New Roman", Times, serif' font-size="35">Δ<tspan font-style="italic">t</tspan><tspan dx="4.2">/</tspan><tspan font-style="italic">T</tspan><tspan font-size="23" dy="7.7">0</tspan><tspan dy="-7.7" dx="8.1">(–)</tspan></text>
<text transform="translate(1118.6,420.2) rotate(-90)" font-family='"Liberation Serif", "Times New Roman", Times, serif' font-size="35"><tspan font-style="italic">T</tspan><tspan font-size="23" dy="7.7">d12</tspan><tspan dy="-7.7" dx="3.5">/</tspan><tspan font-style="italic">T</tspan><tspan font-size="23" dy="7.7">0</tspan><tspan dy="-7.7" dx="4.9">(–)</tspan></text>
<rect x="2029.10" y="42.20" width="41.00" height="301.40" fill="url(#cbb)" stroke="#000" stroke-width="1.6"/>
<text x="2082.5" y="58" font-family='"Liberation Sans", Arial, Helvetica, sans-serif' font-size="26" text-anchor="start" >1</text>
<text x="2082.5" y="203.3" font-family='"Liberation Sans", Arial, Helvetica, sans-serif' font-size="26" text-anchor="start" >0</text>
<text x="2082.5" y="350" font-family='"Liberation Sans", Arial, Helvetica, sans-serif' font-size="26" text-anchor="start" >-1</text>
<text x="2012" y="23.5" font-family='"Liberation Serif", "Times New Roman", Times, serif' font-size="35"><tspan font-style="italic">R</tspan><tspan font-size="23" dy="7.7">u0u0</tspan></text>
<text x="1588" y="842.9" font-family='"Liberation Serif", "Times New Roman", Times, serif' font-size="49.5" text-anchor="middle" >(b.1)</text>
<g clip-path="url(#cla2)" fill="none">
<path d="M130.7,920.4h10M135.7,920.4V924.3M130.7,924.3h10M135.9,925.9h10M140.9,925.9V934.6M135.9,934.6h10M141.2,935.5h10M146.2,935.5V950.4M141.2,950.4h10M146.4,948.8h10M151.4,948.8V970.9M146.4,970.9h10M151.7,966.0h10M156.7,966.0V994.9M151.7,994.9h10M156.9,986.9h10M161.9,986.9V1021.8M156.9,1021.8h10M162.2,1010.6h10M167.2,1010.6V1051.2M162.2,1051.2h10M167.4,1036.6h10M172.4,1036.6V1082.9M167.4,1082.9h10M172.7,1063.6h10M177.7,1063.6V1117.1M172.7,1117.1h10M177.9,1093.3h10M182.9,1093.3V1151.1M177.9,1151.1h10M183.2,1126.1h10M188.2,1126.1V1183.9M183.2,1183.9h10M188.4,1160.9h10M193.4,1160.9V1218.7M188.4,1218.7h10M193.7,1199.3h10M198.7,1199.3V1256.7M193.7,1256.7h10M198.9,1239.9h10M203.9,1239.9V1294.8M198.9,1294.8h10M204.2,1275.9h10M209.2,1275.9V1328.0M204.2,1328.0h10M209.4,1306.0h10M214.4,1306.0V1355.7M209.4,1355.7h10M214.7,1332.0h10M219.7,1332.0V1379.1M214.7,1379.1h10M219.9,1355.2h10M224.9,1355.2V1399.7M219.9,1399.7h10M225.2,1376.4h10M230.2,1376.4V1418.7M225.2,1418.7h10M230.4,1395.3h10M235.4,1395.3V1435.8M230.4,1435.8h10M235.7,1411.8h10M240.7,1411.8V1450.7M235.7,1450.7h10M240.9,1425.4h10M245.9,1425.4V1462.8M240.9,1462.8h10M246.2,1435.8h10M251.2,1435.8V1471.8M246.2,1471.8h10M251.4,1442.5h10M256.4,1442.5V1477.6M251.4,1477.6h10M256.7,1445.0h10M261.7,1445.0V1479.7M256.7,1479.7h10M261.9,1443.0h10M266.9,1443.0V1478.0M261.9,1478.0h10M267.2,1436.1h10M272.2,1436.1V1471.9M267.2,1471.9h10M272.4,1424.3h10M277.4,1424.3V1461.4M272.4,1461.4h10M277.7,1408.3h10M282.7,1408.3V1447.0M277.7,1447.0h10M282.9,1388.8h10M287.9,1388.8V1429.3M282.9,1429.3h10M288.2,1365.8h10M293.2,1365.8V1409.7M288.2,1409.7h10M293.4,1339.7h10M298.4,1339.7V1388.9M293.4,1388.9h10M298.7,1312.0h10M303.7,1312.0V1366.9M298.7,1366.9h10M303.9,1283.3h10M308.9,1283.3V1344.3M303.9,1344.3h10M309.2,1253.3h10M314.2,1253.3V1322.7M309.2,1322.7h10M314.4,1218.0h10M319.4,1218.0V1307.4M314.4,1307.4h10M319.7,1181.7h10M324.7,1181.7V1293.4M319.7,1293.4h10M324.9,1153.3h10M329.9,1153.3V1268.6M324.9,1268.6h10M330.2,1125.0h10M335.2,1125.0V1238.2M330.2,1238.2h10M335.4,1097.1h10M340.4,1097.1V1207.0M335.4,1207.0h10M340.7,1074.5h10M345.7,1074.5V1176.5M340.7,1176.5h10M345.9,1056.8h10M350.9,1056.8V1148.1M345.9,1148.1h10M351.2,1039.5h10M356.2,1039.5V1126.0M351.2,1126.0h10M356.4,1023.6h10M361.4,1023.6V1109.0M356.4,1109.0h10M361.7,1010.7h10M366.7,1010.7V1095.4M361.7,1095.4h10M366.9,1000.6h10M371.9,1000.6V1085.0M366.9,1085.0h10M372.2,992.9h10M377.2,992.9V1078.1M372.2,1078.1h10M377.4,987.3h10M382.4,987.3V1074.5M377.4,1074.5h10M382.7,984.1h10M387.7,984.1V1073.9M382.7,1073.9h10M387.9,983.4h10M392.9,983.4V1075.9M387.9,1075.9h10M393.2,985.1h10M398.2,985.1V1080.2M393.2,1080.2h10M398.4,989.1h10M403.4,989.1V1087.0M398.4,1087.0h10M403.7,994.8h10M408.7,994.8V1096.5M403.7,1096.5h10M408.9,1001.5h10M413.9,1001.5V1109.4M408.9,1109.4h10M414.2,1007.6h10M419.2,1007.6V1127.1M414.2,1127.1h10M419.4,1015.6h10M424.4,1015.6V1146.8M419.4,1146.8h10M424.7,1025.1h10M429.7,1025.1V1168.1M424.7,1168.1h10M429.9,1037.3h10M434.9,1037.3V1189.1M429.9,1189.1h10M435.2,1051.8h10M440.2,1051.8V1209.5M435.2,1209.5h10M440.4,1067.6h10M445.4,1067.6V1229.6M440.4,1229.6h10M445.7,1084.0h10M450.7,1084.0V1249.2M445.7,1249.2h10M450.9,1100.7h10M455.9,1100.7V1268.0M450.9,1268.0h10M456.2,1117.8h10M461.2,1117.8V1285.3M456.2,1285.3h10M461.4,1134.8h10M466.4,1134.8V1301.1M461.4,1301.1h10M466.7,1151.1h10M471.7,1151.1V1315.9M466.7,1315.9h10M471.9,1166.2h10M476.9,1166.2V1329.7M471.9,1329.7h10M477.2,1180.2h10M482.2,1180.2V1342.1M477.2,1342.1h10M482.4,1192.7h10M487.4,1192.7V1353.2M482.4,1353.2h10M487.7,1203.4h10M492.7,1203.4V1362.9M487.7,1362.9h10M492.9,1212.1h10M497.9,1212.1V1371.2M492.9,1371.2h10M498.2,1218.6h10M503.2,1218.6V1377.9M498.2,1377.9h10M503.4,1222.8h10M508.4,1222.8V1382.8M503.4,1382.8h10M508.7,1224.8h10M513.7,1224.8V1385.8M508.7,1385.8h10M513.9,1224.9h10M518.9,1224.9V1387.0M513.9,1387.0h10M519.2,1223.4h10M524.2,1223.4V1386.5M519.2,1386.5h10M524.5,1220.4h10M529.5,1220.4V1384.4M524.5,1384.4h10M529.7,1216.0h10M534.7,1216.0V1381.0M529.7,1381.0h10M535.0,1210.5h10M540.0,1210.5V1376.5M535.0,1376.5h10M540.2,1203.8h10M545.2,1203.8V1371.2M540.2,1371.2h10M545.5,1196.0h10M550.5,1196.0V1365.2M545.5,1365.2h10M550.7,1187.3h10M555.7,1187.3V1358.9M550.7,1358.9h10M556.0,1177.9h10M561.0,1177.9V1352.3M556.0,1352.3h10M561.2,1168.2h10M566.2,1168.2V1345.2M561.2,1345.2h10M566.5,1158.5h10M571.5,1158.5V1337.5M566.5,1337.5h10M571.7,1149.0h10M576.7,1149.0V1329.6M571.7,1329.6h10M577.0,1139.5h10M582.0,1139.5V1321.6M577.0,1321.6h10M582.2,1130.1h10M587.2,1130.1V1313.8M582.2,1313.8h10M587.5,1121.0h10M592.5,1121.0V1306.4M587.5,1306.4h10M592.7,1112.2h10M597.7,1112.2V1299.5M592.7,1299.5h10M598.0,1103.8h10M603.0,1103.8V1293.3M598.0,1293.3h10M603.2,1096.0h10M608.2,1096.0V1287.7M603.2,1287.7h10M608.5,1089.0h10M613.5,1089.0V1282.6M608.5,1282.6h10M613.7,1082.8h10M618.7,1082.8V1278.3M613.7,1278.3h10M619.0,1077.2h10M624.0,1077.2V1274.8M619.0,1274.8h10M624.2,1072.6h10M629.2,1072.6V1271.9M624.2,1271.9h10M629.5,1069.2h10M634.5,1069.2V1269.6M629.5,1269.6h10M634.7,1067.0h10M639.7,1067.0V1267.9M634.7,1267.9h10M640.0,1065.8h10M645.0,1065.8V1267.0M640.0,1267.0h10M645.2,1065.7h10M650.2,1065.7V1267.1M645.2,1267.1h10M650.5,1066.6h10M655.5,1066.6V1268.2M650.5,1268.2h10M655.7,1068.3h10M660.7,1068.3V1270.0M655.7,1270.0h10M661.0,1070.8h10M666.0,1070.8V1272.6M661.0,1272.6h10M666.2,1073.9h10M671.2,1073.9V1275.8M666.2,1275.8h10M671.5,1077.4h10M676.5,1077.4V1279.5M671.5,1279.5h10M676.7,1081.4h10M681.7,1081.4V1283.5M676.7,1283.5h10M682.0,1085.6h10M687.0,1085.6V1287.8M682.0,1287.8h10M687.2,1089.9h10M692.2,1089.9V1292.3M687.2,1292.3h10M692.5,1094.2h10M697.5,1094.2V1296.7M692.5,1296.7h10M697.7,1098.3h10M702.7,1098.3V1301.1M697.7,1301.1h10M703.0,1102.3h10M708.0,1102.3V1305.1M703.0,1305.1h10M708.2,1105.9h10M713.2,1105.9V1308.9M708.2,1308.9h10M713.5,1109.0h10M718.5,1109.0V1312.1M713.5,1312.1h10M718.7,1111.6h10M723.7,1111.6V1314.8M718.7,1314.8h10M724.0,1113.7h10M729.0,1113.7V1317.0M724.0,1317.0h10M729.2,1115.2h10M734.2,1115.2V1318.7M729.2,1318.7h10M734.5,1116.4h10M739.5,1116.4V1320.0M734.5,1320.0h10M739.7,1117.1h10M744.7,1117.1V1320.9M739.7,1320.9h10M745.0,1117.5h10M750.0,1117.5V1321.4M745.0,1321.4h10M750.2,1117.5h10M755.2,1117.5V1321.6M750.2,1321.6h10M755.5,1117.3h10M760.5,1117.3V1321.5M755.5,1321.5h10M760.7,1116.8h10M765.7,1116.8V1321.1M760.7,1321.1h10M766.0,1116.1h10M771.0,1116.1V1320.6M766.0,1320.6h10M771.2,1115.3h10M776.2,1115.3V1319.9M771.2,1319.9h10M776.5,1114.3h10M781.5,1114.3V1319.1M776.5,1319.1h10M781.7,1113.2h10M786.7,1113.2V1318.2M781.7,1318.2h10M787.0,1112.1h10M792.0,1112.1V1317.2M787.0,1317.2h10M792.2,1110.9h10M797.2,1110.9V1316.2M792.2,1316.2h10M797.5,1109.8h10M802.5,1109.8V1315.3M797.5,1315.3h10M802.7,1108.7h10M807.7,1108.7V1314.3M802.7,1314.3h10M808.0,1107.7h10M813.0,1107.7V1313.4M808.0,1313.4h10M813.2,1106.7h10M818.2,1106.7V1312.6M813.2,1312.6h10M818.5,1105.7h10M823.5,1105.7V1311.7M818.5,1311.7h10M823.7,1104.7h10M828.7,1104.7V1311.0M823.7,1311.0h10M829.0,1103.9h10M834.0,1103.9V1310.2M829.0,1310.2h10M834.2,1103.1h10M839.2,1103.1V1309.5M834.2,1309.5h10M839.5,1102.3h10M844.5,1102.3V1308.9M839.5,1308.9h10M844.7,1101.6h10M849.7,1101.6V1308.4M844.7,1308.4h10M850.0,1101.0h10M855.0,1101.0V1307.9M850.0,1307.9h10M855.2,1100.5h10M860.2,1100.5V1307.5M855.2,1307.5h10M860.5,1100.0h10M865.5,1100.0V1307.1M860.5,1307.1h10M865.7,1099.6h10M870.7,1099.6V1306.9M865.7,1306.9h10M871.0,1099.3h10M876.0,1099.3V1306.7M871.0,1306.7h10M876.2,1099.2h10M881.2,1099.2V1306.6M876.2,1306.6h10M881.5,1099.1h10M886.5,1099.1V1306.7M881.5,1306.7h10M886.7,1099.1h10M891.7,1099.1V1306.8M886.7,1306.8h10M892.0,1099.3h10M897.0,1099.3V1307.1M892.0,1307.1h10M897.2,1099.5h10M902.2,1099.5V1307.4M897.2,1307.4h10M902.5,1099.9h10M907.5,1099.9V1307.9M902.5,1307.9h10M907.7,1100.4h10M912.7,1100.4V1308.5M907.7,1308.5h10M913.0,1101.0h10M918.0,1101.0V1309.3M913.0,1309.3h10" stroke="#b3adad" stroke-width="1.4"/>
<path d="M130.4,919.6L132.4,920.0L134.3,921.1L136.3,923.1L138.3,925.7L140.3,929.1L142.2,933.1L144.2,937.7L146.2,943.0L148.2,948.9L150.1,955.4L152.1,962.4L154.1,969.9L156.1,978.0L158.0,986.4L160.0,995.4L162.0,1004.7L164.0,1014.4L165.9,1024.5L167.9,1034.9L169.9,1045.6L171.9,1056.6L173.8,1067.9L175.8,1079.4L177.8,1091.1L179.7,1102.9L181.7,1114.9L183.7,1127.1L185.7,1139.3L187.6,1151.7L189.6,1164.4L191.6,1177.5L193.6,1190.9L195.5,1204.9L197.5,1219.4L199.5,1234.3L201.5,1249.2L203.4,1263.9L205.4,1277.9L207.4,1290.9L209.4,1303.1L211.3,1314.5L213.3,1325.2L215.3,1335.2L217.3,1344.6L219.2,1353.6L221.2,1362.2L223.2,1370.4L225.1,1378.4L227.1,1386.1L229.1,1393.6L231.1,1400.8L233.0,1407.7L235.0,1414.3L237.0,1420.5L239.0,1426.4L240.9,1432.0L242.9,1437.1L244.9,1441.8L246.9,1446.1L248.8,1449.9L250.8,1453.3L252.8,1456.1L254.8,1458.5L256.7,1460.3L258.7,1461.6L260.7,1462.3L262.7,1462.4L264.6,1461.9L266.6,1460.7L268.6,1458.9L270.5,1456.5L272.5,1453.4L274.5,1449.6L276.5,1445.2L278.4,1440.2L280.4,1434.6L282.4,1428.5L284.4,1422.0L286.3,1415.0L288.3,1407.6L290.3,1399.8L292.3,1391.6L294.2,1383.1L296.2,1374.4L298.2,1365.4L300.2,1356.2L302.1,1346.9L304.1,1337.4L306.1,1327.7L308.1,1318.1L310.0,1308.4L312.0,1298.6L314.0,1289.0L315.9,1279.4L317.9,1269.8L319.9,1260.4L321.9,1251.1L323.8,1241.6L325.8,1232.0L327.8,1222.0L329.8,1211.8L331.7,1201.1L333.7,1189.9L335.7,1178.6L337.7,1167.4L339.6,1156.3L341.6,1145.7L343.6,1135.7L345.6,1126.1L347.5,1117.0L349.5,1108.3L351.5,1100.2L353.5,1092.5L355.4,1085.4L357.4,1078.6L359.4,1072.4L361.4,1066.5L363.3,1061.2L365.3,1056.2L367.3,1051.7L369.2,1047.7L371.2,1044.0L373.2,1040.8L375.2,1038.0L377.1,1035.5L379.1,1033.5L381.1,1031.8L383.1,1030.5L385.0,1029.6L387.0,1029.1L389.0,1028.9L391.0,1029.1L392.9,1029.6L394.9,1030.5L396.9,1031.7L398.9,1033.2L400.8,1035.1L402.8,1037.2L404.8,1039.7L406.8,1042.5L408.7,1045.7L410.7,1049.1L412.7,1052.9L414.6,1056.9L416.6,1061.2L418.6,1065.9L420.6,1070.8L422.5,1076.0L424.5,1081.4L426.5,1087.0L428.5,1092.9L430.4,1098.9L432.4,1105.1L434.4,1111.4L436.4,1117.9L438.3,1124.4L440.3,1131.1L442.3,1137.8L444.3,1144.5L446.2,1151.3L448.2,1158.1L450.2,1164.8L452.2,1171.6L454.1,1178.3L456.1,1184.9L458.1,1191.4L460.0,1197.8L462.0,1204.2L464.0,1210.4L466.0,1216.5L467.9,1222.5L469.9,1228.4L471.9,1234.1L473.9,1239.6L475.8,1245.0L477.8,1250.2L479.8,1255.2L481.8,1260.1L483.7,1264.8L485.7,1269.2L487.7,1273.4L489.7,1277.4L491.6,1281.2L493.6,1284.8L495.6,1288.1L497.6,1291.1L499.5,1293.8L501.5,1296.3L503.5,1298.5L505.4,1300.5L507.4,1302.1L509.4,1303.4L511.4,1304.4L513.3,1305.2L515.3,1305.7L517.3,1306.0L519.3,1306.0L521.2,1305.7L523.2,1305.3L525.2,1304.6L527.2,1303.7L529.1,1302.6L531.1,1301.3L533.1,1299.9L535.1,1298.2L537.0,1296.4L539.0,1294.5L541.0,1292.4L543.0,1290.2L544.9,1287.8L546.9,1285.3L548.9,1282.7L550.8,1280.1L552.8,1277.3L554.8,1274.4L556.8,1271.5L558.7,1268.5L560.7,1265.4L562.7,1262.3L564.7,1259.2L566.6,1256.0L568.6,1252.7L570.6,1249.5L572.6,1246.2L574.5,1242.9L576.5,1239.6L578.5,1236.3L580.5,1233.0L582.4,1229.8L584.4,1226.5L586.4,1223.3L588.4,1220.2L590.3,1217.0L592.3,1214.0L594.3,1210.9L596.2,1208.0L598.2,1205.1L600.2,1202.3L602.2,1199.6L604.1,1197.0L606.1,1194.4L608.1,1192.0L610.1,1189.7L612.0,1187.4L614.0,1185.2L616.0,1183.2L618.0,1181.2L619.9,1179.4L621.9,1177.7L623.9,1176.1L625.9,1174.6L627.8,1173.2L629.8,1171.9L631.8,1170.8L633.8,1169.7L635.7,1168.8L637.7,1168.1L639.7,1167.5L641.6,1167.0L643.6,1166.6L645.6,1166.4L647.6,1166.3L649.5,1166.4L651.5,1166.6L653.5,1166.9L655.5,1167.4L657.4,1167.9L659.4,1168.6L661.4,1169.5L663.4,1170.4L665.3,1171.4L667.3,1172.4L669.3,1173.6L671.3,1174.9L673.2,1176.2L675.2,1177.6L677.2,1179.0L679.2,1180.5L681.1,1182.0L683.1,1183.6L685.1,1185.1L687.0,1186.8L689.0,1188.4L691.0,1190.0L693.0,1191.7L694.9,1193.3L696.9,1195.0L698.9,1196.6L700.9,1198.2L702.8,1199.8L704.8,1201.3L706.8,1202.8L708.8,1204.3L710.7,1205.7L712.7,1207.0L714.7,1208.3L716.7,1209.5L718.6,1210.7L720.6,1211.7L722.6,1212.7L724.6,1213.6L726.5,1214.4L728.5,1215.2L730.5,1215.9L732.5,1216.5L734.4,1217.0L736.4,1217.5L738.4,1218.0L740.3,1218.4L742.3,1218.7L744.3,1218.9L746.3,1219.2L748.2,1219.3L750.2,1219.5L752.2,1219.5L754.2,1219.6L756.1,1219.6L758.1,1219.5L760.1,1219.4L762.1,1219.3L764.0,1219.1L766.0,1219.0L768.0,1218.7L770.0,1218.5L771.9,1218.2L773.9,1218.0L775.9,1217.6L777.9,1217.3L779.8,1217.0L781.8,1216.6L783.8,1216.3L785.7,1215.9L787.7,1215.5L789.7,1215.1L791.7,1214.7L793.6,1214.3L795.6,1213.9L797.6,1213.5L799.6,1213.1L801.5,1212.7L803.5,1212.3L805.5,1212.0L807.5,1211.6L809.4,1211.2L811.4,1210.8L813.4,1210.5L815.4,1210.1L817.3,1209.8L819.3,1209.4L821.3,1209.1L823.3,1208.7L825.2,1208.4L827.2,1208.1L829.2,1207.8L831.1,1207.5L833.1,1207.2L835.1,1206.9L837.1,1206.6L839.0,1206.3L841.0,1206.1L843.0,1205.8L845.0,1205.5L846.9,1205.3L848.9,1205.1L850.9,1204.9L852.9,1204.6L854.8,1204.4L856.8,1204.3L858.8,1204.1L860.8,1203.9L862.7,1203.8L864.7,1203.6L866.7,1203.5L868.7,1203.4L870.6,1203.3L872.6,1203.2L874.6,1203.1L876.5,1203.0L878.5,1203.0L880.5,1202.9L882.5,1202.9L884.4,1202.9L886.4,1202.9L888.4,1202.9L890.4,1202.9L892.3,1203.0L894.3,1203.0L896.3,1203.1L898.3,1203.2L900.2,1203.3L902.2,1203.5L904.2,1203.6L906.2,1203.8L908.1,1204.0L910.1,1204.2L912.1,1204.4L914.1,1204.6L916.0,1204.9L918.0,1205.1" stroke="#000" stroke-width="9.4" stroke-linecap="round" stroke-linejoin="round" />
<path d="M130.4,919.6L132.4,919.6L134.3,920.2L136.3,921.3L138.3,923.0L140.3,925.2L142.2,928.0L144.2,931.4L146.2,935.4L148.2,940.0L150.1,945.2L152.1,951.0L154.1,957.3L156.1,964.2L158.0,971.7L160.0,979.6L162.0,988.0L164.0,996.8L165.9,1006.0L167.9,1015.6L169.9,1025.6L171.9,1035.9L173.8,1046.5L175.8,1057.4L177.8,1068.5L179.7,1079.8L181.7,1091.3L183.7,1103.0L185.7,1114.8L187.6,1126.8L189.6,1138.8L191.6,1150.9L193.6,1163.0L195.5,1175.0L197.5,1187.1L199.5,1199.1L201.5,1211.0L203.4,1222.9L205.4,1234.6L207.4,1246.2L209.4,1257.6L211.3,1268.9L213.3,1280.0L215.3,1290.8L217.3,1301.5L219.2,1311.8L221.2,1321.9L223.2,1331.7L225.1,1341.2L227.1,1350.4L229.1,1359.2L231.1,1367.7L233.0,1375.7L235.0,1383.4L237.0,1390.6L239.0,1397.4L240.9,1403.7L242.9,1409.5L244.9,1414.8L246.9,1419.6L248.8,1423.8L250.8,1427.6L252.8,1430.7L254.8,1433.4L256.7,1435.6L258.7,1437.3L260.7,1438.5L262.7,1439.2L264.6,1439.5L266.6,1439.3L268.6,1438.7L270.5,1437.6L272.5,1436.1L274.5,1434.1L276.5,1431.8L278.4,1429.1L280.4,1426.0L282.4,1422.5L284.4,1418.6L286.3,1414.3L288.3,1409.7L290.3,1404.8L292.3,1399.5L294.2,1393.9L296.2,1388.0L298.2,1381.8L300.2,1375.3L302.1,1368.5L304.1,1361.5L306.1,1354.3L308.1,1346.9L310.0,1339.5L312.0,1332.0L314.0,1324.5L315.9,1317.0L317.9,1309.6L319.9,1302.3L321.9,1295.1L323.8,1288.2L325.8,1281.4L327.8,1275.0L329.8,1268.8L331.7,1262.9L333.7,1257.2L335.7,1251.8L337.7,1246.5L339.6,1241.4L341.6,1236.4L343.6,1231.5L345.6,1226.6L347.5,1221.8L349.5,1217.0L351.5,1212.2L353.5,1207.4L355.4,1202.5L357.4,1197.5L359.4,1192.5L361.4,1187.5L363.3,1182.5L365.3,1177.8L367.3,1173.2L369.2,1168.9L371.2,1165.0L373.2,1161.3L375.2,1158.1L377.1,1155.1L379.1,1152.4L381.1,1150.1L383.1,1148.0L385.0,1146.3L387.0,1144.8L389.0,1143.5L391.0,1142.5L392.9,1141.7L394.9,1141.1L396.9,1140.6L398.9,1140.3L400.8,1140.1L402.8,1140.0L404.8,1139.9L406.8,1140.0L408.7,1140.0L410.7,1140.1L412.7,1140.2L414.6,1140.3L416.6,1140.3L418.6,1140.3L420.6,1140.2L422.5,1140.0L424.5,1139.8L426.5,1139.6L428.5,1139.2L430.4,1138.9L432.4,1138.4L434.4,1138.0L436.4,1137.4L438.3,1136.8L440.3,1136.1L442.3,1135.4L444.3,1134.6L446.2,1133.8L448.2,1132.9L450.2,1131.9L452.2,1130.9L454.1,1129.8L456.1,1128.6L458.1,1127.3L460.0,1126.0L462.0,1124.7L464.0,1123.2L466.0,1121.7L467.9,1120.2L469.9,1118.6L471.9,1116.9L473.9,1115.2L475.8,1113.5L477.8,1111.7L479.8,1110.0L481.8,1108.2L483.7,1106.5L485.7,1104.8L487.7,1103.1L489.7,1101.4L491.6,1099.8L493.6,1098.2L495.6,1096.6L497.6,1095.2L499.5,1093.8L501.5,1092.5L503.5,1091.2L505.4,1090.1L507.4,1089.1L509.4,1088.2L511.4,1087.4L513.3,1086.8L515.3,1086.3L517.3,1086.0L519.3,1085.9L521.2,1086.0L523.2,1086.2L525.2,1086.7L527.2,1087.5L529.1,1088.4L531.1,1089.7L533.1,1091.2L535.1,1092.9L537.0,1095.0L539.0,1097.4L541.0,1100.1L543.0,1103.1L544.9,1106.5L546.9,1110.1L548.9,1114.1L550.8,1118.3L552.8,1122.7L554.8,1127.2L556.8,1131.9L558.7,1136.7L560.7,1141.6L562.7,1146.5L564.7,1151.5L566.6,1156.5L568.6,1161.5L570.6,1166.7L572.6,1172.0L574.5,1177.5L576.5,1183.1L578.5,1188.9L580.5,1194.9L582.4,1201.1L584.4,1207.6L586.4,1214.4L588.4,1221.5L590.3,1228.8L592.3,1236.5L594.3,1244.3L596.2,1252.3L598.2,1260.3L600.2,1268.4L602.2,1276.5L604.1,1284.5L606.1,1292.4L608.1,1300.1L610.1,1307.6L612.0,1314.8L614.0,1321.7L616.0,1328.3L618.0,1334.6L619.9,1340.7L621.9,1346.5L623.9,1352.0L625.9,1357.3L627.8,1362.3L629.8,1367.1L631.8,1371.7L633.8,1376.0L635.7,1380.1L637.7,1384.0L639.7,1387.6L641.6,1391.0L643.6,1394.1L645.6,1396.9L647.6,1399.4L649.5,1401.6L651.5,1403.4L653.5,1404.8L655.5,1405.9L657.4,1406.5L659.4,1406.7L661.4,1406.5L663.4,1405.8L665.3,1404.7L667.3,1403.1L669.3,1401.2L671.3,1398.9L673.2,1396.1L675.2,1393.0L677.2,1389.6L679.2,1385.7L681.1,1381.6L683.1,1377.1L685.1,1372.3L687.0,1367.1L689.0,1361.7L691.0,1356.0L693.0,1350.0L694.9,1343.7L696.9,1337.2L698.9,1330.4L700.9,1323.4L702.8,1316.2L704.8,1308.7L706.8,1301.1L708.8,1293.2L710.7,1285.2L712.7,1277.0L714.7,1268.6L716.7,1260.1L718.6,1251.5L720.6,1242.7L722.6,1233.9L724.6,1225.0L726.5,1216.1L728.5,1207.1L730.5,1198.2L732.5,1189.3L734.4,1180.4L736.4,1171.6L738.4,1162.9L740.3,1154.4L742.3,1146.0L744.3,1137.7L746.3,1129.7L748.2,1121.8L750.2,1114.2L752.2,1106.9L754.2,1099.8L756.1,1093.0L758.1,1086.5L760.1,1080.3L762.1,1074.4L764.0,1068.8L766.0,1063.4L768.0,1058.4L770.0,1053.7L771.9,1049.4L773.9,1045.3L775.9,1041.6L777.9,1038.2L779.8,1035.2L781.8,1032.5L783.8,1030.2L785.7,1028.2L787.7,1026.6L789.7,1025.3L791.7,1024.5L793.6,1024.0L795.6,1023.9L797.6,1024.1L799.6,1024.8L801.5,1025.9L803.5,1027.3L805.5,1029.2L807.5,1031.5L809.4,1034.3L811.4,1037.4L813.4,1040.9L815.4,1044.9L817.3,1049.2L819.3,1053.8L821.3,1058.8L823.3,1064.1L825.2,1069.7L827.2,1075.5L829.2,1081.6L831.1,1087.9L833.1,1094.5L835.1,1101.2L837.1,1108.1L839.0,1115.2L841.0,1122.4L843.0,1129.8L845.0,1137.2L846.9,1144.7L848.9,1152.3L850.9,1159.9L852.9,1167.6L854.8,1175.2L856.8,1182.9L858.8,1190.5L860.8,1198.1L862.7,1205.6L864.7,1213.1L866.7,1220.5L868.7,1227.7L870.6,1234.9L872.6,1241.9L874.6,1248.8L876.5,1255.5L878.5,1262.0L880.5,1268.3L882.5,1274.5L884.4,1280.3L886.4,1286.0L888.4,1291.3L890.4,1296.4L892.3,1301.2L894.3,1305.7L896.3,1310.0L898.3,1314.0L900.2,1317.7L902.2,1321.2L904.2,1324.4L906.2,1327.4L908.1,1330.2L910.1,1332.8L912.1,1335.2L914.1,1337.4L916.0,1339.4L918.0,1341.3" stroke="#008000" stroke-width="4" stroke-linecap="round" stroke-linejoin="round" stroke-dasharray="6.2 7.8" />
<path d="M130.4,919.6L132.4,919.5L134.3,920.3L136.3,922.0L138.3,924.7L140.3,928.4L142.2,933.1L144.2,938.9L146.2,945.7L148.2,953.3L150.1,961.7L152.1,970.8L154.1,980.3L156.1,990.1L158.0,1000.1L160.0,1010.2L162.0,1020.2L164.0,1030.0L165.9,1039.8L167.9,1049.7L169.9,1059.9L171.9,1070.6L173.8,1081.8L175.8,1093.6L177.8,1106.0L179.7,1119.0L181.7,1132.5L183.7,1146.5L185.7,1161.1L187.6,1176.2L189.6,1191.9L191.6,1208.0L193.6,1224.2L195.5,1240.2L197.5,1255.5L199.5,1270.1L201.5,1284.2L203.4,1297.8L205.4,1311.0L207.4,1323.8L209.4,1336.3L211.3,1348.4L213.3,1360.1L215.3,1371.3L217.3,1382.1L219.2,1392.4L221.2,1402.3L223.2,1411.7L225.1,1420.7L227.1,1429.2L229.1,1437.2L231.1,1444.7L233.0,1451.7L235.0,1458.1L237.0,1463.9L239.0,1469.0L240.9,1473.4L242.9,1477.2L244.9,1480.1L246.9,1482.3L248.8,1483.7L250.8,1484.3L252.8,1484.0L254.8,1482.8L256.7,1480.8L258.7,1478.0L260.7,1474.4L262.7,1470.0L264.6,1465.0L266.6,1459.3L268.6,1453.0L270.5,1446.0L272.5,1438.5L274.5,1430.5L276.5,1422.0L278.4,1413.1L280.4,1403.7L282.4,1393.9L284.4,1383.8L286.3,1373.3L288.3,1362.6L290.3,1351.6L292.3,1340.5L294.2,1329.1L296.2,1317.6L298.2,1306.0L300.2,1294.3L302.1,1282.5L304.1,1270.5L306.1,1258.3L308.1,1245.8L310.0,1232.9L312.0,1219.6L314.0,1205.7L315.9,1191.4L317.9,1176.9L319.9,1162.8L321.9,1149.2L323.8,1136.3L325.8,1123.9L327.8,1112.0L329.8,1100.7L331.7,1089.9L333.7,1079.6L335.7,1069.7L337.7,1060.2L339.6,1051.1L341.6,1042.3L343.6,1033.9L345.6,1025.8L347.5,1017.9L349.5,1010.4L351.5,1003.3L353.5,996.5L355.4,990.2L357.4,984.4L359.4,979.1L361.4,974.3L363.3,970.2L365.3,966.7L367.3,963.9L369.2,961.8L371.2,960.5L373.2,960.0L375.2,960.4L377.1,961.5L379.1,963.5L381.1,966.2L383.1,969.6L385.0,973.7L387.0,978.4L389.0,983.7L391.0,989.6L392.9,996.1L394.9,1003.0L396.9,1010.5L398.9,1018.3L400.8,1026.6L402.8,1035.3L404.8,1044.2L406.8,1053.5L408.7,1063.1L410.7,1072.9L412.7,1082.9L414.6,1093.1L416.6,1103.4L418.6,1113.8L420.6,1124.3L422.5,1134.9L424.5,1145.5L426.5,1156.2L428.5,1167.0L430.4,1177.9L432.4,1188.9L434.4,1200.1L436.4,1211.3L438.3,1222.4L440.3,1233.6L442.3,1244.7L444.3,1255.8L446.2,1266.6L448.2,1277.4L450.2,1287.9L452.2,1298.1L454.1,1308.1L456.1,1317.7L458.1,1327.0L460.0,1335.9L462.0,1344.4L464.0,1352.5L466.0,1360.1L467.9,1367.3L469.9,1374.1L471.9,1380.4L473.9,1386.2L475.8,1391.6L477.8,1396.5L479.8,1401.0L481.8,1404.9L483.7,1408.4L485.7,1411.3L487.7,1413.8L489.7,1415.7L491.6,1417.1L493.6,1417.9L495.6,1418.3L497.6,1418.0L499.5,1417.2L501.5,1415.9L503.5,1413.9L505.4,1411.4L507.4,1408.3L509.4,1404.6L511.4,1400.3L513.3,1395.4L515.3,1389.8L517.3,1383.7L519.3,1377.0L521.2,1369.8L523.2,1362.1L525.2,1354.0L527.2,1345.5L529.1,1336.8L531.1,1327.7L533.1,1318.5L535.1,1309.0L537.0,1299.5L539.0,1289.9L541.0,1280.3L543.0,1270.6L544.9,1261.1L546.9,1251.6L548.9,1242.3L550.8,1233.0L552.8,1223.8L554.8,1214.7L556.8,1205.7L558.7,1196.8L560.7,1188.1L562.7,1179.4L564.7,1170.9L566.6,1162.6L568.6,1154.4L570.6,1146.3L572.6,1138.3L574.5,1130.6L576.5,1123.0L578.5,1115.5L580.5,1108.3L582.4,1101.3L584.4,1094.5L586.4,1088.0L588.4,1081.8L590.3,1075.8L592.3,1070.3L594.3,1065.1L596.2,1060.3L598.2,1055.8L600.2,1051.9L602.2,1048.4L604.1,1045.3L606.1,1042.8L608.1,1040.8L610.1,1039.3L612.0,1038.3L614.0,1037.7L616.0,1037.6L618.0,1038.0L619.9,1038.8L621.9,1040.1L623.9,1041.8L625.9,1043.9L627.8,1046.4L629.8,1049.3L631.8,1052.6L633.8,1056.3L635.7,1060.3L637.7,1064.7L639.7,1069.4L641.6,1074.5L643.6,1079.8L645.6,1085.5L647.6,1091.4L649.5,1097.5L651.5,1103.8L653.5,1110.4L655.5,1117.1L657.4,1124.0L659.4,1131.1L661.4,1138.2L663.4,1145.5L665.3,1152.8L667.3,1160.2L669.3,1167.7L671.3,1175.2L673.2,1182.6L675.2,1190.1L677.2,1197.5L679.2,1204.9L681.1,1212.2L683.1,1219.4L685.1,1226.5L687.0,1233.4L689.0,1240.2L691.0,1246.8L693.0,1253.3L694.9,1259.6L696.9,1265.6L698.9,1271.5L700.9,1277.2L702.8,1282.7L704.8,1288.0L706.8,1293.0L708.8,1297.8L710.7,1302.4L712.7,1306.7L714.7,1310.8L716.7,1314.6L718.6,1318.1L720.6,1321.4L722.6,1324.3L724.6,1327.0L726.5,1329.4L728.5,1331.4L730.5,1333.2L732.5,1334.6L734.4,1335.7L736.4,1336.4L738.4,1336.8L740.3,1336.9L742.3,1336.6L744.3,1336.0L746.3,1335.0L748.2,1333.6L750.2,1331.9L752.2,1329.8L754.2,1327.4L756.1,1324.6L758.1,1321.4L760.1,1317.9L762.1,1314.0L764.0,1309.8L766.0,1305.3L768.0,1300.5L770.0,1295.6L771.9,1290.5L773.9,1285.2L775.9,1279.9L777.9,1274.4L779.8,1268.9L781.8,1263.4L783.8,1258.0L785.7,1252.6L787.7,1247.3L789.7,1242.1L791.7,1237.1L793.6,1232.1L795.6,1227.2L797.6,1222.5L799.6,1217.8L801.5,1213.3L803.5,1208.8L805.5,1204.4L807.5,1200.1L809.4,1195.9L811.4,1191.8L813.4,1187.8L815.4,1183.8L817.3,1179.9L819.3,1176.0L821.3,1172.2L823.3,1168.5L825.2,1164.9L827.2,1161.2L829.2,1157.7L831.1,1154.2L833.1,1150.7L835.1,1147.3L837.1,1143.9L839.0,1140.6L841.0,1137.5L843.0,1134.4L845.0,1131.5L846.9,1128.8L848.9,1126.2L850.9,1123.9L852.9,1121.8L854.8,1119.9L856.8,1118.4L858.8,1117.1L860.8,1116.2L862.7,1115.6L864.7,1115.3L866.7,1115.5L868.7,1116.0L870.6,1116.8L872.6,1118.0L874.6,1119.4L876.5,1121.2L878.5,1123.2L880.5,1125.5L882.5,1128.1L884.4,1130.8L886.4,1133.8L888.4,1137.0L890.4,1140.4L892.3,1143.9L894.3,1147.6L896.3,1151.4L898.3,1155.3L900.2,1159.3L902.2,1163.2L904.2,1167.1L906.2,1170.9L908.1,1174.5L910.1,1178.0L912.1,1181.3L914.1,1184.3L916.0,1186.9L918.0,1189.3" stroke="#0000ff" stroke-width="4" stroke-linecap="round" stroke-linejoin="round" stroke-dasharray="23 13"/>
<path d="M130.4,919.6L132.4,919.6L134.3,920.2L136.3,921.4L138.3,923.2L140.3,925.5L142.2,928.4L144.2,932.0L146.2,936.1L148.2,940.9L150.1,946.3L152.1,952.3L154.1,958.9L156.1,966.1L158.0,973.8L160.0,982.0L162.0,990.6L164.0,999.8L165.9,1009.4L167.9,1019.3L169.9,1029.7L171.9,1040.5L173.8,1051.5L175.8,1062.9L177.8,1074.6L179.7,1086.5L181.7,1098.9L183.7,1111.6L185.7,1124.7L187.6,1138.3L189.6,1152.3L191.6,1166.5L193.6,1180.9L195.5,1195.2L197.5,1209.2L199.5,1223.0L201.5,1236.4L203.4,1249.5L205.4,1262.4L207.4,1275.0L209.4,1287.4L211.3,1299.5L213.3,1311.3L215.3,1322.9L217.3,1334.1L219.2,1345.0L221.2,1355.6L223.2,1365.9L225.1,1375.8L227.1,1385.3L229.1,1394.4L231.1,1403.2L233.0,1411.5L235.0,1419.4L237.0,1426.9L239.0,1434.0L240.9,1440.6L242.9,1446.7L244.9,1452.4L246.9,1457.5L248.8,1462.2L250.8,1466.3L252.8,1469.9L254.8,1472.9L256.7,1475.4L258.7,1477.3L260.7,1478.7L262.7,1479.4L264.6,1479.5L266.6,1479.0L268.6,1477.9L270.5,1476.2L272.5,1473.8L274.5,1470.8L276.5,1467.2L278.4,1462.9L280.4,1458.1L282.4,1452.5L284.4,1446.4L286.3,1439.6L288.3,1432.1L290.3,1424.0L292.3,1415.3L294.2,1405.9L296.2,1395.8L298.2,1385.2L300.2,1374.2L302.1,1362.8L304.1,1351.2L306.1,1339.7L308.1,1328.2L310.0,1316.9L312.0,1305.9L314.0,1295.5L315.9,1285.6L317.9,1276.3L319.9,1267.4L321.9,1258.9L323.8,1250.6L325.8,1242.6L327.8,1234.5L329.8,1226.3L331.7,1217.7L333.7,1208.6L335.7,1198.8L337.7,1188.4L339.6,1177.5L341.6,1166.3L343.6,1154.9L345.6,1143.5L347.5,1132.3L349.5,1121.3L351.5,1110.5L353.5,1100.0L355.4,1089.9L357.4,1080.0L359.4,1070.6L361.4,1061.5L363.3,1052.9L365.3,1044.7L367.3,1037.0L369.2,1029.8L371.2,1023.2L373.2,1017.1L375.2,1011.7L377.1,1006.9L379.1,1002.6L381.1,999.0L383.1,996.0L385.0,993.5L387.0,991.6L389.0,990.2L391.0,989.3L392.9,989.0L394.9,989.2L396.9,989.9L398.9,991.1L400.8,992.8L402.8,994.9L404.8,997.5L406.8,1000.6L408.7,1004.1L410.7,1008.0L412.7,1012.3L414.6,1017.0L416.6,1022.1L418.6,1027.6L420.6,1033.5L422.5,1039.7L424.5,1046.3L426.5,1053.2L428.5,1060.4L430.4,1068.0L432.4,1075.8L434.4,1083.9L436.4,1092.3L438.3,1101.0L440.3,1109.9L442.3,1119.0L444.3,1128.3L446.2,1137.7L448.2,1147.2L450.2,1156.9L452.2,1166.7L454.1,1176.5L456.1,1186.3L458.1,1196.2L460.0,1206.0L462.0,1215.8L464.0,1225.5L466.0,1235.2L467.9,1244.7L469.9,1254.1L471.9,1263.3L473.9,1272.3L475.8,1281.1L477.8,1289.7L479.8,1298.0L481.8,1306.0L483.7,1313.7L485.7,1321.0L487.7,1328.0L489.7,1334.6L491.6,1340.8L493.6,1346.6L495.6,1352.1L497.6,1357.1L499.5,1361.8L501.5,1366.2L503.5,1370.1L505.4,1373.7L507.4,1376.9L509.4,1379.7L511.4,1382.2L513.3,1384.2L515.3,1385.9L517.3,1387.3L519.3,1388.3L521.2,1388.9L523.2,1389.1L525.2,1388.9L527.2,1388.4L529.1,1387.6L531.1,1386.3L533.1,1384.7L535.1,1382.8L537.0,1380.4L539.0,1377.7L541.0,1374.7L543.0,1371.3L544.9,1367.5L546.9,1363.4L548.9,1358.9L550.8,1354.0L552.8,1348.8L554.8,1343.3L556.8,1337.4L558.7,1331.1L560.7,1324.5L562.7,1317.6L564.7,1310.3L566.6,1302.6L568.6,1294.6L570.6,1286.3L572.6,1277.6L574.5,1268.6L576.5,1259.2L578.5,1249.5L580.5,1239.4L582.4,1229.1L584.4,1218.3L586.4,1207.3L588.4,1195.9L590.3,1184.3L592.3,1172.7L594.3,1161.1L596.2,1149.8L598.2,1138.8L600.2,1128.2L602.2,1118.3L604.1,1109.2L606.1,1100.7L608.1,1093.0L610.1,1085.8L612.0,1079.2L614.0,1073.1L616.0,1067.4L618.0,1062.1L619.9,1057.3L621.9,1052.8L623.9,1048.7L625.9,1045.0L627.8,1041.7L629.8,1038.6L631.8,1035.9L633.8,1033.5L635.7,1031.4L637.7,1029.6L639.7,1028.0L641.6,1026.7L643.6,1025.6L645.6,1024.7L647.6,1024.2L649.5,1023.9L651.5,1023.9L653.5,1024.3L655.5,1024.9L657.4,1025.9L659.4,1027.3L661.4,1029.1L663.4,1031.2L665.3,1033.8L667.3,1036.7L669.3,1040.1L671.3,1043.9L673.2,1048.2L675.2,1053.0L677.2,1058.1L679.2,1063.7L681.1,1069.7L683.1,1076.0L685.1,1082.7L687.0,1089.7L689.0,1097.0L691.0,1104.5L693.0,1112.3L694.9,1120.3L696.9,1128.6L698.9,1137.0L700.9,1145.5L702.8,1154.2L704.8,1163.0L706.8,1171.9L708.8,1180.9L710.7,1189.9L712.7,1198.9L714.7,1208.0L716.7,1217.1L718.6,1226.1L720.6,1235.2L722.6,1244.1L724.6,1253.0L726.5,1261.8L728.5,1270.5L730.5,1279.0L732.5,1287.4L734.4,1295.6L736.4,1303.7L738.4,1311.5L740.3,1319.1L742.3,1326.4L744.3,1333.5L746.3,1340.4L748.2,1346.9L750.2,1353.2L752.2,1359.2L754.2,1364.9L756.1,1370.2L758.1,1375.3L760.1,1380.0L762.1,1384.4L764.0,1388.4L766.0,1392.1L768.0,1395.4L770.0,1398.3L771.9,1400.8L773.9,1402.9L775.9,1404.6L777.9,1405.9L779.8,1406.8L781.8,1407.2L783.8,1407.1L785.7,1406.6L787.7,1405.7L789.7,1404.2L791.7,1402.3L793.6,1399.9L795.6,1397.0L797.6,1393.6L799.6,1389.8L801.5,1385.5L803.5,1380.9L805.5,1375.9L807.5,1370.6L809.4,1365.0L811.4,1359.0L813.4,1352.8L815.4,1346.3L817.3,1339.6L819.3,1332.7L821.3,1325.7L823.3,1318.4L825.2,1311.1L827.2,1303.6L829.2,1296.1L831.1,1288.5L833.1,1280.8L835.1,1273.2L837.1,1265.5L839.0,1257.9L841.0,1250.3L843.0,1242.8L845.0,1235.1L846.9,1227.3L848.9,1219.2L850.9,1210.9L852.9,1202.1L854.8,1193.0L856.8,1183.5L858.8,1173.8L860.8,1164.0L862.7,1154.2L864.7,1144.5L866.7,1134.8L868.7,1125.4L870.6,1116.0L872.6,1106.9L874.6,1098.1L876.5,1089.5L878.5,1081.2L880.5,1073.4L882.5,1065.9L884.4,1058.8L886.4,1052.2L888.4,1046.2L890.4,1040.7L892.3,1035.7L894.3,1031.3L896.3,1027.4L898.3,1024.0L900.2,1021.0L902.2,1018.4L904.2,1016.2L906.2,1014.4L908.1,1013.0L910.1,1011.8L912.1,1010.8L914.1,1010.2L916.0,1009.7L918.0,1009.4" stroke="#ff66ff" stroke-width="4" stroke-linecap="butt" stroke-linejoin="round" />
</g>
<rect x="130.4" y="919.6" width="787.6" height="578.4" fill="none" stroke="#000" stroke-width="2.2"/>
<line x1="261.67" y1="1498.00" x2="261.67" y2="1491.50" stroke="#000" stroke-width="2" />
<line x1="261.67" y1="919.60" x2="261.67" y2="926.10" stroke="#000" stroke-width="2" />
<line x1="392.93" y1="1498.00" x2="392.93" y2="1491.50" stroke="#000" stroke-width="2" />
<line x1="392.93" y1="919.60" x2="392.93" y2="926.10" stroke="#000" stroke-width="2" />
<line x1="524.20" y1="1498.00" x2="524.20" y2="1491.50" stroke="#000" stroke-width="2" />
<line x1="524.20" y1="919.60" x2="524.20" y2="926.10" stroke="#000" stroke-width="2" />
<line x1="655.47" y1="1498.00" x2="655.47" y2="1491.50" stroke="#000" stroke-width="2" />
<line x1="655.47" y1="919.60" x2="655.47" y2="926.10" stroke="#000" stroke-width="2" />
<line x1="786.73" y1="1498.00" x2="786.73" y2="1491.50" stroke="#000" stroke-width="2" />
<line x1="786.73" y1="919.60" x2="786.73" y2="926.10" stroke="#000" stroke-width="2" />
<line x1="130.40" y1="1353.40" x2="137.90" y2="1353.40" stroke="#000" stroke-width="2" />
<line x1="918.00" y1="1353.40" x2="910.50" y2="1353.40" stroke="#000" stroke-width="2" />
<line x1="130.40" y1="1208.80" x2="137.90" y2="1208.80" stroke="#000" stroke-width="2" />
<line x1="918.00" y1="1208.80" x2="910.50" y2="1208.80" stroke="#000" stroke-width="2" />
<line x1="130.40" y1="1064.20" x2="137.90" y2="1064.20" stroke="#000" stroke-width="2" />
<line x1="918.00" y1="1064.20" x2="910.50" y2="1064.20" stroke="#000" stroke-width="2" />
<text x="126.4" y="1540.7" font-family='"Liberation Sans", Arial, Helvetica, sans-serif' font-size="28" text-anchor="middle" >0.0</text>
<text x="257.7" y="1540.7" font-family='"Liberation Sans", Arial, Helvetica, sans-serif' font-size="28" text-anchor="middle" >0.5</text>
<text x="388.9" y="1540.7" font-family='"Liberation Sans", Arial, Helvetica, sans-serif' font-size="28" text-anchor="middle" >1.0</text>
<text x="520.2" y="1540.7" font-family='"Liberation Sans", Arial, Helvetica, sans-serif' font-size="28" text-anchor="middle" >1.5</text>
<text x="651.5" y="1540.7" font-family='"Liberation Sans", Arial, Helvetica, sans-serif' font-size="28" text-anchor="middle" >2.0</text>
<text x="782.7" y="1540.7" font-family='"Liberation Sans", Arial, Helvetica, sans-serif' font-size="28" text-anchor="middle" >2.5</text>
<text x="914.0" y="1540.7" font-family='"Liberation Sans", Arial, Helvetica, sans-serif' font-size="28" text-anchor="middle" >3.0</text>
<text x="84.5" y="1508.0" font-family='"Liberation Sans", Arial, Helvetica, sans-serif' font-size="28" text-anchor="middle" >-1.0</text>
<text x="84.5" y="1363.4" font-family='"Liberation Sans", Arial, Helvetica, sans-serif' font-size="28" text-anchor="middle" >-0.5</text>
<text x="84.5" y="1221.1" font-family='"Liberation Sans", Arial, Helvetica, sans-serif' font-size="28" text-anchor="middle" >0.0</text>
<text x="84.5" y="1074.2" font-family='"Liberation Sans", Arial, Helvetica, sans-serif' font-size="28" text-anchor="middle" >0.5</text>
<text x="84.5" y="929.6" font-family='"Liberation Sans", Arial, Helvetica, sans-serif' font-size="28" text-anchor="middle" >1.0</text>
<text x="466" y="1578.6" font-family='"Liberation Serif", "Times New Roman", Times, serif' font-size="40">Δ<tspan font-style="italic">t</tspan><tspan dx="4.8">/</tspan><tspan font-style="italic">T</tspan><tspan font-size="26" dy="8.8">0</tspan><tspan dy="-8.8" dx="9.2">(–)</tspan></text>
<text transform="translate(28,1268.4) rotate(-90)" font-family='"Liberation Serif", "Times New Roman", Times, serif' font-size="40"><tspan font-style="italic">R</tspan><tspan font-size="26" dy="8.8">u0u0</tspan><tspan dy="-8.8" dx="12.4">(–)</tspan></text>
<line x1="406.1" y1="1445.8" x2="472.1" y2="1445.8" stroke="#000" stroke-width="10" stroke-linecap="round"/>
<line x1="404.1" y1="1476.7" x2="475.5" y2="1476.7" stroke="#008000" stroke-width="4" stroke-dasharray="6.2 7.94" stroke-linecap="round"/>
<line x1="651.7" y1="1445.8" x2="708.7" y2="1445.8" stroke="#0000ff" stroke-width="4" stroke-dasharray="21.3 14.4" stroke-linecap="round"/>
<line x1="651.7" y1="1476.7" x2="721.8" y2="1476.7" stroke="#ff66ff" stroke-width="4" stroke-linecap="round"/>
<text x="485.3" y="1453.4" font-family='"Liberation Sans", Arial, Helvetica, sans-serif' font-size="28" text-anchor="start" >Average</text>
<text x="486.3" y="1487.7" font-family='"Liberation Serif", "Times New Roman", Times, serif' font-size="30"><tspan font-style="italic">T</tspan><tspan font-size="20" dy="6.6">d12</tspan><tspan dy="-6.6" dx="3.0">/</tspan><tspan font-style="italic">T</tspan><tspan font-size="20" dy="6.6">0</tspan><tspan dy="-6.6"> = 1.5</tspan></text>
<text x="733.5" y="1454.7" font-family='"Liberation Serif", "Times New Roman", Times, serif' font-size="30"><tspan font-style="italic">T</tspan><tspan font-size="20" dy="6.6">d12</tspan><tspan dy="-6.6" dx="3.0">/</tspan><tspan font-style="italic">T</tspan><tspan font-size="20" dy="6.6">0</tspan><tspan dy="-6.6"> = 0.7</tspan></text>
<text x="733.5" y="1487.7" font-family='"Liberation Serif", "Times New Roman", Times, serif' font-size="30"><tspan font-style="italic">T</tspan><tspan font-size="20" dy="6.6">d12</tspan><tspan dy="-6.6" dx="3.0">/</tspan><tspan font-style="italic">T</tspan><tspan font-size="20" dy="6.6">0</tspan><tspan dy="-6.6"> = 3.0</tspan></text>
<text x="500" y="1653.6" font-family='"Liberation Serif", "Times New Roman", Times, serif' font-size="49.5" text-anchor="middle" >(a.2)</text>
<g clip-path="url(#clb2)" fill="none">
<path d="M1214.8,922.3h10M1219.8,922.3V924.6M1214.8,924.6h10M1220.0,926.8h10M1225.0,926.8V932.5M1220.0,932.5h10M1225.3,933.4h10M1230.3,933.4V944.3M1225.3,944.3h10M1230.5,941.7h10M1235.5,941.7V959.0M1230.5,959.0h10M1235.7,952.5h10M1240.7,952.5V975.5M1235.7,975.5h10M1240.9,967.1h10M1245.9,967.1V994.0M1240.9,994.0h10M1246.1,985.4h10M1251.1,985.4V1015.9M1246.1,1015.9h10M1251.4,1007.7h10M1256.4,1007.7V1042.2M1251.4,1042.2h10M1256.6,1032.4h10M1261.6,1032.4V1073.0M1256.6,1073.0h10M1261.8,1059.9h10M1266.8,1059.9V1105.9M1261.8,1105.9h10M1267.0,1089.8h10M1272.0,1089.8V1139.0M1267.0,1139.0h10M1272.2,1120.5h10M1277.2,1120.5V1171.9M1272.2,1171.9h10M1277.5,1152.1h10M1282.5,1152.1V1203.8M1277.5,1203.8h10M1282.7,1183.2h10M1287.7,1183.2V1235.0M1282.7,1235.0h10M1287.9,1213.4h10M1292.9,1213.4V1265.1M1287.9,1265.1h10M1293.1,1243.4h10M1298.1,1243.4V1292.7M1293.1,1292.7h10M1298.3,1273.0h10M1303.3,1273.0V1317.1M1298.3,1317.1h10M1303.5,1299.6h10M1308.5,1299.6V1339.9M1303.5,1339.9h10M1308.8,1322.5h10M1313.8,1322.5V1361.2M1308.8,1361.2h10M1314.0,1342.1h10M1319.0,1342.1V1379.6M1314.0,1379.6h10M1319.2,1358.3h10M1324.2,1358.3V1394.5M1319.2,1394.5h10M1324.4,1371.0h10M1329.4,1371.0V1405.4M1324.4,1405.4h10M1329.6,1380.4h10M1334.6,1380.4V1412.9M1329.6,1412.9h10M1334.9,1386.3h10M1339.9,1386.3V1417.9M1334.9,1417.9h10M1340.1,1388.6h10M1345.1,1388.6V1421.4M1340.1,1421.4h10M1345.3,1387.8h10M1350.3,1387.8V1423.8M1345.3,1423.8h10M1350.5,1384.8h10M1355.5,1384.8V1425.0M1350.5,1425.0h10M1355.7,1378.1h10M1360.7,1378.1V1427.2M1355.7,1427.2h10M1361.0,1367.2h10M1366.0,1367.2V1430.8M1361.0,1430.8h10M1366.2,1354.5h10M1371.2,1354.5V1433.8M1366.2,1433.8h10M1371.4,1341.6h10M1376.4,1341.6V1434.2M1371.4,1434.2h10M1376.6,1327.6h10M1381.6,1327.6V1433.1M1376.6,1433.1h10M1381.8,1312.6h10M1386.8,1312.6V1430.4M1381.8,1430.4h10M1387.1,1296.7h10M1392.1,1296.7V1426.0M1387.1,1426.0h10M1392.3,1279.3h10M1397.3,1279.3V1420.6M1392.3,1420.6h10M1397.5,1261.0h10M1402.5,1261.0V1414.0M1397.5,1414.0h10M1402.7,1243.6h10M1407.7,1243.6V1405.3M1402.7,1405.3h10M1407.9,1228.6h10M1412.9,1228.6V1393.7M1407.9,1393.7h10M1413.2,1214.4h10M1418.2,1214.4V1381.6M1413.2,1381.6h10M1418.4,1201.0h10M1423.4,1201.0V1369.7M1418.4,1369.7h10M1423.6,1188.8h10M1428.6,1188.8V1358.3M1423.6,1358.3h10M1428.8,1178.6h10M1433.8,1178.6V1347.3M1428.8,1347.3h10M1434.0,1172.3h10M1439.0,1172.3V1334.9M1434.0,1334.9h10M1439.3,1168.8h10M1444.3,1168.8V1322.0M1439.3,1322.0h10M1444.5,1166.4h10M1449.5,1166.4V1310.1M1444.5,1310.1h10M1449.7,1164.6h10M1454.7,1164.6V1299.1M1449.7,1299.1h10M1454.9,1164.1h10M1459.9,1164.1V1288.4M1454.9,1288.4h10M1460.1,1164.2h10M1465.1,1164.2V1278.2M1460.1,1278.2h10M1465.3,1164.6h10M1470.3,1164.6V1268.7M1465.3,1268.7h10M1470.6,1165.9h10M1475.6,1165.9V1258.8M1470.6,1258.8h10M1475.8,1166.0h10M1480.8,1166.0V1250.7M1475.8,1250.7h10M1481.0,1162.5h10M1486.0,1162.5V1246.6M1481.0,1246.6h10M1486.2,1156.5h10M1491.2,1156.5V1245.1M1486.2,1245.1h10M1491.4,1149.2h10M1496.4,1149.2V1244.9M1491.4,1244.9h10M1496.7,1141.5h10M1501.7,1141.5V1245.0M1496.7,1245.0h10M1501.9,1132.9h10M1506.9,1132.9V1245.8M1501.9,1245.8h10M1507.1,1123.1h10M1512.1,1123.1V1247.2M1507.1,1247.2h10M1512.3,1113.1h10M1517.3,1113.1V1248.1M1512.3,1248.1h10M1517.5,1101.8h10M1522.5,1101.8V1249.7M1517.5,1249.7h10M1522.8,1090.8h10M1527.8,1090.8V1249.9M1522.8,1249.9h10M1528.0,1082.4h10M1533.0,1082.4V1246.3M1528.0,1246.3h10M1533.2,1076.0h10M1538.2,1076.0V1239.6M1533.2,1239.6h10M1538.4,1069.3h10M1543.4,1069.3V1232.2M1538.4,1232.2h10M1543.6,1062.5h10M1548.6,1062.5V1224.2M1543.6,1224.2h10M1548.9,1055.9h10M1553.9,1055.9V1215.5M1548.9,1215.5h10M1554.1,1051.0h10M1559.1,1051.0V1205.1M1554.1,1205.1h10M1559.3,1047.4h10M1564.3,1047.4V1193.6M1559.3,1193.6h10M1564.5,1044.1h10M1569.5,1044.1V1182.2M1564.5,1182.2h10M1569.7,1040.9h10M1574.7,1040.9V1171.5M1569.7,1171.5h10M1575.0,1038.7h10M1580.0,1038.7V1161.0M1575.0,1161.0h10M1580.2,1036.9h10M1585.2,1036.9V1151.4M1580.2,1151.4h10M1585.4,1035.0h10M1590.4,1035.0V1143.5M1585.4,1143.5h10M1590.6,1033.8h10M1595.6,1033.8V1136.9M1590.6,1136.9h10M1595.8,1033.5h10M1600.8,1033.5V1131.8M1595.8,1131.8h10M1601.0,1033.5h10M1606.0,1033.5V1128.8M1601.0,1128.8h10M1606.3,1033.5h10M1611.3,1033.5V1128.8M1606.3,1128.8h10M1611.5,1033.8h10M1616.5,1033.8V1131.4M1611.5,1131.4h10M1616.7,1035.0h10M1621.7,1035.0V1136.2M1616.7,1136.2h10M1621.9,1037.5h10M1626.9,1037.5V1142.7M1621.9,1142.7h10M1627.1,1040.6h10M1632.1,1040.6V1151.2M1627.1,1151.2h10M1632.4,1044.7h10M1637.4,1044.7V1161.6M1632.4,1161.6h10M1637.6,1050.4h10M1642.6,1050.4V1173.0M1637.6,1173.0h10M1642.8,1057.7h10M1647.8,1057.7V1185.4M1642.8,1185.4h10M1648.0,1066.2h10M1653.0,1066.2V1199.1M1648.0,1199.1h10M1653.2,1076.6h10M1658.2,1076.6V1213.4M1653.2,1213.4h10M1658.5,1089.5h10M1663.5,1089.5V1227.5M1658.5,1227.5h10M1663.7,1104.1h10M1668.7,1104.1V1242.1M1663.7,1242.1h10M1668.9,1119.5h10M1673.9,1119.5V1257.5M1668.9,1257.5h10M1674.1,1135.4h10M1679.1,1135.4V1273.4M1674.1,1273.4h10M1679.3,1151.9h10M1684.3,1151.9V1289.2M1679.3,1289.2h10M1684.6,1170.6h10M1689.6,1170.6V1302.9M1684.6,1302.9h10M1689.8,1190.2h10M1694.8,1190.2V1314.9M1689.8,1314.9h10M1695.0,1209.5h10M1700.0,1209.5V1326.2M1695.0,1326.2h10M1700.2,1226.8h10M1705.2,1226.8V1337.6M1700.2,1337.6h10M1705.4,1240.9h10M1710.4,1240.9V1350.1M1705.4,1350.1h10M1710.7,1252.7h10M1715.7,1252.7V1362.0M1710.7,1362.0h10M1715.9,1263.1h10M1720.9,1263.1V1372.3M1715.9,1372.3h10M1721.1,1271.8h10M1726.1,1271.8V1381.0M1721.1,1381.0h10M1726.3,1278.7h10M1731.3,1278.7V1388.0M1726.3,1388.0h10M1731.5,1283.7h10M1736.5,1283.7V1392.9M1731.5,1392.9h10M1736.8,1286.6h10M1741.8,1286.6V1395.9M1736.8,1395.9h10M1742.0,1287.3h10M1747.0,1287.3V1396.6M1742.0,1396.6h10M1747.2,1284.8h10M1752.2,1284.8V1396.0M1747.2,1396.0h10M1752.4,1278.8h10M1757.4,1278.8V1394.7M1752.4,1394.7h10M1757.6,1270.0h10M1762.6,1270.0V1392.3M1757.6,1392.3h10M1762.8,1259.5h10M1767.8,1259.5V1388.3M1762.8,1388.3h10M1768.1,1248.0h10M1773.1,1248.0V1382.3M1768.1,1382.3h10M1773.3,1236.1h10M1778.3,1236.1V1374.2M1773.3,1374.2h10M1778.5,1223.2h10M1783.5,1223.2V1365.0M1778.5,1365.0h10M1783.7,1209.9h10M1788.7,1209.9V1354.6M1783.7,1354.6h10M1788.9,1196.7h10M1793.9,1196.7V1342.7M1788.9,1342.7h10M1794.2,1183.6h10M1799.2,1183.6V1329.9M1794.2,1329.9h10M1799.4,1170.4h10M1804.4,1170.4V1316.7M1799.4,1316.7h10M1804.6,1157.1h10M1809.6,1157.1V1303.6M1804.6,1303.6h10M1809.8,1143.9h10M1814.8,1143.9V1290.9M1809.8,1290.9h10M1815.0,1130.6h10M1820.0,1130.6V1279.1M1815.0,1279.1h10M1820.3,1117.4h10M1825.3,1117.4V1268.3M1820.3,1268.3h10M1825.5,1104.7h10M1830.5,1104.7V1258.5M1825.5,1258.5h10M1830.7,1092.9h10M1835.7,1092.9V1249.5M1830.7,1249.5h10M1835.9,1082.2h10M1840.9,1082.2V1241.2M1835.9,1241.2h10M1841.1,1072.9h10M1846.1,1072.9V1233.6M1841.1,1233.6h10M1846.4,1065.6h10M1851.4,1065.6V1226.4M1846.4,1226.4h10M1851.6,1060.7h10M1856.6,1060.7V1219.3M1851.6,1219.3h10M1856.8,1058.1h10M1861.8,1058.1V1212.8M1856.8,1212.8h10M1862.0,1057.1h10M1867.0,1057.1V1207.7M1862.0,1207.7h10M1867.2,1057.5h10M1872.2,1057.5V1204.5M1867.2,1204.5h10M1872.5,1060.0h10M1877.5,1060.0V1202.7M1872.5,1202.7h10M1877.7,1063.7h10M1882.7,1063.7V1203.0M1877.7,1203.0h10M1882.9,1067.8h10M1887.9,1067.8V1205.9M1882.9,1205.9h10M1888.1,1071.3h10M1893.1,1071.3V1211.9M1888.1,1211.9h10M1893.3,1074.9h10M1898.3,1074.9V1220.0M1893.3,1220.0h10M1898.6,1079.7h10M1903.6,1079.7V1228.6M1898.6,1228.6h10M1903.8,1086.8h10M1908.8,1086.8V1236.3M1903.8,1236.3h10M1909.0,1094.6h10M1914.0,1094.6V1244.1M1909.0,1244.1h10M1914.2,1102.7h10M1919.2,1102.7V1252.2M1914.2,1252.2h10M1919.4,1110.8h10M1924.4,1110.8V1260.3M1919.4,1260.3h10M1924.6,1116.7h10M1929.6,1116.7V1270.3M1924.6,1270.3h10M1929.9,1120.0h10M1934.9,1120.0V1282.3M1929.9,1282.3h10M1935.1,1123.1h10M1940.1,1123.1V1293.4M1935.1,1293.4h10M1940.3,1128.3h10M1945.3,1128.3V1300.8M1940.3,1300.8h10M1945.5,1134.0h10M1950.5,1134.0V1306.5M1945.5,1306.5h10M1950.7,1138.9h10M1955.7,1138.9V1311.4M1950.7,1311.4h10M1956.0,1143.2h10M1961.0,1143.2V1315.7M1956.0,1315.7h10M1961.2,1146.9h10M1966.2,1146.9V1319.4M1961.2,1319.4h10M1966.4,1150.0h10M1971.4,1150.0V1322.5M1966.4,1322.5h10M1971.6,1152.6h10M1976.6,1152.6V1325.1M1971.6,1325.1h10M1976.8,1154.7h10M1981.8,1154.7V1327.2M1976.8,1327.2h10M1982.1,1156.2h10M1987.1,1156.2V1328.7M1982.1,1328.7h10M1987.3,1157.4h10M1992.3,1157.4V1329.9M1987.3,1329.9h10M1992.5,1158.1h10M1997.5,1158.1V1330.6M1992.5,1330.6h10" stroke="#b3adad" stroke-width="1.4"/>
<path d="M1214.6,921.2L1216.6,921.5L1218.5,922.5L1220.5,924.0L1222.4,926.1L1224.4,928.7L1226.4,931.7L1228.3,935.2L1230.3,939.0L1232.3,943.1L1234.2,947.4L1236.2,952.1L1238.1,957.0L1240.1,962.4L1242.1,968.1L1244.0,974.2L1246.0,980.8L1248.0,987.9L1249.9,995.6L1251.9,1003.9L1253.8,1012.7L1255.8,1022.2L1257.8,1032.1L1259.7,1042.6L1261.7,1053.4L1263.7,1064.5L1265.6,1076.0L1267.6,1087.6L1269.5,1099.4L1271.5,1111.3L1273.5,1123.2L1275.4,1135.2L1277.4,1147.2L1279.4,1159.1L1281.3,1171.1L1283.3,1182.9L1285.2,1194.7L1287.2,1206.3L1289.2,1217.8L1291.1,1229.2L1293.1,1240.4L1295.0,1251.4L1297.0,1262.1L1299.0,1272.7L1300.9,1282.9L1302.9,1292.9L1304.9,1302.5L1306.8,1311.9L1308.8,1320.8L1310.7,1329.4L1312.7,1337.6L1314.7,1345.4L1316.6,1352.7L1318.6,1359.6L1320.6,1365.9L1322.5,1371.8L1324.5,1377.1L1326.4,1381.9L1328.4,1386.2L1330.4,1389.9L1332.3,1393.3L1334.3,1396.1L1336.3,1398.6L1338.2,1400.7L1340.2,1402.3L1342.1,1403.7L1344.1,1404.6L1346.1,1405.3L1348.0,1405.7L1350.0,1405.8L1352.0,1405.7L1353.9,1405.4L1355.9,1404.8L1357.8,1404.1L1359.8,1403.1L1361.8,1402.0L1363.7,1400.7L1365.7,1399.3L1367.6,1397.6L1369.6,1395.7L1371.6,1393.7L1373.5,1391.5L1375.5,1389.1L1377.5,1386.5L1379.4,1383.7L1381.4,1380.7L1383.3,1377.6L1385.3,1374.2L1387.3,1370.7L1389.2,1367.0L1391.2,1363.1L1393.2,1359.0L1395.1,1354.8L1397.1,1350.4L1399.0,1345.8L1401.0,1341.1L1403.0,1336.3L1404.9,1331.5L1406.9,1326.5L1408.9,1321.5L1410.8,1316.5L1412.8,1311.5L1414.7,1306.6L1416.7,1301.6L1418.7,1296.7L1420.6,1291.9L1422.6,1287.2L1424.6,1282.6L1426.5,1278.1L1428.5,1273.8L1430.4,1269.6L1432.4,1265.7L1434.4,1261.9L1436.3,1258.3L1438.3,1254.9L1440.2,1251.6L1442.2,1248.5L1444.2,1245.5L1446.1,1242.7L1448.1,1240.0L1450.1,1237.5L1452.0,1235.0L1454.0,1232.7L1455.9,1230.5L1457.9,1228.3L1459.9,1226.3L1461.8,1224.3L1463.8,1222.5L1465.8,1220.6L1467.7,1218.9L1469.7,1217.2L1471.6,1215.5L1473.6,1213.9L1475.6,1212.4L1477.5,1210.8L1479.5,1209.3L1481.5,1207.9L1483.4,1206.4L1485.4,1205.0L1487.3,1203.6L1489.3,1202.2L1491.3,1200.8L1493.2,1199.4L1495.2,1198.0L1497.2,1196.6L1499.1,1195.1L1501.1,1193.7L1503.0,1192.3L1505.0,1190.8L1507.0,1189.3L1508.9,1187.7L1510.9,1186.1L1512.8,1184.5L1514.8,1182.8L1516.8,1181.1L1518.7,1179.3L1520.7,1177.5L1522.7,1175.6L1524.6,1173.6L1526.6,1171.6L1528.5,1169.5L1530.5,1167.3L1532.5,1165.0L1534.4,1162.6L1536.4,1160.1L1538.4,1157.6L1540.3,1155.0L1542.3,1152.3L1544.2,1149.6L1546.2,1146.8L1548.2,1144.0L1550.1,1141.2L1552.1,1138.3L1554.1,1135.4L1556.0,1132.5L1558.0,1129.7L1559.9,1126.8L1561.9,1123.9L1563.9,1121.1L1565.8,1118.3L1567.8,1115.5L1569.8,1112.8L1571.7,1110.2L1573.7,1107.6L1575.6,1105.1L1577.6,1102.6L1579.6,1100.3L1581.5,1098.0L1583.5,1095.9L1585.4,1093.8L1587.4,1091.9L1589.4,1090.1L1591.3,1088.5L1593.3,1087.0L1595.3,1085.6L1597.2,1084.4L1599.2,1083.4L1601.1,1082.5L1603.1,1081.8L1605.1,1081.3L1607.0,1081.1L1609.0,1081.0L1611.0,1081.1L1612.9,1081.5L1614.9,1082.0L1616.8,1082.8L1618.8,1083.8L1620.8,1085.0L1622.7,1086.4L1624.7,1088.0L1626.7,1089.8L1628.6,1091.8L1630.6,1094.0L1632.5,1096.4L1634.5,1099.0L1636.5,1101.8L1638.4,1104.8L1640.4,1107.9L1642.3,1111.3L1644.3,1114.8L1646.3,1118.5L1648.2,1122.4L1650.2,1126.5L1652.2,1130.8L1654.1,1135.2L1656.1,1139.8L1658.0,1144.5L1660.0,1149.5L1662.0,1154.5L1663.9,1159.8L1665.9,1165.2L1667.9,1170.7L1669.8,1176.4L1671.8,1182.2L1673.7,1188.0L1675.7,1193.9L1677.7,1199.9L1679.6,1206.0L1681.6,1212.1L1683.6,1218.1L1685.5,1224.2L1687.5,1230.3L1689.4,1236.4L1691.4,1242.4L1693.4,1248.3L1695.3,1254.2L1697.3,1260.0L1699.3,1265.7L1701.2,1271.3L1703.2,1276.7L1705.1,1282.0L1707.1,1287.2L1709.1,1292.1L1711.0,1296.9L1713.0,1301.5L1714.9,1305.8L1716.9,1310.0L1718.9,1313.9L1720.8,1317.6L1722.8,1321.1L1724.8,1324.4L1726.7,1327.4L1728.7,1330.1L1730.6,1332.6L1732.6,1334.8L1734.6,1336.7L1736.5,1338.3L1738.5,1339.7L1740.5,1340.7L1742.4,1341.4L1744.4,1341.9L1746.3,1342.0L1748.3,1341.8L1750.3,1341.2L1752.2,1340.4L1754.2,1339.2L1756.2,1337.8L1758.1,1336.1L1760.1,1334.1L1762.0,1331.9L1764.0,1329.4L1766.0,1326.7L1767.9,1323.8L1769.9,1320.7L1771.9,1317.3L1773.8,1313.8L1775.8,1310.1L1777.7,1306.3L1779.7,1302.3L1781.7,1298.1L1783.6,1293.9L1785.6,1289.5L1787.5,1285.0L1789.5,1280.4L1791.5,1275.7L1793.4,1270.9L1795.4,1266.1L1797.4,1261.2L1799.3,1256.3L1801.3,1251.4L1803.2,1246.4L1805.2,1241.5L1807.2,1236.5L1809.1,1231.6L1811.1,1226.6L1813.1,1221.8L1815.0,1216.9L1817.0,1212.1L1818.9,1207.4L1820.9,1202.8L1822.9,1198.3L1824.8,1193.8L1826.8,1189.5L1828.8,1185.3L1830.7,1181.1L1832.7,1177.1L1834.6,1173.2L1836.6,1169.5L1838.6,1165.8L1840.5,1162.4L1842.5,1159.0L1844.5,1155.9L1846.4,1152.8L1848.4,1150.0L1850.3,1147.3L1852.3,1144.8L1854.3,1142.5L1856.2,1140.4L1858.2,1138.4L1860.1,1136.7L1862.1,1135.2L1864.1,1133.9L1866.0,1132.9L1868.0,1132.0L1870.0,1131.4L1871.9,1131.0L1873.9,1130.9L1875.8,1131.0L1877.8,1131.4L1879.8,1132.0L1881.7,1132.9L1883.7,1133.9L1885.7,1135.2L1887.6,1136.6L1889.6,1138.2L1891.5,1140.0L1893.5,1142.0L1895.5,1144.1L1897.4,1146.4L1899.4,1148.7L1901.4,1151.2L1903.3,1153.8L1905.3,1156.5L1907.2,1159.3L1909.2,1162.1L1911.2,1165.0L1913.1,1168.0L1915.1,1171.0L1917.1,1174.0L1919.0,1177.1L1921.0,1180.2L1922.9,1183.2L1924.9,1186.3L1926.9,1189.3L1928.8,1192.3L1930.8,1195.2L1932.7,1198.1L1934.7,1200.9L1936.7,1203.7L1938.6,1206.3L1940.6,1208.9L1942.6,1211.3L1944.5,1213.7L1946.5,1215.9L1948.4,1218.1L1950.4,1220.1L1952.4,1222.0L1954.3,1223.9L1956.3,1225.7L1958.3,1227.3L1960.2,1228.9L1962.2,1230.4L1964.1,1231.8L1966.1,1233.1L1968.1,1234.4L1970.0,1235.5L1972.0,1236.6L1974.0,1237.6L1975.9,1238.5L1977.9,1239.4L1979.8,1240.2L1981.8,1240.9L1983.8,1241.5L1985.7,1242.1L1987.7,1242.6L1989.7,1243.1L1991.6,1243.5L1993.6,1243.8L1995.5,1244.1L1997.5,1244.3" stroke="#000" stroke-width="9.4" stroke-linecap="round" stroke-linejoin="round" />
<path d="M1214.6,921.2L1216.6,921.5L1218.5,922.5L1220.5,924.1L1222.4,926.3L1224.4,928.9L1226.4,932.0L1228.3,935.4L1230.3,939.1L1232.3,943.0L1234.2,947.2L1236.2,951.5L1238.1,956.0L1240.1,960.7L1242.1,965.7L1244.0,971.0L1246.0,976.8L1248.0,983.0L1249.9,989.7L1251.9,996.9L1253.8,1004.8L1255.8,1013.3L1257.8,1022.3L1259.7,1032.0L1261.7,1042.0L1263.7,1052.5L1265.6,1063.3L1267.6,1074.4L1269.5,1085.7L1271.5,1097.2L1273.5,1108.7L1275.4,1120.3L1277.4,1132.0L1279.4,1143.7L1281.3,1155.4L1283.3,1167.2L1285.2,1179.0L1287.2,1190.8L1289.2,1202.6L1291.1,1214.3L1293.1,1226.1L1295.0,1237.7L1297.0,1249.1L1299.0,1260.3L1300.9,1271.2L1302.9,1281.7L1304.9,1291.8L1306.8,1301.3L1308.8,1310.3L1310.7,1318.7L1312.7,1326.6L1314.7,1334.0L1316.6,1340.9L1318.6,1347.3L1320.6,1353.3L1322.5,1358.9L1324.5,1364.0L1326.4,1368.7L1328.4,1373.0L1330.4,1377.0L1332.3,1380.5L1334.3,1383.8L1336.3,1386.7L1338.2,1389.3L1340.2,1391.7L1342.1,1393.7L1344.1,1395.5L1346.1,1397.1L1348.0,1398.4L1350.0,1399.5L1352.0,1400.4L1353.9,1401.0L1355.9,1401.4L1357.8,1401.6L1359.8,1401.6L1361.8,1401.4L1363.7,1400.9L1365.7,1400.3L1367.6,1399.4L1369.6,1398.4L1371.6,1397.1L1373.5,1395.7L1375.5,1394.1L1377.5,1392.3L1379.4,1390.4L1381.4,1388.3L1383.3,1386.1L1385.3,1383.8L1387.3,1381.3L1389.2,1378.7L1391.2,1375.9L1393.2,1373.1L1395.1,1370.2L1397.1,1367.1L1399.0,1364.0L1401.0,1360.8L1403.0,1357.6L1404.9,1354.2L1406.9,1350.8L1408.9,1347.4L1410.8,1343.9L1412.8,1340.4L1414.7,1336.9L1416.7,1333.3L1418.7,1329.8L1420.6,1326.2L1422.6,1322.6L1424.6,1319.1L1426.5,1315.5L1428.5,1312.0L1430.4,1308.5L1432.4,1305.0L1434.4,1301.6L1436.3,1298.3L1438.3,1295.0L1440.2,1291.8L1442.2,1288.6L1444.2,1285.6L1446.1,1282.6L1448.1,1279.6L1450.1,1276.7L1452.0,1273.9L1454.0,1271.1L1455.9,1268.4L1457.9,1265.7L1459.9,1263.1L1461.8,1260.5L1463.8,1258.0L1465.8,1255.4L1467.7,1253.0L1469.7,1250.5L1471.6,1248.1L1473.6,1245.7L1475.6,1243.3L1477.5,1241.0L1479.5,1238.6L1481.5,1236.3L1483.4,1234.0L1485.4,1231.7L1487.3,1229.4L1489.3,1227.1L1491.3,1224.8L1493.2,1222.4L1495.2,1220.1L1497.2,1217.8L1499.1,1215.4L1501.1,1213.1L1503.0,1210.6L1505.0,1208.2L1507.0,1205.7L1508.9,1203.1L1510.9,1200.5L1512.8,1197.8L1514.8,1195.0L1516.8,1192.1L1518.7,1189.1L1520.7,1186.0L1522.7,1182.7L1524.6,1179.4L1526.6,1175.9L1528.5,1172.3L1530.5,1168.5L1532.5,1164.5L1534.4,1160.4L1536.4,1156.1L1538.4,1151.7L1540.3,1147.1L1542.3,1142.5L1544.2,1137.7L1546.2,1132.8L1548.2,1127.9L1550.1,1122.9L1552.1,1117.9L1554.1,1112.8L1556.0,1107.8L1558.0,1102.7L1559.9,1097.7L1561.9,1092.7L1563.9,1087.7L1565.8,1082.8L1567.8,1078.0L1569.8,1073.3L1571.7,1068.7L1573.7,1064.2L1575.6,1059.9L1577.6,1055.7L1579.6,1051.7L1581.5,1047.9L1583.5,1044.3L1585.4,1040.8L1587.4,1037.7L1589.4,1034.7L1591.3,1032.1L1593.3,1029.7L1595.3,1027.6L1597.2,1025.8L1599.2,1024.3L1601.1,1023.2L1603.1,1022.4L1605.1,1022.0L1607.0,1022.0L1609.0,1022.4L1611.0,1023.1L1612.9,1024.2L1614.9,1025.7L1616.8,1027.5L1618.8,1029.6L1620.8,1032.1L1622.7,1034.9L1624.7,1037.9L1626.7,1041.3L1628.6,1045.0L1630.6,1049.0L1632.5,1053.2L1634.5,1057.7L1636.5,1062.4L1638.4,1067.4L1640.4,1072.6L1642.3,1078.0L1644.3,1083.7L1646.3,1089.5L1648.2,1095.5L1650.2,1101.8L1652.2,1108.1L1654.1,1114.7L1656.1,1121.4L1658.0,1128.2L1660.0,1135.2L1662.0,1142.3L1663.9,1149.5L1665.9,1156.8L1667.9,1164.2L1669.8,1171.7L1671.8,1179.2L1673.7,1186.8L1675.7,1194.5L1677.7,1202.2L1679.6,1210.0L1681.6,1217.7L1683.6,1225.4L1685.5,1233.1L1687.5,1240.7L1689.4,1248.3L1691.4,1255.8L1693.4,1263.3L1695.3,1270.6L1697.3,1277.8L1699.3,1284.9L1701.2,1291.8L1703.2,1298.6L1705.1,1305.2L1707.1,1311.6L1709.1,1317.8L1711.0,1323.7L1713.0,1329.4L1714.9,1334.9L1716.9,1340.1L1718.9,1345.0L1720.8,1349.6L1722.8,1353.9L1724.8,1358.0L1726.7,1361.7L1728.7,1365.1L1730.6,1368.2L1732.6,1370.9L1734.6,1373.4L1736.5,1375.6L1738.5,1377.4L1740.5,1378.9L1742.4,1380.1L1744.4,1381.0L1746.3,1381.6L1748.3,1381.8L1750.3,1381.7L1752.2,1381.2L1754.2,1380.5L1756.2,1379.4L1758.1,1377.9L1760.1,1376.1L1762.0,1374.0L1764.0,1371.6L1766.0,1368.8L1767.9,1365.8L1769.9,1362.5L1771.9,1358.9L1773.8,1355.1L1775.8,1351.1L1777.7,1346.9L1779.7,1342.4L1781.7,1337.9L1783.6,1333.1L1785.6,1328.2L1787.5,1323.2L1789.5,1318.1L1791.5,1312.9L1793.4,1307.6L1795.4,1302.3L1797.4,1296.9L1799.3,1291.5L1801.3,1286.1L1803.2,1280.7L1805.2,1275.4L1807.2,1270.0L1809.1,1264.8L1811.1,1259.6L1813.1,1254.5L1815.0,1249.5L1817.0,1244.7L1818.9,1239.9L1820.9,1235.3L1822.9,1230.7L1824.8,1226.2L1826.8,1221.7L1828.8,1217.1L1830.7,1212.5L1832.7,1207.7L1834.6,1202.9L1836.6,1198.0L1838.6,1193.0L1840.5,1188.1L1842.5,1183.3L1844.5,1178.6L1846.4,1174.0L1848.4,1169.8L1850.3,1165.8L1852.3,1162.1L1854.3,1158.7L1856.2,1155.7L1858.2,1152.9L1860.1,1150.4L1862.1,1148.2L1864.1,1146.1L1866.0,1144.3L1868.0,1142.7L1870.0,1141.3L1871.9,1140.0L1873.9,1138.9L1875.8,1138.0L1877.8,1137.3L1879.8,1136.6L1881.7,1136.2L1883.7,1135.8L1885.7,1135.6L1887.6,1135.5L1889.6,1135.5L1891.5,1135.6L1893.5,1135.9L1895.5,1136.2L1897.4,1136.6L1899.4,1137.1L1901.4,1137.6L1903.3,1138.3L1905.3,1138.9L1907.2,1139.7L1909.2,1140.5L1911.2,1141.3L1913.1,1142.1L1915.1,1143.0L1917.1,1143.9L1919.0,1144.8L1921.0,1145.8L1922.9,1146.7L1924.9,1147.7L1926.9,1148.6L1928.8,1149.6L1930.8,1150.6L1932.7,1151.6L1934.7,1152.6L1936.7,1153.6L1938.6,1154.6L1940.6,1155.6L1942.6,1156.5L1944.5,1157.5L1946.5,1158.5L1948.4,1159.5L1950.4,1160.5L1952.4,1161.4L1954.3,1162.4L1956.3,1163.3L1958.3,1164.2L1960.2,1165.1L1962.2,1166.0L1964.1,1166.9L1966.1,1167.7L1968.1,1168.6L1970.0,1169.4L1972.0,1170.1L1974.0,1170.9L1975.9,1171.6L1977.9,1172.3L1979.8,1173.0L1981.8,1173.6L1983.8,1174.2L1985.7,1174.8L1987.7,1175.3L1989.7,1175.8L1991.6,1176.2L1993.6,1176.6L1995.5,1177.0L1997.5,1177.3" stroke="#008000" stroke-width="4" stroke-linecap="round" stroke-linejoin="round" stroke-dasharray="6.2 7.8" />
<path d="M1214.6,921.2L1216.6,921.8L1218.5,923.2L1220.5,925.5L1222.4,928.5L1224.4,932.3L1226.4,936.9L1228.3,942.2L1230.3,948.2L1232.3,955.0L1234.2,962.4L1236.2,970.4L1238.1,979.2L1240.1,988.5L1242.1,998.4L1244.0,1009.0L1246.0,1020.0L1248.0,1031.7L1249.9,1043.9L1251.9,1056.5L1253.8,1069.7L1255.8,1083.3L1257.8,1097.4L1259.7,1111.9L1261.7,1126.9L1263.7,1142.2L1265.6,1157.7L1267.6,1173.4L1269.5,1189.1L1271.5,1204.7L1273.5,1220.0L1275.4,1235.0L1277.4,1249.6L1279.4,1263.9L1281.3,1277.8L1283.3,1291.4L1285.2,1304.6L1287.2,1317.4L1289.2,1329.9L1291.1,1342.1L1293.1,1353.8L1295.0,1365.1L1297.0,1375.9L1299.0,1386.3L1300.9,1396.1L1302.9,1405.4L1304.9,1414.0L1306.8,1422.1L1308.8,1429.4L1310.7,1436.1L1312.7,1442.0L1314.7,1447.2L1316.6,1451.6L1318.6,1455.1L1320.6,1457.8L1322.5,1459.6L1324.5,1460.4L1326.4,1460.2L1328.4,1459.2L1330.4,1457.1L1332.3,1454.3L1334.3,1450.6L1336.3,1446.1L1338.2,1440.9L1340.2,1435.0L1342.1,1428.5L1344.1,1421.4L1346.1,1413.7L1348.0,1405.5L1350.0,1396.9L1352.0,1387.8L1353.9,1378.4L1355.9,1368.6L1357.8,1358.5L1359.8,1348.1L1361.8,1337.3L1363.7,1326.2L1365.7,1314.8L1367.6,1303.1L1369.6,1291.0L1371.6,1278.7L1373.5,1266.0L1375.5,1253.0L1377.5,1239.9L1379.4,1226.5L1381.4,1213.2L1383.3,1199.8L1385.3,1186.7L1387.3,1173.7L1389.2,1161.1L1391.2,1148.8L1393.2,1137.0L1395.1,1125.6L1397.1,1114.6L1399.0,1104.1L1401.0,1094.1L1403.0,1084.6L1404.9,1075.6L1406.9,1067.1L1408.9,1059.2L1410.8,1051.8L1412.8,1045.0L1414.7,1038.7L1416.7,1033.1L1418.7,1028.1L1420.6,1023.8L1422.6,1020.1L1424.6,1017.0L1426.5,1014.7L1428.5,1013.0L1430.4,1012.1L1432.4,1011.9L1434.4,1012.4L1436.3,1013.7L1438.3,1015.6L1440.2,1018.3L1442.2,1021.6L1444.2,1025.5L1446.1,1030.0L1448.1,1035.0L1450.1,1040.7L1452.0,1046.8L1454.0,1053.5L1455.9,1060.7L1457.9,1068.3L1459.9,1076.4L1461.8,1084.8L1463.8,1093.7L1465.8,1102.9L1467.7,1112.5L1469.7,1122.4L1471.6,1132.5L1473.6,1143.0L1475.6,1153.6L1477.5,1164.4L1479.5,1175.3L1481.5,1186.4L1483.4,1197.5L1485.4,1208.7L1487.3,1219.8L1489.3,1231.0L1491.3,1242.0L1493.2,1252.9L1495.2,1263.7L1497.2,1274.2L1499.1,1284.5L1501.1,1294.5L1503.0,1304.2L1505.0,1313.4L1507.0,1322.3L1508.9,1330.7L1510.9,1338.6L1512.8,1346.0L1514.8,1352.8L1516.8,1358.9L1518.7,1364.5L1520.7,1369.4L1522.7,1373.7L1524.6,1377.4L1526.6,1380.4L1528.5,1382.9L1530.5,1384.8L1532.5,1386.1L1534.4,1386.8L1536.4,1387.0L1538.4,1386.5L1540.3,1385.5L1542.3,1383.9L1544.2,1381.8L1546.2,1379.0L1548.2,1375.8L1550.1,1372.0L1552.1,1367.6L1554.1,1362.7L1556.0,1357.3L1558.0,1351.4L1559.9,1345.0L1561.9,1338.2L1563.9,1331.0L1565.8,1323.4L1567.8,1315.5L1569.8,1307.2L1571.7,1298.6L1573.7,1289.8L1575.6,1280.7L1577.6,1271.3L1579.6,1261.8L1581.5,1252.1L1583.5,1242.3L1585.4,1232.3L1587.4,1222.3L1589.4,1212.2L1591.3,1202.0L1593.3,1191.8L1595.3,1181.7L1597.2,1171.6L1599.2,1161.7L1601.1,1151.8L1603.1,1142.1L1605.1,1132.7L1607.0,1123.4L1609.0,1114.4L1611.0,1105.7L1612.9,1097.3L1614.9,1089.3L1616.8,1081.7L1618.8,1074.5L1620.8,1067.8L1622.7,1061.6L1624.7,1055.9L1626.7,1050.8L1628.6,1046.3L1630.6,1042.3L1632.5,1039.0L1634.5,1036.2L1636.5,1034.0L1638.4,1032.5L1640.4,1031.5L1642.3,1031.2L1644.3,1031.5L1646.3,1032.5L1648.2,1034.0L1650.2,1036.1L1652.2,1038.7L1654.1,1041.9L1656.1,1045.5L1658.0,1049.7L1660.0,1054.3L1662.0,1059.4L1663.9,1064.9L1665.9,1070.8L1667.9,1077.0L1669.8,1083.7L1671.8,1090.7L1673.7,1098.0L1675.7,1105.7L1677.7,1113.6L1679.6,1121.8L1681.6,1130.2L1683.6,1138.9L1685.5,1147.7L1687.5,1156.7L1689.4,1165.9L1691.4,1175.1L1693.4,1184.3L1695.3,1193.6L1697.3,1202.9L1699.3,1212.1L1701.2,1221.2L1703.2,1230.2L1705.1,1239.1L1707.1,1247.7L1709.1,1256.2L1711.0,1264.4L1713.0,1272.3L1714.9,1280.0L1716.9,1287.5L1718.9,1294.8L1720.8,1302.1L1722.8,1309.1L1724.8,1316.0L1726.7,1322.5L1728.7,1328.7L1730.6,1334.4L1732.6,1339.7L1734.6,1344.5L1736.5,1348.6L1738.5,1352.2L1740.5,1355.0L1742.4,1357.2L1744.4,1358.8L1746.3,1359.8L1748.3,1360.2L1750.3,1360.0L1752.2,1359.3L1754.2,1358.0L1756.2,1356.3L1758.1,1354.0L1760.1,1351.3L1762.0,1348.1L1764.0,1344.4L1766.0,1340.4L1767.9,1335.9L1769.9,1331.1L1771.9,1325.9L1773.8,1320.4L1775.8,1314.6L1777.7,1308.4L1779.7,1302.0L1781.7,1295.2L1783.6,1288.3L1785.6,1281.1L1787.5,1273.7L1789.5,1266.1L1791.5,1258.4L1793.4,1250.5L1795.4,1242.4L1797.4,1234.3L1799.3,1226.0L1801.3,1217.7L1803.2,1209.3L1805.2,1200.9L1807.2,1192.5L1809.1,1184.1L1811.1,1175.7L1813.1,1167.5L1815.0,1159.3L1817.0,1151.3L1818.9,1143.5L1820.9,1135.9L1822.9,1128.6L1824.8,1121.5L1826.8,1114.7L1828.8,1108.3L1830.7,1102.2L1832.7,1096.5L1834.6,1091.3L1836.6,1086.5L1838.6,1082.2L1840.5,1078.4L1842.5,1075.2L1844.5,1072.5L1846.4,1070.4L1848.4,1068.7L1850.3,1067.6L1852.3,1066.9L1854.3,1066.8L1856.2,1067.0L1858.2,1067.8L1860.1,1069.0L1862.1,1070.6L1864.1,1072.6L1866.0,1075.0L1868.0,1077.9L1870.0,1081.1L1871.9,1084.6L1873.9,1088.6L1875.8,1092.8L1877.8,1097.4L1879.8,1102.3L1881.7,1107.5L1883.7,1113.0L1885.7,1118.8L1887.6,1124.8L1889.6,1131.1L1891.5,1137.7L1893.5,1144.4L1895.5,1151.4L1897.4,1158.6L1899.4,1166.0L1901.4,1173.5L1903.3,1181.2L1905.3,1188.9L1907.2,1196.7L1909.2,1204.6L1911.2,1212.4L1913.1,1220.2L1915.1,1228.0L1917.1,1235.6L1919.0,1243.2L1921.0,1250.6L1922.9,1257.8L1924.9,1264.8L1926.9,1271.5L1928.8,1278.0L1930.8,1284.3L1932.7,1290.2L1934.7,1295.9L1936.7,1301.4L1938.6,1306.5L1940.6,1311.3L1942.6,1315.9L1944.5,1320.1L1946.5,1324.0L1948.4,1327.5L1950.4,1330.8L1952.4,1333.7L1954.3,1336.2L1956.3,1338.4L1958.3,1340.2L1960.2,1341.6L1962.2,1342.7L1964.1,1343.4L1966.1,1343.6L1968.1,1343.5L1970.0,1343.0L1972.0,1342.1L1974.0,1340.8L1975.9,1339.2L1977.9,1337.3L1979.8,1335.2L1981.8,1332.8L1983.8,1330.2L1985.7,1327.5L1987.7,1324.6L1989.7,1321.6L1991.6,1318.5L1993.6,1315.4L1995.5,1312.2L1997.5,1309.1" stroke="#0000ff" stroke-width="4" stroke-linecap="round" stroke-linejoin="round" stroke-dasharray="23 13"/>
<path d="M1214.6,921.2L1216.6,921.0L1218.5,921.2L1220.5,921.8L1222.4,922.7L1224.4,924.0L1226.4,925.6L1228.3,927.7L1230.3,930.1L1232.3,932.9L1234.2,936.1L1236.2,939.8L1238.1,943.8L1240.1,948.3L1242.1,953.2L1244.0,958.6L1246.0,964.4L1248.0,970.6L1249.9,977.3L1251.9,984.5L1253.8,992.1L1255.8,1000.2L1257.8,1008.7L1259.7,1017.6L1261.7,1026.9L1263.7,1036.5L1265.6,1046.4L1267.6,1056.5L1269.5,1066.9L1271.5,1077.5L1273.5,1088.2L1275.4,1099.1L1277.4,1110.2L1279.4,1121.3L1281.3,1132.4L1283.3,1143.6L1285.2,1154.8L1287.2,1165.9L1289.2,1177.0L1291.1,1187.9L1293.1,1198.8L1295.0,1209.5L1297.0,1220.0L1299.0,1230.4L1300.9,1240.6L1302.9,1250.5L1304.9,1260.2L1306.8,1269.7L1308.8,1278.8L1310.7,1287.7L1312.7,1296.3L1314.7,1304.5L1316.6,1312.4L1318.6,1319.9L1320.6,1327.0L1322.5,1333.7L1324.5,1340.1L1326.4,1346.1L1328.4,1351.8L1330.4,1357.1L1332.3,1362.1L1334.3,1366.8L1336.3,1371.1L1338.2,1375.2L1340.2,1379.0L1342.1,1382.4L1344.1,1385.6L1346.1,1388.5L1348.0,1391.2L1350.0,1393.6L1352.0,1395.8L1353.9,1397.7L1355.9,1399.4L1357.8,1400.8L1359.8,1402.1L1361.8,1403.2L1363.7,1404.0L1365.7,1404.7L1367.6,1405.2L1369.6,1405.5L1371.6,1405.7L1373.5,1405.7L1375.5,1405.6L1377.5,1405.3L1379.4,1404.9L1381.4,1404.4L1383.3,1403.7L1385.3,1403.0L1387.3,1402.1L1389.2,1401.0L1391.2,1399.9L1393.2,1398.6L1395.1,1397.3L1397.1,1395.8L1399.0,1394.2L1401.0,1392.6L1403.0,1390.8L1404.9,1388.9L1406.9,1387.0L1408.9,1385.0L1410.8,1382.8L1412.8,1380.7L1414.7,1378.4L1416.7,1376.0L1418.7,1373.6L1420.6,1371.2L1422.6,1368.6L1424.6,1366.0L1426.5,1363.4L1428.5,1360.7L1430.4,1357.9L1432.4,1355.1L1434.4,1352.3L1436.3,1349.4L1438.3,1346.5L1440.2,1343.5L1442.2,1340.5L1444.2,1337.5L1446.1,1334.5L1448.1,1331.5L1450.1,1328.4L1452.0,1325.3L1454.0,1322.2L1455.9,1319.1L1457.9,1316.0L1459.9,1312.8L1461.8,1309.6L1463.8,1306.3L1465.8,1303.1L1467.7,1299.7L1469.7,1296.4L1471.6,1292.9L1473.6,1289.5L1475.6,1286.0L1477.5,1282.4L1479.5,1278.7L1481.5,1275.0L1483.4,1271.3L1485.4,1267.4L1487.3,1263.5L1489.3,1259.5L1491.3,1255.4L1493.2,1251.3L1495.2,1247.0L1497.2,1242.7L1499.1,1238.3L1501.1,1233.8L1503.0,1229.2L1505.0,1224.4L1507.0,1219.6L1508.9,1214.7L1510.9,1209.7L1512.8,1204.5L1514.8,1199.3L1516.8,1193.9L1518.7,1188.4L1520.7,1182.8L1522.7,1177.1L1524.6,1171.2L1526.6,1165.2L1528.5,1159.1L1530.5,1152.9L1532.5,1146.6L1534.4,1140.1L1536.4,1133.5L1538.4,1126.7L1540.3,1120.0L1542.3,1113.1L1544.2,1106.2L1546.2,1099.3L1548.2,1092.4L1550.1,1085.5L1552.1,1078.6L1554.1,1071.8L1556.0,1065.0L1558.0,1058.4L1559.9,1051.8L1561.9,1045.4L1563.9,1039.1L1565.8,1033.1L1567.8,1027.1L1569.8,1021.5L1571.7,1016.0L1573.7,1010.8L1575.6,1005.8L1577.6,1001.1L1579.6,996.8L1581.5,992.7L1583.5,989.0L1585.4,985.7L1587.4,982.7L1589.4,980.2L1591.3,978.0L1593.3,976.2L1595.3,974.8L1597.2,973.8L1599.2,973.1L1601.1,972.8L1603.1,972.8L1605.1,973.1L1607.0,973.7L1609.0,974.7L1611.0,975.9L1612.9,977.4L1614.9,979.2L1616.8,981.3L1618.8,983.6L1620.8,986.2L1622.7,989.0L1624.7,992.1L1626.7,995.3L1628.6,998.8L1630.6,1002.5L1632.5,1006.4L1634.5,1010.6L1636.5,1014.9L1638.4,1019.5L1640.4,1024.4L1642.3,1029.5L1644.3,1034.8L1646.3,1040.4L1648.2,1046.2L1650.2,1052.3L1652.2,1058.6L1654.1,1065.2L1656.1,1072.1L1658.0,1079.2L1660.0,1086.6L1662.0,1094.3L1663.9,1102.2L1665.9,1110.4L1667.9,1118.9L1669.8,1127.7L1671.8,1136.7L1673.7,1145.9L1675.7,1155.4L1677.7,1165.2L1679.6,1175.2L1681.6,1185.4L1683.6,1195.8L1685.5,1206.1L1687.5,1216.2L1689.4,1226.0L1691.4,1235.5L1693.4,1244.6L1695.3,1253.4L1697.3,1261.8L1699.3,1269.9L1701.2,1277.8L1703.2,1285.3L1705.1,1292.5L1707.1,1299.3L1709.1,1305.9L1711.0,1312.2L1713.0,1318.2L1714.9,1323.9L1716.9,1329.3L1718.9,1334.5L1720.8,1339.3L1722.8,1343.9L1724.8,1348.3L1726.7,1352.3L1728.7,1356.1L1730.6,1359.7L1732.6,1363.0L1734.6,1366.0L1736.5,1368.8L1738.5,1371.4L1740.5,1373.7L1742.4,1375.8L1744.4,1377.7L1746.3,1379.4L1748.3,1380.8L1750.3,1382.1L1752.2,1383.1L1754.2,1383.9L1756.2,1384.6L1758.1,1385.0L1760.1,1385.3L1762.0,1385.4L1764.0,1385.3L1766.0,1385.1L1767.9,1384.7L1769.9,1384.2L1771.9,1383.5L1773.8,1382.7L1775.8,1381.8L1777.7,1380.7L1779.7,1379.5L1781.7,1378.2L1783.6,1376.8L1785.6,1375.3L1787.5,1373.7L1789.5,1372.0L1791.5,1370.3L1793.4,1368.4L1795.4,1366.5L1797.4,1364.5L1799.3,1362.5L1801.3,1360.4L1803.2,1358.2L1805.2,1356.1L1807.2,1353.8L1809.1,1351.6L1811.1,1349.2L1813.1,1346.9L1815.0,1344.5L1817.0,1342.1L1818.9,1339.6L1820.9,1337.1L1822.9,1334.5L1824.8,1331.9L1826.8,1329.3L1828.8,1326.6L1830.7,1323.9L1832.7,1321.2L1834.6,1318.4L1836.6,1315.6L1838.6,1312.7L1840.5,1309.8L1842.5,1306.8L1844.5,1303.8L1846.4,1300.8L1848.4,1297.8L1850.3,1294.7L1852.3,1291.5L1854.3,1288.3L1856.2,1285.1L1858.2,1281.9L1860.1,1278.6L1862.1,1275.2L1864.1,1271.9L1866.0,1268.5L1868.0,1265.0L1870.0,1261.6L1871.9,1258.0L1873.9,1254.5L1875.8,1250.9L1877.8,1247.3L1879.8,1243.6L1881.7,1239.9L1883.7,1236.2L1885.7,1232.3L1887.6,1228.5L1889.6,1224.5L1891.5,1220.5L1893.5,1216.3L1895.5,1212.1L1897.4,1207.8L1899.4,1203.3L1901.4,1198.7L1903.3,1194.0L1905.3,1189.2L1907.2,1184.2L1909.2,1179.1L1911.2,1173.8L1913.1,1168.5L1915.1,1163.1L1917.1,1157.6L1919.0,1152.1L1921.0,1146.7L1922.9,1141.2L1924.9,1135.8L1926.9,1130.4L1928.8,1125.1L1930.8,1119.9L1932.7,1114.8L1934.7,1109.7L1936.7,1104.8L1938.6,1099.9L1940.6,1095.1L1942.6,1090.4L1944.5,1085.8L1946.5,1081.3L1948.4,1077.0L1950.4,1072.7L1952.4,1068.6L1954.3,1064.6L1956.3,1060.8L1958.3,1057.0L1960.2,1053.5L1962.2,1050.0L1964.1,1046.7L1966.1,1043.6L1968.1,1040.7L1970.0,1037.8L1972.0,1035.2L1974.0,1032.8L1975.9,1030.5L1977.9,1028.4L1979.8,1026.5L1981.8,1024.8L1983.8,1023.2L1985.7,1021.9L1987.7,1020.7L1989.7,1019.7L1991.6,1018.8L1993.6,1018.0L1995.5,1017.3L1997.5,1016.7" stroke="#ff66ff" stroke-width="4" stroke-linecap="butt" stroke-linejoin="round" />
</g>
<rect x="1214.6" y="921.2" width="782.9000000000001" height="575.0" fill="none" stroke="#000" stroke-width="2.2"/>
<line x1="1345.08" y1="1496.20" x2="1345.08" y2="1489.70" stroke="#000" stroke-width="2" />
<line x1="1345.08" y1="921.20" x2="1345.08" y2="927.70" stroke="#000" stroke-width="2" />
<line x1="1475.57" y1="1496.20" x2="1475.57" y2="1489.70" stroke="#000" stroke-width="2" />
<line x1="1475.57" y1="921.20" x2="1475.57" y2="927.70" stroke="#000" stroke-width="2" />
<line x1="1606.05" y1="1496.20" x2="1606.05" y2="1489.70" stroke="#000" stroke-width="2" />
<line x1="1606.05" y1="921.20" x2="1606.05" y2="927.70" stroke="#000" stroke-width="2" />
<line x1="1736.53" y1="1496.20" x2="1736.53" y2="1489.70" stroke="#000" stroke-width="2" />
<line x1="1736.53" y1="921.20" x2="1736.53" y2="927.70" stroke="#000" stroke-width="2" />
<line x1="1867.02" y1="1496.20" x2="1867.02" y2="1489.70" stroke="#000" stroke-width="2" />
<line x1="1867.02" y1="921.20" x2="1867.02" y2="927.70" stroke="#000" stroke-width="2" />
<line x1="1214.60" y1="1352.45" x2="1222.10" y2="1352.45" stroke="#000" stroke-width="2" />
<line x1="1997.50" y1="1352.45" x2="1990.00" y2="1352.45" stroke="#000" stroke-width="2" />
<line x1="1214.60" y1="1208.70" x2="1222.10" y2="1208.70" stroke="#000" stroke-width="2" />
<line x1="1997.50" y1="1208.70" x2="1990.00" y2="1208.70" stroke="#000" stroke-width="2" />
<line x1="1214.60" y1="1064.95" x2="1222.10" y2="1064.95" stroke="#000" stroke-width="2" />
<line x1="1997.50" y1="1064.95" x2="1990.00" y2="1064.95" stroke="#000" stroke-width="2" />
<text x="1210.6" y="1538.9" font-family='"Liberation Sans", Arial, Helvetica, sans-serif' font-size="28" text-anchor="middle" >0.0</text>
<text x="1341.1" y="1538.9" font-family='"Liberation Sans", Arial, Helvetica, sans-serif' font-size="28" text-anchor="middle" >0.5</text>
<text x="1471.6" y="1538.9" font-family='"Liberation Sans", Arial, Helvetica, sans-serif' font-size="28" text-anchor="middle" >1.0</text>
<text x="1602.0" y="1538.9" font-family='"Liberation Sans", Arial, Helvetica, sans-serif' font-size="28" text-anchor="middle" >1.5</text>
<text x="1732.5" y="1538.9" font-family='"Liberation Sans", Arial, Helvetica, sans-serif' font-size="28" text-anchor="middle" >2.0</text>
<text x="1863.0" y="1538.9" font-family='"Liberation Sans", Arial, Helvetica, sans-serif' font-size="28" text-anchor="middle" >2.5</text>
<text x="1993.5" y="1538.9" font-family='"Liberation Sans", Arial, Helvetica, sans-serif' font-size="28" text-anchor="middle" >3.0</text>
<text x="1165" y="1505.2" font-family='"Liberation Sans", Arial, Helvetica, sans-serif' font-size="28" text-anchor="middle" >-1.0</text>
<text x="1165" y="1361.5" font-family='"Liberation Sans", Arial, Helvetica, sans-serif' font-size="28" text-anchor="middle" >-0.5</text>
<text x="1165" y="1217.7" font-family='"Liberation Sans", Arial, Helvetica, sans-serif' font-size="28" text-anchor="middle" >0.0</text>
<text x="1165" y="1074.0" font-family='"Liberation Sans", Arial, Helvetica, sans-serif' font-size="28" text-anchor="middle" >0.5</text>
<text x="1165" y="930.2" font-family='"Liberation Sans", Arial, Helvetica, sans-serif' font-size="28" text-anchor="middle" >1.0</text>
<text x="1548" y="1578.6" font-family='"Liberation Serif", "Times New Roman", Times, serif' font-size="40">Δ<tspan font-style="italic">t</tspan><tspan dx="4.8">/</tspan><tspan font-style="italic">T</tspan><tspan font-size="26" dy="8.8">0</tspan><tspan dy="-8.8" dx="9.2">(–)</tspan></text>
<text transform="translate(1112.3,1267.5) rotate(-90)" font-family='"Liberation Serif", "Times New Roman", Times, serif' font-size="40"><tspan font-style="italic">R</tspan><tspan font-size="26" dy="8.8">u0u0</tspan><tspan dy="-8.8" dx="12.4">(–)</tspan></text>
<line x1="1487.3" y1="1420.1" x2="1555.2" y2="1420.1" stroke="#000" stroke-width="10" stroke-linecap="round"/>
<line x1="1486.1999999999998" y1="1447.4" x2="1557.6" y2="1447.4" stroke="#008000" stroke-width="4" stroke-dasharray="6.2 7.94" stroke-linecap="round"/>
<line x1="1732.8" y1="1420.1" x2="1789.7" y2="1420.1" stroke="#0000ff" stroke-width="4" stroke-dasharray="21.3 14.4" stroke-linecap="round"/>
<line x1="1732.8" y1="1447.4" x2="1801.9" y2="1447.4" stroke="#ff66ff" stroke-width="4" stroke-linecap="round"/>
<text x="1567.2" y="1421.3" font-family='"Liberation Sans", Arial, Helvetica, sans-serif' font-size="28" text-anchor="start" >Average</text>
<text x="1568.2" y="1456.8" font-family='"Liberation Serif", "Times New Roman", Times, serif' font-size="30"><tspan font-style="italic">T</tspan><tspan font-size="20" dy="6.6">d12</tspan><tspan dy="-6.6" dx="3.0">/</tspan><tspan font-style="italic">T</tspan><tspan font-size="20" dy="6.6">0</tspan><tspan dy="-6.6"> = 1.5</tspan></text>
<text x="1813.5" y="1422.9" font-family='"Liberation Serif", "Times New Roman", Times, serif' font-size="30"><tspan font-style="italic">T</tspan><tspan font-size="20" dy="6.6">d12</tspan><tspan dy="-6.6" dx="3.0">/</tspan><tspan font-style="italic">T</tspan><tspan font-size="20" dy="6.6">0</tspan><tspan dy="-6.6"> = 0.7</tspan></text>
<text x="1813.5" y="1456.8" font-family='"Liberation Serif", "Times New Roman", Times, serif' font-size="30"><tspan font-style="italic">T</tspan><tspan font-size="20" dy="6.6">d12</tspan><tspan dy="-6.6" dx="3.0">/</tspan><tspan font-style="italic">T</tspan><tspan font-size="20" dy="6.6">0</tspan><tspan dy="-6.6"> = 3.0</tspan></text>
<text x="1588" y="1653.6" font-family='"Liberation Serif", "Times New Roman", Times, serif' font-size="49.5" text-anchor="middle" >(b.2)</text>
</svg>
</body></html>
